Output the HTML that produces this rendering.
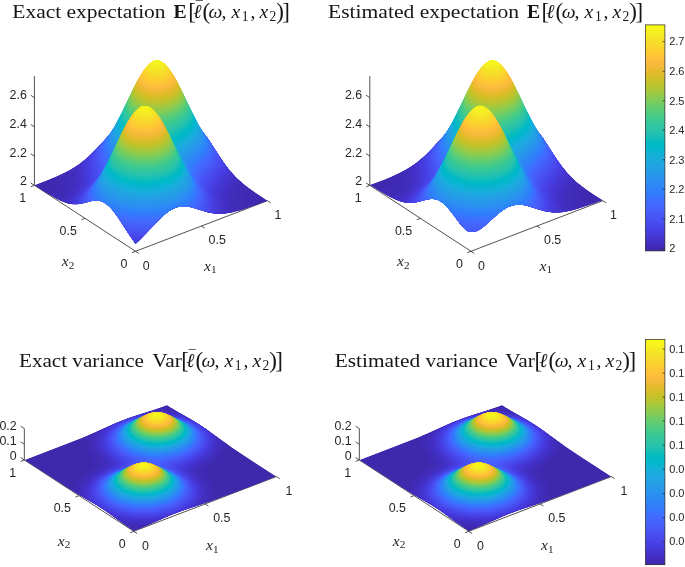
<!DOCTYPE html><html><head><meta charset="utf-8"><title>Expectation and variance surfaces</title><style>html,body{margin:0;padding:0;background:#fff}svg{display:block}</style></head><body><svg width="685" height="567" viewBox="0 0 685 567"><line x1="135.60" y1="251.30" x2="267.46" y2="200.71" stroke="#262626" stroke-width="0.80"/><line x1="135.60" y1="251.30" x2="34.42" y2="185.37" stroke="#262626" stroke-width="0.80"/><line x1="34.42" y1="185.37" x2="34.42" y2="76.17" stroke="#262626" stroke-width="0.80"/><line x1="135.60" y1="251.30" x2="138.87" y2="253.43" stroke="#262626" stroke-width="0.80"/><line x1="135.60" y1="251.30" x2="131.96" y2="252.70" stroke="#262626" stroke-width="0.80"/><line x1="201.53" y1="226.01" x2="204.80" y2="228.14" stroke="#262626" stroke-width="0.80"/><line x1="85.01" y1="218.34" x2="81.37" y2="219.73" stroke="#262626" stroke-width="0.80"/><line x1="267.46" y1="200.71" x2="270.72" y2="202.84" stroke="#262626" stroke-width="0.80"/><line x1="34.42" y1="185.37" x2="30.78" y2="186.77" stroke="#262626" stroke-width="0.80"/><line x1="34.42" y1="185.37" x2="30.74" y2="182.97" stroke="#262626" stroke-width="0.80"/><line x1="34.42" y1="156.14" x2="30.74" y2="153.73" stroke="#262626" stroke-width="0.80"/><line x1="34.42" y1="126.90" x2="30.74" y2="124.50" stroke="#262626" stroke-width="0.80"/><line x1="34.42" y1="97.66" x2="30.74" y2="95.26" stroke="#262626" stroke-width="0.80"/><clipPath id="c1"><path transform="scale(.1)" d="M1912 1102l-95-200-25-49-22-42-24-43-21-35-22-33-19-26-15-16-9-10-16-15-12-9-13-8-16-8-8-3-12-2-9-1-12 0-9 2-10 2-8 3-9 4-17 10-12 9-18 17-17 18-19 25-13 18-16 24-16 27-29 51-30 59-32 66-73 153-44 88-20 38-21 38-16 28-18 28-25 37-20 26-105 114-33 33-27 27-33 30-28 24-27 22-33 24-28 18-33 20-33 19-33 17-38 19-39 18-93 39-143 56 72 46 55 35 46 27 38 22 34 17 33 15 30 11 25 8 26 5 25 4 25 0 25-1 22-3 25-5 67-17 26-6 21-3 21-2 21 1 21 4 21 7 21 11 13 8 12 9 13 11 13 11 25 28 25 31 21 29 26 38 80 124 29 45 27 38 28 39 37-34 34-35 39-40 104-112 33-34 28-26 33-27 16-13 17-11 16-10 17-9 16-7 17-6 11-4 16-4 11-1 16-2 28-1 27 2 28 5 27 7 33 9 88 28 33 9 28 6 33 5 33 3 33 0 33-1 32-4 39-6 44-11 44-12 49-15 61-21 71-26 94-35-85-56-59-40-50-37-43-32-37-32-34-31-34-35-34-38-33-42-38-53-38-56-68-105-25-39-21-30-34-46-17-26-26-42-25-45-28-54z"/></clipPath><g clip-path="url(#c1)"><g transform="scale(.1)" fill-rule="evenodd"><path fill="#3e27ab" d="M1356 2440l33-31 38-38 39-40 104-112 33-34 28-26 33-27 33-24 33-19 16-7 17-6 27-8 27-3 28-1 27 2 28 5 27 7 121 37 33 9 28 6 33 5 33 3 33 0 33-1 32-4 39-6 44-11 44-12 49-15 61-21 165-61-127-85-46-32-38-28-34-27-34-29-29-27-25-26-26-27-25-30-25-32-26-35-46-68-93-144-25-36-21-29-25-31-26-26-25-22-21-14-21-11-21-7-21-3-26-1-21 2-21 4-80 20-29 6-30 4-25 1-33-5-39-8-38-11-104-32-28-7-27-5-33-3-28 0-27 4-28 7-27 11-33 18-33 23-33 27-28 25-33 33-120 130-61 61-33 30-33 29-33 26-33 23-33 22-38 23-44 24-44 21-50 22-60 26-165 65 127 81 46 27 38 22 34 17 33 15 30 11 25 8 26 5 25 4 25 0 25-1 22-3 25-5 93-23 21-3 21-2 21 1 21 4 21 7 21 11 25 17 26 22 25 28 25 31 21 29 26 38 109 169 30 43z"/><path fill="#3f29b1" d="M1356 2440l33-31 38-38 39-40 104-112 33-34 28-26 33-27 33-24 33-19 16-7 17-6 27-8 27-3 28-1 27 2 28 5 27 7 121 37 33 9 28 6 33 5 33 3 33 0 33-1 32-4 39-6 44-11 44-12 49-15 61-21 165-61-127-85-46-32-38-28-34-27-34-29-29-27-25-26-26-27-25-30-25-32-26-35-46-68-93-144-25-36-21-29-25-31-26-26-25-22-21-14-21-11-21-7-21-3-26-1-21 2-21 4-80 20-29 6-30 4-25 1-33-5-39-8-38-11-104-32-28-7-27-5-33-3-28 0-27 4-28 7-27 11-33 18-33 23-33 27-28 25-33 33-120 130-61 61-33 30-33 29-33 26-33 23-33 22-38 23-44 24-44 21-50 22-60 26-165 65 127 81 46 27 38 22 34 17 33 15 30 11 25 8 26 5 25 4 25 0 25-1 22-3 25-5 93-23 21-3 21-2 21 1 21 4 21 7 21 11 25 17 26 22 25 28 25 31 21 29 26 38 109 169 30 43z"/><path fill="#402bb7" d="M1356 2440l33-31 38-38 39-40 104-112 33-34 28-26 33-27 33-24 33-19 16-7 17-6 27-8 27-3 28-1 33 3 27 5 28 7 110 34 44 12 49 9 28 3 22 1 27 0 28-1 27-3 27-4 33-7 33-8 72-21-2-41 0-23 1-23 5-24 7-20 10-21 12-22 24-39-56-43-46-39-42-41-38-42-38-47-42-58-38-56-89-138-25-36-21-29-30-36-25-25-25-21-26-16-21-9-21-5-21-3-21 0-21 3-21 4-72 18-29 7-30 4-29 1-33-5-39-8-38-11-104-32-28-7-27-5-33-3-28 0-16 2-17 3-27 8-28 12-33 18-33 24-33 28-27 25-33 34-110 118-49 51-50 46-49 42-28 21-27 19-55 35-61 32-72 34 3 41 0 23-1 22-4 20-8 24-10 22-12 22-24 40 56 29 25 12 25 10 21 8 21 6 21 5 21 3 17 1 21 0 38-3 34-7 84-21 21-4 22-2 25 1 21 4 21 7 21 11 25 17 26 22 25 28 25 31 21 29 26 38 109 169 30 43z"/><path fill="#412dbc" d="M1356 2440l33-31 38-38 39-40 104-112 33-34 28-26 33-27 33-24 33-19 16-7 17-6 27-8 27-3 28-1 33 3 27 5 28 7 104 33 44 12 44 8 39 5 44 1 44-2 43-6 49-11-8-97 1-26 4-24 9-25 13-27 58-93-42-36-37-38-38-42-34-42-30-40-29-42-122-188-26-36-21-27-25-29-21-20-25-20-22-13-21-9-21-5-21-3-21 0-21 3-21 4-72 18-29 7-30 4-29 1-33-5-39-8-38-11-104-32-28-7-27-5-33-3-28 0-16 2-17 3-27 8-28 12-33 18-33 24-33 28-27 25-33 34-104 112-44 46-44 42-44 39-39 31-44 31-44 27-48 27 8 98-1 26-4 24-9 25-13 26-58 94 37 15 34 12 34 7 33 4 30 0 34-4 33-7 80-20 21-4 22-2 25 1 21 4 21 7 21 11 25 17 26 22 25 28 25 31 21 29 26 38 109 169 30 43z"/><path fill="#422fc2" d="M1356 2440l33-31 38-38 39-40 104-112 33-34 28-26 33-27 33-24 33-19 16-7 17-6 22-6 27-5 22-1 27 1 28 4 33 7 33 10 104 32 39 9 33 6 38 4 39 1 44-2 42-6-2-39-7-59-2-24 1-23 4-25 8-24 13-26 14-23 38-56 21-37-32-32-34-36-29-35-30-38-25-35-30-44-109-169-26-36-21-28-25-29-25-25-25-20-22-13-21-9-21-5-21-3-21 0-21 3-21 4-72 18-29 7-30 4-29 1-33-5-39-8-38-11-104-32-28-7-27-5-33-3-28 0-16 2-17 3-27 8-28 12-27 15-28 18-33 27-27 25-33 32-137 147-39 39-33 32-38 33-39 31-44 31-42 26 2 39 7 60 1 24 0 26-4 22-8 23-13 26-14 23-38 57-22 37 33 11 34 7 29 4 30 0 25-2 29-5 80-20 26-6 25-3 21-1 21 2 17 4 21 8 17 9 25 17 26 22 25 28 25 31 21 29 26 38 109 169 30 43z"/><path fill="#4331c7" d="M1356 2440l33-31 38-38 39-40 104-112 33-34 28-26 33-27 33-24 33-19 16-7 17-6 22-6 27-5 27-1 28 2 27 4 33 8 127 38 33 9 27 6 39 5 33 2 33 0 38-3 1-22-1-26-10-72-2-24 1-22 4-20 8-23 10-22 14-23 47-68 12-21 13-25-29-32-26-29-25-31-29-40-47-67-101-157-25-36-21-28-26-31-25-25-25-21-26-16-21-9-21-5-21-3-21 0-21 3-21 4-72 18-29 7-30 4-29 1-33-5-39-8-38-11-104-32-28-7-27-5-33-3-28 0-27 4-28 7-27 11-33 18-28 18-33 27-27 25-33 32-132 142-60 60-39 35-33 28-33 25-39 27 0 22 1 25 10 73 1 23 0 23-5 23-7 21-13 25-16 25-42 62-15 25-11 21 30 8 25 4 26 1 29-1 21-2 26-5 97-24 25-4 21-1 21 2 21 4 21 8 17 9 25 17 26 22 25 28 25 31 21 29 26 38 109 169 30 43z"/><path fill="#4433cd" d="M1356 2440l33-31 38-38 39-40 104-112 33-34 28-26 33-27 33-24 33-19 27-11 28-8 27-5 27-1 33 2 28 5 27 7 121 37 55 13 33 6 28 3 33 1 31 0 2-27-1-26-3-25-9-56-2-24 1-22 4-22 7-21 11-21 15-23 37-53 15-24 15-25 12-26-24-27-26-30-46-62-42-63-97-150-25-36-21-28-26-31-25-25-25-21-26-16-21-9-21-5-21-3-21 0-21 3-21 4-72 18-29 7-30 4-29 1-33-5-39-8-38-11-104-32-28-7-27-5-33-3-28 0-27 4-28 7-27 11-33 18-33 23-33 27-28 25-33 33-120 130-55 56-33 31-28 24-33 26-31 24-2 27 1 25 3 26 8 55 2 24 0 23-4 22-7 20-12 23-14 22-37 52-16 24-14 25-12 26 24 5 25 2 21 0 26-1 42-8 93-23 21-3 21-2 25 2 21 4 21 8 21 11 21 15 26 22 25 28 25 31 21 29 26 38 109 169 30 43z"/><path fill="#4535d2" d="M1356 2440l33-31 38-38 39-40 104-112 33-34 28-26 33-27 33-24 33-19 27-11 28-8 27-5 27-1 33 2 28 5 33 8 110 34 49 13 28 6 27 3 28 3 28 0 3-27-1-34-3-25-10-62-2-21 1-20 3-21 7-20 10-21 15-23 41-58 18-28 17-29 11-27-39-47-42-57-42-63-89-138-25-36-21-29-30-36-25-25-25-21-26-16-21-9-21-5-21-3-21 0-21 3-21 4-72 18-29 7-30 4-29 1-33-5-39-8-38-11-104-32-28-7-27-5-33-3-28 0-27 4-28 7-27 11-33 18-33 23-33 27-28 25-33 33-115 124-55 56-55 51-51 41-2 28 0 34 3 25 11 62 2 21-1 19-3 22-7 20-10 21-15 23-41 58-19 28-16 29-11 27 22 3 21 0 21 0 21-3 38-7 84-21 26-4 21-2 25 2 21 4 21 8 21 11 21 15 26 22 25 28 25 31 21 29 26 38 109 169 30 43z"/><path fill="#4538d7" d="M1356 2440l33-31 38-38 39-40 104-112 33-34 28-26 33-27 33-24 33-19 27-11 28-8 16-3 16-2 28-1 33 3 27 5 28 7 110 34 44 12 49 9 46 4 3-28 1-26-4-38-11-61-2-21 0-26 4-24 9-24 13-23 17-24 37-52 24-36 13-25 10-28-35-44-38-53-33-50-89-138-25-36-21-29-30-36-25-25-25-21-26-16-21-9-21-5-21-3-21 0-21 3-21 4-72 18-29 7-30 4-29 1-39-6-38-8-39-11-93-30-27-7-28-5-33-4-27 0-28 3-27 6-17 6-16 7-33 18-33 23-33 27-28 25-33 33-115 124-44 45-49 48-46 38-4 28 0 26 3 38 11 61 3 21 0 27-4 23-10 25-13 23-16 24-38 51-23 36-13 26-10 27 34 1 38-3 34-7 84-21 21-4 22-2 25 1 21 4 25 9 21 11 21 15 26 22 25 28 25 31 21 29 26 38 109 169 30 43z"/><path fill="#463adb" d="M1356 2440l33-31 38-38 39-40 104-112 28-28 27-27 33-28 33-24 33-20 28-12 27-9 17-4 16-2 33-1 33 3 27 5 28 7 104 33 44 12 39 8 42 5 3-17 2-15 1-32-4-37-11-61-3-21-1-26 5-24 3-11 6-13 13-24 17-23 38-51 23-36 16-30 6-16 5-16-32-43-30-42-33-51-85-131-25-36-21-29-30-36-25-25-25-21-26-16-21-9-21-5-21-3-21 0-21 3-21 4-72 18-29 7-30 4-29 1-39-6-38-8-39-11-93-30-27-7-28-5-33-4-27 0-28 3-27 6-17 6-16 7-33 18-33 23-33 27-28 25-33 33-109 118-44 46-39 37-42 38-4 17-2 15 0 32 4 37 11 61 3 21 0 26-4 24-3 11-6 13-14 24-16 23-38 51-24 36-15 30-6 16-5 16 32 0 30-4 33-7 80-20 21-4 22-2 25 1 25 5 25 10 21 12 22 15 25 24 25 28 25 32 43 61 109 169 30 43z"/><path fill="#463ddf" d="M1360 2436l34-32 39-38 137-147 28-28 27-27 33-28 33-24 33-20 28-12 27-9 17-4 16-2 33-1 33 3 27 5 28 7 99 31 38 11 39 9 35 5 4-18 3-15 1-18 0-18-4-37-12-62-4-24 0-24 3-21 8-23 13-24 17-24 43-58 24-35 9-17 8-18 5-15 5-18-27-37-25-36-114-176-25-36-21-29-30-36-25-25-25-21-26-16-21-9-21-5-21-3-21 0-21 3-21 4-72 18-29 7-30 4-26 1-36-5-39-8-38-11-99-31-27-7-28-5-33-4-27 0-28 3-27 6-17 6-16 7-33 18-33 23-33 27-28 25-33 33-109 118-39 40-33 33-35 32-4 18-3 16-1 18 0 17 4 38 12 61 4 25 0 25-4 24-8 20-13 23-16 23-44 58-23 36-9 17-8 17-6 16-5 17 27-1 30-4 29-7 76-19 21-4 22-2 25 1 25 5 25 10 21 12 22 15 21 19 21 23 25 31 21 28 25 37 89 138 42 63 35 47z"/><path fill="#473fe3" d="M1367 2420l10 1 34-33 49-51 116-124 33-33 27-26 33-27 28-19 27-16 28-12 27-9 17-4 16-2 33-1 33 3 27 5 28 7 132 40 33 8 29 6 6-20 3-18 2-19 0-17-2-17-2-21-13-61-4-25-1-25 3-23 4-11 5-13 14-24 17-24 44-57 23-36 11-22 8-17 5-17 5-17-53-75-105-163-42-59-30-36-25-25-25-21-26-16-21-9-21-5-21-3-21 0-21 3-21 4-97 24-25 4-22 2-37-2-45-10-44-12-99-31-27-7-28-5-27-4-28 0-27 2-28 6-16 5-17 7-33 17-33 21-38 32-28 25-27 27-137 147-33 34-35 33-6 20-3 18-2 19 0 17 1 17 3 21 13 61 4 26 1 24-4 23-3 11-6 14-13 23-17 24-44 57-24 36-9 17-8 18-6 18-5 20 23-2 25-4 101-25 21-4 22-2 25 1 21 4 25 9 21 11 21 15 26 22 25 28 25 31 38 54 106 163 51 74z"/><path fill="#4742e6" d="M1383 2405l10 1 18-18 49-51 116-124 33-33 27-26 33-27 28-19 27-16 28-12 27-9 17-4 16-2 33-1 33 3 22 4 27 7 127 38 27 8 30 6 7-20 4-19 2-18 0-22-1-21-4-21-13-62-4-23-1-25 3-21 9-23 12-23 17-24 46-58 13-19 13-21 11-21 7-18 6-19 4-20-44-64-101-157-25-36-21-28-30-35-25-25-25-20-26-15-21-8-21-5-21-2-21 1-17 2-21 4-93 23-39 6-65-4-18-4-50-13-109-34-28-7-27-5-28-3-27 0-28 3-22 5-16 5-17 7-33 17-33 21-38 32-28 25-33 33-126 136-58 58-6 19-4 19-2 19 0 22 1 21 3 20 14 62 4 23 1 26-3 21-9 23-12 22-17 24-49 62-23 36-11 21-8 18-5 19-5 20 24-3 21-4 97-24 21-3 17-2 25 1 21 4 21 7 21 11 25 17 26 22 25 28 25 31 42 60 93 144 48 70z"/><path fill="#4745e9" d="M1397 2391l11 0 3-3 49-51 116-124 33-33 27-26 33-27 28-19 27-16 28-12 27-9 17-4 16-2 27-1 33 2 28 5 27 7 116 35 53 14 7-19 5-20 3-19 1-22-1-21-3-21-16-70-4-19-1-25 2-14 2-11 9-23 14-24 13-18 52-65 13-20 12-20 11-22 7-18 6-20 3-20-41-61-89-138-25-36-25-34-30-35-25-25-25-20-26-15-21-8-21-5-21-2-21 1-17 2-21 4-80 20-41 8-50-4-41-2-53-14-109-34-28-7-27-5-28-3-27 0-28 3-22 5-16 5-17 7-33 17-33 21-33 27-33 30-33 33-115 124-54 55-7 20-5 20-2 18-1 22 1 22 3 20 16 70 3 19 2 26-2 13-2 11-9 23-14 24-14 20-51 63-13 20-11 18-11 22-8 20-6 20-3 20 41-8 84-21 21-4 22-2 25 1 21 4 21 7 21 11 21 14 25 21 26 27 25 31 21 28 25 37 89 138 40 60 41 4z"/><path fill="#4848ec" d="M1411 2377l11 0 44-46 110-118 33-33 27-26 33-27 28-19 27-16 28-12 27-9 17-4 16-2 27-1 33 2 28 5 33 8 104 33 45 12 8-21 6-20 3-23 1-22-1-21-3-21-16-66-5-26-1-23 3-22 8-22 15-25 18-25 49-62 14-19 12-21 11-21 8-22 5-21 3-21-34-52-85-131-25-36-25-34-30-35-25-25-25-20-26-15-21-8-21-5-21-2-21 1-17 2-21 4-76 19-34 7-60-5-56-3-44-12-104-32-28-7-27-5-28-3-22 0-27 2-22 4-17 5-16 6-33 16-33 22-39 30-33 30-33 33-109 118-45 47-9 20-5 21-4 22 0 22 1 22 3 20 16 67 4 25 2 13-1 14-1 13-3 10-8 21-13 22-17 23-51 63-13 20-12 20-11 22-8 22-5 20-3 21 34-7 76-19 21-4 21-2 26 0 21 3 21 6 21 10 25 17 25 21 26 27 25 31 21 28 25 37 85 131 34 51 50 5z"/><path fill="#484bee" d="M1425 2363l11 0 140-150 33-33 33-30 27-23 28-19 27-16 28-12 27-9 28-5 27-2 33 2 27 4 33 8 105 32 36 10 3-5 8-21 6-21 4-21 0-23-1-21-4-25-16-64-5-26-1-23 3-21 4-13 5-10 13-23 18-24 52-64 13-19 15-25 10-22 8-21 4-22 2-21-108-168-29-42-26-34-25-29-25-25-25-20-26-15-17-7-16-4-17-3-21-1-22 1-25 5-76 19-27 6-68-6-73-3-36-10-93-30-27-7-28-5-27-4-28 0-27 2-22 4-17 5-16 6-33 16-33 22-39 30-38 35-39 39-130 140-2 6-9 20-6 22-3 21-1 22 2 21 4 25 16 64 5 26 1 23-3 21-4 13-5 10-13 23-18 24-52 64-13 19-13 21-11 22-8 22-5 22-3 24 28-6 72-18 21-4 21-2 21 0 21 2 22 6 21 9 25 16 25 20 25 26 26 30 25 34 25 37 108 167 62 6z"/><path fill="#484df1" d="M1438 2349l11 0 127-136 33-33 33-30 27-23 28-19 27-16 28-12 22-8 27-5 27-3 28 1 33 4 33 7 33 10 100 31 6-12 8-20 6-22 3-21 1-22-1-21-5-25-17-65-5-26-1-24 4-21 7-21 13-22 19-24 53-66 17-23 12-21 10-22 9-25 4-23 1-22-102-158-30-42-25-33-25-29-25-24-26-19-25-14-17-6-21-5-21-2-21 1-17 2-21 4-89 22-42-5-38-3-40-2-44-1-121-37-33-8-28-5-27-2-22 0-22 2-22 4-17 5-16 6-33 16-33 22-39 30-38 35-44 45-111 120-6 12-8 20-6 22-3 20-1 23 1 21 4 24 17 66 5 26 1 24-3 20-8 21-13 23-17 23-54 66-17 24-12 20-10 23-9 25-4 22-1 22 89-22 21-4 21-2 21 0 21 2 22 6 21 9 21 13 25 20 25 25 26 29 25 34 25 36 102 158 72 7 39 2z"/><path fill="#4850f3" d="M1450 2336l12 0 114-123 33-33 33-30 27-23 28-19 27-16 22-10 28-10 16-4 17-2 27-2 33 2 27 4 33 8 115 35 11-22 8-20 5-20 3-23 0-21-2-21-4-21-17-67-5-20-1-13-1-13 2-13 2-10 7-20 14-24 18-23 54-66 17-24 12-20 12-26 8-24 4-25 0-23-92-143-30-42-25-33-25-29-25-24-26-19-25-14-17-6-21-5-17-2-21 0-21 3-21 4-79 20-45-6-46-4-50-2-46 0-114-36-33-7-27-5-22-1-22 0-22 2-22 4-17 5-16 6-33 16-33 22-39 30-33 30-33 33-114 123-11 22-8 20-5 20-3 23 0 22 2 21 3 20 18 67 5 21 1 12 0 13-1 14-2 9-7 20-14 24-17 23-55 66-17 24-12 20-12 26-8 24-4 26 0 22 79-20 21-4 21-2 21 0 21 2 22 6 16 7 26 15 25 20 25 25 26 29 25 34 25 36 92 142 45 6 39 3 47 3z"/><path fill="#4853f5" d="M1463 2322l11 0 107-115 33-32 33-30 28-22 22-15 27-16 22-10 28-10 27-5 27-3 33 1 33 5 33 8 102 31 15-27 8-21 5-19 3-23 0-22-2-21-4-20-19-67-4-20-2-13 0-13 0-9 3-14 7-20 13-23 19-24 56-66 16-24 15-24 11-27 7-24 4-25-1-24-86-134-26-36-25-33-25-29-25-24-26-19-25-14-17-6-21-5-17-2-21 0-21 3-21 4-69 18-55-8-47-4-51-2-57 0-101-32-33-7-27-5-22-1-22 0-22 2-22 4-17 5-16 6-33 16-33 22-39 30-33 30-33 33-101 110-15 27-8 21-5 19-3 23 0 22 2 21 4 20 19 67 4 20 2 13 0 13-1 9-2 14-7 20-15 24-17 23-56 66-16 24-15 24-12 27-7 24-3 25 0 24 74-19 21-4 22-2 21 1 16 2 22 6 16 7 21 12 26 19 25 24 25 29 26 33 25 36 86 133 47 7 48 4 48 3z"/><path fill="#4756f6" d="M1475 2309l12-1 94-101 33-32 33-30 28-22 22-15 27-16 22-10 28-10 27-5 27-3 33 1 28 4 33 7 33 10 62 19 9-15 9-18 8-21 5-20 3-22 0-22-3-21-3-20-20-67-4-20-2-12-1-13 1-10 2-13 8-21 13-22 19-25 56-66 20-27 12-20 11-27 7-24 4-26-1-26 0-3-73-113-30-42-29-38-25-28-26-23-21-16-25-14-17-6-17-4-17-3-21 0-21 2-21 4-64 16-56-8-60-5-57-3-58 1-89-28-33-7-27-5-22-1-22 0-22 2-22 4-17 5-16 6-33 16-33 22-39 30-27 25-33 32-95 102-11 17-8 16-7 21-5 21-3 21 0 22 2 21 4 20 19 67 5 20 2 13 0 12 0 10-3 13-7 21-7 12-8 12-17 23-56 66-17 23-15 25-12 26-7 27-3 28 1 24 64-16 21-4 22-2 21 1 16 2 17 4 17 7 25 14 22 15 25 24 25 28 25 32 26 36 29 44 51 80 49 7 58 6 57 3z"/><path fill="#4758f8" d="M1487 2295l12 0 55-59 38-40 33-32 28-24 22-17 22-15 22-13 22-11 27-10 28-7 27-3 27 0 28 3 33 7 38 10 55 17 13-20 11-21 8-23 4-19 2-19 0-21-2-21-4-21-20-66-5-20-2-13 0-12 0-11 3-12 7-21 13-22 20-25 38-43 21-26 17-24 12-20 11-26 8-24 3-24 0-26-2-12-38-59-42-63-38-51-25-29-25-24-26-19-25-14-13-5-16-4-13-3-17-1-21 1-25 3-26 6-37 10-58-9-63-7-63-2-70 1-76-24-27-6-22-4-28-3-22 0-22 1-22 4-16 4-17 6-16 7-22 11-33 22-39 30-27 25-33 32-82 89-14 19-10 22-8 23-5 19-1 18 0 22 2 21 4 20 20 67 5 20 2 13 0 12 0 10-3 13-7 21-14 22-16 21-44 51-18 22-17 23-14 25-12 27-4 14-3 15-2 27 3 25 37-10 26-6 25-3 21-1 21 2 21 5 21 9 21 12 22 15 21 19 21 23 21 25 21 29 25 36 63 97 58 9 61 6 56 3z"/><path fill="#475bf9" d="M1499 2282l13-1 47-51 33-34 33-32 28-24 22-17 22-15 22-13 22-11 27-10 28-7 27-3 27 0 28 3 33 7 33 8 48 15 14-20 14-26 7-20 5-19 2-23 0-21-3-21-4-20-20-66-5-21-2-12-1-13 1-10 2-13 8-20 13-23 20-25 38-42 21-26 17-23 12-21 12-26 8-24 3-25 0-25-3-18-62-95-26-36-21-27-29-33-26-23-25-19-25-13-17-5-17-4-17-2-17 0-17 1-21 4-49 12-69-11-71-7-65-2-70 2-42-13-33-10-27-5-28-4-22-2-16 1-22 2-17 3-16 4-17 6-16 7-22 11-33 22-39 30-27 25-28 27-75 80-16 24-12 22-7 20-5 19-2 23 0 22 3 20 4 21 20 65 5 21 3 24-3 21-3 13-5 10-13 23-16 21-45 50-18 23-20 27-14 25-11 28-4 15-2 13-1 27 3 26 37-9 25-5 21-2 21 0 21 2 22 6 21 9 16 10 17 12 21 18 21 22 22 25 21 28 21 30 61 94 67 11 64 6 66 3z"/><path fill="#465efb" d="M1511 2269l13-1 41-44 33-33 33-32 27-23 22-17 17-11 22-13 16-8 28-11 27-8 27-3 28-1 27 2 33 6 33 9 41 12 19-25 7-12 8-18 7-18 5-23 1-18 0-21-3-21-4-20-21-65-5-21-2-13-1-12 1-10 2-13 7-21 14-23 21-25 56-63 17-23 15-24 12-26 7-24 4-22 0-26-2-13-3-14-57-86-21-30-21-27-29-33-26-23-25-19-25-13-13-4-17-4-17-3-16 0-17 1-17 2-48 11-37-7-34-5-40-4-38-3-74-3-35 1-39 2-41-13-27-7-28-5-22-3-22-2-16 1-22 2-17 3-16 4-17 6-16 7-22 11-33 22-39 30-22 20-27 26-69 73-18 25-9 16-7 13-6 19-4 20-2 20 0 22 3 21 5 24 20 60 5 22 3 24-1 11-1 10-4 13-4 10-15 23-18 24-42 47-19 22-19 27-15 25-6 15-6 15-3 14-3 14-1 14 1 17 1 13 4 14 31-8 25-5 22-2 21 1 21 3 17 5 21 9 16 10 17 12 21 18 17 18 21 24 21 27 22 29 56 86 67 12 72 8 69 2 43 0z"/><path fill="#4561fc" d="M1523 2255l14-1 39-41 27-28 28-26 27-23 22-17 17-11 22-13 16-8 22-9 28-8 27-5 27-1 28 2 27 4 33 8 40 11 12-14 11-15 9-17 6-13 7-19 4-19 3-23-1-21-3-21-5-20-21-66-6-24-2-13 0-11 3-20 8-20 14-23 15-19 61-69 20-26 13-21 12-25 8-24 3-24 0-25-2-18-4-15-52-77-38-51-29-33-26-23-25-19-25-13-25-7-26-4-17 0-21 2-21 4-26 6-38-8-38-6-40-5-41-3-40-2-41-1-40 1-41 3-39-12-27-6-28-5-22-2-33 0-16 2-17 3-16 4-17 6-33 15-33 21-38 29-22 20-28 26-61 64-12 14-11 16-9 16-7 13-6 19-5 20-2 22 1 22 3 20 4 21 21 62 6 23 3 23-1 11-1 11-3 9-5 14-13 20-17 23-46 50-21 26-20 27-14 25-7 18-5 14-3 15-2 14 0 17 1 13 2 12 4 15 26-6 26-4 21-2 17 1 21 3 17 5 21 9 16 10 17 12 17 14 17 17 21 24 21 26 21 29 51 77 29 6 39 7 43 6 37 3 40 2 42 1 43-1z"/><path fill="#4564fd" d="M1535 2242l14-1 54-56 44-40 22-18 22-15 22-14 17-9 22-9 27-9 28-5 27-2 27 1 28 4 27 6 38 10 13-14 15-20 9-16 8-17 7-19 4-20 1-20-1-22-3-20-5-20-21-66-6-23-2-12-1-12 1-11 2-10 8-20 15-23 15-19 45-49 19-22 17-23 13-20 12-26 8-23 4-26 0-22-3-21-6-20-42-62-34-46-29-34-25-24-26-19-12-7-17-9-25-7-13-3-17-1-17 0-17 2-37 7-39-8-47-8-51-6-48-3-40-2-37 1-37 1-42 3-27-8-27-6-28-5-22-2-33 0-16 2-17 3-16 4-17 6-16 7-22 11-33 22-39 30-22 20-27 26-54 56-11 15-8 12-9 17-7 13-6 19-4 20-1 20 0 21 4 21 4 20 21 61 6 25 3 21 0 11-1 11-7 20-6 12-8 12-18 22-48 54-22 25-19 28-14 25-6 16-5 16-3 15-2 16 0 13 2 17 4 16 4 12 25-6 21-3 21-1 17 1 21 4 17 5 17 8 16 10 17 12 17 14 17 17 21 24 38 49 46 68 37 9 40 6 42 6 40 4 38 2 45 1 42-1z"/><path fill="#4366fd" d="M1547 2229l15-2 47-47 44-40 38-28 22-14 17-9 22-9 27-9 22-4 27-3 22 0 28 3 27 5 37 10 14-16 15-19 13-20 8-17 6-19 4-20 2-18-1-22-2-20-5-20-24-70-5-21-2-13-1-12 1-10 2-11 3-11 5-10 15-24 16-19 60-65 17-22 16-24 13-25 8-24 4-25 0-21-4-25-8-25-36-53-30-40-29-34-25-24-26-19-12-7-17-9-25-7-13-3-17-1-30 1-31 6-40-9-49-9-43-5-50-5-42-1-49-1-47 2-44 4-41-10-39-6-22-2-16 1-17 1-16 3-17 4-16 5-33 14-33 20-39 29-44 39-60 61-11 13-10 16-8 13-8 17-6 18-5 20-1 23 1 21 2 17 5 20 24 70 5 19 3 21 0 11-2 11-7 20-6 11-7 12-18 22-49 53-22 26-20 28-14 27-6 15-5 16-3 14-1 18 0 15 2 15 4 16 6 17 19-4 21-3 21-1 17 2 17 3 17 5 17 8 16 10 17 12 17 14 17 17 17 19 17 20 21 29 40 58 46 11 39 7 43 5 45 4 47 3 44 0 42-1z"/><path fill="#4269fe" d="M1559 2215l16-2 45-44 22-19 22-18 22-17 16-10 22-13 17-8 22-8 22-6 22-4 21-2 22 0 22 2 28 5 28 7 20-20 15-19 15-24 6-13 5-14 4-13 3-15 1-26-2-25-6-25-7-23-17-49-6-21-3-12 0-12 0-11 2-10 4-13 5-10 13-20 20-23 42-45 22-25 20-27 14-25 12-26 4-15 2-15 1-16 0-13-2-12-3-16-10-26-18-26-33-46-17-21-17-19-25-24-26-19-21-12-25-9-21-5-21-1-21 1-26 4-55-13-47-8-52-7-52-4-48-1-48 1-40 2-45 4-28-6-22-4-22-3-22-1-33 3-28 6-27 9-33 16-28 18-33 25-38 34-56 56-21 26-15 24-9 23-5 23-2 22 0 22 4 21 5 20 23 67 6 21 2 13 1 12-2 19-3 10-4 11-7 12-8 12-19 22-46 49-19 22-20 27-14 25-12 26-4 15-2 15-2 16 1 13 1 12 4 16 10 26 22-3 21-2 17 1 16 2 17 4 17 7 17 9 17 11 13 9 16 15 30 32 34 43 34 49 41 10 45 9 50 7 46 4 51 3 44 0 42-2z"/><path fill="#406cfe" d="M1572 2202l17-3 42-40 33-27 22-17 16-10 33-18 17-7 22-8 22-5 21-2 22-1 22 1 28 4 26 5 25-24 18-23 15-24 6-14 5-14 5-25 1-27-2-25-6-24-8-23-17-46-6-24-3-22 0-11 2-11 7-19 6-11 8-12 16-19 50-53 22-25 17-23 15-25 6-13 6-15 4-14 2-15 2-13-1-14-2-16-2-12-7-19-8-16-40-56-17-21-17-19-25-24-26-19-21-12-25-9-17-4-21-2-21 1-20 2-50-13-56-10-54-8-59-4-46-1-51 1-47 3-48 5-42-8-22-2-16-1-33 3-28 6-27 9-33 16-28 18-33 25-33 29-54 52-20 25-15 25-9 22-6 21-2 23 0 22 3 20 6 24 23 66 7 21 2 13 1 12 0 11-2 10-7 20-6 11-9 12-18 22-47 49-19 22-20 27-15 24-6 13-6 15-4 15-3 14-1 14 0 13 2 16 3 12 5 16 9 19 20-2 21-1 17 2 17 3 17 5 17 8 16 10 13 9 25 21 30 32 25 31 32 45 36 10 52 11 49 7 54 6 48 2 53 1 49-2z"/><path fill="#3e6fff" d="M1585 2188l18-3 44-40 39-30 22-14 16-9 33-14 17-6 16-4 17-2 16-2 16 0 22 1 39 6 15-12 14-14 13-14 11-16 15-24 9-23 3-15 3-14 1-26-3-25-6-24-8-23-17-46-7-24-3-21 0-11 2-11 3-10 5-10 6-12 8-12 17-19 48-50 19-22 21-26 17-29 11-27 4-14 2-15 1-17-1-13-2-12-4-16-7-19-10-18-34-46-16-20-17-18-26-23-21-16-25-14-25-9-13-2-17-2-17 0-17 1-53-14-56-12-62-8-63-5-54-1-50 2-48 3-50 7-39-6-33-1-33 3-27 6-28 11-27 13-28 18-33 25-64 57-18 18-20 25-15 25-9 23-5 20-2 22 1 22 3 20 6 24 23 63 7 22 3 12 1 12 0 12-2 10-3 11-5 10-6 12-9 12-17 20-47 49-22 25-20 27-15 25-11 27-4 14-2 15-1 17 0 13 2 12 4 16 8 19 9 18 18-2 16 1 17 1 17 4 17 6 13 6 16 10 13 9 21 17 25 26 26 30 29 40 53 15 44 9 49 8 53 6 55 2 61 0 48-2z"/><path fill="#3b72fe" d="M1599 2174l19-3 40-35 33-24 33-20 33-14 28-8 16-3 16-2 33-1 35 4 19-14 17-17 16-18 12-16 14-25 8-22 5-26 1-24-2-25-6-24-8-23-20-52-6-21-2-13-1-11 3-19 3-10 4-11 7-11 9-12 17-20 49-51 20-21 20-27 15-24 7-15 5-15 4-15 2-14 1-14-1-16-3-15-4-14-9-22-12-20-31-40-30-32-25-23-21-15-21-11-25-9-26-4-26 0-33-10-29-8-40-8-36-7-54-6-55-4-55-1-52 1-55 5-55 8-34-4-27 0-17 1-16 3-28 7-27 11-28 15-27 18-28 21-34 30-21 17-19 18-13 15-8 11-9 14-8 15-8 22-5 19-2 22 1 22 4 20 5 20 8 23 19 48 6 21 3 21-2 20-4 13-4 10-13 20-19 22-48 50-22 24-20 26-15 25-7 15-5 15-4 15-2 13-1 15 1 16 2 12 4 16 10 23 12 20 27 0 25 4 25 9 25 14 26 19 25 24 25 29 27 34 10 4 46 13 51 11 56 9 59 5 56 3 51-1 56-3z"/><path fill="#3875fe" d="M1613 2159l22-3 34-29 28-19 33-19 27-11 28-8 27-5 27-1 30 2 23-17 22-20 19-22 14-19 11-22 9-25 3-23 1-27-3-20-6-24-8-23-20-49-6-21-3-13-1-12 1-11 2-10 7-19 13-20 22-26 44-44 26-29 20-27 15-24 6-14 5-15 4-15 2-14 0-13-1-17-2-12-5-16-6-15-10-18-9-14-20-25-21-24-17-16-17-15-17-12-21-12-21-8-21-5-26-2-42-14-47-12-55-11-55-7-58-5-55-1-49 1-42 4-49 6-41 6-29-2-27 2-28 4-27 8-33 14-33 20-28 20-29 24-27 21-21 19-16 19-14 19-11 22-7 20-5 19-1 23 1 21 4 20 6 24 25 64 7 21 3 13 0 11-1 18-3 10-4 10-6 11-8 12-19 22-51 52-22 25-20 27-15 24-6 14-6 15-3 15-2 14-1 13 2 17 2 12 4 16 7 15 5 11 16 23 22 2 21 4 21 8 17 9 21 14 25 21 26 27 26 32 41 14 48 12 52 11 50 7 58 4 54 2 59-2 54-4z"/><path fill="#3579fd" d="M1629 2145l24-5 27-21 28-18 27-14 22-9 22-7 22-4 22-3 27 0 26-17 27-23 23-25 16-23 11-21 8-25 4-23-1-26-3-21-6-24-8-23-19-45-7-23-3-12-1-12 2-19 2-10 5-11 6-10 9-12 16-20 52-52 26-28 20-27 14-25 7-18 5-14 3-15 1-14 0-14-2-16-3-12-5-15-7-15-10-18-10-13-18-22-17-18-17-16-17-14-17-12-17-9-21-8-17-4-16-3-24-9-32-10-30-8-37-9-55-9-60-7-62-3-58 0-40 2-46 5-36 5-46 9-21 0-22 1-27 5-28 9-27 12-28 16-22 15-21 17-22 15-17 13-21 19-16 18-14 20-11 21-9 23-4 20-1 22 1 21 4 20 6 20 26 65 7 22 4 21 0 13-2 10-3 9-4 11-6 11-9 12-20 23-48 48-22 25-21 27-16 26-7 16-5 14-3 15-2 15 0 17 1 13 3 15 6 16 13 25 9 14 11 14 16 2 17 4 17 7 13 6 21 14 21 17 21 20 25 28 30 11 37 12 48 12 54 10 52 6 57 4 52 1 58-2 61-6z"/><path fill="#327cfc" d="M1647 2129l29-7 21-14 22-13 22-11 16-6 28-8 22-4 21-2 5-3 35-23 27-22 23-24 9-12 11-16 10-21 7-24 4-23-1-26-3-20-7-24-8-23-19-45-8-23-3-22 0-11 1-10 3-10 5-11 7-11 9-12 17-20 53-52 19-22 21-26 10-16 7-13 8-16 4-15 3-15 2-13 0-15-2-15-3-16-6-16-7-14-8-15-10-13-12-13-23-24-16-16-17-13-17-11-25-12-25-7-28-12-35-12-46-13-44-10-56-9-64-6-62-2-62 1-43 4-33 4-45 7-47 11-32 3-27 6-28 11-22 10-22 13-21 15-32 20-26 20-20 18-19 22-13 20-10 20-6 20-4 20-1 21 2 21 4 21 6 19 25 61 8 23 3 13 1 11 0 12-2 11-3 9-4 11-7 11-8 11-18 21-50 50-25 27-21 27-15 26-7 16-5 14-3 15-1 18 0 13 2 16 4 16 6 16 8 14 9 14 10 14 15 16 16 4 13 5 17 8 12 8 13 9 17 14 29 28 28 12 24 9 51 15 50 11 56 9 54 6 53 2 60 0 56-4 51-6z"/><path fill="#307efb" d="M1668 2112l39-10 23-13 27-11 22-7 18-4 18-9 23-13 30-21 27-22 22-26 11-15 7-13 10-22 6-23 2-22-1-22-4-20-6-24-9-23-20-46-7-22-4-20 1-10 1-11 4-12 5-10 13-20 21-24 47-46 26-28 21-26 10-17 7-12 7-17 4-15 3-16 1-16 0-13-3-16-4-16-6-15-8-14-9-14-8-11-13-14-15-14-24-21-17-12-12-7-54-26-49-18-29-9-29-8-59-12-60-9-65-4-56-1-65 3-60 7-54 10-85 21-22 7-16 7-47 25-24 13-22 15-22 17-19 18-15 18-14 20-11 21-6 19-4 20-1 20 1 21 4 21 8 23 27 65 7 22 3 21 0 10-1 10-4 12-5 11-13 20-19 22-52 51-23 25-22 28-16 27-7 16-5 16-2 15-2 16 1 13 2 17 5 15 6 16 8 14 11 17 14 17 16 16 10 8 18 8 21 13 17 12 13 12 35 16 34 14 36 12 41 10 52 11 58 8 51 4 55 2 58-2 54-5 50-7z"/><path fill="#2f81fa" d="M1695 2093l44-14 38-15 39-20 32-19 28-21 25-24 18-23 14-25 8-20 5-20 1-22-1-21-4-21-7-23-28-66-8-22-3-19-1-12 1-11 3-9 4-11 7-11 8-12 18-20 54-52 26-28 12-15 11-16 10-16 6-13 6-17 4-16 2-17 0-17-2-17-4-16-6-15-9-16-10-16-14-16-16-16-18-15-19-14-22-14-24-12-20-10-27-12-27-9-54-16-60-13-34-5-32-4-67-5-69 1-64 4-61 9-31 6-32 7-30 9-29 9-28 11-26 11-20 10-24 13-21 14-18 14-17 14-15 15-14 18-11 16-8 17-6 17-4 16-2 16 0 18 2 21 5 20 6 19 27 62 7 22 4 20 1 11-2 11-2 9-4 11-7 11-8 12-19 21-53 51-26 29-13 16-10 14-9 15-7 14-6 17-5 17-2 16 1 17 2 17 4 16 8 19 8 14 9 14 11 13 12 13 14 12 30 23 36 22 40 19 46 17 52 15 43 10 56 9 54 6 59 2 51-1 55-3 52-7 54-10z"/><path fill="#2e84f8" d="M1684 2084l40-12 44-17 40-19 32-19 29-21 25-24 18-22 15-25 8-20 5-22 2-22-2-23-4-21-8-23-27-63-9-23-2-12-2-12 0-10 2-9 2-10 5-11 7-11 9-12 18-20 55-52 23-25 12-15 11-15 10-17 7-13 6-15 4-17 3-16 0-18-2-16-4-16-6-16-8-14-9-14-13-17-15-16-14-12-19-15-16-11-23-13-24-12-26-12-29-11-29-9-28-8-58-13-65-9-30-3-38-2-62-1-61 4-32 4-37 5-59 12-55 16-28 10-27 11-25 12-19 10-22 14-21 15-16 13-17 17-15 17-11 17-9 17-6 15-5 20-2 18 0 17 3 21 5 20 7 19 25 58 9 23 3 13 1 9 1 9-1 11-4 12-4 11-13 20-20 22-54 52-26 28-22 29-10 16-7 13-6 16-5 17-2 16 0 17 2 17 4 16 6 15 7 15 9 14 11 13 21 23 14 12 16 11 34 22 39 20 45 18 50 15 42 10 55 10 52 6 58 3 53 0 56-3 52-6 55-10z"/><path fill="#2e87f7" d="M1735 2056l35-14 30-15 32-18 25-18 23-20 19-21 17-24 10-21 6-19 4-21 0-21-3-21-4-20-7-19-28-64-8-19-3-12-2-12 1-18 2-9 4-11 6-11 8-12 18-19 58-56 27-28 12-15 11-16 10-16 6-13 7-19 4-16 1-18 0-17-3-16-6-20-7-14-11-18-11-14-14-16-17-15-19-15-21-13-23-13-24-12-22-10-25-9-35-12-57-14-60-11-62-6-65-3-32 1-40 2-62 6-35 6-29 6-55 14-29 9-25 9-23 11-25 12-24 13-19 12-14 11-17 15-15 14-11 13-11 15-8 14-7 15-5 16-4 18-1 17 1 19 2 16 5 20 7 19 28 62 6 17 4 12 1 12 0 18-2 10-4 10-6 11-9 12-19 21-59 57-24 26-12 14-11 16-10 16-6 13-7 19-4 16-2 18 1 17 3 16 6 20 7 15 11 17 10 14 12 13 13 12 14 12 33 23 37 20 43 19 42 14 54 14 53 11 60 7 57 4 53 0 56-3 59-7 48-9 51-12z"/><path fill="#2d89f5" d="M1708 2053l37-13 37-16 33-18 31-20 23-19 20-21 17-23 12-21 8-23 4-20 1-22-3-21-4-20-8-23-29-61-8-21-4-22-1-11 1-9 3-10 4-11 6-10 9-13 18-20 60-55 23-25 12-15 12-15 9-16 7-13 7-19 4-14 2-16 0-17-2-16-5-17-7-18-8-15-12-16-12-13-16-16-15-13-19-13-21-14-19-10-25-12-25-10-26-10-28-9-29-7-27-6-37-7-64-8-67-4-66 1-58 5-62 10-58 13-32 9-27 10-27 10-20 10-24 12-21 13-19 13-17 14-16 15-13 13-12 17-8 13-8 16-5 15-4 19-2 18 1 17 3 21 4 16 7 19 28 61 8 21 5 22 1 11-1 9-3 10-4 10-6 11-9 12-21 22-52 50-27 28-13 16-12 15-7 12-9 16-6 15-5 19-2 16 0 16 2 17 4 16 8 19 8 14 9 14 11 13 23 22 31 23 35 21 41 20 46 17 46 13 51 11 48 7 55 6 54 2 60-2 54-4 50-7 53-11z"/><path fill="#2d8cf3" d="M1692 2046l39-13 37-15 35-18 31-19 24-19 21-20 18-22 8-12 7-13 8-23 4-20 1-22-2-21-4-20-8-23-30-63-9-23-3-12-2-12 2-18 2-10 6-12 5-9 10-13 19-20 53-49 27-28 12-14 12-16 16-26 6-16 6-19 2-16 1-16-2-17-4-16-6-15-8-15-9-14-13-16-12-13-18-15-19-15-17-11-23-13-19-10-22-9-28-11-26-9-31-8-58-13-62-9-62-4-33-1-35 1-63 4-61 8-56 12-54 16-50 19-20 10-24 13-19 11-20 14-19 16-13 14-13 15-11 15-9 17-7 18-5 20-1 18 0 18 3 20 6 20 5 15 29 61 9 23 5 22 1 10-2 12-2 10-5 10-6 10-8 12-20 21-57 53-24 25-23 28-9 14-8 15-7 15-5 19-2 16-1 16 2 17 4 16 6 15 7 15 9 14 11 13 22 22 26 21 34 22 34 17 45 18 50 16 49 11 56 9 52 6 56 2 52-1 55-4 50-6 48-9z"/><path fill="#2c8ff1" d="M1678 2039l39-12 38-15 35-17 32-19 25-18 25-23 19-23 8-12 8-15 7-20 5-24 1-22-2-20-5-21-8-21-32-66-8-21-3-12-1-10 0-11 1-9 3-10 5-11 7-11 9-11 21-23 53-48 24-24 24-30 16-25 7-16 5-15 3-15 1-18-1-17-3-16-5-15-7-15-8-14-11-14-11-13-17-15-18-15-16-11-22-14-23-11-22-11-28-11-51-16-55-13-58-9-63-6-65-1-66 3-54 7-61 11-56 16-50 18-26 12-19 10-23 13-22 15-18 16-14 13-13 15-13 18-9 16-6 16-5 19-2 18 0 18 3 21 5 19 7 19 31 65 8 21 4 12 1 9 0 12-1 9-3 10-5 11-7 11-9 11-20 21-51 47-27 27-22 27-10 15-8 13-7 16-5 15-3 15-2 17 1 17 4 17 5 15 7 15 8 14 11 14 21 22 14 12 15 12 34 21 40 20 39 16 44 13 49 12 47 8 52 6 54 3 52 0 56-3 52-6 48-9z"/><path fill="#2b91ef" d="M1665 2030l43-12 44-17 35-17 32-19 24-18 26-24 18-22 8-12 6-12 9-23 4-19 1-23-2-21-5-20-8-23-10-22-23-44-8-21-4-13-1-9 0-10 1-10 3-10 4-9 5-9 10-13 19-20 57-52 27-27 22-26 10-16 7-13 8-17 4-15 3-15 1-16-1-13-3-17-5-15-7-15-8-14-10-14-12-13-16-15-18-15-16-11-18-11-24-13-42-19-50-16-56-14-59-10-62-6-56-2-62 2-62 6-57 10-56 14-52 18-21 9-25 12-24 13-20 13-18 13-18 17-15 16-13 17-9 16-8 18-5 19-3 19 1 21 3 21 5 20 8 19 29 60 10 23 4 14 1 8 0 10-1 10-4 12-5 11-14 19-20 21-57 51-22 23-25 30-9 13-9 15-7 17-5 15-2 15-1 16 0 14 3 16 6 16 6 14 9 15 7 10 21 23 24 21 33 22 34 18 43 18 42 14 48 13 45 8 51 7 54 4 53 0 49-2 53-5 56-9z"/><path fill="#2994ed" d="M1698 2009l35-12 36-16 33-18 26-18 23-19 21-21 14-19 13-24 7-20 3-19 1-22-3-21-5-19-9-23-32-66-8-19-5-20-1-11 1-11 3-10 4-10 7-11 8-11 22-23 57-51 28-27 21-26 11-16 6-13 8-17 4-15 2-16 1-16-2-17-4-15-5-16-8-14-9-14-11-14-12-12-17-16-15-11-21-14-18-11-25-12-27-11-25-10-48-14-53-12-35-6-29-3-62-5-63 0-62 4-62 9-51 11-28 8-30 9-44 18-24 11-19 11-22 14-18 13-17 15-14 14-12 15-10 15-8 17-5 15-5 19-1 18 1 17 4 20 5 20 8 19 28 55 11 24 5 22 1 11-1 11-3 9-4 11-7 11-9 11-20 21-55 49-28 27-13 15-11 15-9 14-9 15-7 17-4 15-3 15 0 17 1 16 4 16 6 16 8 14 9 14 11 13 22 23 30 23 31 18 41 20 40 15 51 15 44 10 48 7 55 5 52 2 59-1 54-5 49-8 46-9z"/><path fill="#2896eb" d="M1679 2003l40-13 37-15 29-15 32-20 24-18 21-21 18-22 12-23 8-21 4-23 0-22-3-20-5-20-9-23-32-63-9-21-4-12-1-11-1-10 2-9 2-10 5-11 14-19 18-19 58-51 28-27 13-15 12-15 10-15 7-13 8-17 4-15 3-15 1-17-1-12-3-17-5-15-7-15-9-14-10-13-12-13-17-16-18-14-17-12-37-20-25-12-22-9-52-16-55-13-57-9-60-5-60-1-60 2-54 6-59 11-50 14-29 9-22 9-26 11-20 10-23 13-22 15-19 16-14 13-12 15-13 18-9 16-6 16-4 19-2 18 1 17 3 21 6 19 8 19 32 63 9 22 3 12 2 10 0 11-1 9-3 10-5 10-7 12-9 11-21 21-55 49-23 21-24 28-11 16-7 12-8 16-5 15-4 15-1 18 1 17 3 16 5 15 7 15 6 11 10 13 21 23 14 12 15 12 30 19 39 20 39 15 44 14 49 12 47 8 53 6 52 3 52-1 55-3 51-7 47-9z"/><path fill="#2698ea" d="M1664 1996l40-13 38-14 36-17 27-17 29-21 21-20 18-22 13-22 8-21 5-24 1-22-3-20-5-20-9-23-11-22-23-44-9-20-3-10-3-12 0-11 1-10 3-10 4-8 5-10 10-12 21-21 57-50 25-24 22-25 9-12 10-16 8-15 5-16 4-14 2-18 0-16-3-14-4-15-7-15-8-15-10-13-11-13-16-16-18-15-16-11-37-21-42-19-50-17-57-14-51-9-59-6-56-2-62 2-62 6-57 10-50 13-46 16-22 8-25 12-24 13-21 14-17 13-18 16-16 16-12 17-10 17-7 17-5 19-2 18 1 18 3 20 5 20 10 23 30 58 11 24 4 14 2 8 0 10-1 11-4 11-5 11-15 20-20 20-53 46-28 27-25 28-16 25-8 15-6 16-3 14-2 18 0 15 2 14 5 16 6 15 6 11 10 14 20 23 24 21 33 22 34 18 37 16 43 14 47 12 46 9 51 7 53 3 53 0 48-2 53-6 48-8z"/><path fill="#259be8" d="M1705 1971l34-13 31-15 27-16 26-17 22-20 16-18 14-19 10-22 6-19 4-20-1-20-3-23-5-17-9-23-35-65-8-19-5-12-2-11 0-9 1-10 3-9 4-10 7-12 9-11 24-23 53-46 29-27 13-14 12-15 10-16 7-12 8-17 5-15 2-15 1-17-1-16-4-16-6-16-9-16-11-15-11-14-13-12-14-12-14-11-19-13-22-12-23-11-44-17-28-9-27-8-59-12-54-7-34-3-31-1-59 1-57 4-54 8-53 11-27 8-27 9-45 18-25 13-18 10-20 13-21 17-16 15-14 17-11 16-10 20-5 15-4 20-1 17 1 12 2 13 3 16 6 15 8 19 33 62 10 22 3 12 2 10 0 11-2 10-4 9-4 9-14 19-21 21-58 50-27 25-13 14-12 15-11 16-7 13-7 16-5 15-3 16 0 16 1 17 4 16 6 15 8 15 9 14 11 13 22 22 15 11 16 12 32 18 36 17 40 15 46 13 51 11 50 7 51 4 55 1 49-1 53-6 49-7 52-12z"/><path fill="#249de6" d="M1678 1969l37-13 32-13 29-15 31-20 24-19 21-20 14-19 12-21 7-18 4-24 1-22-3-21-6-19-9-23-11-22-24-43-10-22-4-12-2-10-1-11 1-9 3-10 5-10 14-20 20-19 62-53 25-23 22-25 12-16 7-12 8-15 6-16 3-15 2-17 0-16-3-14-4-15-7-15-8-14-10-14-12-13-13-13-14-11-16-12-22-13-19-10-42-19-48-17-51-12-59-10-62-6-58-1-54 2-59 6-55 10-53 14-48 17-41 19-19 11-21 14-17 13-18 16-13 14-12 17-10 16-6 17-5 18-2 19 1 21 4 20 6 20 8 18 34 61 10 23 4 12 2 10 0 11-1 9-2 9-5 11-6 8-9 12-20 20-61 52-25 23-25 28-16 25-8 15-6 16-4 14-1 18 0 13 2 17 5 15 7 15 6 11 9 14 21 22 14 12 15 12 30 19 34 18 44 18 44 13 43 10 47 8 53 6 52 2 52-1 47-3 51-7 47-9z"/><path fill="#23a0e5" d="M1660 1962l35-10 39-15 35-17 27-17 24-18 22-20 18-22 12-21 9-23 3-20 1-23-3-22-6-20-10-23-11-21-25-43-10-23-6-19 0-11 1-11 3-10 6-11 14-19 22-21 54-45 29-27 23-25 11-15 8-12 8-15 6-15 4-15 2-16 0-15-2-14-3-14-6-16-8-14-9-14-11-12-13-14-14-12-16-11-35-22-42-20-46-16-53-14-49-9-54-7-57-3-56 1-58 5-56 8-52 12-47 15-22 8-26 12-24 13-23 13-17 13-19 16-16 17-12 15-10 16-8 18-5 19-2 18 0 22 4 20 6 19 10 23 34 61 10 20 4 10 2 12 1 11-1 10-3 11-6 11-6 9-9 11-22 20-57 48-25 23-24 27-18 25-8 15-6 16-4 14-2 16-1 15 2 15 4 14 6 15 6 11 9 14 20 23 24 21 28 20 33 18 38 16 42 14 47 13 46 8 52 7 49 3 47 0 57-3 44-5 48-9z"/><path fill="#22a2e4" d="M1646 1955l41-12 38-15 31-14 32-19 25-18 22-19 19-23 13-22 8-20 5-24 0-22-3-21-6-19-9-23-11-22-27-46-11-22-4-12-2-10 0-11 2-9 3-10 5-9 5-8 12-13 24-22 53-44 25-23 27-29 16-23 8-14 7-16 4-14 2-14 1-14-2-17-3-14-5-14-7-14-9-14-11-13-12-13-13-12-16-12-16-11-18-10-40-20-47-17-49-14-50-10-54-7-55-3-57 1-57 4-54 8-53 11-47 14-38 15-25 12-24 13-21 14-22 17-16 16-15 18-10 17-8 16-6 20-2 18 0 22 4 21 6 19 8 19 13 25 25 42 11 23 4 12 1 10 0 11-1 9-4 10-4 9-9 12-8 9-19 18-55 45-28 26-24 25-10 12-9 15-8 14-7 16-4 14-2 14-1 14 1 17 3 12 5 15 8 15 6 10 8 10 11 14 24 21 28 20 32 18 37 16 35 13 46 13 45 9 50 7 47 4 50 1 50-2 46-4 49-8z"/><path fill="#20a4e3" d="M1673 1936l33-12 32-13 29-15 27-17 24-19 20-20 15-19 12-21 6-19 4-23 0-22-3-21-6-19-10-23-12-21-27-46-10-20-3-10-3-11 0-10 0-9 3-10 5-10 6-9 9-11 22-21 58-47 29-26 23-25 12-15 8-12 8-15 6-15 4-15 2-18 0-15-3-15-4-15-7-15-8-15-9-11-12-13-11-11-15-12-15-12-18-11-18-10-42-19-45-15-51-13-55-10-60-6-57-1-56 2-56 6-51 9-50 13-46 16-41 18-19 11-22 14-19 14-16 15-13 14-13 17-9 17-6 15-5 20-1 18 2 21 4 20 7 19 9 19 35 60 12 24 3 10 3 11 0 9-1 10-2 9-6 11-5 8-9 11-22 21-61 50-25 22-26 28-18 25-8 15-6 16-4 14-2 19 0 14 2 15 5 16 7 15 6 11 10 13 21 23 25 21 30 19 34 17 39 16 37 12 49 11 48 8 50 6 47 2 51-1 55-4 43-6 47-9z"/><path fill="#1fa6e1" d="M1654 1930l38-12 33-13 30-15 28-16 24-18 22-20 18-22 12-21 8-23 4-19 0-22-4-22-7-22-10-22-12-22-27-44-10-20-5-12-2-12 0-8 1-10 3-10 6-10 15-19 24-23 57-46 26-22 27-29 17-23 9-17 5-13 5-14 2-15 0-13-1-17-3-14-6-15-7-13-9-14-20-22-14-13-15-11-16-11-18-11-18-9-23-11-44-16-46-12-50-11-54-6-53-4-58 1-57 4-56 9-43 9-48 14-43 18-25 12-23 13-21 15-16 13-17 17-12 14-11 17-8 17-6 19-2 19 0 21 4 21 7 19 10 22 12 22 27 44 10 20 4 12 3 12 0 9-1 9-3 10-6 11-7 9-9 10-22 20-54 44-30 26-24 25-10 13-10 14-8 14-7 16-4 14-2 15-1 13 2 17 3 12 5 15 8 15 7 10 7 10 12 13 24 22 29 19 33 18 37 16 37 13 47 12 46 8 43 6 48 3 49 1 49-3 52-5 48-9z"/><path fill="#1da9e0" d="M1639 1923l39-12 34-12 31-14 32-19 25-18 22-19 19-22 12-21 9-23 4-20 0-22-4-24-6-19-10-23-12-21-29-46-11-22-4-11-2-11-1-10 2-9 3-10 5-10 9-11 9-10 16-15 58-46 31-26 23-24 13-15 8-12 9-16 6-14 5-14 2-15 1-13-1-16-3-13-5-15-8-15-7-12-10-12-12-13-25-21-16-11-17-11-33-16-44-18-48-14-52-11-50-7-54-4-48 0-53 3-49 5-57 11-43 12-45 16-26 11-24 13-22 14-20 15-19 17-14 17-12 17-8 17-7 20-3 23 1 21 5 20 6 20 11 22 10 18 27 42 13 25 4 12 2 10 0 11-1 9-3 10-6 9-15 19-21 20-61 48-25 21-24 25-9 11-11 15-8 14-7 16-5 14-2 15-1 13 1 13 2 13 5 15 11 22 9 14 9 10 22 22 28 20 31 18 37 17 35 12 46 13 44 9 42 6 46 4 52 2 50-2 46-4 49-8z"/><path fill="#1babde" d="M1665 1904l33-12 32-13 29-15 26-17 24-19 17-17 14-19 12-21 6-20 4-23-1-22-4-20-7-19-11-24-11-20-30-45-11-22-4-12-2-8 0-11 1-10 3-9 5-9 8-11 7-7 24-22 61-48 26-23 27-28 17-23 9-15 6-15 4-14 3-15 0-13-1-17-5-16-5-13-7-13-9-14-21-22-14-13-15-11-35-21-36-17-47-17-51-13-48-9-53-6-53-3-54 1-50 5-53 8-46 10-47 15-43 17-24 13-23 13-17 12-17 15-14 14-13 16-10 17-7 17-5 20-2 19 1 21 5 20 7 19 11 22 40 65 9 17 5 11 2 11 1 9-1 9-2 10-6 11-6 9-9 10-22 20-59 47-31 26-24 24-10 13-10 14-8 15-6 15-5 15-2 15-1 12 2 17 4 16 7 15 13 21 8 10 11 13 25 21 29 20 34 17 39 16 43 14 43 10 47 8 45 4 45 3 52-1 47-3 50-7 40-8z"/><path fill="#19addc" d="M1645 1898l39-12 33-13 30-14 27-17 24-18 21-20 15-19 12-21 7-20 4-23 0-22-4-20-8-23-11-22-13-21-27-42-12-22-5-12-3-11 0-9 1-10 3-9 6-11 7-9 9-10 19-17 60-46 31-26 24-24 12-15 8-12 10-16 6-13 4-14 3-16 1-13-1-16-3-13-6-15-6-11-9-14-10-14-9-9-25-22-16-11-18-11-22-11-17-8-41-15-45-13-46-10-48-7-56-4-47 0-53 3-49 6-50 9-49 14-45 16-25 12-24 13-19 13-22 17-15 14-15 18-10 16-8 17-6 20-2 19 2 21 4 21 7 19 11 22 13 21 27 42 12 21 5 13 2 11 1 8-1 10-3 10-6 10-7 10-9 10-23 20-61 47-26 22-24 24-10 12-11 14-7 12-6 14-6 15-3 14-1 15 1 16 2 12 5 15 12 22 9 14 9 10 23 21 28 20 33 18 37 17 36 12 40 11 45 9 42 5 47 4 53 1 48-3 45-4 49-9z"/><path fill="#16afda" d="M1630 1891l40-12 33-12 31-14 28-16 26-17 22-20 18-22 13-21 8-22 4-21-1-22-4-24-7-19-12-24-12-20-30-45-12-21-5-12-2-10-1-10 2-9 3-11 6-9 5-8 10-11 21-18 62-47 27-22 25-24 12-15 8-11 10-17 6-13 5-14 3-11 1-14 0-13-2-12-4-16-5-13-8-13-7-10-11-13-23-22-28-20-32-18-38-16-42-14-51-13-47-8-52-5-52-2-50 2-56 5-48 8-44 11-41 14-27 11-30 14-24 14-20 15-18 16-15 16-13 17-9 17-7 21-3 23 1 21 4 20 9 23 11 22 13 21 30 45 10 19 4 11 3 11 1 9-2 10-3 10-6 10-15 18-23 19-57 44-30 24-25 24-19 24-9 15-7 13-5 13-4 15-2 15 1 13 1 13 5 15 10 22 10 14 8 10 19 19 26 21 31 18 31 15 40 15 39 11 43 10 50 7 46 4 46 1 49-2 46-4 42-7z"/><path fill="#13b1d7" d="M1654 1873l30-10 32-13 30-15 26-17 20-15 18-17 15-19 12-21 8-20 3-23 0-22-5-22-8-21-11-22-13-21-31-45-12-22-5-12-2-11 0-9 1-9 3-9 5-8 8-11 8-8 22-19 61-46 31-25 28-28 17-22 9-16 7-14 4-14 3-15 1-15-1-14-4-14-5-15-6-12-9-14-11-13-10-9-25-21-16-11-18-11-38-18-40-15-46-12-50-10-53-6-50-3-49 0-54 4-51 8-45 10-42 13-38 15-30 14-23 14-25 18-18 16-16 19-12 19-8 19-5 21-1 15 1 16 3 16 5 16 8 18 10 18 41 62 13 22 5 12 2 13 0 12-3 10-4 8-5 8-16 18-19 16-61 46-27 22-28 26-20 25-9 14-7 14-5 15-3 15-1 14 1 16 2 12 6 16 11 21 11 14 8 10 24 21 29 20 33 17 32 14 43 14 41 11 47 8 43 5 48 3 44 0 48-3 44-6 47-9z"/><path fill="#0eb2d4" d="M1635 1867l35-10 33-13 31-14 27-17 25-18 18-16 15-19 13-21 8-22 4-22 0-21-6-24-8-23-11-21-14-22-32-45-12-21-4-9-3-10 0-9 1-11 3-9 5-10 8-10 10-10 19-16 66-49 23-18 29-27 13-15 8-11 10-15 7-14 4-14 3-13 2-13-1-13-2-13-4-15-6-13-7-13-8-10-11-13-24-22-28-19-19-11-20-10-41-16-42-13-43-9-47-7-51-5-52-1-52 3-49 5-43 8-43 11-40 14-27 11-25 12-22 14-22 16-18 15-15 18-11 16-9 17-6 19-2 21 1 22 6 24 7 18 12 22 13 21 32 45 12 21 3 9 3 11 1 8-1 11-3 9-6 10-7 10-10 10-24 20-57 41-31 25-25 24-20 24-9 14-7 14-6 16-3 14-2 14 1 13 1 12 5 16 11 22 9 13 9 10 19 19 27 20 32 19 32 14 35 12 46 13 45 9 42 6 49 3 44 1 41-2 46-4 42-7z"/><path fill="#09b4d1" d="M1667 1846l28-10 31-14 24-14 21-14 19-16 17-17 14-20 10-19 7-21 2-21-2-22-5-20-9-22-12-22-14-21-31-44-12-18-4-11-4-11 0-9 1-9 3-11 7-10 16-18 24-20 57-41 32-25 28-27 13-15 8-11 10-16 6-13 5-15 3-15 0-15-1-14-4-15-6-15-6-11-9-14-9-10-12-12-26-21-17-11-18-10-36-17-42-15-49-12-44-8-53-6-50-2-50 1-44 4-52 7-45 11-42 13-42 17-25 13-26 17-20 15-17 17-15 19-10 18-7 21-4 18 0 15 2 15 3 16 6 16 8 18 11 18 43 61 11 19 5 11 3 12 1 11-2 11-4 8-5 9-16 17-23 19-62 45-28 22-28 27-12 13-9 12-10 17-6 13-5 14-3 15 0 16 1 13 4 16 6 15 13 21 7 10 13 13 21 18 29 19 34 18 39 15 38 12 43 10 48 7 46 5 48 1 42-1 46-4 43-6 46-10z"/><path fill="#06b6ce" d="M1641 1843l30-9 32-13 30-15 27-17 24-18 17-17 14-19 10-17 7-18 3-23 0-22-6-24-9-22-12-22-14-21-32-44-14-21-5-13-3-10 0-9 1-9 4-10 5-8 8-10 8-8 23-19 63-45 28-21 25-24 22-25 11-16 7-13 5-13 4-15 2-16-1-14-2-12-4-16-6-11-8-14-8-10-11-13-24-22-30-19-34-17-35-14-42-13-46-11-46-7-50-4-50-1-52 3-50 6-45 8-41 11-40 14-32 14-26 15-26 18-19 16-16 18-14 20-9 21-5 19-1 14 1 17 3 16 7 20 8 18 11 18 47 65 12 21 5 12 2 10 0 11-3 10-4 9-6 8-17 17-19 16-61 43-30 23-28 25-20 23-9 15-8 14-5 13-4 15-2 16 0 14 2 12 5 16 11 22 10 14 9 9 23 22 25 17 32 18 32 14 36 12 41 11 45 9 43 5 42 3 44 0 49-3 44-5 41-7z"/><path fill="#02b7cb" d="M1623 1837l34-10 33-12 31-14 28-16 24-18 18-17 16-18 12-21 6-13 3-9 2-11 1-13-1-21-6-24-9-22-13-22-14-21-33-43-14-22-4-9-3-10-1-10 1-10 3-9 5-9 9-11 10-9 21-17 63-44 28-21 29-26 19-22 11-16 7-12 6-14 4-14 2-14 1-13-2-12-4-16-4-12-6-10-7-11-11-13-19-19-27-20-32-19-37-16-37-12-43-12-48-8-43-5-45-2-46 0-46 3-48 7-42 9-43 12-28 10-31 14-24 13-24 15-20 17-14 15-13 17-11 19-6 18-2 10-1 13 1 22 6 24 9 22 13 22 14 20 35 47 12 18 5 11 3 12 0 9-1 8-4 9-4 8-9 11-10 10-21 16-63 44-29 22-29 26-20 24-10 13-7 13-5 13-4 15-2 13-1 14 2 12 4 16 4 11 6 11 15 21 18 19 27 20 31 19 31 14 34 13 39 11 44 10 42 6 42 3 45 1 42-1 46-4 42-7z"/><path fill="#01b8c8" d="M1649 1818l33-11 26-12 29-15 22-15 19-15 17-18 14-19 9-16 6-20 3-23-2-22-6-23-9-21-14-23-15-20-33-44-12-18-6-10-3-12-1-8 0-10 4-9 6-11 7-9 11-10 24-18 64-44 28-22 26-23 22-25 11-15 7-13 6-14 3-14 2-16 0-15-3-16-5-12-5-11-6-11-8-10-11-13-24-21-29-20-35-17-33-14-46-13-42-10-49-7-48-3-49-1-47 3-50 6-47 9-40 11-39 14-30 14-24 13-23 17-20 17-16 19-13 20-6 13-3 9-4 19 0 14 1 17 4 16 6 15 9 18 13 21 45 59 15 23 6 13 2 10 0 9-2 10-4 9-5 8-17 17-20 16-65 44-31 24-29 26-20 22-10 15-7 13-6 14-4 15-2 15 1 16 2 12 5 15 12 22 16 20 20 19 27 20 33 18 32 14 37 12 40 10 47 9 40 4 47 3 44 0 47-3 44-6 40-8z"/><path fill="#02bac5" d="M1627 1813l36-11 32-13 30-14 23-14 20-15 18-17 15-19 11-20 8-20 1-10 2-13-2-21-6-24-10-23-14-23-16-22-35-43-11-18-6-10-3-10-2-10 1-10 3-7 4-9 9-11 9-8 22-17 64-44 29-21 31-26 22-25 11-15 8-13 6-14 4-14 2-14 0-13-2-13-4-16-10-20-6-10-9-12-20-19-27-20-32-18-31-14-38-14-44-11-48-9-42-4-42-3-47 1-48 3-47 7-42 9-42 13-33 12-26 12-24 14-20 14-19 16-15 17-12 17-9 17-6 20-2 22 2 21 7 24 11 22 13 21 12 17 37 47 12 17 6 11 3 10 1 10 0 9-4 11-6 10-7 8-10 9-24 18-65 44-29 21-27 24-22 23-10 15-8 13-6 14-4 15-2 14 0 13 1 13 5 15 4 12 6 11 15 20 19 19 23 17 32 19 31 14 35 13 39 11 45 9 42 6 45 3 44 0 41-2 45-4 41-7z"/><path fill="#04bbc2" d="M1611 1806l32-8 34-12 31-14 28-16 25-18 18-16 16-19 12-20 8-20 3-13 0-10-1-22-6-24-10-22-15-25-15-20-38-47-13-19-4-9-4-11-1-9 1-9 4-10 5-8 10-11 9-8 24-18 59-39 33-24 31-25 19-22 9-11 9-14 7-15 4-11 3-15 1-13-1-13-3-14-5-13-4-10-14-21-20-20-22-18-26-16-30-15-33-13-41-13-40-9-45-6-42-4-44-1-48 1-46 5-40 7-41 9-30 9-33 13-30 15-25 15-22 16-17 16-15 19-10 17-5 10-4 13-3 21 1 13 1 12 7 24 10 22 14 21 17 24 35 42 14 20 4 9 4 12 1 8-1 9-4 10-5 8-7 8-10 10-25 18-64 43-27 19-29 24-24 25-10 14-7 12-7 15-4 11-3 14-1 13 1 13 2 12 4 12 5 11 13 21 18 20 22 18 30 19 29 14 34 14 38 11 43 10 40 6 37 4 45 2 43-1 46-4 43-6z"/><path fill="#09bcbe" d="M1633 1790l30-11 27-10 30-15 22-14 20-16 18-16 15-19 9-17 7-21 3-13 0-10-1-21-3-12-4-13-10-21-15-24-18-22-37-45-12-17-6-11-4-11-1-9 1-8 4-9 5-8 6-8 11-10 25-18 65-42 30-21 30-26 23-24 12-16 7-12 6-13 4-15 2-11 1-15-2-15-3-12-5-12-6-12-7-10-10-12-20-19-28-20-33-18-32-13-37-13-41-10-47-8-46-4-41-2-49 1-44 4-38 6-43 10-42 12-32 13-30 15-26 16-21 17-19 21-14 19-9 20-3 12-2 10-1 15 2 17 4 16 7 19 10 18 14 21 52 63 14 20 6 12 2 12 0 8-3 10-4 7-5 8-18 17-21 15-61 39-34 24-30 25-22 23-9 12-9 14-7 14-5 15-2 14-1 13 1 14 4 15 5 11 5 11 15 21 19 19 23 17 27 16 36 17 35 13 39 11 46 8 42 6 39 2 44 1 41-2 44-5 42-8z"/><path fill="#0ebebb" d="M1614 1784l30-9 33-12 26-12 28-16 25-18 18-17 15-18 10-17 5-11 3-11 3-22 0-13-2-12-7-24-11-22-16-24-16-20-37-43-15-20-6-11-3-9-1-7 0-10 3-9 6-9 8-9 9-8 24-18 67-42 34-24 30-25 20-21 12-16 7-12 7-13 4-12 3-14 1-14-1-12-3-13-4-11-5-11-14-21-18-19-23-18-25-16-30-15-34-13-37-11-39-9-39-6-45-4-42-2-50 2-43 4-45 8-35 8-30 9-33 13-25 12-26 15-22 16-18 17-15 19-10 17-5 10-3 12-3 21 0 13 2 13 7 23 11 22 16 25 16 20 39 45 13 18 6 10 3 10 1 6-1 11-2 8-6 9-8 9-9 9-25 18-69 43-28 20-30 24-21 22-10 12-9 14-7 13-5 13-3 13-2 14 1 13 3 16 4 12 5 11 14 20 18 20 22 17 26 17 30 14 34 13 38 12 44 9 41 6 39 4 46 1 41-1 38-4 43-7z"/><path fill="#15bfb7" d="M1640 1765l35-13 30-14 28-16 24-19 20-20 14-20 9-21 5-19 1-18-2-17-4-16-8-18-10-18-14-21-17-20-40-45-15-21-5-11-3-10 0-11 3-9 9-13 18-16 25-17 63-39 30-20 31-25 24-24 12-15 8-12 8-16 4-15 3-14 0-14-1-12-4-16-5-11-6-11-15-20-20-19-27-20-33-18-33-13-38-13-42-10-46-7-41-4-46-1-40 1-45 4-39 6-43 10-41 13-29 12-33 17-25 17-19 16-16 18-13 20-9 22-4 18 0 18 3 16 4 16 8 19 11 18 15 20 50 58 17 22 6 10 3 12 1 8-2 10-4 8-6 8-16 16-23 15-67 42-34 23-31 25-23 24-9 12-10 16-6 14-5 13-2 14-1 13 2 13 4 16 5 11 6 11 15 20 19 19 28 20 28 15 32 14 36 12 41 11 39 7 44 5 41 2 43 0 39-3 44-6 40-8z"/><path fill="#1bc0b4" d="M1617 1761l33-11 27-10 30-15 23-14 20-15 18-17 15-19 9-16 5-14 3-9 2-22-3-22-3-12-5-13-10-20-17-24-19-23-39-42-16-20-6-11-3-8-1-8 0-9 3-8 5-8 6-7 11-10 25-18 68-41 31-20 32-24 24-24 12-15 8-12 7-13 5-13 4-14 1-14-1-15-2-13-8-20-14-21-19-20-21-17-26-16-30-15-34-13-39-11-36-8-43-6-45-4-44-1-45 2-40 5-42 7-31 8-33 10-28 11-30 14-22 14-20 15-18 17-14 17-10 19-6 13-2 10-2 21 2 22 8 24 11 21 17 25 19 23 42 45 13 17 6 11 3 7 1 8 0 9-3 8-5 8-6 8-11 10-26 17-72 44-31 21-31 24-22 22-11 14-10 16-6 13-5 13-3 14 0 13 1 13 2 13 8 18 14 21 18 20 22 17 26 17 30 14 34 13 39 12 36 8 41 6 42 3 45 1 41-1 45-5 42-7z"/><path fill="#21c1b0" d="M1601 1754l35-10 28-10 31-14 24-13 25-18 18-17 15-18 10-17 5-13 3-10 2-10 1-13-1-13-2-12-8-23-12-22-17-24-20-22-42-45-14-17-6-11-3-8-2-8 1-9 2-6 6-10 6-7 11-9 27-18 67-40 35-22 28-22 25-23 13-15 8-12 7-12 5-14 4-14 2-11 0-12-2-12-6-20-5-11-6-10-14-17-20-19-24-17-28-15-32-14-30-10-38-10-37-7-38-5-39-3-44 0-40 2-42 4-34 7-32 7-36 11-32 13-30 15-26 17-19 16-17 18-8 11-6 11-5 11-4 14-2 10-1 13 1 13 2 12 8 23 12 22 17 24 20 23 41 43 15 18 6 11 3 8 2 8-1 9-2 6-6 10-9 9-12 10-21 14-65 39-35 21-32 25-25 23-12 14-9 12-7 13-6 14-4 14-1 10 0 13 1 12 6 20 6 11 6 10 17 20 20 19 25 16 29 15 32 14 38 12 35 8 39 7 45 5 43 2 42-1 39-4 43-6z"/><path fill="#26c2ad" d="M1621 1737l35-12 37-16 27-16 25-18 11-10 9-11 14-19 7-13 3-9 4-20 0-18-2-16-5-16-8-19-14-21-15-20-18-19-43-45-16-19-5-9-4-10 0-10 2-9 8-12 7-7 12-9 22-15 69-40 36-22 32-24 25-24 13-15 8-11 7-13 5-15 4-14 1-14-1-13-3-14-8-20-7-11-7-10-19-19-23-18-26-16-34-15-32-12-36-10-38-7-44-6-42-3-41 0-40 2-38 5-43 7-34 9-35 12-33 14-26 15-27 19-21 19-15 20-6 12-4 10-4 13-1 11-1 17 3 17 5 15 8 19 13 21 16 20 18 20 43 44 16 19 5 10 4 10 0 9-2 10-8 12-7 7-12 9-22 14-70 40-35 23-33 24-25 23-12 15-8 12-7 13-6 14-3 15-1 13 1 13 3 14 3 10 5 11 7 10 7 11 19 19 23 17 26 16 31 14 35 13 33 9 37 8 41 6 38 3 43 1 41-2 45-5 41-7z"/><path fill="#2ac3a9" d="M1602 1731l41-12 32-13 34-17 25-18 22-20 15-19 7-12 5-10 3-10 3-13 0-19-2-17-6-19-9-18-13-20-17-21-17-19-46-45-16-19-6-11-3-8-1-9 3-9 8-12 7-7 12-9 22-14 71-40 31-19 34-24 26-22 13-15 9-11 7-12 7-15 5-14 2-14 0-14-2-12-6-19-6-11-7-11-14-16-20-19-25-16-23-13-33-14-30-10-34-9-37-7-35-5-38-2-35-1-41 2-40 4-40 6-32 8-36 11-32 13-30 15-26 17-20 17-15 17-12 20-5 10-4 13-2 11-1 14 1 13 3 12 8 23 15 25 18 23 21 23 44 44 15 17 6 9 4 8 1 8 0 9-4 10-6 7-8 7-11 9-23 14-67 38-38 23-30 22-26 22-11 12-11 14-7 12-7 15-5 14-2 14 0 14 2 12 6 19 6 11 6 11 18 19 21 18 25 17 30 15 33 13 32 10 35 8 40 7 46 4 36 1 42-1 39-4 42-6z"/><path fill="#2dc4a6" d="M1626 1713l36-13 30-14 28-16 19-16 11-10 10-11 13-20 9-20 2-12 1-11 0-17-4-17-7-18-9-18-13-18-17-20-21-22-43-41-17-19-7-11-2-7-1-9 2-9 3-6 6-6 8-8 11-8 23-14 76-41 32-19 33-24 26-23 13-14 9-12 9-16 6-14 3-12 2-14-1-16-3-14-7-18-7-11-7-10-19-19-22-18-24-14-32-15-31-12-38-10-38-8-43-6-39-2-45 0-41 2-42 6-36 7-39 10-35 13-31 14-29 18-21 17-17 18-13 20-9 21-2 12-2 10 1 18 4 16 7 19 10 19 14 20 17 20 62 60 17 19 6 10 3 8 1 9-2 9-4 6-5 6-8 8-11 8-28 16-71 39-32 19-34 24-26 23-12 14-9 12-9 16-6 13-3 13-2 14 1 16 3 13 7 19 6 10 8 11 18 19 23 17 27 16 31 14 35 13 33 9 38 8 42 5 39 3 44 0 40-3 44-5 40-8z"/><path fill="#30c5a2" d="M1605 1709l38-13 32-13 29-15 25-18 22-20 14-19 6-10 5-12 3-13 2-12 0-17-3-18-8-19-9-18-15-21-19-22-21-19-43-40-18-20-7-10-3-8-2-9 3-9 3-5 6-7 16-12 22-14 78-41 32-18 34-23 16-13 15-13 13-14 9-12 8-12 7-15 5-15 1-12 1-15-2-13-7-19-10-18-14-16-21-19-24-16-27-14-29-13-32-10-33-9-39-7-37-4-37-2-34 0-39 2-40 5-33 5-33 8-35 12-32 13-25 13-24 16-19 16-17 19-11 18-5 12-4 13-1 12-1 11 2 12 2 12 4 12 7 15 16 24 19 23 25 26 44 40 18 19 7 10 3 8 1 8 0 5-2 6-6 7-7 7-12 9-23 14-72 38-37 21-36 25-29 24-12 13-10 13-8 12-7 16-5 14-2 12 0 15 2 13 7 19 6 11 7 10 14 16 21 19 26 16 29 15 34 13 32 10 36 8 40 6 37 3 40 1 41-1 39-3 42-7z"/><path fill="#33c69e" d="M1638 1687l30-12 29-15 26-17 18-17 16-18 12-21 6-18 2-10 0-13-1-16-5-16-8-19-11-18-15-20-18-19-20-19-48-42-16-16-7-10-4-8-2-8 2-9 4-6 6-7 17-13 28-15 74-38 37-21 35-23 15-12 15-14 13-14 12-15 8-15 6-15 3-15 1-13-1-13-5-16-9-19-15-19-19-19-26-18-31-17-31-12-34-11-35-8-40-7-36-3-42-2-42 1-38 4-38 5-37 9-38 12-30 11-28 15-27 18-20 17-16 20-10 18-6 19-2 10-1 12 2 17 4 16 9 19 10 17 16 20 18 20 20 18 48 43 16 16 7 10 4 7 1 8-2 10-3 6-6 6-17 13-28 16-79 40-32 19-35 23-16 12-14 13-14 16-11 14-8 15-6 15-3 14-1 14 1 12 4 16 9 19 7 10 8 10 20 19 24 17 28 15 33 14 37 12 35 8 40 6 36 4 42 2 42-2 38-3 42-7 39-9z"/><path fill="#35c79a" d="M1607 1686l37-12 31-14 28-16 25-18 10-10 10-11 13-20 6-13 3-9 2-10 1-14-1-17-5-19-9-19-11-18-18-21-20-21-21-18-46-39-20-19-7-10-4-7 0-9 1-5 3-5 5-6 17-12 23-13 80-39 38-21 36-22 16-13 15-12 14-14 9-11 11-16 7-13 5-14 2-14 1-14-2-12-6-20-10-17-14-17-20-19-20-14-25-13-27-12-37-13-29-7-37-7-37-5-39-2-34-1-40 3-31 3-42 7-40 11-40 14-35 17-26 17-23 19-9 11-9 12-6 11-5 10-3 10-2 14 0 18 4 20 7 19 13 21 16 20 21 23 24 21 50 42 16 16 7 10 3 7 1 9-1 5-3 5-6 6-16 13-23 13-76 36-42 23-36 23-18 13-13 12-12 11-11 13-11 16-7 13-5 14-2 15-1 13 2 12 6 20 6 11 6 10 15 16 21 19 25 16 30 15 34 13 32 9 37 8 41 6 38 3 41 1 40-2 38-4 34-6z"/><path fill="#38c895" d="M1590 1679l40-12 33-13 33-17 25-18 11-10 10-11 14-19 6-13 4-11 2-9 1-14-1-17-5-20-9-18-14-21-16-20-22-22-25-21-52-41-16-16-8-10-3-8 0-7 1-5 3-4 7-7 17-11 25-13 76-35 39-20 36-22 17-12 16-12 14-14 10-10 12-16 7-12 6-13 4-15 2-15-1-12-4-16-8-19-12-17-16-16-18-15-22-13-24-13-27-11-34-11-28-7-27-5-34-4-36-3-36 0-38 1-30 3-39 6-38 9-35 11-32 14-28 15-25 18-20 19-7 9-8 12-7 13-3 11-3 13 0 14 1 13 4 16 4 11 8 15 9 14 10 13 25 26 27 24 56 44 16 16 6 6 4 7 2 7-1 5-3 6-4 6-17 12-24 13-81 38-39 20-37 22-19 14-13 10-14 13-13 14-9 12-7 13-6 13-4 14-2 15 1 13 5 20 9 18 13 17 19 19 24 17 24 13 32 14 30 10 34 9 38 7 43 4 37 2 43-1 38-3 36-5z"/><path fill="#3cc991" d="M1611 1662l33-11 31-14 27-17 24-18 10-11 9-11 7-11 5-10 4-11 3-10 1-9 0-13-3-20-7-17-11-20-14-20-19-20-24-21-26-21-50-38-17-15-6-6-5-7-1-8 1-5 4-6 5-5 18-11 26-12 83-37 49-25 32-19 28-21 15-13 13-14 12-15 7-13 6-15 4-15 1-14-2-16-6-18-11-18-14-17-18-16-24-16-24-13-27-11-29-10-30-8-37-7-34-4-39-3-33 0-40 2-38 5-37 6-40 11-39 15-34 17-26 18-13 11-8 9-9 11-8 11-5 11-4 10-2 13-1 10 1 22 6 19 11 22 15 21 21 22 24 22 25 20 51 38 17 15 6 6 5 7 1 8-1 5-4 6-6 5-18 11-25 12-83 37-49 25-32 19-29 21-14 13-14 14-11 15-7 13-7 15-3 15-1 14 2 16 7 19 6 11 7 10 14 17 22 17 26 17 25 12 35 13 32 9 37 8 41 5 39 3 35 0 41-2 37-4 40-8z"/><path fill="#41ca8c" d="M1591 1657l40-12 32-14 19-10 14-8 24-18 10-11 9-11 8-12 6-10 4-10 3-11 1-12 0-13-4-21-8-18-13-22-17-21-22-21-24-20-28-21-53-36-19-15-6-6-4-7-1-4 1-5 3-4 8-6 18-10 103-42 51-24 38-21 34-23 15-13 14-13 13-15 10-16 6-13 4-15 1-12 0-16-4-17-7-15-11-16-16-17-19-15-21-13-23-12-24-10-30-10-27-7-30-6-34-4-38-3-33-1-38 2-31 3-46 8-44 11-23 8-21 9-19 10-14 8-17 12-12 9-10 10-10 11-8 12-6 13-4 13-3 14 0 8 0 13 3 12 4 12 11 22 17 24 22 22 28 24 31 23 57 40 14 11 7 7 4 7 1 4-1 5-3 4-8 6-19 10-102 42-51 24-36 19-18 11-18 14-16 13-14 14-12 14-10 16-6 13-4 14-2 13 1 15 4 18 9 18 13 17 19 19 24 17 23 13 32 14 31 10 34 8 39 7 36 4 39 1 42 0 38-4 36-5z"/><path fill="#46cb88" d="M1618 1638l37-15 29-15 25-18 12-9 10-11 13-19 6-12 4-11 2-10 1-12-1-13-2-12-4-12-5-11-13-21-16-20-22-22-26-21-32-22-100-62-7-6-1-5 3-4 16-7 106-38 65-27 49-24 23-14 17-11 20-16 17-17 13-15 10-16 7-17 3-14 0-18-2-14-7-18-11-17-14-16-22-18-20-13-26-13-30-12-33-10-32-7-40-7-38-3-32-1-37 2-29 2-37 5-35 8-42 13-36 16-28 16-13 9-14 12-18 20-7 11-6 12-4 14-2 11 0 12 1 12 3 12 4 12 12 21 15 21 21 22 29 24 31 23 30 19 75 46 7 6 1 4-4 4-14 7-108 38-64 27-46 23-22 13-21 14-18 14-16 15-13 14-11 16-7 16-5 16-1 17 2 17 8 19 10 17 15 17 22 18 26 16 25 12 35 13 33 9 37 7 36 5 39 2 43 0 39-3 36-5 40-8z"/><path fill="#4ccb83" d="M1593 1634l38-12 32-14 19-10 13-9 23-19 10-10 8-12 7-10 4-11 3-10 3-14 0-9-1-12-3-12-4-12-11-22-18-23-26-25-34-27-38-24-41-24-37-16-19-6-17-2-17 0-28 4-37 10-41 13-39 15-38 15-30 14-25 14-26 16-20 14-18 16-14 16-11 16-9 16-3 10-2 14-1 12 1 9 6 20 6 11 7 10 8 10 9 10 23 17 17 11 15 8 32 13 37 12 36 8 41 6 42 4 44 0 40-3 43-6z"/><path fill="#4ccb83" d="M1600 1235l44-15 39-14 37-16 35-17 28-16 26-17 22-19 17-18 13-20 8-17 4-19 0-18-1-8-4-11-9-19-13-17-17-15-23-17-27-14-29-13-38-12-34-7-45-7-40-3-43 0-38 3-45 6-41 9-33 11-32 13-28 16-25 18-17 17-14 20-5 12-4 10-2 10 0 11 0 11 2 12 4 12 5 11 13 21 19 23 27 25 35 26 43 27 43 23 16 7 17 5 14 4 10 1 18 0 28-5z"/><path fill="#52cc7e" d="M1577 1628l41-12 32-13 29-16 25-17 11-10 10-11 13-20 6-13 3-10 2-10 0-13-1-13-3-10-5-13-5-11-7-10-10-14-22-22-28-24-33-23-41-23-36-17-24-8-22-5-20-1-24 2-28 4-31 8-36 11-39 14-32 14-32 15-26 14-27 18-20 15-18 18-14 18-9 17-6 20-1 10 1 12 1 8 3 12 5 11 7 11 7 10 9 10 22 18 26 16 31 14 36 13 34 8 39 7 43 4 45 1 40-2 37-4z"/><path fill="#52cc7e" d="M1607 1219l38-12 40-14 37-16 35-17 28-16 25-17 19-17 16-17 13-20 8-18 3-20 0-17-6-20-10-18-13-16-18-16-24-16-29-15-34-13-33-10-37-7-43-6-40-2-46 1-38 4-42 6-31 8-35 12-31 13-28 17-24 18-16 18-6 9-7 11-5 14-2 10-1 11 0 11 4 21 5 11 5 11 7 11 10 13 21 23 25 21 37 25 41 24 36 16 31 10 26 4 25 0 29-5z"/><path fill="#59cc79" d="M1596 1611l36-12 31-14 27-17 12-9 10-10 16-18 7-12 4-9 3-10 2-11 1-10-1-12-2-12-4-12-11-21-17-22-20-21-29-22-35-23-38-21-33-13-25-8-24-4-21-1-24 2-28 4-31 8-36 11-40 14-31 13-33 17-30 17-21 15-18 16-16 18-11 16-8 17-3 10-1 11-1 10 2 11 6 19 6 11 7 11 9 9 9 10 23 17 28 16 33 13 37 12 37 8 42 6 39 2 40 0 47-4 42-7z"/><path fill="#59cc79" d="M1663 1189l35-13 36-16 30-15 27-17 24-18 18-17 15-19 9-16 7-19 1-10 0-10-2-16-7-19-11-18-15-16-18-15-22-13-25-13-33-12-31-9-40-9-41-5-38-2-41 1-40 4-45 7-33 8-31 11-28 12-25 14-24 18-18 18-11 16-5 9-4 13-3 12 0 13 1 13 3 12 4 11 8 15 9 13 11 14 13 12 13 13 31 23 39 24 35 17 28 11 27 7 26 3 28 0 35-6 38-9z"/><path fill="#5fcd73" d="M1578 1605l35-10 32-13 29-15 25-18 17-18 14-19 5-11 3-10 3-12 0-10-1-9-2-12-4-12-5-11-13-21-20-23-24-21-33-23-31-18-37-17-23-8-21-5-25-4-25-1-31 3-27 5-32 8-35 11-39 15-31 14-27 14-28 18-20 15-20 19-14 19-10 19-3 9-2 12-1 9 2 13 1 8 5 11 5 11 7 11 9 9 10 10 23 17 27 16 27 11 37 12 36 8 41 6 38 3 35 1 40-3 37-4z"/><path fill="#5fcd73" d="M1649 1181l35-12 37-15 30-15 28-16 26-17 18-17 16-18 11-16 8-17 2-10 1-11-1-18-2-8-4-11-10-18-14-16-18-15-21-14-28-15-29-11-32-10-35-7-35-5-38-3-46 0-37 3-36 5-34 7-35 10-32 13-29 16-22 15-17 16-15 19-6 13-4 12-3 12 0 11 1 12 3 12 4 12 5 11 7 11 10 13 21 22 30 24 34 22 33 18 33 13 25 8 31 5 27 1 31-3 33-6z"/><path fill="#65cd6e" d="M1601 1588l31-12 30-14 26-18 19-16 15-19 5-9 5-11 4-19 1-9-1-12-3-12-4-12-11-20-16-22-21-20-29-22-30-19-30-15-33-13-26-7-24-5-24-1-25 1-25 3-31 6-31 8-35 12-32 13-29 13-27 14-25 17-20 15-17 19-13 18-9 17-3 10-1 13-1 8 2 13 7 19 6 11 7 10 9 10 10 9 24 17 29 15 33 13 33 10 37 8 42 5 41 2 41-1 45-5 41-7z"/><path fill="#65cd6e" d="M1640 1171l35-11 38-15 31-14 28-15 26-18 19-16 16-17 11-16 9-18 2-9 2-10 0-18-5-18-9-18-13-17-18-15-19-14-29-15-28-12-31-9-36-8-42-6-38-3-34 0-41 3-36 5-40 8-30 9-31 13-29 15-22 15-18 18-14 18-5 11-4 10-2 12-1 10 0 10 2 12 4 12 5 11 6 11 10 14 21 22 25 21 33 22 33 18 33 14 25 8 30 5 30 2 28-2 35-5z"/><path fill="#6ccd68" d="M1579 1583l35-11 31-13 28-16 21-15 17-18 8-11 5-9 6-18 2-10 1-11-1-10-2-12-8-19-12-19-18-21-24-22-28-20-32-18-32-14-24-8-27-7-26-3-25-1-31 2-28 5-29 6-33 10-34 12-31 14-29 15-27 17-20 15-18 17-14 19-9 17-3 10-2 10-1 11 1 9 2 9 4 11 5 11 7 11 15 16 22 17 27 16 32 14 37 12 37 8 34 5 39 3 35 0 40-3 43-6z"/><path fill="#6ccd68" d="M1632 1161l34-10 33-12 32-14 29-15 27-16 20-16 17-17 15-19 9-17 3-9 2-10 0-17-1-8-3-12-10-18-13-17-16-16-21-14-27-14-29-12-29-9-40-9-33-5-39-2-36-1-40 3-36 5-33 7-30 8-33 13-30 15-23 16-16 15-15 19-6 11-4 10-3 10-1 11 1 19 3 12 5 11 12 22 8 10 12 13 24 21 28 20 32 18 32 14 30 10 29 7 27 2 32 0 36-5z"/><path fill="#73cd63" d="M1564 1576l36-10 33-13 29-15 21-14 18-17 15-19 6-12 4-10 3-19 0-9-2-11-2-9-4-11-6-11-7-11-16-20-20-18-28-20-31-19-31-14-24-9-26-7-24-4-27-1-28 1-26 3-34 6-31 9-34 11-32 14-30 14-24 15-24 17-17 16-15 19-10 17-5 19-1 11 0 11 2 8 3 12 10 18 14 17 21 18 26 16 26 12 29 10 34 9 39 7 40 4 37 1 41-1 37-5z"/><path fill="#73cd63" d="M1671 1138l31-12 31-13 29-16 22-14 20-15 18-17 14-19 8-18 4-14 1-18-3-18-8-17-12-17-16-16-20-14-22-13-27-12-31-11-28-7-37-6-41-4-36-1-39 1-31 3-35 7-32 7-34 12-26 12-23 13-20 16-17 17-12 19-4 10-3 10-2 10 0 13 2 12 3 12 5 11 6 11 7 10 11 13 23 22 15 12 17 11 32 18 32 14 30 10 30 6 27 3 33 0 29-4 40-8z"/><path fill="#7acc5d" d="M1582 1560l32-11 26-11 28-16 20-15 17-18 6-9 6-11 6-19 2-19-1-9-3-11-8-19-13-21-18-19-22-18-28-20-29-15-32-14-26-8-26-6-21-2-31-1-28 2-29 5-32 7-30 9-34 12-29 13-29 16-23 15-19 15-17 18-11 16-8 17-3 10-1 10 0 12 1 9 3 11 4 8 11 18 16 16 23 17 27 16 28 11 31 10 36 8 37 6 39 2 43 0 39-3 35-6z"/><path fill="#7acc5d" d="M1655 1131l33-11 32-13 30-15 23-14 21-14 18-17 16-18 9-17 7-18 1-16-2-19-6-16-12-17-16-17-18-14-22-13-33-15-28-10-34-8-33-6-36-3-34-1-34 1-37 4-33 5-30 7-32 11-30 13-23 13-21 17-15 14-12 18-4 10-4 11-1 9-1 13 1 10 3 11 4 11 5 11 15 21 22 22 26 20 31 19 30 15 29 10 27 8 34 5 28 0 31-2 35-5z"/><path fill="#82cc58" d="M1565 1553l35-10 28-10 24-13 22-14 18-17 15-18 5-9 4-10 5-19 0-11-2-11-6-19-10-18-15-20-20-19-27-20-27-16-31-14-27-10-24-6-27-4-25-2-29 1-26 3-31 5-31 9-35 11-32 13-29 15-23 14-20 15-18 17-14 19-9 17-3 9-2 11 0 18 3 12 3 8 10 17 15 17 18 15 26 16 26 12 29 10 34 9 40 7 35 3 36 1 41-2 37-5z"/><path fill="#82cc58" d="M1644 1122l29-9 34-12 31-14 28-16 21-15 19-16 16-18 10-16 7-18 2-16-1-18-7-18-9-15-14-16-18-15-21-13-24-12-30-11-33-9-30-6-35-5-36-2-39 1-34 3-31 4-37 8-29 10-32 13-23 13-20 15-18 18-11 15-5 10-3 10-3 19 1 11 1 10 4 11 5 11 14 21 8 10 13 13 26 20 26 17 29 15 28 11 34 9 27 4 29 2 32-2 36-5z"/><path fill="#89cb52" d="M1586 1537l29-10 25-12 23-14 20-15 16-18 10-17 6-18 2-11 0-10-1-8-3-12-9-19-13-18-16-18-22-18-25-17-29-15-31-12-28-9-22-4-27-3-26-1-24 2-32 4-30 7-30 8-29 10-31 14-24 13-22 14-20 15-17 18-11 15-9 17-3 10-1 10 0 11 1 8 2 8 4 11 11 18 15 16 23 17 28 16 27 11 32 10 36 8 43 5 37 2 34-1 39-3 35-6z"/><path fill="#89cb52" d="M1687 1096l28-10 30-15 23-13 20-15 19-17 12-15 10-16 6-16 2-14-1-17-5-16-10-18-11-13-17-15-21-14-24-13-29-11-25-7-35-8-34-5-30-2-35 0-37 2-34 4-32 6-30 9-28 10-25 12-22 14-19 16-14 16-10 16-4 11-2 9-1 9 1 13 2 12 4 12 6 11 6 11 17 19 24 22 29 19 34 18 28 11 33 9 31 5 29 1 32-1 36-5 38-9z"/><path fill="#90ca4d" d="M1567 1531l34-11 27-11 24-12 21-15 17-17 11-16 8-17 3-18 0-17-6-20-10-18-15-20-20-18-24-18-26-15-29-13-28-10-22-6-23-4-30-2-26 0-30 3-31 6-28 7-30 9-32 13-30 15-22 14-21 15-17 17-12 15-9 17-4 18-1 9 0 10 3 11 2 7 10 18 14 17 18 15 26 16 26 12 30 10 35 9 32 5 38 3 36 1 40-2 36-5z"/><path fill="#90ca4d" d="M1662 1093l34-12 26-11 25-12 22-14 20-15 18-17 12-15 8-17 5-18 1-17-4-17-7-14-10-14-15-16-20-14-23-13-26-12-31-10-28-7-32-5-36-3-32-1-38 1-32 4-33 6-31 8-28 10-26 12-23 14-19 15-14 14-11 18-4 10-2 10-2 18 2 12 2 8 4 12 6 10 15 21 9 9 14 13 28 20 28 15 26 12 31 10 29 6 31 3 35 1 30-3 34-7z"/><path fill="#97ca47" d="M1597 1511l28-12 24-13 21-15 14-13 12-15 8-18 4-18 0-17-4-16-9-19-13-18-18-18-22-18-27-16-25-12-28-11-27-7-23-4-27-3-27 0-31 2-28 5-29 7-27 8-28 10-26 12-23 12-22 15-19 16-13 14-11 16-8 17-2 9-1 10 0 8 2 12 3 8 5 11 13 17 9 10 11 9 20 14 25 12 28 11 33 9 38 7 36 4 40 1 40-2 37-4 33-7z"/><path fill="#97ca47" d="M1649 1085l32-10 28-11 30-14 23-13 21-15 18-17 12-15 9-15 5-16 2-17-3-17-6-15-8-14-15-16-16-14-25-14-24-11-26-10-34-8-28-5-32-4-37-2-37 1-30 3-33 5-31 8-29 10-26 11-24 13-20 15-13 14-12 18-5 11-3 9-2 18 1 11 3 10 8 19 6 10 8 10 19 20 26 20 27 16 26 12 29 10 28 7 33 5 28 1 32-2 36-5z"/><path fill="#9ec942" d="M1570 1508l26-8 27-11 23-13 21-15 17-18 11-15 7-18 2-16 0-12-2-8-7-19-10-18-15-17-20-17-21-14-27-16-27-11-25-8-27-7-27-3-24-2-25 1-30 3-28 5-31 8-29 10-32 13-23 12-23 15-18 14-15 15-13 17-7 16-3 10-1 9 1 17 3 9 4 11 11 17 16 16 19 14 23 13 27 12 31 10 29 6 34 5 39 3 35 0 39-3 36-5z"/><path fill="#9ec942" d="M1639 1076l34-10 28-10 26-12 24-12 21-15 19-16 14-16 11-17 6-15 2-10 1-9-2-16-6-16-11-16-13-15-18-14-17-10-26-12-23-9-26-7-34-7-33-4-36-2-28 0-36 2-31 5-36 8-26 8-27 11-24 13-18 13-16 16-13 17-5 11-3 10-2 9-1 9 1 9 3 12 7 19 12 17 18 19 22 18 26 16 25 13 28 11 26 7 32 5 28 2 30 0 30-3z"/><path fill="#a5c83d" d="M1554 1501l28-8 28-10 25-12 22-15 18-16 12-15 9-18 3-10 1-9-1-18-6-19-10-18-12-15-20-19-21-15-23-13-27-13-22-7-27-7-24-4-28-3-28 0-30 3-28 5-26 6-29 9-28 11-30 14-22 14-20 15-14 14-13 16-8 16-4 15 0 18 3 16 5 11 5 7 13 17 18 15 22 13 25 12 30 11 34 8 32 6 33 3 36 1 32-2 37-4z"/><path fill="#a5c83d" d="M1666 1056l26-9 27-11 24-12 22-14 20-16 13-14 11-16 8-17 3-15 0-17-5-16-8-15-11-14-16-14-21-14-20-10-29-12-24-7-33-7-29-4-33-3-35 0-32 2-29 4-30 6-28 7-28 11-25 12-20 13-17 14-12 15-10 16-3 9-3 10 0 18 2 12 3 8 5 12 6 10 14 17 20 18 24 17 28 15 28 12 32 9 31 6 28 2 35 0 30-4 27-5z"/><path fill="#acc739" d="M1575 1484l27-9 25-12 19-11 19-16 13-14 10-16 6-16 2-9 0-9-2-16-8-19-11-18-15-16-18-15-20-14-26-14-25-10-25-8-21-5-25-4-29-1-24 0-31 3-26 5-32 8-29 9-26 11-25 13-22 14-19 16-14 14-10 14-6 15-3 9-2 11 2 17 5 15 11 18 15 16 20 14 23 13 27 12 31 9 37 8 32 4 33 2 39-1 30-3 35-5z"/><path fill="#acc739" d="M1652 1049l26-8 28-11 25-12 23-13 21-15 14-13 12-15 10-18 4-15 1-9 0-9-3-16-7-14-10-14-16-16-16-11-23-13-27-12-25-7-31-8-29-4-28-3-34-1-36 2-32 4-29 5-26 7-27 9-26 12-22 14-15 13-14 14-10 16-3 9-3 10-1 16 1 11 2 8 9 19 12 17 18 19 23 18 28 15 26 12 31 10 29 6 25 4 27 1 33-2 35-5z"/><path fill="#b2c535" d="M1557 1478l26-8 27-10 20-10 21-15 18-16 12-16 7-15 4-17-1-18-5-16-10-18-13-17-17-15-19-15-23-13-26-12-24-8-27-7-24-4-24-2-28 0-30 3-28 4-25 6-24 8-28 10-25 12-23 13-21 15-14 14-12 15-9 16-5 17 0 9 0 8 4 16 3 8 7 10 11 14 18 15 21 13 26 12 30 11 27 6 32 6 36 3 35 1 32-2 37-4z"/><path fill="#b2c535" d="M1641 1040l28-8 28-10 26-12 24-13 21-14 15-14 12-14 10-16 5-14 2-16-2-17-6-15-9-14-12-13-14-12-22-14-25-12-24-8-26-7-33-6-32-4-32-1-30 0-31 3-26 4-34 8-29 9-26 12-23 13-16 13-14 13-10 16-7 16-1 10-1 9 2 16 7 19 12 18 18 19 22 18 22 13 25 12 30 11 27 7 29 4 28 2 33-2 30-3z"/><path fill="#b9c431" d="M1543 1470l25-6 29-10 25-12 22-14 19-16 11-14 8-14 5-17 0-18-3-16-9-18-13-17-16-16-19-14-21-13-27-12-23-9-28-7-24-4-27-2-23 0-27 1-30 5-26 6-24 7-28 10-26 12-23 13-20 15-14 14-12 15-8 15-5 17 0 17 4 14 3 8 7 10 11 14 17 15 17 11 25 12 29 11 27 7 31 5 35 4 37 1 32-1 30-4z"/><path fill="#b9c431" d="M1668 1021l27-10 26-11 23-13 17-12 15-13 13-14 11-16 5-14 3-15-1-14-5-16-8-14-11-13-13-13-21-13-20-10-22-9-24-8-27-6-34-5-30-3-34 0-33 2-27 4-29 5-30 9-28 11-19 10-18 11-15 13-13 14-9 17-3 9-2 10-1 11 1 9 3 11 3 8 11 18 14 17 21 18 25 16 25 12 29 11 27 7 25 4 29 3 34-1 30-3 27-5z"/><path fill="#bfc32d" d="M1560 1455l29-9 21-9 23-14 17-12 13-14 11-15 7-17 2-14-1-17-5-16-10-17-14-17-18-15-20-14-23-12-24-10-24-8-22-5-24-3-28-2-25 0-23 2-27 4-29 7-28 9-27 11-24 12-18 11-19 15-14 14-9 12-8 16-4 16 0 8 1 10 3 10 3 8 9 14 15 16 19 14 23 13 22 9 31 10 29 6 33 5 30 2 34 0 32-3 35-5z"/><path fill="#bfc32d" d="M1652 1014l29-9 27-11 19-10 23-13 20-16 13-14 9-12 8-16 3-14 1-13-4-16-7-15-10-14-13-12-16-12-22-12-25-10-22-8-28-6-31-5-31-3-31-1-25 1-32 4-29 5-25 6-28 10-22 10-20 12-17 14-14 14-10 16-5 18-1 17 3 17 9 18 12 17 16 16 24 17 23 13 27 11 25 8 29 7 26 3 27 1 33-2 28-4z"/><path fill="#c5c22a" d="M1545 1447l30-8 22-8 25-13 17-11 15-13 12-15 9-16 3-15 1-17-4-16-8-15-12-17-16-15-20-15-22-13-21-9-24-9-22-6-24-4-23-2-25-1-25 1-29 4-26 5-25 7-28 10-26 12-23 13-17 13-16 14-10 14-9 16-4 15 0 17 4 16 8 14 10 13 18 16 17 11 25 12 29 10 28 7 31 6 30 2 36 1 32-1 29-4z"/><path fill="#c5c22a" d="M1641 1005l25-7 28-10 26-12 19-10 20-15 15-13 12-15 7-13 5-14 1-16-2-14-6-15-9-14-12-12-15-12-23-13-21-10-24-8-27-7-30-5-28-3-32-1-32 1-30 3-27 5-25 6-29 10-20 10-19 10-18 14-13 14-9 14-4 9-3 9-1 9 0 9 3 16 8 19 13 17 16 16 19 14 23 13 27 12 24 8 29 6 25 4 30 1 29-1 29-4z"/><path fill="#cbc029" d="M1568 1430l26-10 20-9 18-12 15-12 13-15 8-12 5-14 1-9 1-9-3-16-6-15-9-14-15-17-18-15-21-12-21-11-22-9-23-6-25-6-22-2-25-2-25 1-25 3-28 4-25 7-23 7-23 9-24 12-18 11-15 12-14 15-12 15-6 13-3 15 0 8 1 9 4 15 4 7 7 11 16 16 20 14 24 12 23 9 25 8 30 6 35 4 31 1 33-1 31-3 27-4z"/><path fill="#cbc029" d="M1670 985l27-10 20-9 19-11 21-15 14-13 12-15 7-13 4-14 1-13-3-16-6-16-8-11-12-12-15-12-16-9-22-11-25-9-25-7-22-4-28-4-29-2-32 1-28 2-27 3-26 6-24 7-22 8-25 13-17 11-15 13-12 15-7 13-3 9-2 10 1 17 5 16 10 18 14 16 21 18 21 14 26 12 23 8 30 8 29 5 30 1 28-1 29-3 27-5z"/><path fill="#d1bf27" d="M1549 1424l26-8 22-9 24-12 16-12 14-14 10-14 7-15 2-15 0-13-5-15-7-15-13-17-17-15-16-11-24-14-21-8-21-8-25-6-24-3-21-2-26 0-24 1-29 5-26 5-24 7-22 9-21 10-22 12-17 13-14 13-12 15-6 13-4 15-1 9 1 8 4 16 8 14 12 13 18 15 22 13 22 10 24 8 28 7 32 5 32 2 27 0 32-1 29-4z"/><path fill="#d1bf27" d="M1653 978l24-7 22-9 20-9 23-14 15-13 14-13 10-14 7-15 3-15-1-13-3-13-7-14-11-13-13-12-17-11-21-12-22-9-23-6-29-7-27-4-29-2-27 0-30 2-24 2-27 6-25 6-22 8-24 12-19 11-16 13-12 15-7 12-5 15-1 9 0 9 3 16 9 18 13 17 17 15 20 14 24 13 22 9 26 8 30 5 27 3 29 0 24-1 29-4z"/><path fill="#d6be28" d="M1536 1416l25-6 23-8 25-12 17-12 12-9 13-15 10-16 4-14 1-14-3-16-7-16-9-13-12-13-19-15-17-11-22-11-21-8-25-7-23-5-26-2-21-1-25 1-21 2-28 5-25 6-23 8-27 11-19 10-17 12-16 13-12 14-10 16-5 15-1 9 1 9 4 16 8 14 11 13 14 12 17 11 26 12 23 9 27 7 24 4 31 3 28 2 33-2 30-3z"/><path fill="#d6be28" d="M1641 970l28-8 22-8 20-10 19-10 17-12 15-13 12-15 7-13 4-14 1-14-2-15-6-12-9-14-13-13-16-11-18-11-21-9-25-8-28-7-27-4-30-2-27-1-26 1-28 4-27 5-25 6-23 8-20 10-18 11-16 12-13 14-8 12-5 15-2 9 0 9 3 17 7 14 9 14 16 16 19 15 22 13 21 9 25 8 28 7 25 3 28 2 25-1 30-3z"/><path fill="#dcbd29" d="M1556 1400l19-7 21-9 19-10 16-13 14-14 8-11 6-15 2-14 0-13-5-16-8-14-14-16-14-13-20-14-20-10-22-9-25-7-23-5-24-3-19-1-25 1-23 2-22 3-26 6-23 7-28 11-19 10-18 11-14 11-14 14-9 13-6 13-3 16 0 9 2 8 5 15 10 14 13 12 19 15 20 10 22 9 25 7 30 6 31 4 28 2 34-1 30-3 27-5z"/><path fill="#dcbd29" d="M1679 947l19-8 20-10 18-11 16-13 13-14 8-12 6-15 3-13-1-13-3-12-6-11-10-14-13-12-17-11-19-10-18-8-23-7-23-6-30-4-24-3-25 0-25 1-25 2-26 4-21 5-24 7-22 9-19 10-17 12-14 13-9 12-7 13-3 15-1 9 1 8 5 16 10 18 15 16 18 15 23 13 26 12 24 8 29 6 26 3 32 1 27-1 28-5 33-7z"/><path fill="#e1bc2b" d="M1540 1393l21-6 22-9 20-10 18-11 14-13 10-11 7-14 4-15 1-15-4-14-7-15-10-13-13-14-19-13-20-12-19-8-24-8-21-6-24-3-18-2-24-1-23 2-23 2-27 5-25 7-22 8-21 10-22 12-17 13-12 11-10 14-7 13-3 15 0 14 5 16 8 14 12 13 15 12 17 11 21 9 24 8 28 7 27 5 31 2 26 0 25-1 29-3z"/><path fill="#e1bc2b" d="M1654 943l25-8 22-9 19-11 17-11 15-13 10-11 8-12 5-13 2-16-1-12-4-12-6-12-11-13-14-11-17-11-17-9-22-8-24-7-22-5-30-4-29-2-26 1-23 1-27 4-25 5-21 6-23 9-19 9-17 11-12 10-13 15-7 12-5 16 0 15 3 15 4 7 6 11 10 13 17 16 21 14 20 10 22 8 26 8 25 5 31 2 26 0 31-2 27-5z"/><path fill="#e6bb2d" d="M1528 1384l25-6 22-8 21-10 18-11 15-12 10-11 8-13 4-15 1-14-2-13-6-14-9-14-12-13-18-15-18-10-21-10-23-8-21-6-23-4-18-2-22 0-25 0-23 3-27 5-24 7-23 8-21 9-19 10-16 12-14 14-9 11-7 13-4 14-1 15 3 12 7 15 11 13 14 12 17 11 20 10 24 8 27 7 23 4 26 3 32 1 27-1 30-3z"/><path fill="#e6bb2d" d="M1642 935l23-7 22-8 20-10 19-11 16-12 10-10 9-12 8-14 3-14 1-14-3-12-6-12-9-12-14-13-16-11-14-8-22-9-18-6-23-6-29-4-26-3-27 0-25 1-28 3-22 4-25 6-22 8-21 10-18 11-15 13-10 11-8 13-5 15-1 14 4 15 6 15 10 14 17 16 20 14 19 10 22 9 25 7 23 5 26 3 31 1 24-2 21-3z"/><path fill="#eaba31" d="M1548 1368l19-7 21-9 18-10 13-9 13-14 8-12 6-14 2-11-1-13-5-16-7-12-9-12-14-12-16-12-18-10-22-9-18-6-23-6-22-3-21-2-26 0-20 1-25 4-26 5-18 6-22 8-21 10-18 10-16 13-10 10-9 11-7 16-3 14 0 8 1 8 4 12 9 14 13 13 15 11 19 11 21 9 26 8 29 6 26 3 26 1 26 0 31-3 28-4z"/><path fill="#eaba31" d="M1632 925l24-6 17-6 22-9 19-10 17-11 15-14 9-11 8-14 5-14 0-14-2-12-5-11-10-14-11-10-14-11-15-8-20-9-23-8-22-5-24-4-25-3-27-1-25 1-24 3-27 4-23 6-19 6-20 9-20 11-13 10-13 13-8 13-6 15-1 13 2 13 5 15 9 14 12 13 19 15 18 11 21 9 24 8 21 5 24 4 29 2 26 0 30-4z"/><path fill="#efba35" d="M1533 1360l20-5 22-9 20-9 13-9 11-9 13-15 7-13 4-14 0-15-3-12-7-13-8-12-13-13-15-11-18-11-21-9-21-7-18-5-21-3-21-2-21-1-25 1-26 3-20 4-24 7-23 8-21 10-15 9-13 9-13 12-9 11-8 15-4 14 1 13 3 12 8 15 8 10 14 12 17 11 20 9 17 7 27 7 27 5 30 3 27 0 25-1 29-3z"/><path fill="#efba35" d="M1658 907l18-7 21-9 18-10 13-9 11-10 13-15 7-12 4-12 1-13-3-13-4-11-7-11-9-9-15-12-18-11-15-7-24-8-20-6-23-4-25-3-28-1-25 1-20 1-24 4-26 6-18 5-16 7-18 9-16 11-14 11-9 11-7 13-4 14 0 16 5 15 8 15 11 13 18 15 17 11 21 9 23 9 21 5 23 4 28 2 26 0 30-3 27-5z"/><path fill="#f3ba39" d="M1522 1352l22-6 23-8 20-9 13-9 16-12 10-11 7-12 4-13 1-13-1-12-5-12-9-14-12-13-14-12-18-10-15-8-17-6-19-6-24-5-21-3-23-1-22 1-23 2-20 3-20 5-23 7-22 9-19 10-17 12-12 11-11 13-6 11-5 15 0 13 3 12 5 11 8 10 13 13 16 11 19 10 23 8 20 6 22 4 26 4 27 1 25 0 31-3z"/><path fill="#f3ba39" d="M1644 899l17-5 22-9 15-7 19-11 12-9 14-14 8-12 6-13 2-12-1-13-4-12-6-10-8-10-14-13-17-10-15-8-16-6-19-6-22-5-24-4-27-2-24 0-27 1-21 3-27 6-18 5-22 8-15 7-18 12-11 9-10 11-7 12-5 14 0 16 2 12 8 15 10 13 13 13 16 11 19 10 23 9 26 8 23 4 25 2 26 1 24-2 22-3z"/><path fill="#f7ba3c" d="M1544 1335l20-8 15-7 18-10 12-10 10-10 8-12 5-12 2-12-1-13-5-13-6-11-10-12-12-10-16-11-19-10-16-7-19-6-19-4-23-4-20-1-17-1-26 2-27 4-19 4-18 6-22 8-16 7-18 11-12 9-10 11-9 11-6 13-3 12 1 15 4 14 10 14 13 12 16 12 14 7 22 9 19 6 22 5 25 3 29 2 24 0 31-3 27-5z"/><path fill="#f7ba3c" d="M1634 890l18-5 23-8 20-10 14-8 16-12 11-10 9-12 5-11 3-11 1-12-2-12-6-11-7-10-13-13-12-8-18-11-20-8-22-6-21-5-23-3-21-2-26-1-22 2-24 2-20 4-22 6-20 7-20 10-18 11-11 10-8 9-7 11-4 12-2 12 2 13 6 15 9 14 13 13 15 11 19 10 21 10 19 6 21 4 26 4 23 1 25-1 23-2z"/><path fill="#fabc3d" d="M1529 1327l21-6 16-7 15-7 17-11 11-10 10-11 6-13 3-12 0-13-3-12-6-12-8-11-11-11-16-12-13-8-20-8-18-7-23-5-16-3-21-2-18 0-25 1-21 2-21 4-18 5-23 8-16 7-16 9-14 10-12 11-9 11-6 12-4 13 0 13 4 15 7 11 9 10 14 12 18 10 16 8 24 8 21 5 24 3 27 3 26 0 24-2 22-3z"/><path fill="#fabc3d" d="M1625 880l24-6 17-6 16-7 20-10 12-9 12-10 12-13 6-11 4-12 1-12-2-12-5-11-7-11-9-9-11-9-18-10-22-10-18-6-19-4-23-4-22-2-26-1-25 1-22 3-20 4-19 4-23 8-15 7-18 11-12 10-10 10-8 12-4 13-1 13 2 12 7 15 10 14 13 12 17 11 14 8 16 7 25 8 22 5 19 2 20 1 25 0 23-2z"/><path fill="#fdbd3d" d="M1518 1318l23-6 17-6 15-7 14-8 12-9 12-13 7-11 5-12 1-12-2-11-4-13-7-10-9-10-14-12-17-11-15-7-17-7-19-6-20-4-21-2-20-1-24 1-23 2-20 4-19 5-17 5-21 9-15 8-12 9-14 11-10 13-6 11-3 12 0 11 2 12 6 11 8 11 13 12 13 8 19 10 18 6 19 6 23 4 26 4 26 1 25-1 22-3z"/><path fill="#fdbd3d" d="M1651 861l18-6 15-7 19-10 12-10 11-10 9-11 5-11 3-9 1-10-1-12-5-11-7-11-9-9-11-9-13-8-19-9-19-7-22-5-18-3-23-3-20-1-24 0-22 2-21 3-20 5-23 7-16 7-16 8-13 10-9 9-9 11-6 11-3 14 1 13 3 12 9 14 12 13 14 12 18 10 16 7 18 6 20 6 24 4 29 2 25-1 22-3 21-3z"/><path fill="#fec03b" d="M1509 1309l23-6 17-6 16-6 14-8 13-9 11-10 8-12 5-11 3-12-1-12-5-14-6-10-9-10-10-9-17-12-14-7-17-7-20-6-21-4-15-2-19-2-18 0-23 2-22 3-22 5-15 5-17 6-20 10-17 11-11 10-8 10-7 11-4 12-1 12 2 12 5 11 8 10 13 12 13 9 14 7 17 7 19 6 22 5 25 3 20 1 23 0 24-2z"/><path fill="#fec03b" d="M1639 853l21-7 16-6 14-8 14-8 12-10 10-10 7-12 5-12 1-13-1-9-4-11-7-10-9-10-11-9-14-8-15-8-17-6-20-5-23-5-17-2-20-1-23 0-24 2-21 3-20 4-18 6-16 6-15 7-13 9-11 10-9 9-7 12-3 12-1 11 3 13 7 14 11 13 10 10 16 11 15 7 17 7 19 6 22 4 26 3 26 1 23-2 22-3z"/><path fill="#fec339" d="M1529 1292l17-5 16-7 14-8 12-9 11-10 8-12 5-11 1-10 0-9-3-11-5-11-8-10-10-10-16-11-14-8-16-7-18-6-14-3-24-4-19-1-37 1-23 3-17 3-21 6-16 7-16 7-13 8-13 9-10 10-8 12-4 9-3 12 1 12 4 12 6 10 9 10 15 12 14 8 22 9 19 5 23 5 23 3 19 1 17 0 24-2 22-3z"/><path fill="#fec339" d="M1630 843l21-6 16-6 15-7 14-8 12-9 11-11 8-11 4-9 3-10 0-11-3-12-6-10-8-10-11-10-12-8-15-7-18-8-16-4-16-4-25-4-19-1-24 0-23 1-20 3-22 5-17 5-17 6-15 8-12 8-12 10-9 11-5 9-3 12 0 13 3 12 5 11 11 13 10 9 17 11 15 8 16 6 20 6 23 4 17 2 24 1 24-1 22-3z"/><path fill="#fec636" d="M1518 1283l19-5 16-7 15-7 13-9 11-10 9-11 4-9 3-9 0-11-3-12-5-11-8-10-9-10-12-8-13-8-16-7-18-6-15-4-34-5-18-1-24 1-16 1-20 4-20 5-17 6-15 7-14 7-14 10-10 9-9 11-4 9-3 10-1 11 3 12 5 11 8 10 11 9 17 11 15 7 18 6 20 5 18 3 25 3 23 0 24-1 22-3z"/><path fill="#fec636" d="M1622 833l19-5 17-6 16-7 14-7 13-9 11-10 8-11 5-9 3-10 1-10-3-13-5-9-6-8-9-10-12-8-14-8-16-7-19-6-20-4-17-3-19-2-21 0-19 0-24 3-19 3-18 5-17 6-16 8-13 8-12 9-8 9-6 10-4 12-1 13 2 12 6 11 7 10 14 13 12 8 14 8 17 7 18 5 21 5 19 2 20 1 18 0 23-2z"/><path fill="#fec934" d="M1509 1274l19-5 17-6 15-7 13-9 12-9 8-10 6-10 3-9 1-11-1-8-5-11-6-11-9-10-11-8-13-9-15-7-18-6-13-4-32-5-18-1-18 0-22 1-19 3-16 4-18 5-16 7-15 7-13 9-11 9-8 9-6 12-4 10 0 13 2 8 5 11 8 10 10 9 12 9 15 7 17 7 20 5 23 4 18 2 21 1 19-1 23-2z"/><path fill="#fec934" d="M1616 822l16-3 17-6 17-6 14-8 13-8 12-10 8-9 6-10 3-9 1-11-1-9-4-11-4-7-9-10-11-9-13-8-16-7-19-6-20-5-16-3-17-2-21 0-19 0-22 2-34 7-18 6-15 7-13 6-13 10-8 7-8 12-4 11-2 9 1 13 4 11 7 11 9 9 15 12 14 8 16 7 18 6 15 3 23 4 20 1 24 0z"/><path fill="#fdcc32" d="M1501 1263l17-4 18-5 11-5 14-7 13-9 10-10 6-8 5-9 2-10 0-11-3-10-6-10-8-10-10-10-13-8-14-7-15-6-16-5-21-4-14-2-19-1-18 0-22 2-14 3-19 4-18 6-15 7-14 8-13 9-7 6-8 10-6 10-2 10-1 11 3 10 6 11 8 10 11 9 9 5 15 8 11 4 19 6 23 4 17 2 20 1 19 0 23-2z"/><path fill="#fdcc32" d="M1645 802l12-4 15-7 14-8 11-10 7-7 8-11 4-10 2-10-1-8-2-8-4-7-8-11-6-6-12-8-14-8-14-6-17-6-19-4-35-4-34 0-35 5-17 4-17 5-16 7-9 5-13 9-7 7-8 9-6 11-2 10 0 13 4 11 7 11 12 13 12 8 14 8 16 7 19 6 14 3 22 3 24 1 20-1 22-2 20-4z"/><path fill="#fccf31" d="M1532 1243l11-5 15-7 8-6 11-10 6-7 5-9 3-9 0-9-1-9-4-11-5-7-9-9-11-9-8-6-15-7-15-6-29-7-31-3-33 1-17 2-18 3-29 10-16 7-13 8-12 10-6 7-6 8-4 8-2 10 1 12 3 8 6 11 9 9 12 9 14 8 17 6 19 6 22 4 19 2 20 1 24-1 22-3 20-5z"/><path fill="#fccf31" d="M1634 793l14-4 16-7 22-14 8-6 9-11 5-8 3-9 1-10-1-8-3-8-6-10-6-7-11-9-13-8-11-4-27-10-18-3-18-3-37-1-19 1-18 3-14 3-18 5-16 6-10 5-12 8-10 8-8 10-5 8-3 10 0 13 3 12 7 10 8 10 11 9 14 8 15 7 12 4 21 6 17 2 20 2 17 0 24-2 20-3z"/><path fill="#fbd22f" d="M1517 1236l12-4 15-7 14-8 8-6 7-7 7-10 3-6 2-10 0-12-3-7-4-9-7-9-11-9-8-6-13-7-12-5-26-8-15-3-18-1-17-1-18 1-16 2-18 3-30 10-14 6-10 6-12 9-7 7-6 8-4 8-3 10 0 11 3 9 6 10 9 10 12 8 9 6 16 7 19 6 14 3 24 3 19 1 17 0 23-2z"/><path fill="#fbd22f" d="M1627 783l28-10 10-4 13-9 12-9 6-8 5-8 4-9 1-8-1-9-2-7-6-11-6-7-11-9-9-5-15-7-28-9-18-4-18-2-35-1-15 2-21 3-31 8-14 6-11 7-9 5-8 8-8 10-4 8-3 11 1 11 2 8 7 11 8 10 7 5 13 9 15 7 18 6 13 4 34 5 17 0 18-1 21-2z"/><path fill="#fad52d" d="M1509 1225l27-9 9-5 13-9 8-6 6-8 5-11 2-9 0-9-2-7-4-8-8-10-10-9-8-6-9-5-16-7-27-7-30-4-29 0-16 2-17 3-12 3-18 6-10 5-14 8-16 13-6 7-6 10-2 10 0 9 2 8 6 11 9 9 8 6 13 8 10 5 12 4 20 5 16 3 18 2 22 0 18-1 14-2z"/><path fill="#fad52d" d="M1622 772l29-10 10-5 13-8 11-10 6-7 5-8 3-8 1-9-1-8-3-8-4-7-8-8-9-7-8-6-16-7-14-5-14-4-19-3-15-2-19 0-16 0-29 4-25 6-12 4-15 8-13 8-7 7-6 7-5 9-2 7-1 9 3 12 4 8 7 10 7 6 12 8 14 8 17 7 13 3 15 3 18 2 21 1 18-1 14-2z"/><path fill="#f9d82c" d="M1503 1215l18-6 11-4 9-5 13-9 7-7 6-7 4-9 2-6 0-9-2-8-4-8-7-10-6-6-12-8-20-10-26-8-25-3-18-1-15 0-31 4-12 3-18 6-10 5-14 8-8 6-7 7-6 7-4 9-2 6-1 9 2 8 6 11 5 6 11 9 13 8 11 5 12 4 16 4 12 3 21 2 18 0 16-1 15-1z"/><path fill="#f9d82c" d="M1618 760l18-5 11-4 19-11 8-6 7-7 6-7 5-10 1-9 0-9-3-7-4-8-5-6-7-6-13-9-9-4-24-9-15-3-18-3-17-1-20 0-29 4-26 6-11 4-13 7-10 6-8 7-6 7-6 8-3 10 0 9 2 8 3 8 8 10 6 6 12 9 15 7 17 6 14 4 16 3 18 1 33-1z"/><path fill="#f7db2a" d="M1499 1203l18-5 11-5 9-5 9-6 7-6 6-7 5-8 1-5 1-9-1-8-3-8-5-7-5-6-12-9-19-10-25-8-28-5-28 0-28 4-25 6-11 4-14 8-16 12-6 8-5 8-3 9 0 9 2 8 4 7 6 7 6 6 8 5 15 8 24 8 15 3 17 2 18 1 17 0 15-2z"/><path fill="#f7db2a" d="M1615 748l17-4 10-5 19-10 8-6 7-7 6-8 4-8 1-6 0-8-3-8-3-7-6-7-7-6-12-8-10-5-24-8-15-3-16-2-28-1-30 3-25 6-12 4-13 7-10 6-8 7-6 7-4 8-2 10 0 6 2 10 4 7 8 10 7 6 13 8 10 5 18 6 14 3 27 4 29-1z"/><path fill="#f6de29" d="M1496 1191l22-7 10-5 9-5 8-6 7-8 4-8 3-7 0-9-2-8-3-7-5-7-7-6-7-6-20-10-26-7-24-4-26 0-29 4-24 7-20 10-8 6-7 7-6 7-3 6-3 8 0 6 2 8 3 8 5 7 7 6 12 8 11 5 18 6 13 3 27 3 29 0z"/><path fill="#f6de29" d="M1614 736l24-8 19-11 8-6 6-7 4-5 3-8 2-7-1-8-2-8-5-7-6-6-7-6-17-10-13-5-14-4-24-3-22-1-31 2-26 6-11 4-13 6-14 11-7 7-5 8-2 7 0 9 1 8 4 7 5 7 6 6 13 9 9 5 24 8 15 3 17 2 18 0 16-1z"/><path fill="#f5e228" d="M1495 1178l24-8 9-5 8-6 10-11 4-8 2-5 0-6-1-7-3-7-5-7-7-6-8-6-19-10-20-6-26-3-26 0-22 3-24 7-20 10-9 6-6 6-8 12-1 5 0 9 2 8 4 7 5 7 8 6 8 5 11 5 12 4 13 3 26 4 17 0 16-1z"/><path fill="#f5e228" d="M1615 722l23-9 18-11 10-10 4-8 2-5 0-6-1-7-3-8-5-7-6-6-8-6-15-7-12-4-14-4-24-3-23 0-25 3-25 6-20 10-9 6-7 7-4 7-3 5-1 5 0 9 2 7 5 8 5 6 11 9 9 5 11 5 13 4 14 3 27 3 26-2z"/><path fill="#f5e526" d="M1498 1164l16-6 9-5 8-6 6-6 4-6 3-9 0-5-1-6-2-6-8-11-7-6-9-5-15-7-20-5-22-3-25 1-21 3-18 5-11 5-9 5-8 6-5 6-4 5-3 6-2 9 1 5 2 7 5 7 6 7 8 5 10 5 11 5 21 5 29 2 24-1z"/><path fill="#f5e526" d="M1591 714l20-4 17-6 19-11 10-10 3-4 4-9 0-6 0-5-3-7-4-7-10-9-9-5-11-5-19-6-27-4-26 1-14 1-13 3-21 7-11 6-7 6-7 7-3 5-3 6-1 8 1 7 2 6 5 7 6 6 12 8 22 9 22 5 23 1z"/><path fill="#f5e825" d="M1473 1157l25-7 15-7 12-9 4-3 5-9 1-4 0-7-1-5-3-7-8-10-8-5-10-5-18-7-18-3-19-1-25 2-24 6-15 7-12 9-6 8-3 4-1 4-1 8 1 4 3 7 8 10 13 8 17 7 21 5 23 1z"/><path fill="#f5e825" d="M1593 700l24-6 16-7 12-9 3-4 6-8 1-5 1-7-1-4-3-7-8-10-13-9-17-6-22-5-22-1-24 1-19 5-17 6-13 8-7 7-4 6-3 10 1 4 2 8 7 10 7 6 9 6 16 7 21 4 23 2z"/><path fill="#f5eb23" d="M1476 1142l16-4 15-7 12-10 4-6 2-5 1-9-2-5-3-6-10-9-14-8-17-6-18-2-21 0-15 1-19 5-15 7-11 9-6 9-2 4 0 8 0 4 4 7 10 9 14 8 19 6 17 2 21 0z"/><path fill="#f5eb23" d="M1599 685l18-6 14-8 7-6 4-4 4-9 0-5 0-6-5-9-9-8-14-8-19-5-17-3-22 0-18 2-15 5-15 7-12 9-5 8-2 5 0 7 1 5 4 6 10 10 14 8 19 5 16 3 21 0z"/><path fill="#f5ed22" d="M1463 1130l16-3 12-4 14-8 6-7 3-7 1-9-3-7-10-10-14-7-13-4-17-2-17 0-21 3-17 6-12 9-6 8-1 5-1 5 2 7 7 8 8 6 16 7 14 3 20 1z"/><path fill="#f5ed22" d="M1585 673l14-3 16-7 9-5 7-7 4-9 1-6-3-8-9-9-15-8-13-4-19-2-17 0-14 2-18 5-14 8-7 8-3 6 0 4 1 8 5 8 11 8 16 7 14 3 19 2z"/><path fill="#f5ee21" d="M1477 1121l16-6 8-6 7-7 2-7-1-9-4-7-11-9-10-4-14-4-17-2-16 1-14 3-11 3-10 6-8 6-5 8-1 5 1 6 4 7 3 3 7 6 11 5 13 3 18 2 18-1z"/><path fill="#f5ee21" d="M1579 667l17-3 11-4 10-5 8-6 5-8 1-7-3-8-5-7-12-8-12-4-17-3-18 0-15 1-18 6-14 8-6 7-2 7 0 4 1 5 7 10 8 5 10 5 14 3 17 2z"/><path fill="#f6ef20" d="M1469 1116l15-5 10-5 7-7 3-6 1-4-1-4-4-8-6-6-10-5-12-4-14-2-14 0-10 1-13 3-11 4-8 6-4 4-3 5-1 5 0 4 3 7 7 7 9 5 12 4 17 2 11 0z"/><path fill="#f6ef20" d="M1595 657l9-3 9-5 8-7 4-8 0-6-4-8-6-6-12-6-15-4-11-1-11 0-16 1-15 5-9 4-5 4-5 8-2 5 1 5 3 8 7 6 9 5 13 4 16 2 15 0z"/><path fill="#f6f01f" d="M1462 1111l13-3 11-5 5-4 6-6 2-5 0-5-1-4-5-6-8-6-11-5-10-2-16-1-11 1-13 3-10 4-9 6-3 4-2 5-1 5 1 4 5 7 7 5 11 5 14 3 11 1z"/><path fill="#f6f01f" d="M1586 653l14-4 10-5 7-7 2-5 1-5-2-7-4-4-8-6-11-4-13-3-11-1-14 1-14 3-10 4-6 4-5 7-2 5 0 4 1 4 5 7 8 6 11 4 15 3 14 0z"/><path fill="#f6f11e" d="M1456 1105l10-1 12-4 9-5 3-3 3-5 1-5-2-6-3-5-8-5-12-5-17-2-11 0-13 3-11 5-6 3-5 7-2 5 1 4 1 4 6 6 5 3 11 4 7 2 9 1z"/><path fill="#f6f11e" d="M1580 648l11-3 11-4 6-4 5-6 1-5 0-4-2-4-6-7-9-5-14-3-9-1-14 0-13 3-11 5-6 5-4 5-1 5 2 8 7 6 4 3 10 4 9 2 13 1z"/><path fill="#f6f21e" d="M1451 1100l18-2 5-2 9-6 3-3 2-5 0-6-4-6-8-5-5-3-15-3-11 0-8 1-12 4-9 5-3 4-3 4 0 5 3 7 4 3 4 3 12 4z"/><path fill="#f6f21e" d="M1574 643l14-2 6-2 9-6 3-3 3-5 0-5-4-6-7-6-6-2-10-3-15-1-11 1-12 4-8 5-4 4-2 4 0 5 2 4 6 6 5 3 12 4z"/><path fill="#f7f31d" d="M1462 1094l9-3 5-2 6-7 1-5-1-4-2-3-8-6-13-4-10 0-8 0-7 2-10 4-8 7-1 4 1 4 2 4 7 6 6 2 11 2 9 0z"/><path fill="#f7f31d" d="M1570 638l14-2 6-2 9-5 3-4 2-4-1-4-2-4-8-6-5-2-16-3-12 1-7 2-10 4-4 3-3 4 0 5 3 7 3 3 11 5 7 1z"/><path fill="#f7f31c" d="M1455 1090l13-3 4-3 4-3 2-4-1-4-1-4-4-3-11-4-8-1-8 0-7 1-11 4-4 3-2 4 0 4 1 4 8 6 6 2 8 1z"/><path fill="#f7f31c" d="M1580 632l12-4 4-4 2-4 0-4-1-3-8-6-6-2-11-2-15 2-11 4-3 4-2 4 0 4 2 4 8 5 14 3z"/><path fill="#f7f41c" d="M1450 1086l9-1 5-2 5-2 3-4 1-4-2-3-3-4-5-2-7-2-7 0-8 1-6 1-5 3-3 3-1 5 1 3 3 3 4 3 7 2z"/><path fill="#f7f41c" d="M1574 629l10-3 4-2 4-4 1-5-1-2-3-3-5-3-6-2-11-1-13 3-4 3-3 4-1 3 1 2 4 5 5 3 7 1z"/><path fill="#f7f41c" d="M1446 1082l9 0 6-2 4-3 2-3-1-4-3-3-5-2-8-2-11 2-5 3-3 4 0 3 3 3 5 3z"/><path fill="#f7f41c" d="M1569 625l11-2 5-3 3-4-1-3-2-3-5-3-8-1-8 0-6 2-4 3-2 5 0 2 4 3 5 3z"/><path fill="#f7f51b" d="M1457 1077l4-4 1-2-3-3-6-2-11 0-4 3-1 3 1 4 6 2 7 0z"/><path fill="#f7f51b" d="M1566 621l11-1 4-3 1-3-1-3-6-3-8 0-6 2-4 3 0 2 3 4z"/><path fill="#f7f51b" d="M1450 1075l4-1 1-1 0-4-10-1-3 4 1 1z"/><path fill="#f7f51b" d="M1564 616l10 1 2-4 0-1-4-2-7 1-2 1z"/></g></g><g font-family="Liberation Sans, sans-serif" fill="#262626"><text transform="translate(142.7 269.7) scale(.94 1)" text-anchor="start" font-size="13.2" >0</text><text transform="translate(127.4 267.8) scale(.94 1)" text-anchor="end" font-size="13.2" >0</text><text transform="translate(208.6 244.4) scale(.94 1)" text-anchor="start" font-size="13.2" >0.5</text><text transform="translate(76.8 234.8) scale(.94 1)" text-anchor="end" font-size="13.2" >0.5</text><text transform="translate(274.6 219.1) scale(.94 1)" text-anchor="start" font-size="13.2" >1</text><text transform="translate(26.2 201.9) scale(.94 1)" text-anchor="end" font-size="13.2" >1</text><text transform="translate(26.8 184.9) scale(.94 1)" text-anchor="end" font-size="13.2" >2</text><text transform="translate(26.8 157.2) scale(.94 1)" text-anchor="end" font-size="13.2" >2.2</text><text transform="translate(26.8 128.0) scale(.94 1)" text-anchor="end" font-size="13.2" >2.4</text><text transform="translate(26.8 98.8) scale(.94 1)" text-anchor="end" font-size="13.2" >2.6</text></g><text transform="translate(210.3 270.5) scale(1.12 1)" font-family="Liberation Serif, serif" font-style="italic" font-size="14" fill="#262626" text-anchor="middle">x<tspan font-style="normal" font-size="10" dy="2.5">1</tspan></text><text transform="translate(68.0 266.3) scale(1.12 1)" font-family="Liberation Serif, serif" font-style="italic" font-size="14" fill="#262626" text-anchor="middle">x<tspan font-style="normal" font-size="10" dy="2.5">2</tspan></text><line x1="471.00" y1="251.30" x2="602.86" y2="200.71" stroke="#262626" stroke-width="0.80"/><line x1="471.00" y1="251.30" x2="369.82" y2="185.37" stroke="#262626" stroke-width="0.80"/><line x1="369.82" y1="185.37" x2="369.82" y2="76.17" stroke="#262626" stroke-width="0.80"/><line x1="471.00" y1="251.30" x2="474.27" y2="253.43" stroke="#262626" stroke-width="0.80"/><line x1="471.00" y1="251.30" x2="467.36" y2="252.70" stroke="#262626" stroke-width="0.80"/><line x1="536.93" y1="226.01" x2="540.20" y2="228.14" stroke="#262626" stroke-width="0.80"/><line x1="420.41" y1="218.34" x2="416.77" y2="219.73" stroke="#262626" stroke-width="0.80"/><line x1="602.86" y1="200.71" x2="606.12" y2="202.84" stroke="#262626" stroke-width="0.80"/><line x1="369.82" y1="185.37" x2="366.18" y2="186.77" stroke="#262626" stroke-width="0.80"/><line x1="369.82" y1="185.37" x2="366.14" y2="182.97" stroke="#262626" stroke-width="0.80"/><line x1="369.82" y1="156.14" x2="366.14" y2="153.73" stroke="#262626" stroke-width="0.80"/><line x1="369.82" y1="126.90" x2="366.14" y2="124.50" stroke="#262626" stroke-width="0.80"/><line x1="369.82" y1="97.66" x2="366.14" y2="95.26" stroke="#262626" stroke-width="0.80"/><clipPath id="c2"><path transform="scale(.1)" d="M4748 2318l17-5 22-10 22-14 22-16 16-13 22-19 77-70 28-25 27-23 28-20 27-18 28-14 27-11 22-6 22-4 27-3 22 1 28 3 22 4 27 7 33 10 90 29 31 8 28 7 33 5 29 4 31 1 33-1 38-3 39-6 44-9 44-12 49-14 61-20 71-24 94-34-68-42-72-48-59-42-46-36-42-36-21-20-21-21-21-23-17-19-34-41-29-40-34-48-30-45-76-118-29-43-38-53-17-26-22-35-33-60-32-62-40-81-64-136-42-84-18-33-19-35-14-24-16-27-18-25-19-26-15-16-9-10-16-15-16-12-9-5-10-5-16-6-15-3-8 0-12 1-17 4-9 3-9 5-16 10-19 16-18 17-15 19-19 25-18 26-20 33-20 34-18 34-42 83-77 162-39 80-40 78-34 58-17 26-13 19-16 23-12 15-83 90-49 52-33 32-28 25-27 24-28 22-27 21-28 19-27 17-33 20-33 18-33 16-39 19-43 19-50 21-55 21-55 21-55 20 72 44 55 33 46 27 38 20 34 16 33 15 30 10 29 8 26 5 24 2 22 0 25-2 22-3 23-5 69-18 26-6 21-4 17-2 21 0 16 2 22 6 16 6 21 12 22 15 21 18 21 21 21 25 21 26 69 92 24 31 25 29 21 21 13 10 8 5 11 6 10 3 9 2 24 1 11-1z"/></clipPath><g clip-path="url(#c2)"><g transform="scale(.1)" fill-rule="evenodd"><path fill="#3e27ab" d="M4710 2320l16 1 11-1 11-2 22-7 28-15 27-19 28-22 115-104 28-23 27-21 28-18 27-15 28-12 27-8 22-4 27-3 22 1 28 3 22 4 27 7 121 38 33 9 28 7 33 5 27 3 33 2 33-1 38-3 39-6 44-9 44-12 49-14 61-20 165-58-47-28-50-33-47-32-42-30-34-25-33-27-30-26-29-27-30-31-25-28-26-30-29-39-51-73-84-131-29-44-30-41-29-37-17-18-17-16-17-14-17-12-17-9-17-7-16-4-22-4-21 0-25 3-29 6-64 16-29 7-30 4-29 1-33-5-39-8-38-11-104-32-28-7-27-5-33-3-33 1-17 2-16 3-28 9-27 12-28 16-27 20-33 27-28 25-33 33-120 130-61 61-33 30-33 29-33 26-33 23-38 25-39 23-44 23-49 24-60 27-66 27-72 27-66 24 127 77 46 27 38 20 34 16 33 15 30 10 29 8 26 5 25 2 21 0 25-2 22-3 25-5 93-24 21-4 17-2 21 0 16 2 22 6 16 6 21 12 22 15 21 18 21 21 21 25 21 26 88 118 21 25 22 22 21 18 16 10 17 5z"/><path fill="#3f29b1" d="M4710 2320l16 1 11-1 11-2 22-7 28-15 27-19 28-22 115-104 28-23 27-21 28-18 27-15 28-12 27-8 22-4 27-3 22 1 28 3 22 4 27 7 121 38 33 9 28 7 33 5 27 3 33 2 33-1 38-3 39-6 44-9 44-12 49-14 61-20 165-58-47-28-50-33-47-32-42-30-34-25-33-27-30-26-29-27-30-31-25-28-26-30-29-39-51-73-84-131-29-44-30-41-29-37-17-18-17-16-17-14-17-12-17-9-17-7-16-4-22-4-21 0-25 3-29 6-64 16-29 7-30 4-29 1-33-5-39-8-38-11-104-32-28-7-27-5-33-3-33 1-17 2-16 3-28 9-27 12-28 16-27 20-33 27-28 25-33 33-120 130-61 61-33 30-33 29-33 26-33 23-38 25-39 23-44 23-49 24-60 27-66 27-72 27-66 24 127 77 46 27 38 20 34 16 33 15 30 10 29 8 26 5 25 2 21 0 25-2 22-3 25-5 93-24 21-4 17-2 21 0 16 2 22 6 16 6 21 12 22 15 21 18 21 21 21 25 21 26 88 118 21 25 22 22 21 18 16 10 17 5z"/><path fill="#402bb7" d="M4710 2320l16 1 11-1 11-2 22-7 28-15 27-19 28-22 115-104 28-23 27-21 28-18 27-15 28-12 27-8 22-4 27-3 22 1 28 3 27 5 28 8 115 36 55 15 33 6 28 3 27 2 33 0 33-2 38-5 39-7 38-9 44-12 50-15 131-45-25 1-21-1-18-2-15-3-13-3-16-7-8-6-9-9-7-11-4-12-1-12 1-14 4-14 6-16 20-40-57-44-46-39-42-41-42-47-38-47-38-53-38-56-85-131-25-37-21-29-25-32-21-23-26-23-21-16-21-12-25-9-25-5-26-1-21 2-21 4-80 20-29 6-30 4-25 1-39-6-38-8-39-11-93-30-27-7-22-4-28-4-27-2-28 2-22 4-16 4-17 6-16 7-22 11-33 22-39 30-33 30-33 33-115 124-55 56-55 51-49 41-50 35-55 34-60 32-69 32 0 26-1 16-2 16-4 14-6 13-6 10-8 10-11 10-14 8-10 5-18 5-13 3-24 1-18 0-21-2-23-4 100 60 38 20 34 17 30 14 29 11 30 10 25 6 25 4 21 1 21 0 26-2 42-8 88-23 21-4 22-3 21 0 16 2 22 6 16 6 21 12 22 15 21 18 21 21 21 25 21 26 88 118 21 25 22 22 21 18 16 10 17 5z"/><path fill="#412dbc" d="M4710 2320l16 1 11-1 11-2 22-7 28-15 27-19 28-22 115-104 28-23 27-21 33-22 28-14 27-11 28-8 22-3 27-2 27 2 28 4 22 5 27 7 99 32 50 14 49 10 44 4 28 1 27-1 28-2 27-3 33-6 33-7 71-19-18-7-14-7-11-9-12-13-10-14-7-15-6-19-2-17 1-13 2-14 4-15 7-15 14-28 46-75-33-28-34-33-34-36-29-34-34-43-34-48-33-50-85-131-25-37-21-29-25-32-26-27-25-23-25-17-21-11-21-7-21-3-26-1-21 2-21 4-80 20-29 6-30 4-25 1-39-6-38-8-39-11-82-26-38-11-33-6-33-3-33 1-28 4-27 8-28 12-27 15-28 18-27 22-28 25-55 54-98 107-39 40-44 43-44 40-44 35-44 31-44 27-48 27 5 79 0 28-2 16-4 15-5 13-6 13-10 16-15 18-16 14-16 12-18 11-16 7-17 5-20 4 54 27 25 11 25 10 21 7 21 5 22 4 21 2 33 1 38-4 38-8 76-21 21-4 17-2 21-1 21 2 21 4 17 7 21 10 21 14 21 18 26 25 21 25 21 26 88 118 21 25 22 22 21 18 16 10 17 5z"/><path fill="#422fc2" d="M4710 2320l16 1 11-1 11-2 22-7 28-15 27-19 28-22 115-104 28-23 27-21 33-22 28-14 27-11 28-8 22-3 27-2 27 2 28 4 22 5 27 7 99 32 39 11 44 10 44 6 44 2 44-2 49-6 51-10-15-12-11-13-12-18-9-18-8-19-5-20-2-19 0-19 2-14 4-14 12-27 16-28 40-60 18-33-32-32-34-36-29-35-30-38-25-35-30-44-109-169-26-36-21-28-25-29-21-21-21-18-21-14-21-11-21-7-21-3-26-1-21 2-21 4-80 20-29 6-30 4-25 1-33-5-39-8-38-11-104-32-28-7-27-5-33-3-28 0-16 2-17 3-27 8-28 12-27 15-28 18-33 27-27 25-33 32-137 147-39 39-33 32-38 33-39 31-44 31-42 26 1 35 7 63 1 30-3 27-3 14-5 14-10 18-11 18-16 19-17 18-19 16-20 15-18 11-20 10 39 16 38 12 34 7 33 3 34-1 34-5 29-6 76-21 21-4 17-2 21-1 21 2 21 4 17 7 21 10 21 14 21 18 26 25 21 25 21 26 88 118 21 25 22 22 21 18 16 10 17 5z"/><path fill="#4331c7" d="M4710 2320l16 1 11-1 11-2 22-7 28-15 27-19 28-22 115-104 28-23 27-21 33-22 28-14 27-11 28-8 22-3 27-2 27 2 28 4 22 5 27 7 94 30 38 12 39 9 38 6 39 4 38 0 39-3 41-6-13-16-11-18-11-25-8-23-7-21-3-20-2-22 2-17 2-10 4-15 13-26 13-23 49-72 14-25 8-17-29-32-26-29-25-31-29-40-47-67-101-157-25-36-21-28-26-31-21-21-25-22-21-14-21-11-21-7-21-3-26-1-21 2-21 4-80 20-29 6-30 4-25 1-33-5-39-8-38-11-104-32-28-7-27-5-33-3-28 0-27 4-28 7-27 11-33 18-28 18-33 27-27 25-33 32-132 142-60 60-39 35-33 28-33 25-39 27 0 17 1 26 9 76 2 24-2 27-4 15-3 10-8 17-12 21-14 19-17 19-20 21-24 23-19 16-21 14 31 11 30 7 29 4 30 1 29-2 30-4 29-7 72-20 21-4 17-2 21-1 21 2 21 4 17 7 21 10 21 14 21 18 26 25 21 25 21 26 88 118 21 25 22 22 21 18 16 10 17 5z"/><path fill="#4433cd" d="M4710 2320l16 1 11-1 11-2 22-7 28-15 27-19 28-22 115-104 28-23 27-21 33-22 28-14 27-11 28-8 22-3 27-2 27 2 28 4 22 5 27 7 94 30 38 12 33 8 33 6 33 3 33 2 33-1 32-2-9-19-11-26-13-34-8-28-5-21-2-19-1-17 2-15 6-24 13-27 14-22 37-53 16-24 14-25 12-26-24-27-26-30-46-62-42-63-93-144-25-36-21-29-25-31-26-26-25-22-21-14-21-11-21-7-21-3-26-1-21 2-21 4-80 20-29 6-30 4-25 1-33-5-39-8-38-11-104-32-28-7-27-5-33-3-28 0-27 4-28 7-27 11-33 18-33 23-33 27-28 25-33 33-120 130-55 56-33 31-28 24-33 26-31 24-2 27 1 25 3 26 8 55 2 24 0 13-2 14-6 25-6 14-10 17-11 17-16 20-22 26-30 31-25 24-18 17 24 6 26 5 25 2 25 0 26-2 25-4 29-7 72-20 21-4 17-2 21-1 21 2 21 4 17 7 21 10 21 14 21 18 26 25 21 25 21 26 88 118 21 25 22 22 21 18 16 10 17 5z"/><path fill="#4535d2" d="M4710 2320l16 1 11-1 11-2 22-7 28-15 27-19 28-22 115-104 28-23 27-21 33-22 28-14 27-11 28-8 22-3 21-2 22 1 28 3 22 4 27 7 121 38 33 9 28 7 33 5 33 4 33 1 30-1-10-26-12-36-11-36-7-27-4-20-1-16 0-18 1-14 7-22 11-24 14-22 41-58 18-28 17-29 11-27-39-47-42-57-42-63-89-138-25-36-21-29-25-31-26-26-25-22-21-14-21-11-21-7-21-3-26-1-21 2-21 4-80 20-29 6-30 4-25 1-33-5-39-8-38-11-104-32-28-7-27-5-33-3-28 0-27 4-28 7-27 11-33 18-33 23-33 27-28 25-33 33-115 124-55 56-55 51-51 41-2 28 0 30 3 29 10 61 2 24-2 25-5 22-5 14-9 16-11 16-13 19-51 58-53 58 24 4 25 3 25 0 25-2 22-3 25-5 93-24 21-4 17-2 21 0 16 2 17 4 17 7 21 10 21 14 21 18 26 25 21 25 21 26 88 118 21 25 22 22 21 18 16 10 17 5z"/><path fill="#4538d7" d="M4710 2320l16 1 11-1 11-2 22-7 28-15 27-19 28-22 115-104 28-23 27-21 28-18 27-15 28-12 27-8 22-4 27-3 28 1 27 4 22 4 28 8 110 35 55 14 33 7 27 3 28 3 27 0-33-118-6-27-3-18-1-13 0-13 2-14 7-24 10-21 15-23 43-60 18-27 19-34 12-32-35-44-38-53-33-50-85-131-25-37-21-29-25-32-26-27-25-23-25-17-21-11-21-7-21-3-26-1-21 2-21 4-80 20-29 6-30 4-25 1-39-6-38-8-39-11-93-30-27-7-28-5-33-4-27 0-28 3-27 6-17 6-16 7-33 18-33 23-33 27-28 25-33 33-115 124-44 45-49 48-46 38-4 33 0 34 4 30 11 62 2 24-1 22-6 24-6 15-6 12-20 29-20 26-93 109 21 3 22 1 21 0 25-3 42-8 84-22 21-4 17-2 21-1 21 2 22 6 16 6 21 12 22 15 21 18 21 21 21 25 21 26 88 118 21 25 22 22 21 18 16 10 17 5z"/><path fill="#463adb" d="M4710 2320l16 1 11-1 11-2 22-7 28-15 27-19 28-22 115-104 28-23 27-21 28-18 27-15 28-12 27-8 22-4 27-3 28 1 27 4 28 6 27 7 99 32 50 14 27 6 28 4 22 3 27 2-11-57-21-78-6-27-3-28 2-23 7-24 6-13 8-14 16-24 47-64 21-32 15-30 9-28-32-43-30-42-33-51-81-124-25-37-21-29-25-32-26-27-25-23-25-17-21-11-21-7-21-3-26-1-21 2-21 4-80 20-29 6-30 4-25 1-39-6-38-8-39-11-93-30-27-7-28-5-33-4-27 0-28 3-27 6-17 6-16 7-33 18-33 23-33 27-28 25-33 33-109 118-44 46-39 37-42 38-5 28-1 31 2 34 13 68 3 25 0 14-1 14-1 10-4 14-6 14-6 12-16 25-19 24-57 68-44 58 21 1 17 0 21-1 21-3 38-8 76-21 21-4 21-2 21-1 21 2 22 6 16 6 21 12 22 15 21 18 21 21 21 25 21 26 88 118 21 25 22 22 21 18 16 10 17 5z"/><path fill="#463ddf" d="M4710 2320l16 1 11-1 11-2 22-7 28-15 27-19 28-22 115-104 28-23 27-21 28-18 27-15 28-12 27-8 22-4 27-3 28 1 27 4 28 6 27 7 99 32 44 12 44 10 46 6-4-35-6-32-7-32-14-50-5-27-2-24 0-13 3-13 7-24 14-24 16-24 43-58 24-35 9-17 8-18 5-15 5-18-27-37-25-36-110-169-25-37-21-29-25-32-26-27-25-23-25-17-21-11-21-7-21-3-26-1-21 2-21 4-80 20-29 6-34 5-26 0-34-6-38-8-39-11-93-30-27-7-28-5-33-4-27 0-28 3-27 6-17 6-16 7-33 18-33 23-33 27-28 25-33 33-109 118-39 40-33 33-35 32-4 18-3 16-1 18 0 17 4 38 12 61 3 25 0 26-2 13-2 10-5 13-6 13-15 23-18 25-64 77-22 30-21 33 35-1 34-4 33-7 76-21 21-4 21-2 21-1 21 2 22 6 16 6 21 12 22 15 21 18 21 21 21 25 21 26 88 118 21 25 22 22 21 18 16 10 17 5z"/><path fill="#473fe3" d="M4710 2320l16 1 11-1 11-2 22-7 28-15 27-19 28-22 115-104 28-23 27-21 28-18 27-15 28-12 27-8 28-5 27-2 27 2 28 4 22 5 27 7 99 32 39 11 38 9 39 6-2-39-5-33-7-32-16-57-5-27-1-23 2-21 4-14 4-10 6-13 9-15 17-24 44-57 23-36 11-22 8-17 5-17 5-17-53-75-105-163-38-53-25-32-26-27-25-23-25-17-21-11-21-7-21-3-26-1-21 2-21 4-84 21-34 7-30 3-37-2-29-6-33-8-126-39-27-7-28-5-27-4-28 0-27 2-28 6-16 5-17 7-33 17-33 21-38 32-28 25-27 27-137 147-33 34-35 33-5 18-4 16-2 18 0 18 1 21 3 21 13 61 4 25 1 16-1 13-1 10-4 14-8 21-14 23-18 24-45 54-24 30-21 31-22 37 29-1 30-5 29-6 76-21 21-4 17-2 21-1 21 2 21 4 21 8 21 12 22 15 21 18 21 21 21 25 21 26 88 118 21 25 22 22 21 18 16 10 17 5z"/><path fill="#4742e6" d="M4710 2320l11 1 11 0 22-4 22-9 27-15 22-16 28-22 115-104 28-23 22-17 27-19 28-16 27-12 28-9 27-5 27-3 28 1 27 4 28 6 27 7 94 30 38 12 33 8 33 6 0-35-4-38-6-33-18-67-5-25-1-24 2-19 3-11 6-14 12-23 17-24 51-65 11-16 12-21 11-21 6-16 6-20 3-17-44-64-97-151-42-59-25-32-26-27-25-23-25-17-21-11-21-7-21-3-21-1-22 1-21 4-88 22-42 8-10 1-65-4-29-7-33-8-115-36-28-7-22-4-27-4-28 0-27 2-28 6-16 5-17 7-33 17-33 21-38 32-28 25-33 33-126 136-58 58-5 16-5 20-2 21-1 17 2 22 2 16 15 70 4 26 0 23-1 14-3 11-8 19-14 24-17 23-49 59-26 34-24 36-17 34 25-2 25-4 29-7 72-20 21-4 21-2 21-1 21 2 22 6 21 8 21 13 21 15 21 19 21 22 38 46 88 118 21 25 17 18 21 19 17 11 17 6 9 2z"/><path fill="#4745e9" d="M4710 2320l11 1 11 0 22-4 22-9 27-15 22-16 28-22 115-104 28-23 22-17 27-19 28-16 27-12 28-9 27-5 27-3 28 1 27 4 28 6 27 7 127 40 27 7 28 6 2-36-2-34-7-41-18-64-5-23-2-25 1-13 1-11 4-14 4-10 14-24 15-22 52-65 13-20 12-20 11-22 7-18 6-20 3-20-41-61-89-138-25-36-21-29-25-31-26-26-25-22-21-14-21-11-21-7-21-3-21-1-22 1-21 4-88 22-41 8-50-4-41-2-53-14-104-33-27-7-22-4-28-4-27-2-28 2-27 5-17 5-16 6-33 16-33 22-39 30-33 30-33 33-115 124-54 55-7 20-5 20-2 18-1 22 1 22 3 20 16 70 4 23 0 25-1 11-4 14-10 23-15 24-17 21-50 60-28 39-20 32-16 35 21-2 21-4 97-26 21-4 21-2 21-1 21 2 22 6 21 8 21 13 21 15 21 19 21 22 38 46 88 118 21 25 17 18 21 19 17 11 17 6 9 2z"/><path fill="#4848ec" d="M4710 2320l11 1 11 0 22-4 22-9 27-15 22-16 28-22 115-104 28-23 22-17 27-19 28-16 27-12 28-9 27-5 27-3 28 1 27 4 22 4 28 8 115 36 28 8 29 7 3-19 1-17 0-18-1-21-3-21-4-20-19-68-5-20-2-24 0-14 2-13 3-11 5-12 15-26 18-24 49-62 14-19 12-21 11-21 8-22 5-21 3-21-34-52-85-131-25-36-21-29-25-31-26-26-25-22-21-14-21-11-21-7-21-3-21-1-22 1-25 5-80 20-34 7-60-5-56-3-44-12-99-31-27-7-22-4-28-4-27-2-28 2-27 5-17 5-16 6-33 16-33 22-39 30-33 30-33 33-109 118-45 47-9 20-5 21-4 22-1 22 2 22 3 20 16 66 4 26 1 14 0 13-2 13-2 10-9 22-15 24-17 22-53 63-28 39-13 20-9 17-15 36 23-4 21-4 88-23 21-4 17-2 21-1 21 2 22 6 21 8 21 13 21 15 21 19 21 22 38 46 88 118 21 25 17 18 21 19 17 11 17 6 9 2z"/><path fill="#484bee" d="M4710 2320l11 1 11 0 22-4 22-9 27-15 22-16 28-22 115-104 28-23 22-17 27-19 28-16 27-12 22-8 28-6 27-2 27 0 33 4 22 4 28 8 110 35 48 13 4-22 2-20 0-18-1-21-3-21-5-24-19-66-4-20-2-13 0-13 0-9 2-14 3-11 6-14 13-23 18-24 52-64 13-19 15-25 10-22 8-21 4-22 2-21-108-168-25-36-21-29-25-31-26-26-25-22-21-14-17-9-21-7-21-5-21-1-21 1-26 4-107 26-72-6-69-3-36-10-93-30-27-7-28-5-27-4-28 0-27 2-22 4-17 5-16 6-33 16-33 22-33 25-33 30-39 38-141 151-9 21-6 22-4 21-2 22 1 22 4 25 17 68 5 26 0 24-1 13-3 12-9 22-16 24-15 20-55 65-15 19-13 20-12 20-9 17-8 20-8 21 37-7 84-22 21-4 17-2 26-1 21 3 21 6 21 10 17 10 21 15 21 19 21 22 38 46 88 118 21 25 17 18 21 19 17 11 17 6 9 2z"/><path fill="#484df1" d="M4710 2320l11 1 11 0 22-4 22-9 27-15 22-16 28-22 115-104 28-23 22-17 27-19 28-16 27-12 22-8 28-6 27-2 27 0 33 4 28 6 27 7 99 32 40 11 5-19 3-23 1-22-1-22-3-21-4-20-20-71-5-21-2-24 0-11 2-11 3-10 4-13 7-13 8-12 18-24 53-66 17-23 12-21 10-22 9-25 4-23 1-22-98-152-25-36-25-34-26-31-21-21-25-22-21-14-17-9-21-7-21-5-21-1-21 1-26 4-97 24-42-5-40-3-38-2-44-1-116-36-27-7-22-4-28-4-27-2-28 2-22 4-16 4-17 6-33 15-33 21-33 25-33 29-38 37-133 143-10 21-8 23-5 25-1 23 1 22 3 24 6 24 12 46 5 26 1 13 0 13-2 13-3 10-9 22-15 23-16 20-56 66-14 19-14 19-12 21-10 21-9 23-5 19 30-6 76-21 21-4 21-2 26-1 21 3 21 6 21 10 17 10 21 15 21 19 21 22 38 46 88 118 21 25 17 18 21 19 17 11 17 6 9 2z"/><path fill="#4850f3" d="M4710 2320l11 1 11 0 22-4 22-9 27-15 22-16 28-22 110-99 27-24 22-17 28-19 27-17 28-13 22-8 27-7 27-3 28 0 33 3 27 5 33 9 125 40 7-25 4-21 2-22-1-23-3-22-4-20-21-73-5-20-2-24 2-22 2-9 6-14 13-24 19-24 54-66 17-24 14-24 11-23 7-25 4-23 0-23-88-137-25-36-25-34-26-31-21-21-25-22-21-14-17-9-21-7-17-4-21-2-25 1-26 4-87 22-45-6-46-4-50-2-46 0-103-33-27-7-28-5-27-4-22-1-28 2-22 4-16 4-17 6-33 15-33 21-33 25-38 34-39 38-114 123-3 5-10 22-8 23-5 25-1 23 1 21 4 25 5 24 13 47 5 26 1 12 0 13-2 13-3 10-9 21-14 23-17 21-57 66-14 19-14 20-13 23-9 21-8 21-6 24 96-25 25-4 22-3 25 1 21 3 21 7 21 10 17 10 21 17 21 19 21 23 38 46 84 113 21 25 17 18 21 19 17 11 17 6 9 2z"/><path fill="#4853f5" d="M4710 2320l11 1 11 0 22-4 22-9 27-15 22-16 28-22 110-99 27-24 22-17 28-19 27-17 28-13 22-8 27-7 27-3 28 0 27 2 28 5 33 9 117 37 8-21 5-25 3-25-1-22-2-21-5-24-22-74-4-20-3-24 2-22 4-13 4-10 13-23 19-24 56-66 16-24 15-24 11-27 7-24 4-25-1-24-78-122-25-36-25-34-26-31-21-21-25-22-21-14-17-9-21-7-17-4-21-2-25 1-26 4-77 20-55-8-47-4-51-2-57 0-90-29-27-7-28-5-27-4-22-1-28 2-22 4-16 4-17 6-33 15-33 21-33 25-38 34-44 44-96 104-6 10-11 21-8 23-5 26-1 23 1 21 4 25 6 24 14 47 5 24 1 14 0 12-4 20-3 10-6 13-15 24-16 20-59 68-16 22-14 21-12 20-10 25-8 25-4 21 90-23 26-5 21-2 21 1 21 3 21 7 21 10 17 10 21 17 21 19 21 23 38 46 84 113 21 25 17 18 21 19 17 11 17 6 9 2z"/><path fill="#4756f6" d="M4710 2320l11 1 11 0 22-4 22-9 27-15 22-16 28-22 110-99 27-24 22-17 28-19 22-14 27-14 22-8 28-8 27-4 27-1 33 3 28 5 33 9 105 33 8-22 7-27 3-24 0-25-2-21-5-25-23-73-5-21-1-12-1-13 0-10 3-13 7-20 13-23 19-25 56-66 20-27 12-20 11-25 7-24 4-24 0-26-1-7-52-81-38-56-29-40-26-31-21-21-25-22-21-14-17-9-21-7-17-4-21-2-21 1-25 3-26 6-47 12-56-8-60-5-57-3-58 1-83-26-28-7-22-4-27-4-22-1-22 2-22 3-17 4-16 5-33 14-33 20-39 29-38 34-44 44-84 90-9 15-11 22-8 23-5 25-1 24 1 21 4 25 6 24 14 47 6 24 1 15 0 11-3 20-5 13-5 10-15 24-16 19-59 68-18 23-14 23-12 22-10 26-7 24-3 23 80-21 26-5 21-2 25 1 21 4 21 8 21 10 17 11 21 17 17 16 21 23 38 46 84 113 21 25 17 18 21 19 17 11 17 6 9 2z"/><path fill="#4758f8" d="M4710 2320l11 1 11 0 22-4 22-9 27-15 22-16 28-22 110-99 27-24 22-17 28-19 22-14 27-14 22-8 28-8 27-4 27-1 28 3 27 4 33 8 98 31 10-23 8-27 4-23 0-27-2-25-5-24-7-24-16-49-5-21-2-13-1-13 1-9 2-13 7-21 6-11 9-13 18-23 53-62 17-23 16-24 12-26 8-24 4-23 0-26-2-17-63-98-42-59-25-31-26-26-25-22-21-14-17-9-17-6-17-4-17-3-21 0-25 3-29 6-42 11-67-10-62-6-64-2-61 1-48-16-33-9-28-6-27-5-22-1-17 0-22 1-16 3-17 4-16 5-33 14-33 20-33 24-39 34-49 49-71 77-14 19-10 22-8 23-5 25-2 26 2 21 4 24 7 24 14 47 5 24 2 15 0 11-4 20-4 13-5 10-15 24-16 19-60 68-18 23-15 24-13 25-9 23-6 28-3 23 76-19 25-5 21-1 21 1 21 4 21 8 21 10 17 11 21 17 17 16 21 23 38 46 84 113 21 25 17 18 21 19 17 11 17 6 9 2z"/><path fill="#475bf9" d="M4710 2320l11 1 11 0 22-4 22-9 27-15 28-20 27-22 105-95 44-37 27-20 22-14 28-14 22-9 27-8 28-5 27-2 27 2 28 4 27 6 39 11 58 19 1-2 12-26 7-23 5-26 1-28-3-26-5-24-7-24-16-48-6-22-2-12 0-13 0-10 2-13 8-20 13-23 20-25 38-42 21-26 17-23 12-21 11-22 8-25 4-23 0-26-3-22-54-83-42-59-25-31-26-26-25-22-21-14-17-9-17-6-17-4-17-3-21 0-25 3-25 5-37 9-67-11-64-6-71-3-73 2-42-13-33-10-27-5-28-4-22-2-16 1-17 1-16 3-17 4-16 5-33 14-33 20-33 24-22 19-22 20-50 49-53 58-9 13-10 16-11 22-7 23-5 25 0 22 1 21 5 25 6 23 15 46 6 25 1 14 0 12-3 20-5 13-4 10-16 24-16 20-60 66-19 25-14 23-14 27-9 25-6 29-1 24 44-12 26-6 25-4 21-1 21 2 21 4 21 8 21 12 17 11 21 18 17 17 21 23 34 41 80 107 21 26 21 23 21 19 17 11 17 6 9 2z"/><path fill="#465efb" d="M4710 2320l16 1 20-2-28-3-35-1 14 4z"/><path fill="#465efb" d="M4772 2304l13 0 2-1 22-14 27-20 39-33 93-85 28-23 22-17 22-15 22-14 22-11 16-7 22-8 22-5 22-3 27-1 33 3 33 6 39 11 57 18 8-15 10-22 7-25 4-25 0-25-2-25-6-24-7-23-16-48-7-27-1-13-1-11 3-19 8-21 13-23 21-25 56-63 17-23 15-24 11-24 8-25 4-23 0-22-2-17-3-14-48-74-38-53-30-36-25-25-25-21-26-16-12-6-17-5-13-3-17-3-21 0-21 2-25 5-31 7-37-7-34-5-40-4-38-3-74-3-35 1-39 2-41-13-27-7-28-5-22-3-22-2-16 1-17 1-16 3-17 4-16 5-33 14-33 20-39 29-22 19-27 25-66 69-14 15-9 12-9 13-9 16-10 22-6 23-3 23 0 22 2 21 4 20 7 24 14 44 7 26 1 14 1 11-4 21-7 19-15 23-18 23-45 49-19 22-18 23-15 24-13 26-9 30-5 27 0 25 35-9 26-6 21-4 21-1 21 1 17 3 21 7 17 8 17 10 21 15 21 19 21 22 38 46 67 90 26 33 25 29 23 22 28 5 35 4 22 1z"/><path fill="#4561fc" d="M4710 2320l8 1-14-1z"/><path fill="#4561fc" d="M4807 2282l13 0 22-17 33-29 93-85 44-36 22-16 22-14 22-11 17-8 27-10 28-6 27-2 27 0 28 3 33 7 33 9 44 14 10-16 7-12 9-23 6-24 3-25-1-22-2-21-6-24-7-23-16-47-7-27-2-13-1-11 3-20 8-21 14-22 15-19 61-69 20-26 13-21 12-25 8-24 3-24 1-22-3-17-4-19-43-65-38-52-30-35-25-25-25-20-26-15-25-9-13-3-17-3-16 0-22 1-21 4-30 7-38-8-38-6-40-5-40-3-41-2-41-1-40 1-41 3-33-10-28-7-27-5-22-3-33 0-17 1-16 3-17 4-16 5-33 14-33 20-39 29-22 19-27 25-33 34-34 36-20 25-15 25-9 23-5 20-3 23 1 22 2 20 4 21 6 19 16 47 7 27 1 13 0 12-2 19-8 21-15 23-18 22-46 50-19 22-20 26-15 25-13 27-8 27-2 16-1 14 1 26 30-9 25-5 21-3 17-1 17 1 17 2 17 5 16 6 21 12 22 15 21 18 25 26 34 40 84 113 34 41 40 6 47 5 47 3z"/><path fill="#4564fd" d="M4829 2265l13-1 33-28 93-85 44-36 39-26 22-13 16-8 28-10 27-7 27-3 28 0 27 2 28 5 33 9 43 13 14-20 8-17 9-23 6-24 2-22-1-22-2-21-6-24-6-19-19-54-6-23-2-12 0-12 1-11 2-10 3-10 5-10 14-23 16-20 44-48 19-22 17-23 13-20 12-26 8-23 4-26 0-22-3-21-6-20-42-62-34-46-29-34-25-24-26-19-25-14-25-9-26-4-16 0-22 1-21 4-20 4-39-8-36-6-44-6-37-3-50-3-44-1-49 2-42 3-49-13-22-4-22-3-22-2-16 1-17 1-16 3-17 4-16 5-33 14-33 20-39 29-22 19-27 25-58 60-13 15-9 13-9 15-7 13-8 20-5 22-2 21 0 21 3 21 5 24 21 61 7 28 2 12 0 12-1 11-2 10-3 10-5 10-15 24-17 20-46 50-22 25-20 27-15 24-12 27-4 14-4 15-2 16 0 15 2 26 29-8 25-4 22-3 21 0 21 3 21 6 21 10 17 10 17 12 16 14 17 17 21 23 34 41 63 85 30 38 56 9 53 5 56 3z"/><path fill="#4366fd" d="M4848 2249l13-1 102-92 27-24 22-17 39-26 22-13 16-8 22-8 28-8 27-4 27-1 28 3 27 4 33 8 37 11 15-21 13-25 9-23 4-20 3-24-1-21-3-21-6-24-7-23-18-50-6-21-2-13-1-11 1-11 2-10 4-12 4-10 15-24 16-19 60-65 17-22 16-24 13-25 8-24 4-25 0-21-4-25-8-25-32-47-29-40-30-35-25-25-17-14-13-9-25-14-25-9-13-2-17-2-29 1-36 6-40-9-46-8-46-6-42-4-50-2-46-1-50 2-44 4-41-10-39-6-22-2-16 1-17 1-16 3-17 4-16 5-33 14-33 20-39 29-44 39-58 60-12 14-9 12-10 16-6 13-7 20-5 19-2 22 0 22 3 21 5 20 24 70 5 21 2 12 1 11-1 12-2 10-4 11-5 11-13 21-18 22-47 49-22 25-20 27-16 26-7 16-6 14-4 16-3 14-1 15 0 16 4 26 28-6 21-4 21-2 21 1 21 3 17 5 21 10 17 10 17 12 16 14 17 17 21 23 34 41 78 105 34 6 33 5 55 6 66 3z"/><path fill="#4269fe" d="M4864 2234l15-1 78-72 44-38 22-16 22-15 22-13 17-8 27-11 22-6 22-4 27-3 28 1 27 4 33 7 35 10 19-25 8-12 8-18 8-22 4-19 2-23 0-22-3-20-6-24-26-71-6-21-2-13-1-12 1-11 1-10 5-13 4-10 7-12 9-12 17-19 42-45 19-22 17-22 13-20 13-26 8-22 5-24 0-22-1-12-3-17-5-15-6-14-26-38-21-29-30-36-29-29-17-14-13-9-25-14-21-7-21-5-17-1-17 0-34 5-42-10-49-10-45-6-51-5-46-2-56 0-53 3-45 4-39-8-33-5-33 0-17 1-16 3-17 4-16 5-33 14-33 20-33 24-22 19-22 20-56 56-13 14-10 15-8 13-7 14-8 21-4 21-2 20 0 22 4 21 5 20 23 67 6 21 2 13 1 12-1 11-2 10-4 13-5 10-12 20-19 22-48 50-23 26-21 29-15 24-7 16-5 15-4 15-3 16-1 16 1 13 2 16 3 15 27-6 21-3 21-1 17 1 21 4 17 6 17 8 17 10 17 12 16 14 17 17 21 23 34 41 65 87 34 7 32 6 34 4 37 3 36 3 37 0 42 0z"/><path fill="#406cfe" d="M4880 2219l15-1 62-57 44-38 39-27 22-14 16-8 28-12 22-7 22-5 27-2 27 0 28 3 27 5 34 9 12-14 11-16 10-16 8-17 8-21 4-23 2-22-2-22-3-21-7-23-24-65-7-21-2-13-1-12 0-11 2-11 7-19 6-11 9-12 21-26 60-64 18-22 13-20 13-25 8-24 5-25 0-22-2-17-2-12-5-15-7-15-18-27-30-40-29-34-25-24-26-19-12-7-17-9-21-7-26-4-25 0-24 3-43-11-51-11-56-8-50-4-56-2-53 0-54 4-48 5-31-6-33-4-33 0-27 4-17 4-16 5-33 14-33 20-33 24-39 34-57 55-12 15-8 11-8 13-8 17-7 20-5 19-2 23 1 21 4 20 5 20 23 66 7 21 2 13 1 12-1 11-1 9-3 11-5 10-6 11-8 12-19 22-50 52-22 26-20 26-17 29-8 18-4 14-4 15-2 15-1 14 1 17 3 16 5 16 21-5 21-2 21-1 17 2 17 3 17 6 17 8 17 10 17 12 16 14 17 17 17 18 38 46 52 70 34 8 39 7 42 5 37 4 39 2 41 0 42-1z"/><path fill="#3e6fff" d="M4896 2204l15-1 68-62 28-22 27-20 22-14 17-9 33-14 16-6 22-5 22-3 22-1 22 1 22 3 22 4 25 7 15-16 14-19 10-16 10-21 7-20 5-23 1-22-2-20-4-22-5-20-25-65-7-23-3-12-1-12 0-12 2-11 3-10 5-11 6-11 9-12 16-19 64-68 18-22 13-20 14-25 8-23 5-24 1-22-1-14-3-15-5-16-5-11-10-18-29-40-30-35-29-29-26-19-12-7-17-9-21-7-21-3-21-1-22 1-59-16-61-11-45-6-43-4-54-3-60 1-56 4-58 7-28-5-27-2-28 0-22 3-16 3-17 5-16 6-17 8-33 18-33 24-33 28-28 26-18 15-14 15-12 14-11 16-10 16-6 13-6 19-4 20-2 22 1 21 4 20 5 20 23 63 7 22 3 12 1 12 0 12-2 10-3 11-5 11-14 21-18 22-54 55-23 26-19 27-17 29-7 18-5 14-3 15-1 18 0 13 2 17 3 16 6 16 20-3 21-2 17 0 16 2 17 4 17 7 17 8 13 8 12 8 17 14 17 16 17 18 34 40 48 64 47 11 39 7 42 6 36 3 46 3 44 0 50-2z"/><path fill="#3b72fe" d="M4911 2190l16-2 36-32 27-24 28-21 22-15 33-20 33-14 16-6 22-5 17-2 21-2 17 1 22 2 22 3 23 5 16-17 16-18 13-20 11-21 6-19 5-22 1-23-1-21-4-20-6-24-27-68-7-24-2-12-1-12 3-19 3-10 5-11 6-11 9-12 17-20 62-65 21-26 14-20 13-25 7-22 5-22 0-22-1-15-2-12-5-15-5-12-14-25-19-26-30-35-29-29-26-19-12-7-17-9-17-5-17-4-17-2-22 0-56-16-58-13-57-8-51-5-56-2-48 0-68 5-32 3-38 6-23-3-22-2-22 1-22 3-16 3-17 5-16 6-17 8-33 18-33 24-22 18-23 21-21 17-19 18-13 15-11 15-9 16-8 16-6 20-4 18-2 23 2 21 4 20 5 20 23 60 8 24 4 23-1 11-1 11-4 13-5 10-12 20-19 22-51 52-26 28-23 31-8 14-8 16-6 16-5 16-3 17-1 18 2 17 3 16 4 16 6 14 18-2 17-1 17 1 17 2 17 5 12 5 17 8 13 8 12 8 17 14 30 29 33 40 40 53 38 9 45 9 49 8 46 4 47 3 44 0 50-2z"/><path fill="#3875fe" d="M4926 2175l18-2 41-36 33-26 33-22 33-18 22-9 16-6 22-5 22-3 16-1 22 1 22 2 26 5 12-11 14-14 12-15 8-12 14-25 10-24 3-15 2-14 1-26-4-25-6-24-8-23-21-52-7-21-2-13-1-12 0-11 2-10 4-11 5-10 14-21 19-23 44-44 23-25 21-27 15-24 6-13 6-15 4-15 2-14 1-14 0-13-2-16-3-12-9-23-14-25-29-37-26-27-25-23-21-15-21-11-25-9-21-3-18-1-36-12-31-9-27-6-38-8-60-9-66-5-63-1-57 3-57 5-58 9-29-2-27 2-22 3-22 5-17 6-16 7-33 18-33 23-35 28-19 14-22 19-19 21-15 20-12 21-8 20-5 19-2 23 1 22 3 20 6 24 7 19 19 49 7 21 2 13 1 12 0 11-2 10-4 11-5 10-14 21-19 22-48 48-23 25-21 27-16 25-7 16-6 14-4 16-3 14-1 16 1 15 1 12 4 16 6 16 7 16 20-2 17 0 16 2 13 3 17 6 17 8 12 7 17 11 26 22 25 26 25 30 32 41 36 10 51 11 49 8 56 5 48 3 52 0 49-2z"/><path fill="#3579fd" d="M4942 2161l18-3 41-35 39-27 33-20 33-14 27-8 17-4 16-2 33 0 37 4 16-13 15-14 15-18 12-16 13-25 9-23 3-14 2-14 0-27-3-24-7-24-8-23-20-49-8-23-3-12-1-12 1-11 1-10 7-19 6-10 9-12 16-20 52-52 19-21 21-26 18-29 6-13 5-14 4-15 2-15 1-12-1-17-2-13-4-16-6-15-10-18-10-15-14-17-21-24-17-16-17-15-17-12-21-12-21-8-17-4-16-3-24-9-32-10-52-14-55-10-58-8-58-4-60 0-57 2-48 5-36 5-46 9-26 0-22 2-22 4-17 5-27 11-33 18-22 15-27 20-34 24-22 19-19 21-15 21-11 19-7 20-5 20-2 23 1 21 3 20 7 24 26 65 7 23 3 12 1 12-1 11-2 10-4 13-5 10-13 19-19 22-49 48-23 26-21 25-17 28-8 16-5 15-4 15-3 14-1 14 1 17 3 16 3 12 8 19 10 19 16-1 17 1 17 3 13 4 16 6 13 7 25 16 17 14 21 21 26 28 31 39 3 1 53 15 52 10 48 8 52 5 57 2 51 0 56-3z"/><path fill="#327cfc" d="M4958 2146l20-4 34-27 33-23 33-18 28-12 27-8 28-5 27-2 32 2 24-19 18-17 16-18 13-19 12-24 8-25 4-23 0-27-4-24-6-24-9-23-21-48-8-23-3-22 0-11 2-11 3-9 4-11 7-11 9-12 17-20 53-52 19-22 21-26 15-24 8-16 5-16 4-14 2-14 0-13-1-17-3-14-4-14-6-15-8-15-9-14-11-13-24-26-17-16-17-14-17-12-13-7-16-7-25-7-24-10-28-10-43-13-41-11-61-10-56-7-60-3-63 0-64 5-52 7-39 7-34 8-21 1-16 3-17 4-16 5-22 9-28 15-32 21-28 17-24 18-22 20-17 17-14 21-12 22-8 20-5 20-1 22 1 21 4 21 6 19 8 23 20 49 7 20 3 21 0 11-2 11-3 9-4 11-7 10-8 12-19 22-51 49-24 27-21 26-17 28-8 16-5 15-4 16-2 16 0 14 1 17 3 12 5 16 8 18 14 22 20 1 21 4 21 8 21 10 21 14 26 22 25 26 30 36 30 10 47 12 52 11 49 7 57 5 56 2 59-1 54-5z"/><path fill="#307efb" d="M4975 2130l23-4 31-23 27-18 28-14 22-9 22-7 27-5 22-2 24 0 28-20 22-19 19-22 17-23 11-23 8-25 3-23 0-26-4-25-7-23-9-23-21-50-8-21-3-21 0-10 1-11 4-12 5-10 13-20 21-24 47-46 26-28 21-26 14-25 8-16 5-15 3-14 2-14 0-15-1-15-3-12-4-16-7-15-8-14-10-14-10-13-16-16-22-20-17-13-13-9-17-9-37-17-45-18-24-8-32-10-54-12-60-10-64-5-64-2-63 2-62 7-53 8-36 8-39 11-17 3-28 9-27 12-48 26-25 16-21 15-22 19-19 21-15 21-12 22-7 20-4 19-1 22 1 21 4 21 8 23 27 65 7 22 3 21 0 10-1 10-4 12-5 11-13 20-19 21-53 52-23 24-21 26-18 29-8 17-5 14-3 15-3 16 0 13 1 17 4 16 5 16 11 22 9 14 9 12 14 1 17 4 17 7 17 8 21 13 21 17 25 25 24 26 32 12 32 9 56 14 46 8 52 6 55 4 53 1 50-2 61-6z"/><path fill="#2f81fa" d="M4994 2114l27-6 19-12 22-14 22-11 22-9 16-6 17-4 22-3 18-1 3-2 35-23 26-22 23-25 11-16 7-12 10-22 7-24 3-24-2-26-4-20-7-24-9-22-20-46-8-23-4-19-1-12 2-11 2-9 4-11 7-11 8-12 18-20 54-52 23-25 21-26 10-16 7-13 7-15 5-17 3-15 2-15-1-13-2-17-4-16-6-15-9-16-10-16-11-13-16-16-13-12-19-15-17-11-22-13-20-10-27-12-51-19-53-15-27-6-36-7-65-8-67-4-68 1-62 5-35 5-30 5-58 13-53 16-49 20-25 12-28 16-24 16-21 17-18 17-15 18-14 20-10 22-6 18-4 21-1 19 2 21 5 20 6 19 9 23 19 43 7 22 4 19 0 12-1 11-2 9-5 11-6 11-9 12-19 21-52 51-25 26-23 28-10 15-7 14-8 17-5 16-3 15-2 18 0 13 2 16 5 16 5 15 8 15 7 11 10 13 13 15 14 3 17 7 17 8 13 8 12 8 17 14 31 31 50 19 51 15 51 11 48 8 56 6 57 2 51 0 56-3 52-7z"/><path fill="#2e84f8" d="M5016 2097l37-10 25-13 28-12 22-7 21-5 34-18 34-23 26-23 13-14 9-12 15-24 10-22 6-24 2-23-1-22-5-24-7-23-10-23-20-45-8-22-3-12-2-12 0-10 2-9 2-10 5-11 7-11 9-12 18-20 55-52 23-25 12-15 11-15 15-25 6-15 5-17 3-17 1-15-1-15-3-17-5-15-7-15-8-14-12-17-12-13-16-16-18-15-20-14-18-11-23-12-26-12-22-9-29-11-25-8-34-9-29-6-58-10-32-3-38-3-65-2-64 3-63 7-60 11-56 14-51 18-27 11-23 12-25 13-22 15-19 14-17 16-15 16-15 19-10 16-8 19-6 20-2 18-1 18 2 21 5 20 6 20 27 61 9 23 3 13 1 9 0 13-1 10-3 9-4 11-7 11-9 13-19 20-53 51-27 27-22 28-9 15-8 14-7 18-5 15-3 14-1 18 1 17 3 16 5 16 6 15 8 14 13 17 14 17 13 12 4 3 21 10 17 10 17 12 19 17 33 15 34 13 37 12 41 10 52 11 51 7 56 4 54 1 58-1 54-5 56-9z"/><path fill="#2e87f7" d="M5045 2077l42-13 38-15 40-20 31-20 28-21 21-21 18-22 15-25 8-23 5-19 1-22-2-26-4-20-8-23-31-69-8-21-4-20 0-12 2-10 3-10 4-9 12-20 25-26 51-49 24-25 12-14 12-16 10-16 6-13 7-18 4-14 3-16 0-17-1-17-4-16-6-15-7-15-9-14-13-17-16-16-13-12-19-15-19-12-20-12-25-12-26-12-25-9-50-16-29-7-33-7-61-10-61-5-65-1-66 4-31 3-36 5-30 5-33 8-54 15-50 19-25 12-24 13-23 13-18 14-19 16-15 14-13 16-11 16-9 17-8 18-4 16-2 19 0 17 2 20 5 20 7 20 29 65 8 21 3 21 0 11-1 10-3 11-5 10-6 10-9 11-19 22-57 53-24 25-13 15-11 15-9 15-7 14-8 18-4 15-3 18 0 18 2 17 3 16 6 15 7 15 9 14 10 13 22 22 14 13 15 11 35 22 39 19 45 18 51 16 49 11 48 8 59 7 56 2 52 0 56-3 59-8 47-8z"/><path fill="#2d89f5" d="M5036 2067l42-12 44-18 35-17 31-19 29-21 24-24 18-22 14-25 8-23 5-20 1-22-3-24-4-20-8-24-30-64-9-23-3-14-2-9 0-8 2-11 2-10 4-9 6-10 9-13 18-20 53-49 27-27 24-30 10-16 7-13 7-18 4-14 3-16 1-17-2-17-3-16-6-15-7-15-9-14-12-15-13-15-17-15-19-15-20-14-19-10-24-12-27-12-22-9-24-8-31-9-54-12-63-10-64-5-63-1-59 3-30 3-35 5-60 12-31 8-26 7-27 10-27 10-20 10-24 12-23 14-21 15-19 16-14 14-14 15-12 18-9 17-6 15-5 19-2 19 0 17 3 21 5 20 7 19 28 61 9 23 3 13 1 9 1 9-2 11-4 13-4 9-14 20-20 21-54 51-27 27-24 30-9 13-8 16-7 17-5 15-3 18-1 18 2 17 4 16 5 15 7 15 9 14 10 13 22 23 14 12 15 11 35 22 39 20 45 17 45 14 49 12 55 9 47 5 57 3 53 0 48-2 52-6 56-9z"/><path fill="#2d8cf3" d="M5028 2058l41-13 44-16 35-17 32-19 29-21 22-20 13-14 8-12 15-25 8-21 5-21 1-22-2-24-4-20-8-23-10-23-21-44-10-23-3-12-1-12 1-18 2-10 6-12 6-9 9-13 19-20 53-49 27-28 21-26 11-16 7-12 7-18 5-14 3-15 1-17-1-14-3-16-5-16-7-15-8-14-12-16-12-14-16-15-15-12-20-14-22-14-19-10-26-12-23-9-53-17-55-14-59-9-63-6-64-2-64 3-65 7-56 11-56 14-51 18-26 12-20 10-23 13-21 14-20 16-15 13-15 17-12 16-10 17-7 18-6 19-2 19 0 17 2 21 5 20 7 19 29 61 9 23 5 22 0 10-1 12-2 10-5 10-6 10-8 12-20 21-58 53-24 24-24 30-11 16-7 13-7 15-5 16-3 16-1 16 1 17 3 16 5 16 6 15 9 14 9 14 21 22 25 21 33 22 34 18 43 18 49 17 48 12 53 10 52 6 58 3 53 1 49-3 52-5 56-10z"/><path fill="#2c8ff1" d="M5071 2032l33-12 36-17 28-15 26-18 23-19 20-21 16-23 12-23 7-22 4-21 0-22-3-21-5-20-9-23-30-62-8-19-4-13-2-11 0-18 3-10 3-9 6-11 9-13 18-20 60-55 27-28 13-14 11-16 8-12 8-15 6-15 5-20 2-16 0-15-2-17-4-16-8-17-8-16-10-14-14-16-14-13-17-14-20-14-18-11-24-13-20-9-28-12-24-8-51-15-60-12-34-5-31-3-63-4-63 1-37 2-31 4-59 9-59 14-50 16-22 9-26 12-24 12-18 11-17 12-16 12-16 15-13 13-11 14-10 16-8 17-6 15-4 19-1 18 0 17 4 21 6 19 7 19 29 61 7 17 4 13 2 11 0 18-3 10-3 9-6 11-10 13-20 21-58 54-27 27-13 15-11 15-11 16-6 13-8 17-5 18-2 17 0 17 2 18 4 16 8 19 8 14 10 14 11 13 23 22 32 23 36 21 42 18 48 17 47 13 52 10 50 7 56 4 54 1 58-2 52-6 56-9 51-12z"/><path fill="#2b91ef" d="M5053 2026l37-13 36-16 29-15 27-17 27-22 21-21 17-23 12-22 7-20 4-22 1-23-3-21-5-20-9-23-32-66-9-21-3-9-2-13 0-10 1-10 3-10 4-9 6-9 9-13 19-20 57-52 27-27 22-26 10-16 7-13 8-17 4-15 4-18 0-18-2-17-4-16-6-15-8-14-9-14-11-13-14-16-15-12-19-15-17-11-23-13-21-10-46-19-50-16-28-7-33-6-61-9-59-4-61-1-38 2-29 2-56 8-60 12-54 16-22 8-27 11-25 12-19 10-18 11-20 14-18 16-14 14-13 16-10 15-9 16-6 16-4 19-2 18 1 17 3 21 5 20 8 19 29 60 10 23 4 14 1 8 0 10-1 10-4 12-5 11-14 19-20 21-58 52-25 25-25 30-10 16-7 12-8 18-5 17-2 14-1 18 1 17 4 16 5 15 8 15 6 10 10 14 12 13 13 12 30 24 35 21 41 19 40 16 52 15 43 9 57 9 53 5 55 2 51-2 46-3 58-8 47-9z"/><path fill="#2994ed" d="M5039 2019l36-13 38-15 30-15 31-19 28-22 21-20 17-23 12-21 8-20 5-23 0-22-2-22-5-20-8-23-11-22-24-47-8-19-5-20-1-11 1-11 3-10 4-10 7-11 10-13 21-21 53-47 24-24 25-30 11-15 7-13 8-16 5-15 3-15 1-17-1-17-3-17-6-15-7-15-9-14-10-13-13-15-15-14-15-11-21-14-18-11-24-13-21-9-28-11-50-16-28-7-31-6-57-9-60-4-60-1-59 3-57 7-29 5-33 7-54 15-24 8-27 11-42 21-20 12-21 15-15 12-16 14-12 14-12 18-9 16-7 16-5 19-2 18 0 18 4 20 5 20 9 23 28 55 11 24 5 22 1 11-1 11-3 9-4 11-7 11-9 11-20 21-59 52-25 25-24 29-11 15-7 13-8 17-5 17-3 14-1 18 1 17 4 16 5 15 7 15 9 14 11 14 21 22 26 21 35 21 35 17 45 18 44 14 50 11 48 8 53 6 53 2 51-1 56-3 51-7 47-9z"/><path fill="#2896eb" d="M5026 2010l40-12 38-15 35-18 27-16 29-21 21-21 18-22 8-12 6-13 8-21 4-23 0-22-3-21-5-20-9-22-10-23-24-44-9-22-4-11-1-11-1-10 2-10 2-9 5-11 8-12 9-11 23-23 50-43 28-27 22-26 11-15 7-13 8-16 5-15 3-15 2-17 0-13-3-17-5-15-6-15-9-14-10-15-11-13-16-15-14-12-16-11-18-11-22-12-27-13-22-9-48-16-50-12-59-11-62-6-57-2-63 3-63 6-53 10-51 13-51 17-26 12-20 9-19 11-22 14-20 15-16 15-15 16-12 16-10 17-7 17-5 18-3 19 1 21 3 21 6 19 8 19 32 63 9 22 3 12 2 10 0 11-1 9-3 10-5 10-7 12-9 11-21 21-56 49-24 23-26 29-10 14-8 14-8 18-5 14-3 15-2 16 1 16 2 17 5 15 7 15 6 11 10 14 20 22 25 21 33 23 39 20 38 15 44 14 48 12 46 9 52 6 52 3 53 0 56-3 52-6 48-9z"/><path fill="#2698ea" d="M5014 2002l38-11 39-15 35-16 33-19 29-21 21-20 18-22 8-12 7-13 8-20 5-23 0-22-2-22-5-20-9-23-11-22-25-47-9-20-3-10-3-12 0-11 1-10 3-10 4-8 5-10 10-12 21-21 57-50 25-24 22-25 9-12 10-16 8-15 5-16 4-14 2-18 0-16-3-14-4-15-7-15-8-15-10-13-11-13-13-13-17-15-16-11-36-21-20-10-27-12-50-17-53-13-51-9-57-6-62-3-62 2-57 6-55 9-51 12-30 9-22 9-42 18-24 13-22 13-17 12-19 17-17 17-11 15-10 16-8 18-6 19-3 18 1 22 3 20 5 20 10 23 30 58 11 24 4 14 2 8 0 10-1 11-4 11-5 11-15 20-20 20-57 49-28 27-23 26-10 15-8 12-8 17-5 14-4 15-2 15 0 13 2 17 5 16 6 15 5 11 9 14 20 23 24 21 33 23 33 17 43 19 36 12 48 12 45 9 50 7 51 4 53 1 50-2 53-5 56-9z"/><path fill="#259be8" d="M5050 1979l37-14 31-14 29-15 25-18 23-19 20-21 14-20 11-21 7-21 3-23 0-21-4-21-5-19-10-23-35-65-8-19-4-12-3-11 0-9 1-10 3-9 4-10 7-12 11-13 22-21 53-46 29-27 22-25 11-16 7-12 8-16 5-15 4-15 1-17-1-17-3-17-5-15-8-15-9-14-10-13-13-14-16-14-18-14-18-12-38-20-26-12-26-9-49-15-53-12-56-8-59-4-62-1-54 4-60 7-34 7-26 6-48 14-44 17-25 11-19 11-22 14-21 15-18 16-16 18-13 18-10 19-6 18-4 19-1 13 1 17 2 17 6 20 13 30 34 65 9 23 2 12 1 8-1 10-3 9-4 10-5 8-13 17-19 19-59 50-26 25-26 29-9 13-9 15-8 17-5 16-3 14-2 18 1 17 4 16 5 16 8 14 9 14 10 14 23 22 14 12 16 11 31 19 42 19 40 15 46 13 44 9 49 7 55 5 57 2 50-2 53-5 50-8 45-10z"/><path fill="#249de6" d="M5031 1974l37-13 32-13 30-15 31-20 24-18 20-21 18-23 11-21 7-20 4-23 0-22-3-21-6-19-9-23-11-22-25-43-10-22-4-12-2-10-1-11 2-9 2-10 5-10 14-20 20-19 62-53 25-23 22-25 12-16 7-12 8-15 6-16 3-15 2-17 0-16-3-14-4-15-7-15-8-14-10-14-12-13-13-13-14-11-16-12-22-13-19-10-42-19-48-17-51-12-59-10-62-6-58-1-54 2-59 6-55 10-53 14-48 17-41 19-19 11-21 14-17 13-18 16-13 14-12 17-10 16-6 16-5 19-2 19 0 17 4 20 6 20 9 22 34 61 10 23 4 12 2 10 0 11-1 9-3 10-5 10-14 19-20 21-61 52-28 25-23 27-9 12-10 15-8 17-5 14-4 15-2 16 1 17 3 16 4 16 7 14 6 11 10 14 21 22 14 13 15 11 30 19 35 17 39 16 50 16 43 9 47 8 54 6 49 2 51 0 48-4 51-6 47-9z"/><path fill="#23a0e5" d="M5016 1966l38-12 32-12 36-17 27-17 25-18 15-13 10-10 18-23 11-21 8-20 4-23 0-22-3-21-7-23-9-23-12-22-25-42-10-23-5-19-1-11 1-11 3-10 6-11 14-19 22-21 54-45 29-27 23-25 11-15 8-12 8-15 6-15 4-15 2-16 0-15-2-14-3-14-6-16-8-14-9-14-11-12-13-14-14-12-16-11-35-22-42-20-46-16-53-14-49-9-54-7-57-3-56 1-58 5-56 8-52 12-47 15-22 8-26 12-24 13-23 13-17 13-19 16-16 17-12 15-10 16-8 17-5 20-2 18 0 22 4 20 6 19 10 23 34 61 10 20 4 10 2 12 1 11-1 10-4 11-5 11-6 9-9 11-22 20-58 48-25 23-26 28-11 16-8 12-9 17-5 13-4 15-2 16 0 13 2 16 4 16 7 15 5 11 10 14 20 23 24 21 29 20 34 17 37 16 43 15 48 12 46 8 52 7 48 3 53 0 48-3 52-6 48-9z"/><path fill="#22a2e4" d="M5003 1958l42-12 38-15 31-15 32-18 24-19 22-20 18-22 12-20 8-20 5-23 1-23-3-21-7-23-9-23-12-22-27-46-11-22-4-12-1-10-1-11 2-9 3-10 5-9 6-8 11-13 24-22 53-44 25-23 27-29 16-23 8-14 7-16 4-14 2-14 1-14-2-17-3-14-5-14-7-14-9-14-11-13-12-13-13-12-16-12-16-11-18-10-40-20-47-17-49-14-50-10-54-7-55-3-57 1-57 4-54 8-53 11-47 14-38 15-25 12-24 13-21 14-22 17-16 16-15 18-10 17-8 16-6 20-2 18 0 22 4 21 6 19 8 19 13 25 25 42 11 23 3 12 2 10 0 11-1 9-4 10-4 9-9 12-8 9-19 18-58 48-29 26-23 25-12 15-8 12-9 17-5 14-4 14-3 16 0 13 2 17 4 16 4 11 6 11 8 14 8 11 12 13 24 21 28 20 33 18 37 16 42 14 40 11 45 9 50 7 48 4 54 1 49-2 46-5 49-8z"/><path fill="#20a4e3" d="M5033 1938l31-11 32-14 29-15 26-17 24-19 20-21 14-19 12-21 7-21 3-23-1-22-3-20-7-19-9-23-12-21-26-43-11-22-4-11-3-11 0-10 1-9 2-10 5-11 6-8 9-11 22-21 58-47 29-26 23-25 12-15 8-12 8-15 6-15 4-15 2-18 0-15-3-15-4-15-7-15-8-15-9-11-12-13-11-11-15-12-15-12-18-11-18-10-42-19-45-15-51-13-55-10-60-6-57-1-56 2-56 6-51 9-50 13-46 16-41 18-19 11-22 14-19 14-16 14-13 14-11 16-8 14-7 16-6 19-2 18 1 22 4 20 6 19 11 23 35 60 12 24 3 10 3 11 0 9-1 10-3 9-5 11-5 8-9 11-22 21-61 50-27 23-26 28-12 16-8 13-8 16-6 16-4 17-1 15 0 13 3 17 5 15 7 15 6 11 10 13 21 23 26 20 30 19 35 18 39 15 45 14 42 9 48 8 54 6 48 1 50-1 55-4 50-7 46-10z"/><path fill="#1fa6e1" d="M5014 1932l36-12 33-13 34-17 27-17 24-18 17-17 18-23 12-21 7-21 4-23 0-22-4-20-7-23-11-23-12-21-27-44-10-20-4-12-3-12 0-9 1-9 3-10 6-11 15-18 24-23 57-46 26-22 27-29 17-23 9-17 5-13 5-15 2-15 0-16-1-13-4-16-6-15-8-14-8-12-10-12-13-13-14-12-15-11-17-11-18-11-41-18-21-9-27-8-50-13-48-9-53-6-54-3-53 1-51 4-56 9-49 11-48 14-43 18-24 12-23 14-19 14-17 14-13 14-12 15-11 16-8 17-6 19-2 19 0 21 4 21 7 19 10 22 12 22 27 44 10 20 4 12 3 12 0 9-1 9-4 10-5 11-7 9-8 9-23 21-55 44-30 26-27 28-11 15-8 12-9 17-6 14-4 14-2 16 0 13 2 17 4 16 4 11 6 11 9 14 8 10 12 13 24 21 29 20 34 18 38 15 43 15 41 10 46 8 43 6 49 3 52 0 49-3 52-6 47-8z"/><path fill="#1da9e0" d="M4999 1925l37-11 38-15 31-15 27-16 25-18 22-20 18-22 12-20 8-21 4-23 1-22-4-21-7-23-11-23-12-21-29-46-11-22-4-11-2-10-1-11 2-9 3-10 5-10 9-11 9-10 16-15 58-46 31-26 23-24 13-15 8-12 9-16 6-14 5-14 2-15 1-13-1-16-3-13-6-15-7-15-7-12-10-12-12-13-25-21-16-11-17-11-33-16-44-18-48-14-52-11-55-7-52-4-57 0-49 3-51 7-53 11-43 12-44 16-26 12-23 13-22 14-20 16-15 13-14 17-12 17-8 17-7 20-3 23 1 21 5 20 6 20 11 22 10 18 27 42 13 25 4 12 2 10 0 11-1 9-4 10-5 9-15 19-22 20-61 48-27 24-27 28-17 24-8 12-6 15-5 15-3 14-1 14 1 17 3 12 5 15 11 22 10 14 8 10 23 21 28 20 32 18 37 17 42 14 40 11 45 9 49 7 49 3 45 1 57-2 45-5 42-7z"/><path fill="#1babde" d="M5032 1903l34-13 31-14 28-16 21-14 19-16 17-18 14-19 12-21 6-19 3-21 0-22-5-24-7-19-11-23-12-21-29-45-10-19-5-11-2-11-1-9 0-9 3-10 5-11 6-8 10-11 24-22 61-48 26-23 27-28 12-15 8-12 8-16 6-14 4-15 1-15 0-13-2-16-5-16-7-15-7-12-9-12-10-12-15-13-14-12-16-11-18-11-19-10-22-11-23-8-41-14-50-12-47-8-52-5-54-2-59 2-52 6-49 8-50 13-46 16-41 18-23 14-24 16-19 16-18 19-14 19-9 17-6 19-4 20 0 17 2 17 4 16 7 19 7 15 10 18 35 56 12 23 3 11 1 9 0 11-3 10-4 9-5 8-16 18-21 18-57 45-30 25-27 28-12 15-8 12-9 17-6 13-4 15-2 17 0 13 2 16 5 16 6 15 6 11 10 14 8 9 13 13 26 21 30 19 29 14 39 16 45 14 42 9 48 8 55 5 47 2 50-1 46-4 50-8 46-10z"/><path fill="#19addc" d="M5010 1899l37-13 32-13 29-15 27-17 24-19 17-17 14-19 12-21 7-18 4-22-1-22-4-24-9-23-11-22-12-22-28-41-12-22-5-12-2-11-1-9 1-10 3-9 6-11 7-9 9-10 19-17 60-46 31-26 24-24 12-15 8-12 10-16 6-13 4-14 3-16 1-16-2-14-2-12-6-15-8-15-8-12-10-12-12-13-25-20-16-12-18-10-18-9-23-10-43-16-45-12-49-10-54-6-51-3-47 0-56 4-55 8-48 11-42 13-43 17-25 12-23 14-21 14-15 13-14 14-13 16-9 15-8 17-6 20-2 19 2 21 4 21 7 19 11 22 13 21 27 42 12 22 5 12 2 11 1 8-1 10-3 10-6 10-7 10-9 10-23 20-62 47-28 24-25 25-12 15-8 12-9 16-6 14-5 14-2 15-1 15 2 14 3 15 6 15 13 22 7 10 12 13 24 21 29 19 34 18 33 14 43 14 41 10 46 8 44 6 48 2 52 0 48-3 44-5 48-9z"/><path fill="#16afda" d="M4993 1892l40-12 33-13 30-15 28-16 24-18 18-17 18-22 12-20 8-22 4-22 0-23-4-20-9-24-11-22-13-21-30-45-12-22-5-11-2-10-1-10 2-10 3-10 6-9 5-8 10-11 21-18 62-47 27-22 25-24 12-15 8-11 10-17 6-13 5-14 3-15 1-14 0-13-3-14-4-14-6-11-8-14-10-13-9-11-24-21-15-11-18-11-37-19-44-17-42-13-44-9-45-7-51-5-54-1-52 3-48 5-49 9-43 11-46 16-26 11-24 12-23 15-22 15-17 16-16 18-10 16-9 18-6 18-2 21 1 21 4 20 9 23 11 22 13 21 30 45 10 19 4 11 3 10 0 10-1 10-3 10-6 10-15 18-23 19-58 44-30 25-24 23-21 26-10 16-7 13-5 14-4 15-1 16 0 13 2 13 5 15 11 22 10 14 8 10 23 22 27 20 28 15 36 17 35 13 47 12 45 9 42 6 47 4 46 1 49-2 46-5 49-8z"/><path fill="#13b1d7" d="M5027 1870l31-11 30-15 28-16 21-14 19-16 17-18 13-20 9-17 6-19 3-22-1-21-5-21-8-22-12-22-13-21-31-45-12-22-5-12-2-11 0-9 1-9 3-9 5-8 8-11 8-8 22-19 61-46 31-25 28-28 17-22 9-16 7-14 4-14 3-16 1-16-2-15-4-15-6-15-8-13-7-11-11-13-11-10-14-12-16-12-33-19-40-18-42-15-48-12-48-9-51-5-52-2-48 1-52 5-48 7-47 11-47 15-39 16-29 16-24 16-19 15-17 18-15 19-9 17-7 17-4 21-1 14 1 14 3 15 5 16 8 18 10 18 41 62 13 22 5 12 2 13 0 12-3 9-4 9-5 8-16 18-19 16-66 49-27 22-27 27-13 15-8 11-9 17-6 13-5 14-2 16-1 16 2 13 4 15 6 15 13 22 11 13 9 9 25 21 29 20 30 15 38 15 38 12 49 12 48 8 48 4 46 2 50-2 54-4 42-7 46-10z"/><path fill="#0eb2d4" d="M5002 1866l31-9 32-13 30-15 27-17 24-18 17-18 15-19 11-20 7-19 3-23 0-22-6-24-9-22-12-22-13-21-32-45-10-17-6-13-3-10 0-9 1-11 3-9 5-10 8-10 10-10 19-16 66-49 23-18 29-27 13-15 8-11 10-15 7-14 4-14 4-15 1-16-1-13-3-13-5-14-5-11-9-14-10-14-9-10-25-21-29-19-34-18-41-16-48-14-45-10-50-7-48-3-44-1-52 3-49 5-49 10-43 11-45 16-26 12-24 13-22 14-16 12-18 17-14 16-11 17-8 16-6 22-1 21 1 21 6 20 7 18 12 22 13 21 32 45 12 21 3 9 3 11 1 8-1 11-3 9-6 10-7 10-10 10-24 19-57 43-32 25-25 23-11 12-10 14-11 16-6 13-5 14-4 14-1 16 1 15 2 12 5 16 11 21 10 14 8 10 24 21 24 17 32 19 32 14 42 14 40 11 46 9 42 5 49 3 45 1 49-3 44-5 48-9z"/><path fill="#09b4d1" d="M4986 1860l39-12 32-13 31-14 27-17 24-18 18-17 15-18 12-21 7-19 4-23-1-22-5-24-9-22-11-22-14-21-34-47-11-19-5-11-3-11-1-9 1-10 3-10 7-10 16-18 24-20 57-41 32-25 25-23 21-26 11-16 6-13 5-14 4-13 1-13 0-13-2-13-4-16-5-11-6-11-7-10-11-14-23-21-27-20-33-18-38-17-43-13-41-11-43-7-52-5-49-2-48 1-44 4-52 7-45 11-42 13-28 11-24 11-24 13-23 16-19 16-15 16-13 17-10 19-7 19-3 22 1 21 6 24 9 23 12 21 11 18 34 47 11 19 5 11 3 11 1 9-1 9-3 10-7 11-16 18-23 19-58 42-29 22-28 26-22 25-11 16-6 13-6 14-4 14-2 14 0 13 2 13 4 15 5 12 6 11 14 20 9 10 13 12 23 18 31 18 30 15 41 15 39 11 44 9 41 6 47 4 48 2 50-2 45-5 42-7z"/><path fill="#06b6ce" d="M5016 1840l28-11 31-14 28-15 22-15 19-16 16-18 14-19 8-17 6-20 3-23-2-21-5-21-9-22-12-21-14-21-33-44-13-21-6-13-3-10 0-9 1-9 4-10 5-8 8-10 8-8 23-19 63-45 28-21 29-27 13-15 8-11 10-16 7-13 6-18 2-14 1-13-2-17-3-12-6-15-5-11-9-13-10-12-12-12-25-20-17-11-19-11-34-15-39-14-44-13-50-9-49-5-50-3-48 1-50 4-47 7-47 11-42 13-38 15-29 15-24 15-18 14-18 18-15 18-11 17-8 21-3 19-1 13 2 17 3 16 6 16 8 18 11 18 47 65 12 21 5 12 2 10 0 11-3 9-5 10-5 7-17 18-24 19-62 44-28 22-25 23-12 13-10 13-11 17-8 16-5 15-3 14 0 13 1 17 3 12 6 16 12 21 11 13 9 10 21 18 29 20 34 17 39 16 37 11 43 10 48 8 46 4 50 2 42-2 46-4 42-6 46-10z"/><path fill="#02b7cb" d="M4993 1835l32-10 32-13 30-15 22-14 21-15 18-17 15-18 12-21 7-19 3-14 1-10 0-21-6-24-9-22-12-22-17-25-33-44-14-21-5-11-3-11 0-9 1-8 3-9 5-9 9-11 10-9 21-17 63-44 32-24 25-23 13-15 9-11 11-16 6-13 6-13 3-14 2-14-1-13-2-15-4-13-5-11-6-11-7-10-12-14-23-21-29-20-36-19-36-14-40-13-41-9-46-8-51-4-48-1-51 2-48 5-41 7-45 11-40 14-32 13-29 16-24 15-20 17-17 19-14 19-10 21-5 20-2 18 2 16 3 17 5 15 9 19 13 21 47 64 12 19 5 11 3 11 0 12-3 11-9 15-17 18-24 18-59 41-30 22-28 26-21 24-9 13-9 16-6 14-4 15-2 15 0 13 2 12 4 16 5 11 6 11 10 14 8 10 10 9 13 12 24 17 33 18 32 14 36 13 40 10 46 9 42 5 43 3 45 1 48-3 45-5 41-7z"/><path fill="#01b8c8" d="M4976 1829l35-11 33-12 31-14 27-16 21-15 22-20 15-19 12-21 7-20 2-13 1-10-1-21-6-24-10-23-12-21-15-21-36-47-12-18-5-10-4-12-1-8 1-10 3-9 6-11 7-9 11-10 24-18 64-44 28-22 26-23 22-25 9-11 8-15 5-11 4-15 3-14 0-13-1-12-4-16-4-12-6-11-7-10-10-14-19-19-27-20-32-18-32-14-35-13-42-11-44-8-42-6-49-3-46 0-40 3-50 6-47 9-40 11-33 12-26 11-27 14-24 16-19 16-17 17-14 19-9 16-6 20-2 10-1 13 1 22 7 23 10 23 13 21 14 20 33 42 13 20 5 11 4 11 1 9-1 9-3 9-5 9-9 11-10 10-20 16-66 45-31 23-26 23-22 25-11 15-7 13-6 13-4 14-2 16-1 11 2 15 3 12 4 11 6 11 14 21 18 19 27 21 31 18 30 15 35 12 39 12 44 9 41 6 43 4 46 1 41-2 46-4 42-6z"/><path fill="#02bac5" d="M5002 1810l29-10 31-14 24-13 22-14 20-15 17-18 14-19 9-17 7-21 2-12 1-11-2-21-6-23-10-23-15-23-16-22-35-43-11-18-6-11-3-9-2-11 1-9 3-7 4-9 9-11 9-8 22-17 69-47 32-24 26-23 13-14 9-11 11-16 7-13 5-14 4-14 1-15 0-13-3-13-4-14-5-12-7-10-7-10-12-14-9-9-15-12-29-19-34-18-37-14-41-12-45-10-44-6-43-4-43-1-51 2-48 6-43 8-44 11-40 14-31 14-24 13-25 17-19 16-16 18-14 20-9 22-4 20-1 13 1 17 4 16 7 19 10 19 13 21 47 60 14 21 5 11 3 13 0 11-3 9-9 14-15 16-25 18-64 44-30 22-29 25-12 12-10 13-11 16-7 12-5 14-4 14-2 16 0 13 2 13 5 15 5 11 6 11 15 20 20 19 27 20 33 18 32 14 36 12 41 11 46 8 41 5 48 3 43-1 47-3 44-6 40-7z"/><path fill="#04bbc2" d="M4981 1805l30-9 33-13 30-15 23-13 20-16 18-16 16-19 12-20 8-22 2-11 1-11-2-22-6-24-11-23-14-24-16-20-37-45-14-21-4-9-4-11-1-9 1-9 4-10 5-8 10-11 9-8 24-18 59-39 33-24 31-25 19-22 12-15 7-12 7-14 4-15 3-14 0-13-2-13-4-16-4-11-6-11-7-10-11-14-20-18-27-20-33-18-35-15-35-12-42-10-45-8-44-4-42-2-47 1-43 3-46 7-39 8-43 12-28 11-25 12-24 13-24 16-19 16-13 14-13 17-9 17-6 20-2 10-1 13 2 21 7 24 10 22 14 21 17 24 35 42 14 20 4 9 4 12 1 8-1 9-4 10-5 8-7 8-10 10-25 18-65 43-29 21-30 25-23 25-11 16-7 12-6 14-4 12-3 14 0 14 1 13 4 15 5 12 5 10 15 21 19 19 22 17 32 19 31 14 34 13 40 11 36 8 42 6 44 4 46 1 41-2 46-4 42-7z"/><path fill="#09bcbe" d="M4965 1798l32-9 34-12 31-14 28-16 24-18 18-17 16-18 10-18 8-21 3-23 0-13-2-12-6-24-11-22-15-23-17-23-35-42-15-20-6-11-4-11-1-9 2-8 3-9 5-8 6-8 11-10 25-18 65-42 30-21 27-22 23-25 12-15 8-12 6-13 5-14 3-12 1-14-1-12-3-16-4-12-6-11-14-21-18-19-22-17-31-19-30-15-35-13-39-11-39-8-45-7-40-3-42-1-44 2-45 4-42 7-39 9-29 9-33 13-30 15-23 13-24 18-18 17-15 19-9 17-8 21-2 12-1 11 2 21 7 23 10 23 16 24 15 20 36 43 15 21 6 11 4 11 0 9-1 8-3 9-5 8-7 8-10 10-25 18-66 42-29 21-31 25-22 23-10 13-10 16-6 14-4 13-3 14-1 13 1 13 3 12 4 12 5 11 14 21 18 19 22 18 26 16 29 15 34 13 38 12 43 9 40 7 37 3 46 2 42-1 46-4 43-6z"/><path fill="#0ebebb" d="M4988 1780l29-9 27-11 29-15 23-14 19-16 18-17 14-19 9-17 5-14 2-9 2-22-2-22-8-23-11-22-16-24-16-20-37-43-15-20-6-11-3-9-1-7 1-10 2-9 6-9 8-9 9-8 24-18 67-42 34-24 30-25 20-21 12-16 7-12 8-15 4-15 2-14 0-13-2-15-3-13-5-12-6-10-16-21-19-18-28-20-28-16-34-15-36-12-43-11-42-7-45-5-40-1-48 0-43 4-48 7-39 9-41 12-33 13-29 15-27 17-19 16-17 17-14 20-10 21-6 22 0 18 1 14 5 18 6 16 10 18 14 21 16 20 40 46 14 20 5 11 3 12 0 9-4 10-8 13-18 17-21 14-69 44-29 20-30 25-23 23-12 15-8 13-7 16-5 15-2 14-1 13 2 13 4 16 5 11 6 11 15 20 19 19 23 17 28 16 31 14 35 13 39 11 46 9 42 5 39 3 44 0 41-2 44-5 41-8z"/><path fill="#15bfb7" d="M4969 1774l34-10 28-10 25-12 28-16 21-15 18-17 16-18 12-20 5-14 3-10 2-21 0-10-2-13-7-23-11-22-16-24-19-24-41-45-13-17-5-10-4-9-1-8 0-9 3-9 5-8 10-11 10-9 27-18 63-39 30-20 31-25 24-24 12-15 8-12 6-13 5-13 3-14 1-13 0-14-3-12-4-11-5-12-14-20-18-20-22-17-27-17-33-16-36-13-35-11-39-8-45-6-39-3-45-1-46 2-40 4-41 8-38 9-35 11-29 12-28 14-22 14-20 15-16 16-13 17-11 18-7 21-2 22 0 13 3 12 7 24 11 22 17 24 19 23 34 38 17 21 5 10 3 9 2 8-1 9-3 9-5 8-6 7-11 10-25 18-67 42-34 23-32 25-23 24-10 13-9 15-6 13-5 14-3 15 0 11 1 14 3 13 7 18 14 21 18 20 22 17 26 17 29 14 34 14 38 11 44 10 41 6 39 3 45 1 42-1 45-5 42-7z"/><path fill="#1bc0b4" d="M4998 1754l30-11 31-14 27-16 24-19 10-10 10-11 13-20 6-13 4-9 4-20 0-18-3-16-5-17-8-17-10-18-15-21-17-19-39-42-16-20-6-11-4-12 0-8 2-10 3-7 6-8 7-7 11-9 21-15 68-41 35-23 32-25 24-24 11-15 8-13 8-16 4-15 2-14 0-13-2-13-4-15-5-11-7-11-16-20-20-18-28-20-34-17-33-14-38-11-40-10-44-6-42-4-45-1-42 2-47 5-42 7-41 11-34 11-32 14-24 13-22 14-22 19-16 18-13 20-6 13-3 10-3 19 0 17 3 16 5 16 9 18 11 18 15 20 53 59 16 20 6 11 4 11 0 9-2 9-3 7-6 8-7 7-11 10-22 14-73 45-31 20-32 26-22 22-12 15-9 14-7 15-5 15-2 15 0 13 1 12 5 16 5 11 6 11 16 20 20 19 24 17 27 15 32 14 36 13 41 10 39 7 47 5 46 2 43-1 39-3 43-6 39-8z"/><path fill="#21c1b0" d="M4973 1751l36-12 32-13 29-15 26-18 22-20 15-18 7-13 5-9 4-13 3-12 1-17-2-17-5-20-9-19-12-21-16-20-16-19-41-42-16-20-6-11-4-12-1-10 3-9 5-9 7-7 15-13 23-15 67-40 35-22 28-22 25-23 13-15 8-12 8-16 6-14 3-15 1-11-1-15-2-12-8-20-13-20-18-20-22-17-26-17-29-14-36-13-37-11-39-8-44-7-44-3-40 0-44 2-42 4-41 8-37 10-35 11-31 14-29 15-25 18-21 20-15 19-6 11-5 11-3 9-3 15-1 17 2 17 5 16 8 19 12 21 16 20 20 23 38 40 17 22 5 10 3 9 0 10-2 9-5 9-7 7-15 13-21 14-66 39-35 22-32 24-26 24-11 14-11 15-7 13-5 13-3 12-2 14 0 13 3 16 7 19 7 11 7 10 18 20 21 17 26 17 30 14 34 13 39 12 36 8 41 6 41 3 46 1 41-1 45-5 41-7z"/><path fill="#26c2ad" d="M4957 1744l33-9 28-10 31-14 23-14 25-18 18-16 15-19 9-17 7-21 2-12 1-12-1-11-2-13-9-23-14-25-17-24-21-22-43-45-14-16-7-11-3-9-1-6 0-9 5-11 4-6 7-7 10-8 25-17 69-40 32-19 33-24 25-23 13-15 8-11 7-13 7-14 4-14 2-14 0-13-2-13-7-19-12-20-14-18-21-18-25-17-28-15-33-14-31-10-36-9-36-6-43-5-38-2-39 0-41 3-39 5-37 6-34 9-35 12-33 14-23 13-21 14-19 16-17 19-13 19-6 13-3 9-2 11-1 14 1 13 2 12 8 23 12 22 17 24 20 23 46 47 14 17 7 10 3 9 1 7 0 9-5 10-5 7-6 7-10 8-25 16-70 40-31 20-34 24-25 23-12 13-9 12-7 13-7 15-5 15-2 12 0 14 2 13 6 19 6 11 7 11 17 19 21 18 25 17 29 15 34 13 31 10 35 9 39 6 45 5 43 2 42-1 39-4 42-6z"/><path fill="#2ac3a9" d="M4979 1727l36-13 31-14 28-16 24-18 10-10 10-11 13-20 9-21 3-11 1-11 0-17-3-18-6-16-9-18-12-19-18-21-18-20-44-44-15-16-6-11-5-11-1-9 3-9 8-12 7-7 12-9 22-14 71-40 36-22 33-24 25-23 13-14 9-13 8-16 6-14 3-11 1-14-1-13-3-16-8-19-6-10-8-11-18-19-23-17-27-16-30-14-31-12-38-10-37-8-40-5-40-3-44-1-40 2-45 6-40 7-37 10-34 12-31 14-29 17-24 17-10 10-10 11-13 20-5 9-5 13-4 20 1 18 3 17 6 19 10 18 12 17 16 20 21 23 41 41 15 16 6 11 5 11 0 9-2 9-8 12-8 7-11 9-23 14-68 38-38 24-33 24-26 23-13 14-9 13-8 15-6 14-3 13-2 14 1 12 3 17 8 19 6 10 7 10 19 20 22 17 27 16 30 15 35 12 40 11 38 8 43 5 39 2 40 1 41-3 44-5 40-8z"/><path fill="#2dc4a6" d="M4959 1721l37-11 38-15 28-16 25-17 22-21 14-19 6-9 5-12 4-14 2-11 0-17-3-19-7-19-9-19-15-20-16-20-22-22-43-41-17-19-7-11-2-7-1-9 2-10 9-12 8-7 11-8 23-14 76-41 32-19 33-24 26-23 13-14 9-12 7-12 7-16 4-14 2-13-1-14-2-12-7-20-11-19-16-18-21-18-26-16-24-13-35-14-29-9-32-8-42-8-37-4-39-1-34 0-41 2-42 6-36 7-39 10-35 13-35 17-27 17-23 19-9 10-10 12-7 12-5 11-4 10-2 12-2 20 3 16 6 20 8 18 14 21 19 24 19 19 46 44 17 19 6 10 3 8 1 9-3 9-8 12-9 8-11 8-27 16-71 39-32 19-35 25-25 21-13 15-9 12-9 15-6 13-4 14-1 11 0 16 2 13 6 19 6 11 7 10 14 16 22 18 25 17 29 15 34 13 31 10 36 8 40 7 44 4 37 1 42-1 38-4 43-6z"/><path fill="#30c5a2" d="M4989 1701l32-12 29-15 27-17 22-19 16-18 12-21 7-19 2-10 0-13-1-16-4-16-8-19-10-18-16-20-16-18-20-21-44-39-18-20-7-10-3-8-1-9 2-9 3-5 6-7 16-12 22-14 78-41 36-21 34-23 16-13 14-14 13-14 10-14 8-14 5-14 4-13 1-14-2-16-3-14-4-10-6-11-12-17-19-19-24-17-27-16-33-14-36-12-33-9-39-7-37-4-38-2-45 0-42 3-36 5-43 9-36 11-33 12-30 15-26 17-22 18-17 20-12 20-7 18-2 10-1 12 2 17 3 16 8 19 10 18 16 20 17 20 19 19 44 40 18 19 7 10 3 8 1 9-2 9-3 5-6 7-16 12-23 14-73 39-41 23-34 23-15 13-15 13-13 15-10 14-8 14-6 13-3 15-2 13 1 15 4 14 8 19 6 11 8 10 19 19 23 17 27 16 32 14 36 12 34 9 38 7 44 5 38 2 43 0 39-3 43-6 40-9z"/><path fill="#33c69e" d="M4963 1698l39-13 31-13 28-16 25-19 11-10 9-10 14-20 6-13 3-10 3-20-1-18-4-19-8-18-10-18-15-20-21-23-20-19-48-42-16-16-7-10-4-8-1-8 2-9 3-6 6-7 17-13 23-13 74-37 38-21 35-23 16-12 15-13 13-14 9-11 10-16 7-13 4-14 2-14 1-13-2-13-7-19-10-18-14-17-20-18-22-15-26-14-33-14-31-10-34-9-36-6-38-5-40-2-34 0-41 3-38 5-42 8-41 12-33 12-33 17-27 18-20 17-8 10-9 11-5 10-6 12-4 14-2 10 0 17 3 20 7 19 12 22 15 20 21 23 20 18 48 43 16 16 7 10 4 7 1 8-2 10-3 6-6 6-17 13-24 13-73 38-38 21-35 22-16 13-15 13-13 12-10 13-10 16-7 12-5 15-2 15 0 13 2 16 7 19 6 11 8 10 14 16 22 18 26 17 30 14 35 13 33 9 36 8 42 6 39 3 36 0 41-2 37-3 42-8z"/><path fill="#35c79a" d="M4946 1692l37-11 38-15 33-18 25-18 11-10 10-10 14-20 7-13 4-11 2-13 1-10-1-18-5-19-8-19-13-21-18-21-20-21-21-18-46-39-20-19-7-10-4-7 0-9 1-5 3-5 5-6 17-12 23-13 75-37 39-20 35-23 17-12 15-12 15-14 9-10 12-16 7-12 5-14 4-15 1-13-1-13-4-16-9-18-13-19-16-16-21-16-22-13-25-13-28-11-32-9-32-8-35-6-32-3-33-2-34-1-40 3-31 3-42 7-33 8-36 12-34 15-24 14-25 18-18 18-8 10-7 11-6 11-5 14-2 15 0 12 1 14 3 12 4 11 7 15 16 24 23 26 27 25 54 45 15 16 6 7 4 7 2 6 0 6-1 5-5 8-7 7-13 8-23 14-77 37-37 19-36 23-16 11-16 13-14 14-10 10-11 16-8 12-5 13-4 15-2 15 1 13 6 20 5 11 6 10 13 17 21 19 24 16 24 13 32 14 31 10 34 8 39 7 38 4 38 2 43 0 39-3 36-5z"/><path fill="#38c895" d="M4968 1675l35-13 30-14 28-16 23-19 10-10 9-11 13-21 4-12 2-9 2-13 0-10-2-16-6-20-10-18-12-18-16-19-22-22-25-21-52-41-16-16-8-10-3-8 0-7 1-5 3-4 7-7 8-6 14-8 101-48 48-25 31-20 28-22 14-13 12-15 11-16 6-13 5-14 2-15 0-13-2-12-6-20-11-17-14-17-21-18-26-16-24-13-27-11-34-11-40-9-35-6-33-3-41-1-36 0-40 4-35 5-35 7-40 12-33 13-33 18-25 18-20 19-7 9-8 12-7 13-3 11-2 9-1 14 1 17 5 19 9 19 13 21 17 20 22 22 25 21 52 41 16 16 8 10 3 7 0 8-2 5-2 4-7 6-9 7-13 7-101 48-48 26-30 19-29 22-14 14-13 14-10 14-7 15-5 14-3 15 0 14 2 13 6 19 6 11 7 10 15 16 22 18 26 17 24 12 35 13 32 9 36 8 42 6 38 3 39 1 41-2 37-5 41-7z"/><path fill="#3cc991" d="M4948 1669l41-13 32-13 28-16 25-18 11-10 10-11 13-20 5-10 4-12 3-13 0-13-3-21-6-19-11-19-14-19-18-20-23-21-26-21-54-41-17-15-6-6-5-9-1-6 1-5 4-6 5-5 14-8 24-13 89-39 35-17 37-21 34-24 15-13 13-13 12-15 8-12 6-13 4-15 3-15-1-14-4-18-8-16-12-18-15-16-18-14-22-14-24-12-28-12-31-9-35-9-35-6-31-3-38-2-35 0-31 2-32 4-43 7-22 6-24 7-38 15-33 17-15 11-15 11-10 10-10 11-8 12-6 13-5 14-3 11 0 9 0 13 4 20 10 23 16 24 21 23 23 22 26 20 54 41 17 15 6 6 5 9 1 6-1 5-4 6-6 5-13 8-25 13-83 36-38 19-26 14-20 12-31 23-14 12-13 14-10 12-10 16-6 14-4 14-1 12 1 16 1 10 4 11 10 18 13 17 20 19 25 16 23 13 33 14 31 10 35 8 40 7 42 4 36 1 42-1 38-4 35-6z"/><path fill="#41ca8c" d="M4976 1649l32-12 30-15 26-17 11-10 10-10 15-19 6-10 5-11 3-10 2-13 0-9-1-13-5-20-9-18-11-18-17-20-21-22-24-19-29-22-53-36-19-15-6-6-4-7-1-4 1-5 7-7 18-11 112-47 51-23 37-22 34-23 18-16 14-15 11-15 7-12 6-17 3-14 0-14-2-16-7-19-11-18-15-16-22-18-26-16-25-12-28-11-32-10-32-7-37-5-37-4-38-1-33 1-41 4-33 5-34 8-40 12-32 13-19 10-14 9-24 18-10 10-9 11-8 11-6 11-4 11-3 11-1 12 0 13 4 20 8 19 13 21 16 20 22 22 26 21 27 20 53 37 18 14 7 7 4 7 1 4-1 5-7 7-19 11-111 46-51 24-38 21-33 24-19 16-13 14-10 13-9 15-7 17-3 15 0 13 2 16 7 20 6 10 8 10 15 17 22 17 27 16 26 12 35 13 33 9 38 7 41 5 38 2 43-1 39-3 36-5 39-8z"/><path fill="#46cb88" d="M4951 1646l39-13 31-13 19-11 13-8 23-19 10-11 9-11 6-11 5-11 3-9 3-14 0-14-1-12-3-12-5-12-11-21-18-23-19-20-29-24-32-23-29-19-75-45-7-6-1-5 4-4 15-7 106-38 60-24 49-25 24-13 17-11 20-16 15-13 13-14 11-16 8-15 5-16 3-17-2-16-4-17-10-18-10-14-16-16-19-14-22-13-25-13-25-9-33-10-27-6-35-6-31-4-38-1-35 0-31 2-37 5-46 9-42 13-36 16-19 10-16 10-14 11-13 13-10 12-8 12-5 11-4 11-3 13 0 14 1 12 3 12 4 12 5 11 7 10 9 14 21 23 24 21 26 21 42 27 75 46 10 9 2 4-4 4-15 7-107 38-59 24-25 12-27 14-38 24-21 15-14 13-13 14-12 15-8 17-6 15-2 15 1 17 5 19 9 18 13 17 20 19 24 16 24 13 33 14 31 9 36 9 40 6 36 3 37 1 41-1 38-4 35-6z"/><path fill="#4ccb83" d="M4934 1639l42-12 32-13 20-10 14-8 24-18 11-10 9-11 8-12 7-13 3-10 3-14 1-11-1-11-2-13-4-11-11-22-17-24-25-25-30-24-37-25-46-26-35-17-25-8-17-2-17 0-21 3-32 8-42 12-39 14-38 15-31 14-30 15-26 16-22 16-19 16-16 16-12 17-9 17-4 14-2 10 0 11 1 11 6 20 5 11 7 10 8 10 10 10 22 17 26 16 32 14 36 12 35 9 40 7 46 4 45 0 40-2 37-5z"/><path fill="#4ccb83" d="M4954 1235l44-15 39-14 37-16 35-17 28-16 26-17 22-19 17-18 13-20 8-17 4-19 0-18-1-8-4-11-9-19-13-17-17-15-23-17-27-14-29-13-38-12-34-7-45-7-40-3-43 0-38 3-45 6-41 9-33 11-32 13-28 16-25 18-17 17-14 20-5 12-4 10-2 10 0 11 0 11 2 12 4 12 5 11 13 21 19 23 27 25 35 26 43 27 43 23 16 7 17 6 14 3 11 1 17 0 30-5z"/><path fill="#52cc7e" d="M4955 1623l35-13 31-14 27-16 12-10 10-10 16-18 7-12 5-10 4-13 2-10 0-11-1-12-3-12-4-11-5-11-8-14-19-24-24-22-30-23-38-24-39-21-32-13-24-7-20-3-20 0-22 3-27 5-37 10-41 13-38 15-32 14-29 15-27 16-21 15-19 16-17 17-12 19-8 16-3 12-2 11 0 11 1 11 7 19 6 11 7 10 8 10 10 10 11 8 16 12 29 15 33 13 38 12 37 8 42 5 41 2 42 0 47-4 41-7z"/><path fill="#52cc7e" d="M4961 1219l38-12 40-14 37-16 35-17 28-16 25-17 19-17 16-17 13-20 8-18 3-20 0-17-6-20-10-18-13-16-18-16-24-16-29-15-34-13-33-10-37-7-43-6-40-2-46 1-38 4-42 6-31 8-35 12-31 13-28 17-24 18-16 18-6 9-7 11-5 14-2 10-1 11 0 11 4 21 5 11 5 11 7 11 10 13 21 23 25 21 37 25 41 24 36 16 31 10 26 4 25 0 29-5z"/><path fill="#59cc79" d="M4936 1617l41-13 31-13 28-16 25-18 16-18 9-12 5-9 4-10 3-12 2-10 0-12-2-11-3-12-4-11-6-11-14-21-21-23-28-24-33-22-37-21-37-16-24-8-22-5-21-2-25 1-29 4-30 7-39 11-34 12-37 15-31 14-28 16-22 15-23 18-17 18-13 18-8 16-5 20-1 9 1 13 2 10 3 9 5 11 7 11 8 10 9 9 22 18 27 16 32 14 36 12 36 9 40 6 41 3 44 1 40-3 36-5z"/><path fill="#59cc79" d="M5017 1189l35-13 36-16 30-15 27-17 24-18 18-17 15-19 9-16 7-19 1-10 0-10-2-16-7-19-11-18-15-16-18-15-22-13-25-13-33-12-31-9-40-9-41-5-38-2-41 1-40 4-45 7-33 8-31 11-28 12-25 14-24 18-18 18-11 16-5 9-4 13-3 12 0 13 1 13 3 12 4 11 8 15 9 13 11 14 13 12 13 13 31 23 39 24 35 17 28 11 27 7 26 3 28 0 35-6 38-9z"/><path fill="#5fcd73" d="M4962 1598l34-13 29-15 25-17 18-17 15-19 5-11 4-10 4-19 0-9-1-12-3-12-5-12-12-21-16-20-22-22-27-21-34-21-34-18-31-12-23-7-23-4-26-2-24 1-29 5-32 7-37 10-34 12-37 16-30 15-27 16-21 15-19 16-15 16-12 17-8 18-2 10-2 12 0 9 2 13 7 19 6 10 7 11 9 9 10 10 24 17 28 15 34 13 39 12 37 7 43 5 43 2 42-1 45-5 40-8z"/><path fill="#5fcd73" d="M5003 1181l35-12 37-15 30-15 28-16 26-17 18-17 16-18 11-16 8-17 2-10 1-11-1-18-2-8-4-11-10-18-14-16-18-15-21-14-28-15-29-11-32-10-35-7-35-5-38-3-46 0-37 3-36 5-34 7-35 10-32 13-29 16-22 15-17 16-15 19-6 13-4 12-3 12 0 11 1 12 3 12 4 12 5 11 7 11 10 13 21 22 30 24 34 22 33 18 33 13 25 8 31 5 27 1 31-3 33-6z"/><path fill="#65cd6e" d="M4939 1594l33-10 31-14 28-16 13-9 11-9 16-18 8-12 5-8 6-19 2-11 0-11-1-9-3-12-4-11-6-11-14-21-21-22-25-21-29-20-33-18-31-14-24-8-21-5-26-3-24-1-31 2-28 5-32 8-35 11-39 14-31 14-31 17-24 16-20 15-18 19-13 18-9 17-3 9-1 10-1 11 1 10 2 9 4 11 5 11 7 10 15 16 22 18 27 16 31 14 37 12 36 8 37 6 40 3 43 0 40-3 43-6z"/><path fill="#65cd6e" d="M4994 1171l35-11 38-15 31-14 28-15 26-18 19-16 16-17 11-16 9-18 2-9 2-10 0-18-5-18-9-18-13-17-18-15-19-14-29-15-28-12-31-9-36-8-42-6-38-3-34 0-41 3-36 5-40 8-30 9-31 13-29 15-22 15-18 18-14 18-5 11-4 10-2 12-1 10 0 10 2 12 4 12 5 11 6 11 10 14 21 22 25 21 33 22 33 18 33 14 25 8 30 5 30 2 28-2 35-5z"/><path fill="#6ccd68" d="M4923 1587l35-10 33-12 29-16 21-14 18-17 15-19 6-12 4-9 3-11 1-10-1-11-1-9-3-12-4-11-13-22-17-19-23-22-28-20-31-18-31-15-23-8-27-8-24-4-29-1-27 1-30 4-33 8-30 8-34 12-32 13-30 15-27 17-24 18-18 17-15 19-9 17-5 19-1 11 1 11 1 8 4 12 10 18 14 16 21 18 26 17 31 14 30 10 34 9 39 7 37 3 35 1 42-1 37-4z"/><path fill="#6ccd68" d="M4986 1161l34-10 33-12 32-14 29-15 27-16 20-16 17-17 15-19 9-17 3-9 2-10 0-17-1-8-3-12-10-18-13-17-16-16-21-14-27-14-29-12-29-9-40-9-33-5-39-2-36-1-40 3-36 5-33 7-30 8-33 13-30 15-23 16-16 15-15 19-6 11-4 10-3 10-1 11 1 19 3 12 5 11 12 22 8 10 12 13 24 21 28 20 32 18 32 14 30 10 29 7 27 2 32 0 36-5z"/><path fill="#73cd63" d="M4942 1571l30-10 31-14 27-17 20-15 16-18 9-17 5-10 2-10 1-9 1-11-4-19-3-11-6-11-14-21-18-19-22-19-32-21-28-16-32-13-25-8-30-7-26-2-23 0-26 2-28 4-32 8-31 9-33 12-32 13-25 13-26 17-20 15-17 17-15 19-9 18-4 19-1 11 1 11 2 8 4 11 11 18 14 16 22 18 27 16 32 14 38 12 36 8 42 5 38 3 43-1 38-4 35-5z"/><path fill="#73cd63" d="M5025 1138l31-12 31-13 29-16 22-14 20-15 18-17 14-19 8-18 4-14 1-18-3-18-8-17-12-17-16-16-20-14-22-13-27-12-31-11-28-7-37-6-36-4-41-1-39 1-31 3-35 7-32 7-34 12-26 12-23 13-20 16-17 17-12 19-4 10-3 10-2 10 0 13 2 12 3 12 5 11 6 11 7 10 11 13 23 22 15 12 17 11 32 18 32 14 30 10 30 7 27 2 33 0 29-4 40-8z"/><path fill="#7acc5d" d="M4924 1564l34-10 28-10 29-15 21-15 18-17 9-11 5-8 5-10 3-10 4-18-1-11-1-11-7-19-5-11-7-10-17-20-20-19-28-20-27-15-32-15-22-8-28-7-23-4-29-2-25 1-32 3-31 7-31 8-35 12-32 13-29 15-26 16-21 16-16 16-13 16-10 18-3 10-2 10-1 9 1 12 2 9 4 11 10 18 15 16 22 18 27 16 26 12 30 10 35 9 40 6 37 3 37 1 41-2 36-5z"/><path fill="#7acc5d" d="M5009 1131l33-11 32-13 30-15 23-14 21-14 18-17 16-18 9-17 7-18 1-16-2-19-6-16-12-17-16-17-18-14-22-13-33-15-28-10-34-8-33-6-33-3-37-1-34 1-37 4-33 5-30 7-32 11-30 13-23 13-21 17-15 14-12 18-4 10-4 11-1 9-1 13 1 10 3 11 4 11 5 11 15 21 22 22 26 20 31 19 30 15 29 10 27 8 34 5 28 0 31-2 35-5z"/><path fill="#82cc58" d="M4948 1547l30-11 25-12 22-14 19-16 16-19 9-16 3-10 3-10 1-10-1-10-1-8-3-12-9-19-14-20-19-19-26-21-26-16-29-15-29-11-24-7-24-5-22-2-28-1-31 2-28 5-32 7-31 9-28 10-31 14-29 15-21 14-21 17-16 17-11 16-8 17-2 10-2 10 2 19 2 8 4 11 6 11 8 10 16 16 23 17 29 15 28 11 32 10 37 7 43 5 41 2 41-1 37-5 34-6z"/><path fill="#82cc58" d="M4998 1122l29-9 34-12 31-14 28-16 21-15 19-16 16-18 10-16 7-18 2-16-1-18-7-18-9-15-14-16-18-15-21-13-24-12-30-11-33-9-30-6-35-5-36-2-39 1-34 3-31 4-37 8-29 10-32 13-23 13-20 15-18 18-11 15-5 10-3 10-3 19 1 11 1 10 4 11 5 11 14 21 8 10 13 13 26 20 26 17 29 15 28 11 34 9 27 4 29 2 32-2 36-5z"/><path fill="#89cb52" d="M4927 1542l32-10 27-11 23-13 21-15 18-17 11-16 6-11 4-10 2-18 0-10-2-11-7-19-5-11-8-11-15-17-23-20-24-17-29-15-26-12-27-9-25-6-25-4-28-1-28 1-26 3-27 6-32 8-29 9-32 13-25 12-27 16-21 16-17 17-15 18-9 18-2 9-2 11 0 11 1 8 2 11 4 9 11 17 15 17 18 14 27 16 27 12 30 10 35 8 34 5 40 4 36 0 39-2 37-5z"/><path fill="#89cb52" d="M5041 1097l28-11 30-15 23-13 20-15 19-17 12-15 10-16 6-16 2-14-1-17-5-16-10-18-11-13-17-15-21-14-24-13-29-11-25-7-35-8-34-5-30-2-35 0-37 2-34 4-32 6-30 9-28 10-25 12-22 14-19 16-14 16-10 16-4 11-2 9-1 9 1 13 2 12 4 12 6 11 6 11 17 19 24 22 29 19 34 18 28 11 33 9 31 5 29 1 32-1 36-5 38-9z"/><path fill="#90ca4d" d="M4912 1534l33-9 28-10 25-12 22-14 19-17 15-18 8-17 3-10 2-10 0-17-2-11-4-10-10-20-15-19-20-19-25-18-27-16-26-11-23-9-27-7-26-5-25-2-22 0-31 2-28 5-32 7-30 9-33 13-30 14-23 14-21 15-18 16-15 18-9 18-6 18 0 18 1 8 4 12 10 18 14 16 17 15 27 17 25 11 30 11 35 8 31 6 36 3 34 1 41-1 37-5z"/><path fill="#90ca4d" d="M5016 1093l34-12 26-11 25-12 22-14 20-15 18-17 12-15 8-17 5-18 1-17-4-17-7-14-10-14-15-16-20-14-23-13-26-12-31-10-28-7-32-5-36-3-32-1-38 1-32 4-33 6-31 8-28 10-26 12-23 14-19 15-14 14-11 18-4 10-2 10-2 18 2 12 2 8 4 12 6 10 15 21 9 9 14 13 28 20 28 15 26 12 31 10 29 6 31 3 35 1 30-3 34-7z"/><path fill="#97ca47" d="M4931 1518l28-9 26-12 24-13 20-15 16-18 10-16 4-9 3-10 1-16-2-19-8-19-11-17-17-20-17-15-25-17-28-15-27-12-25-8-21-5-24-3-29-2-25 0-31 3-27 5-31 8-29 10-33 13-24 12-23 14-20 15-18 17-12 16-8 16-3 10-2 10 0 17 2 8 4 12 11 17 14 16 19 15 27 16 27 12 30 10 36 8 33 4 38 3 41 0 39-3 35-6z"/><path fill="#97ca47" d="M5003 1085l32-10 28-11 30-14 23-13 21-15 18-17 12-15 9-15 5-16 2-17-3-17-6-15-8-14-15-16-16-14-25-14-24-11-26-10-34-8-28-5-32-4-37-2-37 1-30 3-33 5-31 8-29 10-26 11-24 13-20 15-13 14-12 18-5 11-3 9-2 18 1 11 3 10 8 19 6 10 8 10 19 20 26 20 27 16 26 12 29 10 28 7 33 5 28 1 32-2 36-5z"/><path fill="#9ec942" d="M4914 1512l26-8 28-10 25-12 21-14 19-17 12-15 9-17 3-10 2-10-1-17-1-8-4-12-9-18-16-20-17-15-23-18-27-15-27-12-23-8-28-7-24-4-24-2-28 0-29 2-28 5-26 6-30 9-27 10-31 14-23 14-21 15-18 17-12 15-9 17-3 8-2 10-1 10 0 9 4 16 5 11 5 7 13 16 18 15 26 17 26 11 30 11 35 8 33 5 36 3 36 1 32-2 36-5z"/><path fill="#9ec942" d="M4993 1076l34-10 28-10 26-12 24-12 21-15 19-16 14-16 11-17 6-15 2-10 1-9-2-16-6-16-11-16-13-15-18-14-17-10-26-12-23-9-26-7-34-7-33-4-36-2-28 0-36 2-31 5-36 8-26 8-27 11-24 13-18 13-16 16-13 17-5 11-3 10-2 9-1 9 1 9 3 12 7 19 12 17 18 19 22 18 26 16 25 13 28 11 26 7 32 5 28 2 30 0 30-3z"/><path fill="#a5c83d" d="M4938 1494l27-10 25-13 22-14 15-13 12-14 10-18 5-18 1-17-4-18-8-18-13-18-15-16-23-17-21-14-25-12-28-11-20-6-26-6-22-3-28-1-25 1-32 4-31 6-26 7-28 9-30 13-25 13-19 13-18 14-15 16-10 14-8 17-3 10-1 11 2 17 2 8 5 11 12 17 9 9 11 9 20 14 25 13 28 11 34 9 30 5 36 5 37 1 33-1 38-4 34-7z"/><path fill="#a5c83d" d="M5020 1056l26-9 27-11 24-12 22-14 20-16 13-14 11-16 8-17 3-15 0-17-5-16-8-15-11-14-16-14-21-14-20-10-29-12-24-7-33-7-29-4-33-3-35 0-32 2-29 4-30 6-28 7-28 11-25 12-20 13-17 14-12 15-10 16-3 9-3 10 0 18 2 12 3 8 5 12 6 10 14 17 20 18 24 17 28 15 28 12 32 9 31 6 28 2 35 0 30-4 27-5z"/><path fill="#acc739" d="M4917 1489l29-9 27-11 23-13 17-12 17-18 11-15 7-16 3-18-2-18-5-15-9-17-14-18-17-15-24-17-23-13-26-12-24-8-28-7-24-4-28-1-25 0-23 2-29 4-28 7-33 10-27 11-25 12-23 14-20 15-14 14-12 15-8 17-4 17 0 17 4 16 6 11 4 7 14 16 19 15 22 13 26 12 31 10 35 9 33 4 30 3 36 0 32-2 36-5z"/><path fill="#acc739" d="M5006 1049l26-8 28-11 25-12 23-13 21-15 14-13 12-15 10-18 4-15 1-9 0-9-3-16-7-14-10-14-16-16-16-11-23-13-27-12-25-7-31-8-29-4-28-3-34-1-36 2-32 4-29 5-26 7-27 9-26 12-22 14-15 13-14 14-10 16-3 9-3 10-1 16 1 11 2 8 9 19 12 17 18 19 23 18 28 15 26 12 31 10 29 6 25 4 27 1 33-2 35-5z"/><path fill="#b2c535" d="M4902 1481l30-8 28-10 25-12 17-12 19-16 12-15 8-15 5-16 0-17-2-12-2-8-9-17-10-15-16-15-22-18-22-13-25-12-23-9-27-7-25-5-25-3-23 0-32 2-26 3-29 7-30 8-28 11-26 12-23 13-18 13-17 15-12 15-9 17-5 17 0 18 4 16 3 7 7 11 11 13 17 15 22 14 25 12 30 10 27 7 31 6 37 3 32 1 39-2 29-3z"/><path fill="#b2c535" d="M4995 1040l28-8 28-10 26-12 24-13 21-14 15-14 12-14 10-16 5-14 2-16-2-17-6-15-9-14-12-13-14-12-22-14-25-12-24-8-26-7-33-6-32-4-32-1-30 0-31 3-26 4-34 8-29 9-26 12-23 13-16 13-14 13-10 16-7 16-1 10-1 9 2 16 7 19 12 18 18 19 22 18 22 13 25 12 30 11 27 7 29 4 28 2 33-2 30-3z"/><path fill="#b9c431" d="M4922 1465l25-8 25-12 23-13 16-13 13-14 11-16 5-14 2-17-2-17-5-15-9-17-16-18-17-15-20-14-24-13-27-11-25-8-22-5-25-3-22-2-26 1-30 2-30 6-23 5-24 8-28 10-25 12-22 14-17 13-15 14-11 14-9 17-2 8-2 10 1 17 4 16 6 10 5 7 15 16 15 12 22 13 26 12 31 10 29 7 32 4 39 3 37 0 31-3 35-6z"/><path fill="#b9c431" d="M5022 1021l27-10 26-11 23-13 17-12 15-13 13-14 11-16 5-14 3-15-1-14-5-16-8-14-11-13-13-13-21-13-20-10-22-9-24-8-27-6-34-5-30-3-34 0-33 2-27 4-29 5-30 9-28 11-19 10-18 11-15 13-13 14-9 17-3 9-2 10-1 11 1 9 3 11 3 8 11 18 14 17 21 18 25 16 25 12 29 11 27 7 25 4 29 3 34-1 30-3 27-5z"/><path fill="#bfc32d" d="M4905 1458l28-8 27-10 19-10 22-15 14-13 12-15 8-18 3-14-1-17-4-16-9-17-11-15-16-15-20-15-22-13-26-12-24-8-21-5-23-4-28-3-26 0-31 2-26 4-29 7-23 7-28 10-22 11-26 15-19 15-14 14-11 16-6 13-4 15 1 17 4 15 3 8 7 10 12 13 18 15 22 13 21 10 30 10 28 7 32 5 33 3 36 0 32-2 29-4z"/><path fill="#bfc32d" d="M5006 1014l29-9 27-11 19-10 23-13 20-16 13-14 9-12 8-16 3-14 1-13-4-16-7-15-10-14-13-12-16-12-22-12-25-10-22-8-28-6-31-5-31-3-31-1-25 1-32 4-29 5-25 6-28 10-22 10-20 12-17 14-14 14-10 16-5 18-1 17 3 17 9 18 12 17 16 16 24 17 23 13 27 11 25 8 29 7 26 3 27 1 33-2 28-4z"/><path fill="#c5c22a" d="M4935 1438l22-9 20-10 17-11 15-13 12-15 7-13 5-14 1-9 0-9-4-16-6-15-9-14-15-16-18-15-22-14-24-12-23-9-27-7-23-5-24-2-23-1-26 1-25 3-27 5-25 6-24 8-26 11-22 11-20 13-16 13-13 14-9 13-8 16-2 9-1 10 2 16 6 16 12 17 17 15 20 14 25 12 23 9 34 9 31 5 34 4 35 0 33-1 29-4 33-7z"/><path fill="#c5c22a" d="M4995 1005l25-7 28-10 26-12 19-10 20-15 15-13 12-15 7-13 5-14 1-16-2-14-6-15-9-14-12-12-15-12-23-13-21-10-24-8-27-7-30-5-28-3-32-1-32 1-30 3-27 5-25 6-29 10-20 10-19 10-18 14-13 14-9 14-4 9-3 9-1 9 0 9 3 16 8 19 13 17 16 16 19 14 23 13 27 12 24 8 29 6 25 4 30 1 29-1 29-4z"/><path fill="#cbc029" d="M4909 1435l30-10 21-9 18-10 17-12 14-14 10-13 7-15 3-15-1-18-4-15-9-17-12-14-18-17-19-13-24-13-22-9-25-8-21-4-25-4-24-2-26 1-23 2-28 4-26 6-24 7-27 11-25 12-18 11-16 13-14 14-11 15-6 13-4 15 0 9 0 8 5 16 4 7 7 10 12 13 19 15 23 13 22 9 25 8 28 6 33 5 29 2 33 0 31-2 29-4z"/><path fill="#cbc029" d="M5024 985l27-10 20-9 19-11 21-15 14-13 12-15 7-13 4-14 1-13-3-16-6-16-8-11-12-12-15-12-16-9-22-11-25-9-25-7-22-4-28-4-29-2-32 1-28 2-27 3-26 6-24 7-22 8-25 13-17 11-15 13-12 15-7 13-3 9-2 10 1 17 5 16 10 18 14 16 21 18 21 14 26 12 23 8 30 8 29 5 30 1 28-1 29-3 27-5z"/><path fill="#d1bf27" d="M4895 1427l30-8 22-8 20-10 17-12 15-12 13-15 5-8 4-9 4-15 0-14-4-16-8-17-11-15-13-12-19-15-22-13-21-9-24-9-20-5-23-4-27-3-22 0-26 1-27 3-27 6-24 6-28 11-23 10-21 12-16 12-14 13-10 13-9 16-4 15-1 9 1 9 4 15 8 15 11 13 14 12 17 11 25 12 24 9 27 7 30 5 36 4 27 1 33-2 29-3z"/><path fill="#d1bf27" d="M5007 978l24-7 22-9 20-9 23-14 15-13 14-13 10-14 7-15 3-15-1-13-3-13-7-14-11-13-13-12-17-11-21-12-22-9-23-6-29-7-27-4-29-2-27 0-30 2-24 2-27 6-25 6-22 8-24 12-19 11-16 13-12 15-7 12-5 15-1 9 0 9 3 16 9 18 13 17 17 15 20 14 24 13 22 9 26 8 30 5 27 3 29 0 24-1 29-4z"/><path fill="#d6be28" d="M4919 1409l20-7 20-9 18-11 16-13 13-14 8-12 5-14 2-15-3-17-5-15-9-13-12-14-14-12-20-14-25-13-22-9-19-5-25-6-22-3-29-1-25 1-22 2-21 3-26 6-24 8-27 10-21 11-17 11-15 12-14 14-8 11-7 15-3 14-1 9 1 8 6 16 3 7 8 10 16 16 16 11 25 13 22 8 27 8 30 6 35 4 27 1 33-2 30-3 27-5z"/><path fill="#d6be28" d="M4995 970l28-8 22-8 20-10 19-10 17-12 15-13 12-15 7-13 4-14 1-14-2-15-6-12-9-14-13-13-16-11-18-11-21-9-25-8-28-7-27-4-30-2-27-1-26 1-28 4-27 5-25 6-23 8-20 10-18 11-16 12-13 14-8 12-5 15-2 9 0 9 3 17 7 14 9 14 16 16 19 15 22 13 21 9 25 8 28 7 25 3 28 2 25-1 30-3z"/><path fill="#dcbd29" d="M4900 1404l25-8 21-9 20-10 16-12 15-13 8-12 8-15 3-14 0-15-4-14-7-15-11-14-16-15-15-11-19-11-23-11-21-7-27-6-23-4-21-2-25 0-24 2-22 3-26 5-25 7-27 10-21 10-18 11-16 12-14 13-9 12-8 14-4 15 0 9 1 8 4 16 9 14 12 13 19 14 18 11 21 9 25 8 28 7 33 4 29 2 26 0 32-2 28-4z"/><path fill="#dcbd29" d="M5033 947l19-8 20-10 18-11 16-13 13-14 8-12 6-15 3-13-1-13-3-12-6-11-10-14-13-12-17-11-19-10-18-8-23-7-23-6-23-4-25-2-25-1-31 1-25 2-26 4-21 5-24 7-22 9-19 10-17 12-14 13-9 12-7 13-3 15-1 9 1 8 5 16 10 18 15 16 18 15 23 13 26 12 24 8 29 6 26 3 32 1 27-1 28-5 33-7z"/><path fill="#e1bc2b" d="M4887 1395l24-6 22-8 20-9 18-11 16-13 11-13 8-14 5-14 1-16-3-12-6-15-10-14-15-16-15-12-18-10-20-10-23-9-21-5-22-4-24-3-24-1-26 1-23 3-27 5-25 7-22 8-22 10-18 10-17 12-14 13-11 14-7 14-4 14 0 16 3 12 7 14 11 14 14 12 17 11 25 12 24 8 28 7 24 4 28 3 27 1 33-2 29-3z"/><path fill="#e1bc2b" d="M5008 943l25-8 22-9 19-11 17-11 15-13 10-11 8-12 5-13 2-16-1-12-4-12-6-12-11-13-14-11-17-11-17-9-22-8-24-7-22-5-30-4-29-2-26 1-23 1-27 4-25 5-21 6-23 9-19 9-17 11-12 10-13 15-7 12-5 16 0 15 3 15 4 7 6 11 10 13 17 16 21 14 20 10 22 8 26 8 25 5 31 2 26 0 31-2 27-5z"/><path fill="#e6bb2d" d="M4909 1378l21-7 21-10 13-8 16-12 13-15 8-12 4-12 2-14-1-12-5-16-9-14-11-13-14-12-17-11-19-11-22-9-21-6-19-4-25-4-23-1-25 0-21 2-24 3-26 6-17 5-23 9-20 9-18 11-16 12-14 14-9 12-6 13-3 15 1 14 5 16 9 14 13 13 15 11 18 11 22 9 18 6 28 7 33 4 30 2 34 0 30-3 28-5z"/><path fill="#e6bb2d" d="M4996 935l23-7 22-8 20-10 19-11 16-12 10-10 9-12 8-14 3-14 1-14-3-12-6-12-9-12-14-13-16-11-14-8-22-9-18-6-23-6-29-4-26-3-27 0-25 1-28 3-22 4-25 6-22 8-21 10-18 11-15 13-10 11-8 13-5 15-1 14 4 15 6 15 10 14 17 16 20 14 19 10 22 9 25 7 23 5 26 3 31 1 24-2 21-3z"/><path fill="#eaba31" d="M4892 1372l24-8 22-9 14-7 18-12 14-13 9-11 6-13 3-13 0-13-3-14-6-13-10-14-13-13-15-11-18-11-21-9-24-8-21-6-24-3-18-2-22 0-27 1-25 4-20 4-18 5-23 8-21 9-19 10-16 12-13 12-10 13-7 13-4 14 0 16 3 12 8 14 12 13 15 12 17 11 21 9 24 8 29 7 24 4 28 2 28 0 24-1 29-4z"/><path fill="#eaba31" d="M4986 925l24-6 17-6 22-9 19-10 17-11 15-14 9-11 8-14 5-14 0-14-2-12-5-11-10-14-11-10-14-11-15-8-20-9-23-8-22-5-24-4-27-3-25-1-25 1-24 3-27 4-23 6-19 6-20 9-20 11-13 10-13 13-8 13-6 15-1 13 2 13 5 15 9 14 12 13 19 15 18 11 21 9 24 8 21 5 24 4 29 2 26 0 30-4z"/><path fill="#efba35" d="M4880 1363l22-6 23-8 20-9 13-8 16-13 10-11 8-12 5-13 1-17-3-13-4-11-9-14-12-13-15-12-20-12-18-8-17-6-24-7-24-4-20-3-21 0-26 1-27 3-20 4-21 6-26 9-20 10-16 9-14 11-14 13-9 12-6 11-4 15 1 13 4 14 6 12 9 10 13 12 17 11 20 10 24 8 20 6 23 4 28 3 28 1 25 0 30-4z"/><path fill="#efba35" d="M5012 907l18-7 21-9 18-10 13-9 11-10 13-15 7-12 4-12 1-13-3-13-4-11-7-11-9-9-15-12-18-11-15-7-24-8-20-6-23-4-25-3-28-1-25 1-20 1-24 4-26 6-18 5-16 7-18 9-16 11-14 11-9 11-7 13-4 14 0 16 5 15 8 15 11 13 18 15 17 11 21 9 23 9 21 5 23 4 28 2 26 0 30-3 27-5z"/><path fill="#f3ba39" d="M4904 1345l18-6 20-10 13-8 16-13 9-11 8-12 4-13 1-12-1-12-5-13-9-14-11-12-12-10-17-11-20-10-18-7-18-5-22-5-24-3-19-1-17 0-25 2-20 3-25 5-19 6-22 9-20 9-15 10-14 11-10 11-9 11-5 12-3 14 1 13 3 12 9 14 12 13 15 12 19 10 22 9 25 8 23 4 27 4 28 1 26 0 30-3 27-5z"/><path fill="#f3ba39" d="M4998 899l17-5 22-9 15-7 19-11 12-9 14-14 8-12 6-13 2-12-1-13-4-12-6-10-8-10-14-13-17-10-15-8-16-6-19-6-22-5-24-4-27-2-24 0-27 1-21 3-27 6-18 5-22 8-15 7-18 12-11 9-10 11-7 12-5 14 0 16 2 12 8 15 10 13 13 13 16 11 19 10 23 9 26 8 23 4 25 2 26 1 24-2 22-3z"/><path fill="#f7ba3c" d="M4887 1338l21-6 16-6 15-7 17-12 12-10 9-11 7-12 4-15 0-12-2-12-5-11-10-14-13-12-15-12-19-10-16-7-17-6-21-6-24-4-18-1-21-1-19 1-25 3-23 4-20 6-22 8-21 9-14 8-16 12-10 10-10 13-6 12-3 13 0 13 5 14 7 12 12 13 15 11 19 11 16 7 18 6 21 5 23 4 30 3 27 0 32-2 21-3z"/><path fill="#f7ba3c" d="M4988 890l18-5 23-8 20-10 14-8 16-12 11-10 9-12 5-11 3-11 1-12-2-12-6-11-7-10-13-13-12-8-18-11-20-8-22-6-21-5-23-3-21-2-26-1-22 2-24 2-20 4-22 6-20 7-20 10-18 11-11 10-8 9-7 11-4 12-2 12 2 13 6 15 9 14 13 13 15 11 19 10 21 10 19 6 21 4 26 4 23 1 25-1 23-2z"/><path fill="#fabc3d" d="M4876 1330l23-6 17-7 20-9 13-9 12-9 10-11 7-12 5-13 0-13-2-13-5-11-9-14-9-9-15-12-18-11-16-7-17-6-20-6-23-4-22-2-18 0-24 1-23 2-20 4-18 5-23 8-16 7-17 10-14 9-11 10-9 11-7 13-4 13 0 13 3 12 5 11 8 10 14 12 17 11 20 10 18 6 27 7 24 4 21 2 19 1 25-1 30-3z"/><path fill="#fabc3d" d="M4979 880l24-6 17-6 16-7 20-10 12-9 12-10 12-13 6-11 4-12 1-12-2-12-5-11-7-11-9-9-11-9-18-10-22-10-18-6-19-4-23-4-22-2-26-1-25 1-22 3-20 4-19 4-23 8-15 7-18 11-12 10-10 10-8 12-4 13-1 13 2 12 7 15 10 14 13 12 17 11 14 8 16 7 25 8 22 5 19 2 20 1 25 0 23-2z"/><path fill="#fdbd3d" d="M4866 1320l24-5 17-6 16-7 19-10 12-10 10-10 8-12 5-13 2-11-2-12-5-14-7-11-8-9-14-12-18-11-15-8-17-6-19-6-20-4-20-2-37-1-23 2-22 3-19 5-24 7-18 8-17 9-13 9-11 9-10 11-7 12-4 9-2 13 2 13 5 11 7 11 12 12 12 9 19 10 16 7 19 6 21 5 26 4 29 1 25 0 23-2z"/><path fill="#fdbd3d" d="M5005 861l18-6 15-7 19-10 12-10 11-10 9-11 5-11 3-9 1-10-1-12-5-11-7-11-9-9-11-9-13-8-19-9-19-7-22-5-18-3-23-3-20-1-24 0-22 2-21 3-20 5-23 7-16 7-16 8-13 10-9 9-9 11-6 11-3 14 1 13 3 12 9 14 12 13 14 12 18 10 16 7 18 6 20 6 24 4 29 2 25-1 22-3 21-3z"/><path fill="#fec03b" d="M4886 1304l18-6 21-9 13-8 12-10 11-10 6-10 4-10 2-12 0-11-4-11-7-13-9-11-15-13-12-8-15-7-17-7-19-6-14-3-23-3-19-2-18 0-22 2-36 6-19 5-17 6-15 7-19 10-12 9-11 11-9 11-6 12-2 11 0 11 4 14 8 12 12 13 12 9 14 7 21 10 19 5 22 5 25 4 20 1 26 0 24-2 21-3z"/><path fill="#fec03b" d="M4993 853l21-7 16-6 14-8 14-8 12-10 10-10 7-12 5-12 1-13-1-9-4-11-7-10-9-10-11-9-14-8-15-8-17-6-20-5-23-5-17-2-20-1-23 0-24 2-21 3-20 4-18 6-16 6-15 7-13 9-11 10-9 9-7 12-3 12-1 11 3 13 7 14 11 13 10 10 16 11 15 7 17 7 19 6 22 4 26 3 26 1 23-2 22-3z"/><path fill="#fec339" d="M4875 1295l20-6 17-6 14-8 13-8 12-10 9-11 5-12 3-9 0-9-2-13-5-11-7-10-9-10-15-11-13-8-16-7-18-7-20-5-19-3-20-2-18-1-22 2-24 3-15 3-23 6-17 6-15 8-14 8-12 9-10 10-9 11-4 9-3 13 1 13 4 11 6 11 9 10 15 11 14 8 16 7 18 6 21 5 24 4 20 1 21 1 22-1 22-3z"/><path fill="#fec339" d="M4984 843l21-6 16-6 15-7 14-8 12-9 11-11 8-11 4-9 3-10 0-11-3-12-6-10-8-10-11-10-12-8-15-7-18-8-16-4-16-4-25-4-19-1-24 0-23 1-20 3-22 5-17 5-17 6-15 8-12 8-12 10-9 11-5 9-3 12 0 13 3 12 5 11 11 13 10 9 17 11 15 8 16 6 20 6 23 4 17 2 24 1 24-1 22-3z"/><path fill="#fec636" d="M4865 1286l15-4 18-6 15-6 15-8 12-9 10-11 6-9 5-12 2-10-1-10-3-12-7-11-8-10-14-12-13-8-15-7-17-7-20-5-15-3-21-2-19-1-22 1-36 5-21 5-17 6-16 6-15 9-13 9-10 9-8 11-5 9-3 9-1 12 3 12 5 11 8 10 10 9 13 9 20 9 17 7 21 5 21 4 21 2 21 0 22 0 22-3z"/><path fill="#fec636" d="M4976 833l19-5 17-6 16-7 14-7 13-9 11-10 8-11 5-9 3-10 1-10-3-13-5-9-6-8-9-10-12-8-14-8-16-7-19-6-20-4-17-3-19-2-21 0-19 0-24 3-19 3-18 5-17 6-16 8-13 8-12 9-8 9-6 10-4 12-1 13 2 12 6 11 7 10 14 13 12 8 14 8 17 7 18 5 21 5 19 2 20 1 18 0 23-2z"/><path fill="#fec934" d="M4857 1276l20-5 17-6 16-6 14-8 12-9 7-7 9-12 3-9 3-10-1-12-3-10-6-11-9-10-10-9-12-8-15-8-14-5-17-6-20-4-16-2-20-2-17 0-21 2-19 3-17 4-18 5-16 7-15 7-13 9-11 9-9 10-7 11-3 12 0 11 1 8 6 12 8 10 10 9 12 8 15 8 17 6 20 6 17 3 22 3 21 1 23-1z"/><path fill="#fec934" d="M4970 822l16-3 17-6 17-6 14-8 13-8 12-10 8-9 6-10 3-9 1-11-1-9-4-11-4-7-9-10-11-9-13-8-16-7-19-6-20-5-16-3-17-2-21 0-19 0-22 2-34 7-18 6-15 7-13 6-13 10-8 7-8 12-4 11-2 9 1 13 4 11 7 11 9 9 15 12 14 8 16 7 18 6 15 3 23 4 20 1 24 0z"/><path fill="#fdcc32" d="M4882 1258l14-6 15-7 14-8 8-7 7-8 7-10 4-10 1-11-1-8-4-12-7-10-8-10-12-9-8-5-15-8-15-6-16-4-21-4-34-3-32 1-16 3-18 3-18 6-17 6-14 8-11 6-10 9-10 10-6 9-3 8-2 11 2 13 4 11 8 10 10 9 13 9 14 7 18 7 13 3 22 5 24 3 18 0 25-1 22-2 20-4z"/><path fill="#fdcc32" d="M4999 802l12-4 15-7 14-8 11-10 7-7 8-11 4-10 2-10-1-8-2-8-4-7-8-11-6-6-12-8-14-8-14-6-17-6-19-4-35-4-34 0-35 5-17 4-17 5-16 7-9 5-13 9-7 7-8 9-6 11-2 10 0 13 4 11 7 11 12 13 12 8 14 8 16 7 19 6 14 3 22 3 24 1 20-1 22-2 20-4z"/><path fill="#fccf31" d="M4870 1249l28-10 10-5 13-8 11-10 6-8 5-9 3-10 0-10-2-11-4-7-7-10-10-10-11-8-14-8-11-5-18-6-14-3-18-3-17-1-29 0-15 1-21 4-30 8-16 7-14 8-13 9-7 7-8 10-5 10-2 10 0 9 2 9 6 10 8 10 11 9 13 8 16 7 18 6 20 5 18 2 19 1 22 1 16-2 21-3z"/><path fill="#fccf31" d="M4988 793l14-4 16-7 22-14 8-6 9-11 5-8 3-9 1-10-1-8-3-8-6-10-6-7-11-9-13-8-11-4-27-10-18-3-18-3-37-1-19 1-18 3-14 3-18 5-16 6-10 5-12 8-10 8-8 10-5 8-3 10 0 13 3 12 7 10 8 10 11 9 14 8 15 7 12 4 21 6 17 2 20 2 17 0 24-2 20-3z"/><path fill="#fbd22f" d="M4862 1239l27-9 15-7 9-6 8-6 10-10 5-8 3-10 1-9 0-8-3-8-6-11-9-9-11-9-14-8-10-5-17-6-14-4-16-3-17-2-19 0-16 1-29 4-30 8-16 7-14 8-13 9-7 7-6 7-4 9-3 9 0 9 2 9 5 10 8 10 7 6 12 9 15 7 18 6 13 4 24 4 18 2 20 0 17-1 15-2z"/><path fill="#fbd22f" d="M4981 783l28-10 10-4 13-9 12-9 6-8 5-8 4-9 1-8-1-9-2-7-6-11-6-7-11-9-9-5-15-7-28-9-18-4-18-2-35-1-15 2-21 3-31 8-14 6-11 7-9 5-8 8-8 10-4 8-3 11 1 11 2 8 7 11 8 10 7 5 13 9 15 7 18 6 13 4 34 5 17 0 18-1 21-2z"/><path fill="#fad52d" d="M4856 1228l18-5 11-4 15-7 9-6 8-6 10-11 4-8 3-9 0-9-1-8-5-10-5-8-6-6-11-9-14-8-10-5-25-8-18-3-15-2-14 0-19 0-16 2-18 3-13 3-17 6-10 5-14 8-9 6-8 7-8 10-4 8-2 10 0 8 2 8 6 11 6 7 10 9 9 5 15 7 18 7 14 3 33 5 35-1 15-1z"/><path fill="#fad52d" d="M4976 772l29-10 10-5 13-8 11-10 6-7 5-8 3-8 1-9-1-8-3-8-4-7-8-8-9-7-8-6-16-7-14-5-14-4-19-3-15-2-19 0-16 0-29 4-25 6-12 4-15 8-13 8-7 7-6 7-5 9-2 7-1 9 3 12 4 8 7 10 7 6 12 8 14 8 17 7 13 3 15 3 18 2 21 1 18-1 14-2z"/><path fill="#f9d82c" d="M4851 1217l25-7 16-7 9-5 8-6 9-9 6-10 3-7 1-9-1-8-4-11-5-8-6-6-12-9-20-11-16-5-14-4-25-4-32 0-15 1-17 3-13 3-17 6-10 5-14 8-9 6-8 7-5 7-4 8-2 7-1 9 2 8 5 11 6 7 10 9 9 5 15 8 19 6 13 3 26 3 33 1 15-2z"/><path fill="#f9d82c" d="M4972 760l12-3 17-6 19-11 8-6 7-7 6-7 5-10 1-9 0-9-3-7-4-8-5-6-7-6-13-9-9-4-24-9-15-3-18-3-17-1-20 0-29 4-26 6-11 4-13 7-10 6-8 7-6 7-6 8-3 10 0 9 2 8 3 8 8 10 6 6 12 9 15 7 17 6 14 4 16 3 18 1 33-1z"/><path fill="#f7db2a" d="M4847 1206l25-8 11-4 14-8 8-6 7-7 5-8 3-9 1-10-1-7-3-8-5-7-6-7-11-8-19-11-25-8-29-4-27 0-29 3-25 7-11 4-14 7-9 7-8 6-6 7-5 9-3 9 0 9 2 8 4 7 5 7 7 6 8 6 14 7 24 9 15 3 20 2 29 1 14-1z"/><path fill="#f7db2a" d="M4969 748l17-4 10-5 19-10 8-6 7-7 6-8 4-8 1-6 0-8-3-8-3-7-6-7-7-6-12-8-10-5-24-8-15-3-16-2-28-1-30 3-25 6-12 4-13 7-10 6-8 7-6 7-4 8-2 10 0 6 2 10 4 7 8 10 7 6 13 8 10 5 18 6 14 3 27 4 29-1z"/><path fill="#f6de29" d="M4844 1194l18-5 11-4 19-11 8-6 7-7 3-6 3-7 1-8-1-8-2-8-5-7-6-6-7-6-8-6-13-6-14-5-14-4-25-3-27 0-28 4-24 7-20 10-9 6-7 6-6 8-4 7-2 6 0 8 1 8 4 7 5 7 7 6 8 6 14 7 25 8 15 3 16 2 27 0z"/><path fill="#f6de29" d="M4968 736l24-8 19-11 8-6 6-7 4-5 3-8 2-7-1-8-2-8-5-7-6-6-7-6-17-10-13-5-14-4-24-3-22-1-31 2-26 6-11 4-13 6-14 11-7 7-5 8-2 7 0 9 1 8 4 7 5 7 6 6 13 9 9 5 24 8 15 3 17 2 18 0 16-1z"/><path fill="#f5e228" d="M4842 1181l21-6 20-9 8-6 7-7 6-8 2-6 1-4 0-9-3-8-4-7-6-7-7-6-18-10-12-4-13-4-25-4-29 1-21 3-25 6-20 10-8 6-7 7-8 12-1 6-1 9 2 8 4 7 6 6 7 6 19 10 26 8 25 4 29 0z"/><path fill="#f5e228" d="M4969 722l23-9 18-11 10-10 4-8 2-5 0-6-1-7-3-8-5-7-6-6-8-6-15-7-12-4-14-4-24-3-23 0-25 3-25 6-20 10-9 6-7 7-4 7-3 5-1 5 0 9 2 7 5 8 5 6 11 9 9 5 11 5 13 4 14 3 27 3 26-2z"/><path fill="#f5e526" d="M4842 1168l22-7 14-7 8-7 7-7 5-11 1-7-1-6-2-8-5-7-7-6-7-6-15-7-19-6-24-4-21 0-24 2-19 5-21 9-9 6-7 6-8 12-3 7 0 9 2 7 3 4 6 7 7 6 8 5 11 5 12 4 14 4 23 2 26 0z"/><path fill="#f5e526" d="M4945 714l20-4 17-6 19-11 10-10 3-4 4-9 0-6 0-5-3-7-4-7-10-9-9-5-11-5-19-6-27-4-26 1-14 1-13 3-21 7-11 6-7 6-7 7-3 5-3 6-1 8 1 7 2 6 5 7 6 6 12 8 22 9 22 5 23 1z"/><path fill="#f5e825" d="M4847 1153l17-6 15-11 5-5 4-7 3-10-1-7-2-5-7-10-11-9-15-7-20-6-17-2-21 0-24 3-18 5-11 4-9 6-12 10-4 6-2 5-1 6 0 7 2 6 4 5 6 7 8 5 15 8 20 5 26 3 23-1z"/><path fill="#f5e825" d="M4947 700l24-6 16-7 12-9 3-4 6-8 1-5 1-7-1-4-3-7-8-10-13-9-17-6-22-5-22-1-24 1-19 5-17 6-13 8-7 7-4 6-3 10 1 4 2 8 7 10 7 6 9 6 16 7 21 4 23 2z"/><path fill="#f5eb23" d="M4825 1144l16-4 17-6 13-9 5-5 3-6 2-5 0-5-1-6-2-5-8-10-13-8-17-7-15-3-18-1-21 1-19 4-17 6-13 9-4 4-5 7-3 9 0 6 2 6 8 10 13 8 17 7 22 4 19 1z"/><path fill="#f5eb23" d="M4953 685l18-6 14-8 7-6 4-4 4-9 0-5 0-6-5-9-9-8-14-8-19-5-17-3-22 0-18 2-15 5-15 7-12 9-5 8-2 5 0 7 1 5 4 6 10 10 14 8 19 5 16 3 21 0z"/><path fill="#f5ed22" d="M4833 1128l13-4 14-9 7-7 4-8-1-8-1-5-5-6-11-9-10-5-13-4-19-2-17 0-14 2-13 3-15 8-7 5-4 4-5 8 0 9 1 4 4 7 11 9 10 5 14 4 21 3 17-1z"/><path fill="#f5ed22" d="M4939 673l14-3 16-7 9-5 7-7 4-9 1-6-3-8-9-9-15-8-13-4-16-2-20 0-14 2-18 5-14 8-7 8-3 6 0 4 1 8 5 8 11 8 16 7 14 3 19 2z"/><path fill="#f5ef21" d="M4828 1120l14-4 10-5 7-7 5-8 0-7-3-7-5-7-13-8-13-5-15-2-16-1-15 2-13 3-15 7-8 7-5 8-1 6 2 8 5 7 13 8 18 6 12 2 18 0z"/><path fill="#f5ef21" d="M4937 664l17-4 11-4 9-6 6-7 2-5 1-5-1-4-3-7-7-6-15-8-13-3-16-2-15 1-15 2-17 6-8 6-6 8-2 4-1 5 3 8 5 7 8 5 11 5 13 4 14 1z"/><path fill="#f6f020" d="M4821 1115l18-5 9-5 7-7 3-6 1-4-1-5-4-7-7-6-9-5-12-4-13-2-10 0-15 1-12 3-12 4-8 6-7 9-1 4 0 5 3 7 6 7 10 5 12 4 16 2 10 1z"/><path fill="#f6f020" d="M4932 658l13-2 11-4 10-5 5-4 4-6 2-6-1-7-5-7-8-6-5-2-12-4-13-2-16-1-16 3-11 4-10 5-7 7-2 4-1 4 1 4 3 8 7 6 9 5 13 4 17 2z"/><path fill="#f6f11f" d="M4815 1110l9-2 11-4 9-5 7-7 2-6 0-4-1-4-3-5-6-5-10-5-13-3-21-2-14 2-12 4-10 5-7 7-3 5 0 5 1 4 4 7 8 5 11 5 14 3 10 1z"/><path fill="#f6f11f" d="M4928 652l13-2 12-4 5-2 8-6 5-7 0-5 0-4-5-7-7-6-12-4-15-3-11 0-16 2-12 4-9 5-5 5-3 7 0 6 3 5 6 6 10 5 11 3 11 2z"/><path fill="#f6f21e" d="M4809 1105l11-2 12-4 5-2 7-6 3-5 1-5-2-7-4-4-8-6-11-4-18-2-10 0-13 3-11 4-5 4-6 6-2 6 1 4 1 4 6 6 4 3 12 4 7 2 8 1z"/><path fill="#f6f21e" d="M4941 644l8-3 10-5 4-5 3-5 0-5-2-4-2-3-8-6-5-2-16-4-9 0-15 1-7 2-10 4-8 7-2 4 0 7 4 7 4 3 10 5 12 3 10 1z"/><path fill="#f6f31d" d="M4823 1097l6-2 8-6 4-4 1-4 0-6-4-6-8-5-6-3-16-3-11 1-12 2-11 4-4 3-3 3-3 4 0 6 3 7 8 6 5 2 11 3 10 1 9-1z"/><path fill="#f6f31d" d="M4934 640l12-4 5-2 4-3 4-5 1-5-1-4-2-4-8-6-9-3-11-2-17 1-6 2-11 4-4 3-2 4-2 5 1 6 3 3 8 6 6 2 12 2z"/><path fill="#f7f31d" d="M4814 1094l11-4 5-2 7-8 0-4-1-4-6-6-5-3-13-4-17 0-6 2-11 4-8 7-1 4 0 4 2 4 8 6 5 2 13 2z"/><path fill="#f7f31d" d="M4929 635l13-3 9-6 3-4 0-5-2-4-3-3-10-5-8-2-10 0-11 2-6 2-5 2-4 4-2 5 0 4 6 7 11 5 11 1z"/><path fill="#f7f41c" d="M4808 1090l14-4 7-4 3-7-1-3-2-4-7-5-8-2-15-1-8 1-9 4-5 3-2 4-1 4 2 4 7 6 6 2 8 1z"/><path fill="#f7f41c" d="M4925 630l13-3 5-2 4-4 2-4-2-4-3-3-4-3-7-2-9-1-11 1-5 2-5 3-3 3-1 6 2 3 3 3 11 4z"/><path fill="#f7f41c" d="M4803 1085l10-1 6-2 4-3 3-3 0-4-1-4-4-3-5-2-13-2-7 1-7 1-4 3-4 3-1 5 0 3 3 3 5 3 6 2z"/><path fill="#f7f41c" d="M4923 625l11-2 5-3 3-4-1-3-2-3-5-3-9-1-7 0-6 2-5 3-2 4 1 3 3 3 6 3z"/><path fill="#f7f51b" d="M4799 1081l11 0 5-2 4-3 2-3-1-4-3-3-5-3-9-1-10 2-5 3-3 3 0 3 3 4 4 3z"/><path fill="#f7f51b" d="M4922 620l7-2 5-2-1-5-6-2-4 0-7 1-3 4 3 4z"/><path fill="#f7f51b" d="M4807 1077l5-1 3-4 0-2-2-4-10-2-7 1-4 3-2 2 2 4 5 3z"/><path fill="#f7f51b" d="M4802 1074l6-1 2-2-2-4-8 0-4 3 1 2z"/></g></g><g font-family="Liberation Sans, sans-serif" fill="#262626"><text transform="translate(478.1 269.7) scale(.94 1)" text-anchor="start" font-size="13.2" >0</text><text transform="translate(462.8 267.8) scale(.94 1)" text-anchor="end" font-size="13.2" >0</text><text transform="translate(544.0 244.4) scale(.94 1)" text-anchor="start" font-size="13.2" >0.5</text><text transform="translate(412.2 234.8) scale(.94 1)" text-anchor="end" font-size="13.2" >0.5</text><text transform="translate(610.0 219.1) scale(.94 1)" text-anchor="start" font-size="13.2" >1</text><text transform="translate(361.6 201.9) scale(.94 1)" text-anchor="end" font-size="13.2" >1</text><text transform="translate(362.2 184.9) scale(.94 1)" text-anchor="end" font-size="13.2" >2</text><text transform="translate(362.2 157.2) scale(.94 1)" text-anchor="end" font-size="13.2" >2.2</text><text transform="translate(362.2 128.0) scale(.94 1)" text-anchor="end" font-size="13.2" >2.4</text><text transform="translate(362.2 98.8) scale(.94 1)" text-anchor="end" font-size="13.2" >2.6</text></g><text transform="translate(545.7 270.5) scale(1.12 1)" font-family="Liberation Serif, serif" font-style="italic" font-size="14" fill="#262626" text-anchor="middle">x<tspan font-style="normal" font-size="10" dy="2.5">1</tspan></text><text transform="translate(403.4 266.3) scale(1.12 1)" font-family="Liberation Serif, serif" font-style="italic" font-size="14" fill="#262626" text-anchor="middle">x<tspan font-style="normal" font-size="10" dy="2.5">2</tspan></text><line x1="133.80" y1="531.30" x2="276.44" y2="476.57" stroke="#262626" stroke-width="0.80"/><line x1="133.80" y1="531.30" x2="24.34" y2="459.98" stroke="#262626" stroke-width="0.80"/><line x1="24.34" y1="459.98" x2="24.34" y2="428.58" stroke="#262626" stroke-width="0.80"/><line x1="133.80" y1="531.30" x2="137.07" y2="533.43" stroke="#262626" stroke-width="0.80"/><line x1="133.80" y1="531.30" x2="130.16" y2="532.70" stroke="#262626" stroke-width="0.80"/><line x1="205.12" y1="503.94" x2="208.39" y2="506.07" stroke="#262626" stroke-width="0.80"/><line x1="79.07" y1="495.64" x2="75.43" y2="497.04" stroke="#262626" stroke-width="0.80"/><line x1="276.44" y1="476.57" x2="279.71" y2="478.70" stroke="#262626" stroke-width="0.80"/><line x1="24.34" y1="459.98" x2="20.70" y2="461.37" stroke="#262626" stroke-width="0.80"/><line x1="24.34" y1="459.98" x2="20.66" y2="457.58" stroke="#262626" stroke-width="0.80"/><line x1="24.34" y1="444.28" x2="20.66" y2="441.87" stroke="#262626" stroke-width="0.80"/><line x1="24.34" y1="428.58" x2="20.66" y2="426.17" stroke="#262626" stroke-width="0.80"/><clipPath id="c3"><path transform="scale(.1)" d="M1718 5148l60-24 59-21 54-18 167-54 65-22 65-24 154-58 422-161-323-211-123-82-96-67-160-116-64-43-64-40-164-95-50-30-50-31-65 24-66 22-214 70-41 14-42 16-42 16-41 18-208 92-60 25-65 27-161 63-422 162 324 211 123 78 51 31 45 28 160 92 64 39 63 44 165 119 50 35 50 35 65-27 66-28 184-81z"/></clipPath><g clip-path="url(#c3)"><g transform="scale(.1)" fill-rule="evenodd"><path fill="#3e28ac" d="M1338 5312l131-55 214-94 83-34 83-30 208-68 125-43 160-61 422-161-323-211-123-82-96-67-160-116-64-43-64-40-164-95-100-61-131 46-214 70-83 30-83 34-208 92-125 52-161 63-422 162 324 211 123 78 96 59 160 92 64 39 63 44 165 119z"/><path fill="#402ab4" d="M1390 5285l11 1 2-1 95-41 179-79 53-22 48-19 83-29 172-56 98-33 9-27 5-26 1-24-2-27-5-22-9-25-12-24-13-23-24-35-11-20-4-8-2-11-1-9 1-6 3-10 3-6 6-7 11-12 23-19 53-42 21-17 23-22 20-23 19-26 7-13 10-18 10-29 5-29-70-50-141-103-69-46-68-43-142-81-70-42-54-4-57-3-86 29-154 50-66 22-65 24-65 27-202 89-92 39-9 27-5 25-1 25 2 27 5 22 9 25 12 23 13 24 23 35 12 19 4 9 2 10 1 10-1 6-3 9-3 6-6 8-11 12-23 19-53 41-21 18-23 22-21 23-18 25-8 14-9 18-10 29-5 29 70 42 141 81 69 42 68 47 141 103 70 49 47 5z"/><path fill="#412dbb" d="M1461 5255l13 0 203-90 53-22 48-19 89-31 191-62 15-26 6-15 5-16 5-26 2-14-1-15-3-26-6-22-11-24-13-23-15-23-30-39-13-20-4-10-2-6-1-8 1-7 3-9 5-8 14-15 23-18 63-44 26-20 27-25 14-16 13-16 12-17 10-18 7-14 6-16 4-16 3-20 0-14-1-18-151-110-73-50-73-45-151-87-53-8-62-6-60-2-65 0-197 64-95 34-95 39-197 87-15 26-6 15-6 16-5 26-1 14 1 15 3 26 6 22 11 24 13 23 15 23 30 39 13 20 4 10 2 6 1 8-1 7-3 9-5 8-14 15-23 18-63 44-26 20-27 25-15 16-13 16-11 17-8 13-9 19-6 16-4 16-3 20 0 14 1 18 151 87 73 45 73 50 151 110 52 8 60 5 54 3z"/><path fill="#422fc2" d="M1512 5233l14-1 157-69 53-22 48-19 83-29 138-45 15-19 14-22 9-18 7-21 5-24 1-14-1-14-3-23-4-17-5-12-13-28-15-23-17-22-31-37-12-17-5-7-3-9-2-9 1-8 3-7 3-6 6-7 8-8 26-19 64-42 35-26 32-28 14-16 13-16 12-17 10-18 8-20 5-19 3-20 0-19-1-18-4-17-1-3-88-65-50-36-41-27-73-46-116-66-38-7-44-7-41-5-44-4-40-1-39-1-46 1-41 2-150 49-89 32-89 36-151 67-15 19-13 22-9 19-7 20-5 24-1 14 0 14 4 23 4 17 5 12 13 28 15 23 17 22 31 37 12 17 5 8 3 8 1 9 0 8-3 7-3 6-6 7-8 8-26 19-64 42-35 26-32 29-14 15-13 16-12 17-10 18-8 20-5 19-3 20 0 19 1 18 5 21 115 66 69 42 68 47 115 84 39 8 34 5 40 5 44 4 41 2 39 1 47 0z"/><path fill="#4332c9" d="M1555 5214l17-2 123-54 89-36 71-25 105-34 23-24 18-25 8-13 7-14 9-24 4-26 1-14-1-14-5-27-9-24-12-24-15-23-15-18-41-45-12-15-6-10-3-8-2-7 1-8 1-6 4-7 7-8 8-7 22-16 68-42 37-25 33-28 15-15 14-15 12-17 11-18 9-18 6-20 4-17 1-18 0-18-3-18-5-17-7-18-85-62-64-43-64-40-84-49-49-12-50-9-54-7-51-4-48-3-57 0-52 3-53 5-111 36-83 30-83 34-111 49-23 24-18 25-8 13-7 14-9 24-4 25-1 15 1 14 5 26 9 25 12 24 15 22 15 18 41 46 12 14 6 10 3 9 2 7-1 8-3 8-5 9-9 8-11 9-19 13-73 45-27 19-22 17-15 14-15 15-13 16-9 13-14 22-8 19-6 19-3 21-1 19 3 22 4 18 9 22 85 49 64 39 63 44 85 61 41 10 49 10 54 8 49 4 49 3 57 0 45-1z"/><path fill="#4434d0" d="M1596 5195l21-3 84-37 65-26 65-24 84-28 17-13 19-18 14-16 12-16 9-13 9-19 7-18 4-16 2-15 1-19-2-18-4-18-6-16-8-16-9-16-10-15-21-25-46-48-15-18-5-8-3-8-1-5 0-9 2-5 3-6 6-7 9-8 23-16 70-41 38-24 35-27 15-15 14-15 13-16 12-17 9-19 7-19 4-17 2-18 0-19-2-18-4-13-6-16-7-16-9-15-69-50-55-36-68-42-37-21-6-2-57-16-56-12-61-9-60-6-59-2-64 1-68 5-62 8-84 28-65 24-65 26-84 37-17 13-19 18-17 20-12 16-8 13-9 19-7 20-3 15-2 15 1 19 2 17 5 18 4 12 8 16 9 16 10 14 20 26 47 48 15 18 5 7 3 8 1 5 0 9-2 6-4 6-6 8-8 7-23 16-71 40-37 25-35 27-15 14-14 16-13 16-12 17-9 19-7 18-4 17-2 19 0 19 2 18 4 13 6 16 7 16 9 15 64 38 51 31 50 34 64 46 56 16 54 12 61 10 59 6 59 3 65-1 60-3z"/><path fill="#4537d6" d="M1640 5175l28-6 98-40 98-35 35-23 29-25 11-11 13-16 18-25 7-14 7-17 4-16 2-15 1-14-1-19-4-17-5-17-5-12-8-16-10-15-11-15-22-24-48-47-16-18-5-8-4-8 0-7 0-6 3-7 4-6 8-8 13-10 21-13 75-41 29-18 23-16 21-17 15-15 15-15 12-16 14-22 9-19 6-20 3-23 1-19-4-22-6-21-10-20-14-23-16-20-76-51-75-47-53-19-57-16-64-14-64-8-40-4-36-2-38 0-37 0-44 3-33 3-32 3-38 6-47 10-33 11-83 31-80 33-31 20-25 21-22 22-20 24-13 23-10 24-5 23-1 24 2 18 5 22 8 20 11 20 12 19 18 21 20 21 38 36 14 15 7 11 3 8 1 7-1 7-2 6-5 7-7 7-13 10-21 13-80 44-24 15-23 16-21 17-15 15-15 15-13 16-13 22-9 19-6 21-4 22 0 19 4 22 6 21 9 20 15 23 16 20 76 46 75 52 53 19 50 15 54 12 53 8 57 6 56 3 57 0 61-3 57-6z"/><path fill="#463adc" d="M1697 5150l44-13 47-18 44-21 34-21 19-12 17-14 23-22 19-24 9-13 7-14 7-14 4-15 3-17 2-16-1-18-3-14-3-13-7-16-5-12-10-15-10-15-12-14-20-21-52-48-15-16-6-7-3-8-2-9 0-5 3-7 6-8 17-14 22-13 86-45 25-15 27-19 22-17 11-11 15-15 13-16 14-22 9-18 7-20 4-24 0-18-3-23-7-21-11-24-10-15-14-18-17-17-19-17-21-15-23-15-20-11-27-14-28-12-32-12-33-10-29-8-63-14-35-5-37-5-36-3-38-2-69 0-69 5-40 4-30 5-65 13-33 9-32 10-30 11-29 13-21 10-26 14-29 18-26 20-23 22-20 24-13 22-7 14-4 13-4 13-2 13-1 24 4 22 5 17 8 20 11 20 14 18 22 25 59 55 15 15 5 8 4 8 2 8-1 7-2 5-6 8-17 14-23 13-85 46-25 15-23 15-17 13-21 18-14 15-13 16-14 22-9 19-7 20-4 23 0 19 3 22 6 21 12 24 10 15 11 15 13 14 14 13 16 13 17 13 38 23 43 21 49 19 47 15 53 12 60 11 57 6 57 3 66 0 60-3 56-7 60-11z"/><path fill="#463ee1" d="M1683 5144l43-13 48-18 39-18 40-23 31-23 28-25 19-24 9-13 7-14 6-14 5-15 3-16 1-14-1-14-2-18-5-17-7-16-6-12-10-15-11-15-13-14-24-24-50-42-18-18-9-14-2-6 0-8 2-5 5-7 7-8 14-9 25-14 85-43 25-15 24-15 18-13 17-14 15-14 14-16 15-21 11-20 8-22 5-21 1-19-3-23-6-21-9-20-11-19-12-15-12-14-18-17-20-16-22-15-25-14-21-11-28-13-24-9-32-12-28-8-61-14-34-6-36-5-70-6-68-1-70 3-33 3-39 6-37 6-28 6-34 9-26 8-31 10-29 12-22 10-27 14-29 18-26 19-24 22-21 24-8 12-8 14-10 23-3 11-3 15-1 24 2 18 6 22 9 20 12 19 16 22 20 21 21 20 43 36 17 17 8 11 3 8 1 7-1 6-5 8-4 5-18 13-25 14-85 43-25 14-24 16-18 13-17 13-15 15-14 16-15 20-11 21-9 22-4 20-1 20 3 22 6 22 9 20 9 15 11 15 22 24 15 14 16 12 37 24 36 19 47 20 53 17 52 13 58 11 57 7 61 4 57 0 52-3 58-6 60-10z"/><path fill="#4741e5" d="M1708 5126l41-14 40-17 37-19 28-18 30-24 23-22 18-25 13-23 5-15 4-16 2-17 0-14-1-14-4-17-5-13-7-16-7-12-10-14-12-15-13-14-21-20-55-45-19-17-5-7-5-7-2-6-1-7 2-6 5-8 8-7 13-9 27-14 87-42 26-14 24-15 22-16 17-14 16-14 14-16 15-20 10-19 9-22 4-21 1-24-3-22-7-21-10-20-12-19-12-14-17-17-15-13-16-13-23-15-19-11-27-14-29-12-25-10-33-10-28-8-31-8-32-6-66-9-33-3-36-2-34-1-37 0-68 5-63 8-36 7-28 7-27 7-32 10-30 11-23 10-27 13-26 14-32 22-25 20-22 23-15 21-13 23-8 23-2 13-1 12 0 23 4 18 7 21 10 20 13 18 18 22 21 20 22 20 40 32 19 17 8 10 4 8 1 9-2 5-4 7-5 5-18 13-26 14-87 42-26 14-24 15-23 16-16 13-16 15-14 15-15 21-10 19-9 22-4 21-1 23 3 23 7 21 10 20 9 15 12 14 23 24 16 13 16 13 33 20 37 19 48 19 55 17 53 13 52 9 64 6 60 3 56-1 59-4 63-9 50-10z"/><path fill="#4745e9" d="M1677 5126l41-13 42-15 38-18 35-21 32-22 23-22 20-24 9-13 7-13 7-17 4-16 3-15 0-19-2-13-4-18-6-16-8-16-7-11-11-15-12-14-14-14-26-23-53-41-19-16-7-7-5-8-2-5-1-8 2-5 5-8 8-7 15-9 26-13 84-38 31-17 25-14 23-16 18-13 16-15 14-15 16-20 11-18 9-21 5-21 2-21-2-21-6-22-8-20-9-16-11-14-16-18-14-13-16-13-22-15-23-15-21-11-22-10-30-12-53-18-30-7-31-7-60-10-64-6-69-2-62 2-66 7-59 10-28 7-34 9-25 8-30 11-29 12-21 10-35 21-27 19-25 21-20 24-9 12-8 14-10 24-3 13-3 14 0 24 4 22 8 21 10 20 13 18 22 25 22 20 19 16 49 38 15 13 9 11 4 8 2 8-2 5-4 7-5 6-19 12-26 14-84 37-31 17-25 14-23 16-18 13-16 15-14 15-16 20-11 18-9 21-5 21-2 21 2 22 5 21 9 20 7 12 10 15 22 24 27 23 17 13 19 11 20 11 21 11 41 17 53 18 45 11 49 9 55 8 56 4 58 0 53-2 58-6 60-10z"/><path fill="#4848ec" d="M1691 5113l39-13 40-17 32-16 34-21 26-20 23-22 18-25 13-22 6-15 4-16 1-17 0-14-1-14-5-17-6-16-8-16-10-15-12-15-13-14-14-13-31-26-59-43-16-13-8-11-2-5-1-8 1-5 6-8 9-7 14-9 21-10 97-42 26-13 26-15 19-12 22-16 21-17 14-15 16-21 11-17 9-22 6-21 1-21-2-21-5-21-9-20-10-16-11-14-16-18-14-13-16-13-18-12-19-12-26-13-28-13-24-10-54-17-29-8-32-6-61-10-65-6-65-1-64 3-64 8-59 11-27 6-33 10-25 8-30 12-27 12-21 11-34 21-26 20-23 23-16 20-13 22-5 11-4 14-4 23-1 14 2 14 5 21 6 17 11 19 16 22 19 21 22 20 24 19 51 37 16 13 9 10 5 8 1 8-1 6-5 7-5 5-19 12-21 10-97 42-27 14-25 14-19 12-22 16-21 18-14 15-17 20-10 18-9 21-6 21-1 21 2 21 5 22 9 20 7 11 11 15 22 25 15 13 17 12 32 21 36 19 48 19 55 17 45 11 51 9 58 6 56 3 56 0 60-4 55-7 51-10z"/><path fill="#484cef" d="M1709 5099l44-18 38-18 34-21 18-13 16-14 15-15 10-12 9-12 8-13 7-14 5-16 3-13 2-15-2-23-2-13-4-13-12-24-9-15-9-11-19-21-26-23-29-22-53-36-20-16-7-7-4-8-2-7 1-5 3-5 7-7 20-12 22-10 98-41 28-13 26-14 24-14 23-16 20-18 15-15 16-20 14-22 7-20 5-21 1-22-3-22-6-21-10-20-10-15-12-14-17-17-15-13-17-13-18-12-25-14-22-10-23-10-31-12-27-9-29-7-55-12-63-9-37-3-31-1-66 0-59 4-63 9-58 12-32 9-25 8-24 9-28 12-22 11-20 11-28 19-25 20-22 23-17 23-11 23-7 24-2 13 0 14 3 22 5 17 9 21 12 19 15 18 20 20 23 20 25 18 53 37 20 16 7 7 4 7 2 8-1 5-3 4-7 8-20 12-22 10-93 38-33 15-26 14-24 15-23 16-20 17-15 15-16 21-14 22-8 19-4 22-2 21 3 23 7 21 10 19 10 16 12 14 24 24 16 12 18 13 34 20 39 18 43 16 50 14 55 12 54 8 57 4 58 1 54-2 49-4 61-10 49-11z"/><path fill="#4850f2" d="M1658 5106l48-15 47-19 22-10 20-11 20-12 18-13 16-14 15-15 14-16 9-12 7-14 7-14 4-16 3-16 1-13-1-14-3-13-3-13-11-24-8-11-10-15-23-24-27-23-30-22-64-41-16-13-7-7-5-7-2-7 2-7 5-7 5-3 20-12 23-9 94-37 29-13 26-13 26-14 19-12 18-13 20-18 18-19 15-21 12-21 7-21 3-20 0-19-4-22-8-21-8-16-11-15-12-14-13-13-15-14-17-12-18-12-20-11-44-21-25-10-26-8-28-8-30-8-56-10-59-7-60-3-65 1-58 5-61 9-56 13-51 16-47 19-36 19-33 22-25 21-22 22-9 13-8 13-10 24-4 15-2 12-1 13 1 13 5 22 8 21 14 23 18 21 20 21 28 22 26 18 55 36 21 16 7 6 5 8 2 7-1 5-3 5-8 7-20 12-23 9-95 37-33 15-27 13-25 15-19 12-17 14-16 14-18 19-16 20-11 21-7 22-3 20 0 19 4 22 8 21 6 12 10 15 8 11 13 14 26 23 31 21 36 19 22 10 24 10 40 13 51 14 49 9 56 7 53 3 55 1 52-3 49-5 53-9z"/><path fill="#4853f5" d="M1660 5097l47-14 46-19 22-11 20-12 19-12 17-13 12-11 15-15 14-16 8-12 8-14 6-16 4-16 2-16 0-13-2-13-3-13-4-13-12-23-11-15-9-11-23-24-33-25-31-21-62-38-17-12-7-7-6-7-2-8 1-5 3-4 8-7 21-11 120-45 35-14 27-13 25-15 20-12 18-12 20-18 19-19 15-20 10-18 8-21 4-21 0-19-3-22-7-21-6-12-10-15-11-14-14-14-14-14-17-12-17-12-20-12-21-11-22-10-25-9-26-9-50-14-56-11-57-8-62-3-56 0-60 4-63 9-56 12-52 15-47 19-37 19-33 21-18 14-11 10-22 24-9 12-7 14-7 14-4 11-2 11-2 15 0 14 2 13 6 22 9 20 15 22 18 22 22 20 29 22 27 18 62 37 17 13 7 6 6 7 2 8-1 5-3 4-8 7-21 11-120 45-35 15-27 13-26 14-19 12-18 13-20 17-19 19-15 20-10 18-8 22-4 20-1 19 4 22 7 21 6 12 10 15 8 11 13 14 26 23 31 21 36 20 40 17 46 16 44 11 49 10 55 7 53 3 49 1 62-3 48-6 52-9z"/><path fill="#4757f7" d="M1660 5090l48-16 24-9 22-10 21-11 20-12 18-12 17-14 16-14 10-12 13-17 7-13 7-14 5-14 3-15 1-15-1-14-2-13-4-13-5-12-13-23-8-11-13-14-25-24-33-25-33-20-69-40-18-12-7-7-4-4-2-7 1-6 8-8 10-6 11-5 24-9 99-34 35-13 28-13 27-13 25-15 23-15 17-14 19-18 16-21 14-22 7-19 5-22 0-21-4-22-7-21-7-12-10-15-11-14-14-14-15-13-16-13-19-11-20-12-21-10-22-10-45-16-51-14-57-11-56-7-59-3-58 0-61 5-58 9-49 10-52 16-47 18-37 19-33 22-13 10-16 14-21 24-8 12-8 14-9 23-2 13-2 12 1 14 1 14 6 21 6 12 6 12 16 22 20 21 23 20 30 21 33 21 59 33 18 12 8 7 7 8 3 7-1 5-4 5-4 3-10 6-11 5-24 9-99 34-35 14-29 12-26 14-25 14-23 16-17 13-19 19-16 20-14 22-7 20-5 21 0 22 4 22 7 20 14 24 8 11 13 14 26 23 31 21 35 19 41 18 39 13 51 13 50 10 46 6 52 3 54 1 53-3 56-6 52-9z"/><path fill="#475af9" d="M1658 5083l27-8 24-9 23-10 22-10 21-11 19-12 18-13 17-14 15-15 10-12 9-12 7-14 7-14 4-16 3-16 0-14-2-14-3-13-4-12-6-12-9-15-8-12-22-24-27-23-36-24-29-17-67-36-24-14-8-6-7-7-2-4 1-5 2-4 4-4 9-6 12-5 24-8 108-34 37-14 28-12 28-13 25-14 19-12 23-16 23-22 17-20 13-22 8-19 5-22 0-19-3-22-7-21-6-12-10-15-12-15-13-13-27-23-18-12-20-11-21-11-22-10-44-17-50-14-56-11-57-7-53-3-57 0-60 4-54 8-57 12-46 13-48 18-37 19-34 21-17 13-12 11-11 11-10 12-9 13-8 13-6 15-3 11-3 16-1 14 1 14 3 13 3 13 6 12 11 19 17 22 24 24 25 19 31 21 35 19 62 33 19 12 8 6 7 7 1 4 0 5-2 4-4 4-10 5-11 5-24 9-109 34-36 13-29 12-27 13-25 15-24 15-18 13-23 22-17 20-12 20-9 21-5 22-1 19 4 22 7 21 6 12 7 11 9 11 12 14 26 23 31 22 36 19 34 15 46 16 44 11 49 10 56 6 53 4 48 0 52-3 48-5 52-10z"/><path fill="#465efb" d="M1654 5077l26-8 25-9 23-9 22-11 20-11 20-12 18-13 16-14 15-15 9-12 9-13 9-16 6-16 3-16 1-14 0-14-3-14-3-12-5-13-9-15-10-15-9-11-24-23-29-23-37-23-36-19-76-37-20-11-9-7-3-3-2-4 1-5 5-6 5-2 17-8 131-37 38-13 36-13 28-13 27-13 24-15 23-16 21-17 21-23 14-21 9-19 6-21 2-11 0-12-3-23-7-21-6-12-9-15-12-14-13-14-27-23-18-12-20-11-21-11-23-10-44-16-50-14-49-10-51-6-57-4-53 0-61 4-54 7-51 10-46 13-48 18-22 10-21 11-34 21-17 14-12 10-11 12-10 12-8 13-8 13-6 15-3 15-2 14 0 15 2 13 3 13 4 12 6 12 15 23 19 21 22 20 30 21 33 21 31 16 71 34 20 11 9 6 8 7 2 4-1 5-5 5-5 3-17 8-131 37-38 13-36 13-28 13-27 13-24 15-23 16-25 21-17 19-15 21-9 19-5 21-2 11 0 12 3 23 7 21 6 11 7 12 8 11 12 14 26 23 31 22 36 19 34 15 46 15 44 12 50 9 47 6 52 3 54 0 52-3 48-6 45-7z"/><path fill="#4561fc" d="M1648 5072l28-9 24-9 23-9 22-11 21-11 19-12 18-13 16-14 15-15 9-12 11-16 7-16 5-15 3-17 0-15-2-16-4-15-5-12-6-12-9-15-12-14-10-11-14-13-16-13-36-24-40-22-39-18-81-35-22-11-9-6-1-2-1-2 1-4 10-6 19-6 130-32 40-12 37-12 30-11 34-15 31-17 24-15 26-20 19-18 16-21 8-13 5-10 7-22 2-10 1-14-3-23-6-21-6-12-9-15-9-11-12-14-27-23-17-12-19-12-21-11-22-10-44-17-50-14-47-9-56-8-52-3-60 0-52 3-55 7-50 10-47 13-42 15-23 10-21 11-34 21-17 13-12 11-15 15-9 12-9 13-7 14-6 15-3 13-1 15 0 14 2 13 5 17 7 16 7 12 17 22 20 20 29 22 32 21 41 22 33 16 98 42 13 9 3 4-1 4-10 6-19 6-130 32-40 12-37 12-36 14-28 12-31 17-24 15-26 20-19 18-16 21-7 12-6 11-7 22-2 10-1 15 2 22 7 21 6 12 7 12 8 11 12 14 26 23 26 19 35 19 40 18 39 13 44 11 49 10 46 6 53 3 51 1 52-3 48-5 45-8z"/><path fill="#4465fd" d="M1641 5067l24-7 25-9 24-9 22-10 21-11 19-12 18-13 13-11 15-14 10-12 9-13 8-13 6-14 5-16 2-16 0-14-2-13-3-13-5-13-8-15-10-15-9-11-13-14-15-13-16-13-18-12-19-11-25-14-50-24-55-21-46-16-38-10-25-3-29-1-41 4-60 10-63 14-54 14-51 16-41 17-38 18-29 18-27 20-22 22-10 12-9 13-7 12-4 11-5 15-2 16 0 14 2 14 5 17 5 12 8 16 11 14 13 14 14 14 16 13 18 12 35 19 23 10 24 10 26 9 29 8 55 12 54 7 63 4 56 0 59-4 32-4 30-6z"/><path fill="#4465fd" d="M1792 4560l44-17 39-18 34-20 18-13 13-11 22-22 9-12 8-14 7-13 4-11 3-11 2-15 0-14-2-13-3-13-5-13-6-12-7-11-8-11-13-14-14-13-12-10-32-21-37-19-42-17-48-14-47-11-50-7-53-5-50-1-54 2-49 5-53 8-48 12-44 14-40 17-37 20-14 9-17 13-24 22-10 11-9 13-8 13-7 15-4 16-2 16 0 18 4 17 5 17 11 20 11 14 15 18 19 17 20 15 23 15 25 14 26 14 28 13 42 17 34 12 45 14 30 7 28 4 28-1 25-3 38-5 72-15 62-15z"/><path fill="#4369fe" d="M1632 5062l48-14 41-17 21-10 20-12 14-9 18-13 16-15 11-11 9-12 9-13 7-14 5-15 4-15 1-14-1-14-3-13-5-17-6-12-7-12-11-14-9-11-14-13-16-13-17-13-38-23-44-21-48-19-46-16-38-10-39-7-32-2-36 1-48 6-53 9-56 12-53 15-43 15-40 17-36 20-32 22-24 21-10 12-9 12-8 13-7 15-5 15-2 15 0 14 1 14 3 13 6 16 9 16 8 11 12 14 14 14 11 9 17 13 19 11 20 12 23 10 23 10 47 15 53 12 26 5 36 5 60 4 57 0 60-4 54-8z"/><path fill="#4369fe" d="M1782 4556l44-16 39-18 35-20 14-9 17-14 23-22 9-12 9-13 6-12 5-12 4-15 1-12 0-12-1-14-3-13-5-12-6-12-7-12-8-11-12-14-15-13-12-10-31-21-37-19-42-16-49-15-47-10-49-8-54-4-49-1-53 3-49 5-51 9-42 10-44 14-40 17-36 20-15 9-17 13-23 22-10 12-9 12-8 14-6 14-4 16-2 18 1 15 4 17 6 17 9 16 10 14 12 15 14 13 20 16 18 12 23 15 26 14 28 13 29 12 31 12 48 14 38 9 36 5 39 1 51-4 60-9 64-14 33-9z"/><path fill="#406cfe" d="M1624 5058l46-14 24-8 23-10 36-19 19-13 14-10 12-10 15-15 10-12 8-13 8-13 5-13 3-13 2-13 0-14-2-14-3-13-5-12-6-12-10-15-8-11-13-14-27-22-18-12-19-12-42-22-47-20-45-15-44-12-43-7-33-2-37 0-50 4-54 9-49 10-54 15-43 15-40 17-36 19-19 13-13 10-23 21-11 12-9 12-7 14-6 12-5 16-2 13 0 16 2 14 3 13 7 16 6 12 11 15 9 10 14 14 16 13 17 12 19 11 21 11 41 18 47 15 53 12 53 8 58 5 57 0 60-4 55-7z"/><path fill="#406cfe" d="M1771 4553l46-16 39-17 35-20 28-20 23-21 10-12 10-12 7-14 6-12 4-13 2-13 1-15-1-13-3-14-4-12-6-12-7-12-8-11-13-14-10-10-16-13-31-21-37-19-36-14-46-14-49-11-53-8-47-4-50-1-52 2-49 5-49 8-45 11-44 14-40 17-36 19-19 13-13 10-23 22-10 12-9 13-7 13-4 10-4 14-2 15 0 16 3 16 5 17 8 16 10 15 11 14 14 14 15 13 17 12 23 15 25 14 22 11 22 10 31 12 53 17 46 11 39 5 42 2 50-3 62-9 57-12z"/><path fill="#3d70ff" d="M1663 5040l39-15 38-18 14-9 19-12 13-10 15-15 11-11 9-13 8-12 5-12 4-11 4-13 1-12 0-14-2-14-4-12-5-13-6-11-8-12-12-14-10-10-14-14-30-21-39-23-45-20-45-17-42-12-39-8-37-5-41-2-44 2-49 5-52 10-48 11-45 14-42 15-39 19-29 17-27 20-22 22-10 12-9 13-7 14-3 10-4 13-2 15 1 14 3 17 4 13 7 16 8 11 11 15 13 14 15 13 17 12 19 12 37 19 24 10 25 9 50 13 32 7 26 4 58 6 55 2 63-2 56-6 51-10 27-7z"/><path fill="#3d70ff" d="M1760 4550l47-16 40-17 36-20 27-19 24-21 11-12 9-12 8-13 5-11 5-14 3-13 1-9-1-15-2-13-3-13-5-12-7-12-7-11-12-14-10-10-16-14-30-21-37-19-35-15-40-13-45-11-50-8-50-5-46-2-54 1-50 4-54 9-42 9-44 14-41 17-37 19-19 12-13 10-23 22-10 12-9 12-8 14-4 10-4 12-3 16 0 16 2 16 5 17 6 12 9 15 11 15 13 14 15 13 17 13 22 14 20 12 27 13 47 20 46 15 50 12 25 5 23 2 41 2 27-1 26-1 55-8 58-11z"/><path fill="#3974fe" d="M1645 5039l42-14 39-18 34-20 18-13 12-11 11-11 10-12 9-13 7-14 4-11 4-14 2-12 0-12-1-11-3-13-5-13-5-11-7-12-11-15-10-10-14-13-29-22-34-20-44-21-44-17-41-12-40-9-35-5-42-3-46 1-41 4-54 8-49 11-46 13-43 16-38 17-31 18-18 12-13 11-22 22-10 12-7 11-6 11-4 12-4 16-2 14 1 14 2 13 4 13 8 16 7 12 11 14 13 14 15 13 13 9 18 12 20 11 22 11 43 17 49 14 32 7 25 4 57 6 54 3 55-2 57-6 52-9z"/><path fill="#3974fe" d="M1750 4546l47-15 40-17 37-19 28-19 24-21 11-11 10-13 8-13 5-9 5-15 3-12 1-10 0-14-1-14-4-12-5-13-6-11-16-23-10-10-14-13-13-10-17-12-36-19-35-15-39-13-45-12-50-9-48-5-54-2-46 1-50 4-50 8-46 10-45 14-40 16-32 17-14 9-19 13-23 21-11 12-9 12-7 13-6 11-5 16-2 15 0 14 2 14 5 17 5 12 7 12 10 14 13 15 14 13 16 13 18 12 19 11 26 14 46 20 53 18 45 11 44 6 42 3 46-1 57-6 59-10z"/><path fill="#3678fd" d="M1631 5037l40-13 40-17 36-19 18-13 13-10 12-11 10-12 10-12 7-11 5-12 4-11 4-14 1-12 0-13-2-14-4-12-5-12-7-12-8-11-11-15-11-10-27-22-33-21-37-19-42-17-41-12-43-11-37-6-44-4-44 0-45 4-47 6-50 10-47 13-43 15-40 17-30 17-28 19-23 22-10 12-9 12-8 13-4 11-5 15-1 11-1 15 2 13 3 13 7 16 6 12 11 15 12 14 15 13 12 10 18 12 35 19 42 17 47 15 31 7 25 5 54 7 54 3 56 0 50-4 54-8 28-6z"/><path fill="#3678fd" d="M1739 4543l42-13 42-16 37-19 29-18 14-10 16-14 11-11 9-12 14-22 4-11 5-14 1-11 1-15-2-13-3-12-5-14-6-11-7-12-9-11-20-20-12-10-17-12-35-20-34-15-39-13-47-12-47-9-50-6-53-2-52 1-48 4-48 8-42 9-45 14-41 17-31 16-19 12-14 10-23 22-11 11-9 13-7 13-4 10-4 12-3 15 0 14 1 14 4 13 6 16 7 12 10 15 13 14 14 13 16 13 18 12 19 12 21 11 46 20 45 15 45 11 43 8 23 2 28 2 49-1 49-5 53-8z"/><path fill="#327cfc" d="M1618 5035l44-14 40-16 37-20 27-19 12-10 11-11 10-12 9-13 7-13 5-11 3-11 2-15 0-9-1-14-3-13-4-12-6-12-8-12-11-14-10-11-11-10-16-12-32-21-37-19-41-17-41-13-45-11-40-6-43-4-47 1-42 3-47 6-44 9-47 12-43 15-39 18-31 17-27 19-23 21-10 12-9 13-7 13-4 11-4 11-2 15 0 14 2 14 4 12 5 13 6 11 11 15 9 11 14 13 16 13 18 12 35 20 41 17 48 14 47 11 55 7 52 4 57-1 51-3 53-8z"/><path fill="#327cfc" d="M1789 4521l41-17 32-17 28-18 25-21 11-11 9-13 13-21 4-11 4-11 1-10 1-15-1-10-2-12-4-13-6-12-7-11-8-11-9-11-14-13-24-19-34-20-34-16-38-13-42-12-42-8-46-6-53-4-48 0-50 4-48 6-43 8-40 11-42 16-33 15-30 18-26 20-12 11-10 11-15 21-7 14-3 10-4 17-1 11 2 17 3 13 6 16 7 12 10 15 12 14 15 14 16 12 17 12 20 12 20 11 23 10 24 10 26 9 50 13 50 9 49 5 47-1 50-4 54-8 56-13z"/><path fill="#3080fb" d="M1662 5015l37-15 31-17 28-19 24-21 10-12 9-12 7-12 5-11 4-11 2-15 1-13-1-11-6-21-5-12-7-12-17-22-10-10-15-13-26-19-35-19-40-18-38-13-36-10-40-9-40-5-42-2-45 1-42 4-46 7-49 10-46 14-36 13-38 18-30 18-25 20-19 19-9 12-7 11-6 11-4 11-4 16-1 15 1 13 3 13 5 13 5 12 8 11 11 15 14 13 11 10 17 13 19 11 20 11 23 11 44 16 51 13 51 9 50 5 59 1 28-1 34-2 54-7 50-11 26-7z"/><path fill="#3080fb" d="M1762 4523l42-15 39-17 30-18 26-19 12-11 11-12 15-21 7-13 4-10 4-22 1-12-1-11-3-13-5-13-6-11-7-12-18-21-22-20-17-12-15-9-31-16-36-15-41-12-38-9-43-8-51-5-49-1-47 1-48 5-45 7-42 10-42 13-37 16-31 16-28 19-24 21-10 12-9 12-7 12-5 12-5 15-2 16 1 14 2 13 4 13 7 16 7 11 11 15 14 13 11 10 16 13 18 12 20 11 22 11 23 10 24 9 49 15 47 10 47 6 44 1 53-2 48-6 52-9 27-7z"/><path fill="#2e83f9" d="M1633 5018l40-13 33-16 30-17 27-20 12-10 10-12 15-21 7-14 4-11 2-10 1-15 0-9-2-14-4-12-5-12-6-12-8-11-19-21-11-10-17-13-33-20-38-19-37-14-41-12-39-9-44-6-42-3-38 0-45 3-45 6-43 9-40 10-44 15-39 17-31 17-27 20-12 10-11 12-16 21-6 12-5 11-3 11-2 15 0 14 2 13 4 13 5 12 7 12 10 15 13 13 11 10 17 13 18 12 36 19 43 17 50 14 49 9 47 6 54 3 52-1 58-6 52-9z"/><path fill="#2e83f9" d="M1745 4522l44-14 34-15 32-16 28-19 24-21 17-19 9-13 5-9 5-15 3-11 1-11 0-13-2-14-4-12-5-13-7-11-16-21-11-11-11-10-26-18-36-20-35-15-41-13-37-9-47-8-45-4-50-2-46 1-47 4-48 8-42 9-44 14-35 15-33 17-26 18-12 11-11 11-11 11-8 13-7 13-5 11-3 11-2 15 0 14 2 13 3 13 6 12 6 12 11 14 13 14 14 14 30 21 20 12 21 11 41 17 47 15 46 10 45 7 50 3 46-1 49-5 53-9z"/><path fill="#2e87f7" d="M1616 5017l42-13 34-14 31-17 28-19 12-10 12-11 10-12 8-13 7-13 4-11 3-11 2-10 0-13-1-10-3-13-5-13-6-11-7-12-18-21-23-20-31-21-34-17-39-16-40-13-38-9-43-7-40-4-46-1-43 3-40 5-44 8-42 10-44 14-40 17-31 17-27 19-12 10-12 11-16 21-6 11-5 12-4 11-3 15 0 14 2 12 4 14 5 13 6 11 8 11 12 15 11 10 12 9 17 13 19 11 16 8 41 18 47 14 47 11 45 6 52 4 57 0 51-4 53-8z"/><path fill="#2e87f7" d="M1731 4520l42-13 42-16 32-16 28-18 25-21 17-19 9-13 5-9 6-15 3-10 1-12 1-13-2-12-2-10-5-13-6-12-7-11-9-11-21-20-25-19-29-17-37-16-40-14-40-10-45-8-45-5-51-2-46 1-50 4-45 7-42 10-39 11-40 17-32 17-27 19-12 10-11 11-17 21-7 11-5 12-3 10-3 16 0 12 1 11 3 13 4 12 6 12 10 15 9 11 14 14 11 9 17 13 19 12 20 11 40 17 46 16 45 11 43 7 47 4 48 0 50-4 54-8z"/><path fill="#2d8af4" d="M1601 5015l41-12 42-16 31-16 28-19 13-10 11-11 17-20 7-11 5-11 5-16 2-11 1-12-1-11-5-22-6-12-7-11-8-11-9-11-22-20-31-21-36-19-35-15-40-13-43-10-38-7-44-4-41 0-42 2-48 5-44 8-41 11-43 14-35 15-30 17-28 19-12 11-11 11-16 21-7 12-4 11-3 11-3 15 0 9 2 14 3 13 5 12 7 12 7 11 19 21 12 10 16 12 19 12 16 8 40 18 47 15 46 10 44 7 51 4 49 1 52-3 47-7z"/><path fill="#2d8af4" d="M1769 4503l37-14 32-16 29-18 26-21 18-19 14-21 8-20 2-11 2-14-1-10-2-13-7-21-7-12-7-11-19-21-24-19-28-18-33-15-37-14-37-11-42-9-49-7-41-3-48-1-42 3-43 4-45 8-40 11-38 12-34 15-30 17-27 19-19 19-16 21-7 12-5 11-3 11-2 15 0 14 3 13 3 13 8 16 7 11 12 15 13 13 12 10 30 21 37 19 23 10 25 10 49 14 40 8 27 4 25 2 50 1 52-2 55-8 50-10z"/><path fill="#2d8df2" d="M1630 5002l39-15 33-15 25-15 26-20 11-11 10-12 9-12 5-9 8-21 2-10 1-15-1-9-2-13-8-21-7-11-8-12-19-20-24-20-34-20-32-16-38-14-42-12-40-8-38-5-40-3-40 0-42 3-47 6-44 9-39 11-37 13-34 15-30 17-27 20-18 18-16 21-7 13-4 11-3 11-2 15 1 9 2 13 3 13 6 12 6 12 11 15 13 13 12 10 16 13 14 9 37 19 43 16 43 12 49 9 49 6 50 2 55-1 49-5 44-8 28-7z"/><path fill="#2d8df2" d="M1745 4504l34-11 35-14 31-17 28-19 12-10 12-11 16-20 7-12 5-11 4-11 2-11 1-11-1-12-2-9-3-13-6-12-6-12-8-11-10-10-22-20-26-18-32-17-35-14-39-12-41-10-40-6-45-5-49-1-45 2-41 4-45 7-42 10-38 12-34 14-31 17-27 19-20 18-16 20-7 12-5 12-5 15-2 11 0 14 2 13 4 13 5 12 7 12 11 14 9 11 15 13 12 10 18 12 35 19 42 18 40 12 46 11 47 7 51 2 46-1 49-4 52-10z"/><path fill="#2b91ef" d="M1609 5002l39-13 35-14 31-17 27-19 12-11 11-11 15-21 7-14 4-10 2-10 2-11 0-10-2-13-7-21-6-12-7-11-19-21-23-20-28-18-31-16-36-14-34-11-40-10-40-6-42-4-45-1-42 2-44 5-44 9-41 10-37 13-34 14-31 17-27 20-19 18-11 12-6 9-7 12-4 10-3 12-3 15 0 9 2 14 4 13 5 12 6 11 8 12 10 10 14 14 12 9 18 12 14 9 21 11 36 14 41 13 48 10 45 6 53 4 47-1 50-3 47-7z"/><path fill="#2b91ef" d="M1728 4503l42-13 35-14 32-16 28-18 13-11 12-10 16-20 8-12 5-11 6-20 1-12 0-12-1-10-4-13-9-20-8-11-9-11-21-20-26-19-30-16-35-15-40-13-39-9-42-7-49-5-42-1-45 1-42 4-45 7-42 10-38 12-34 15-31 16-27 19-20 19-10 11-6 10-7 12-4 10-4 12-2 15 0 9 2 14 3 12 5 13 7 11 11 15 20 21 12 9 17 12 35 20 41 18 40 13 45 10 44 7 43 3 47 0 51-4 46-7z"/><path fill="#2994ed" d="M1593 5000l40-11 36-14 32-16 28-18 13-10 12-11 16-20 8-13 4-10 4-10 2-11 1-12-1-13-1-9-4-12-10-20-8-11-9-11-22-20-26-18-30-17-35-15-39-13-37-10-43-7-40-4-40-1-44 1-41 5-45 7-41 10-38 13-35 14-31 16-28 19-20 18-16 20-7 13-6 11-4 15-1 11-1 12 2 11 2 10 4 11 6 12 8 11 8 11 10 11 12 9 16 13 19 12 15 8 35 15 39 13 46 11 43 7 53 5 48 1 52-4 47-6z"/><path fill="#2994ed" d="M1765 4486l37-15 32-16 28-18 21-18 17-19 7-11 6-11 7-21 1-11 1-10-1-9-3-13-8-20-13-19-9-11-10-10-24-19-29-17-34-16-32-11-35-10-41-9-45-6-42-2-40-1-44 3-46 5-38 7-41 11-36 13-34 15-25 14-26 20-18 18-14 20-6 11-4 10-3 12-2 15 0 9 2 13 4 13 6 12 7 12 11 14 13 14 12 10 17 12 14 9 36 19 43 17 42 12 49 9 48 6 50 1 52-3 47-6 50-11z"/><path fill="#2797eb" d="M1619 4988l35-13 34-15 29-18 22-16 18-19 10-12 5-9 5-11 4-11 3-20 0-12-2-11-7-21-11-19-9-11-10-10-23-20-27-17-32-16-37-15-41-12-37-8-39-6-41-3-38 0-43 2-40 5-40 8-38 9-37 13-34 15-31 17-27 19-19 18-15 21-10 21-4 13-1 12 0 10 2 13 4 13 5 12 7 11 11 15 10 10 11 10 13 10 18 11 20 12 17 7 37 14 42 13 50 9 47 5 45 2 45-1 50-4 45-8 28-6z"/><path fill="#2797eb" d="M1738 4489l38-13 34-15 26-14 27-19 20-17 16-21 8-13 4-10 3-10 2-11 0-20-1-9-4-13-10-19-8-12-9-10-22-20-26-18-31-17-30-12-34-11-39-9-41-7-42-5-41-1-45 1-42 3-46 7-35 8-39 12-35 14-31 17-28 18-19 18-17 21-7 13-4 10-4 12-2 15 0 9 2 14 4 13 5 12 7 11 8 11 20 21 12 10 17 12 35 19 41 18 41 12 47 11 45 6 42 2 46-1 49-4 46-8z"/><path fill="#269ae8" d="M1598 4988l36-11 35-14 31-16 23-16 13-10 11-11 16-21 10-20 4-11 2-10 0-10-1-13-1-9-4-13-11-19-8-12-9-10-23-20-26-18-32-16-29-13-33-10-37-10-43-7-39-4-40-1-44 1-41 4-39 7-40 10-38 12-35 14-31 17-27 19-20 18-16 20-10 21-4 13-2 11 0 12 2 12 3 13 3 8 7 12 7 11 9 11 14 14 25 18 30 17 23 10 18 8 41 12 47 11 45 6 46 3 47 0 51-4 46-7z"/><path fill="#269ae8" d="M1720 4488l35-10 36-14 32-16 29-18 13-10 11-11 17-20 11-19 4-11 3-10 1-10 0-11-2-12-2-9-9-20-7-11-8-11-21-20-26-19-31-17-29-12-38-13-39-9-43-7-39-4-45-2-40 1-47 4-38 6-39 9-35 11-35 14-31 17-28 19-19 18-16 20-11 20-3 14-2 11 0 12 1 12 4 13 3 8 6 12 8 11 9 11 10 10 11 10 17 12 19 12 16 8 34 16 39 13 45 11 44 7 40 3 48 0 43-2 47-7z"/><path fill="#249de7" d="M1582 4987l36-10 36-14 33-15 29-18 21-18 17-19 8-13 5-9 4-10 2-11 2-11-1-11-1-9-3-13-9-20-8-11-9-11-17-17-26-19-30-16-34-15-33-12-36-9-42-8-38-4-41-2-44 2-42 4-37 6-42 10-38 12-35 14-29 16-25 16-22 21-16 20-11 20-3 10-2 14 0 9 1 14 2 9 4 12 7 12 7 11 9 11 10 10 25 19 18 12 16 8 35 15 40 13 38 9 43 7 46 4 49 1 43-2 48-6z"/><path fill="#249de7" d="M1750 4474l32-12 33-15 29-18 21-17 18-19 12-17 6-12 3-11 3-20 0-11-2-12-6-18-6-10-7-11-16-18-19-16-28-18-32-16-30-12-35-10-40-9-43-6-41-4-45 0-43 2-39 5-38 6-34 9-38 12-34 15-25 15-23 16-19 18-16 20-5 11-5 11-3 13-2 11 0 11 3 13 3 13 6 12 7 11 9 11 20 21 17 12 13 9 20 11 16 8 24 10 19 7 42 12 50 9 38 5 50 1 44-2 48-5 44-9z"/><path fill="#23a0e5" d="M1604 4975l36-12 28-12 26-14 27-19 20-18 9-12 6-9 6-11 4-12 3-10 1-10-1-18-2-9-4-13-11-19-8-11-10-10-23-20-28-18-32-16-31-11-34-11-39-9-35-5-41-3-38-1-44 2-40 5-37 7-34 9-38 12-34 15-25 14-27 19-20 18-15 21-9 19-3 10-2 14 0 9 2 14 2 8 5 13 7 11 8 11 9 11 11 10 12 10 17 12 31 16 36 15 41 12 39 9 45 6 48 3 47 0 51-4 45-7z"/><path fill="#23a0e5" d="M1726 4475l35-11 35-14 31-17 23-16 20-17 16-21 10-18 3-10 3-11 1-11-1-11-1-9-4-13-10-19-14-19-18-16-26-19-30-16-29-13-34-11-37-9-42-7-39-4-45-2-40 1-41 4-45 7-35 8-38 12-35 15-25 14-23 15-20 18-17 20-5 11-6 11-3 12-2 14 0 9 2 14 2 8 5 12 7 12 7 11 10 11 14 13 25 19 20 11 16 8 35 15 41 13 39 8 44 7 43 3 45-1 42-3 46-7z"/><path fill="#21a3e3" d="M1585 4975l34-10 36-13 31-17 24-15 20-17 17-20 6-10 6-12 4-11 2-10 0-19-2-13-3-9-9-20-8-11-9-10-19-17-26-18-30-17-30-12-33-11-38-10-42-7-40-3-40-1-35 1-41 4-38 7-34 8-39 12-34 14-27 14-27 19-20 17-16 20-9 19-4 10-2 11 0 12 1 11 2 10 4 11 5 12 8 11 9 11 10 10 24 19 29 18 34 15 39 13 38 9 43 7 49 5 48 0 43-2 48-6z"/><path fill="#21a3e3" d="M1709 4474l37-10 36-14 27-13 29-18 21-17 18-19 12-20 5-12 3-10 1-20-1-11-3-11-9-20-13-18-17-18-24-18-30-17-29-13-32-11-37-10-42-7-38-4-40-2-42 0-46 4-38 6-35 7-39 12-35 14-27 14-27 18-20 18-7 8-9 12-10 19-3 10-2 15-1 10 2 13 2 9 5 12 6 12 8 11 9 11 11 10 24 19 30 17 34 15 39 13 37 10 43 7 40 4 49 0 43-2 47-7z"/><path fill="#1fa6e2" d="M1610 4962l36-13 28-13 24-14 22-17 18-19 11-17 9-20 2-10 1-12-1-12-1-9-3-8-5-12-12-19-16-18-19-16-28-18-27-13-35-14-35-10-33-7-35-6-42-3-38-1-37 2-39 4-41 8-37 9-31 11-32 14-29 15-21 16-20 18-8 9-8 11-9 19-3 10-2 15 0 10 2 12 3 10 5 12 7 11 8 11 10 11 11 10 16 12 14 9 32 16 37 15 42 11 41 8 48 6 41 1 45-1 49-5 45-8z"/><path fill="#1fa6e2" d="M1732 4463l36-13 28-12 30-17 22-17 19-18 13-17 9-18 3-11 1-11 1-12-2-10-5-19-5-10-8-12-15-17-19-17-27-18-27-13-30-12-34-10-39-9-36-5-40-4-39-1-45 2-38 4-40 6-34 9-32 10-34 15-26 14-22 15-20 18-8 9-8 12-9 19-3 10-2 15 0 10 2 12 3 9 5 13 7 11 8 11 9 11 11 10 25 18 15 9 21 11 36 14 41 13 40 8 46 6 42 2 46-1 41-4 45-8z"/><path fill="#1da9e0" d="M1587 4964l33-10 35-14 26-14 23-15 20-18 11-12 6-8 10-19 3-11 2-10 0-19-1-9-4-13-10-19-15-18-18-17-26-18-31-17-29-12-36-11-36-9-34-5-40-4-42-1-35 1-41 5-37 6-34 8-38 13-34 14-26 15-22 16-20 18-9 11-6 9-9 19-3 11-1 11 0 13 1 10 3 8 5 12 7 12 8 11 9 11 11 10 26 18 25 14 35 15 41 12 39 9 46 6 41 3 48 0 43-3 38-6z"/><path fill="#1da9e0" d="M1712 4463l35-11 30-11 32-16 24-15 20-18 18-19 10-18 4-11 3-10 1-20-1-10-3-12-9-20-14-18-17-17-26-18-25-14-29-13-33-11-38-9-39-7-42-4-42-2-36 1-41 4-39 6-34 8-33 10-35 14-26 14-23 15-20 18-11 12-6 8-10 19-3 10-2 11-1 11 1 12 2 9 5 12 6 12 8 11 9 11 10 10 24 19 30 17 34 15 40 13 38 9 44 7 41 3 40 1 43-3 46-7z"/><path fill="#1aabdd" d="M1626 4946l32-13 25-15 23-16 19-18 12-16 6-9 4-11 3-11 2-9 0-19-5-18-10-20-14-18-18-17-22-15-30-17-29-12-31-11-31-8-40-7-34-4-40-2-37 1-34 3-39 5-35 8-33 9-30 11-28 13-25 15-22 16-18 19-12 17-8 19-3 10-1 12 0 9 3 14 4 12 6 12 8 11 9 11 10 10 12 10 27 18 33 15 38 14 44 11 43 8 44 3 48 1 44-2 46-7 43-9z"/><path fill="#1aabdd" d="M1740 4449l34-13 27-13 24-15 22-17 17-19 11-17 5-10 3-10 2-17 0-9-2-11-7-19-12-19-16-18-19-16-28-17-29-14-30-11-36-10-34-7-36-5-39-3-41 0-36 2-39 4-37 7-34 8-34 12-31 14-25 14-22 17-18 19-12 17-9 19-2 10-1 12 0 9 2 13 5 13 6 12 7 11 9 11 10 10 12 10 27 18 32 16 37 14 43 12 40 7 41 4 43 2 44-2 40-5 44-8z"/><path fill="#17aeda" d="M1589 4953l38-13 28-12 25-14 23-16 19-19 12-16 9-19 4-18 0-19-2-11-3-10-11-20-15-18-19-16-27-18-26-14-30-12-34-11-39-8-35-6-35-2-39-1-35 1-41 5-37 7-34 8-37 13-28 12-25 14-23 17-19 18-12 17-9 18-3 11-2 11 0 11 2 9 2 8 4 13 7 11 8 12 9 10 11 10 26 19 31 16 30 12 41 13 40 8 41 6 41 2 47 0 42-4 38-6z"/><path fill="#17aeda" d="M1714 4451l34-10 29-12 26-13 24-16 21-17 14-17 11-18 4-11 3-10 1-20-4-17-3-9-6-12-13-18-17-17-26-18-25-14-29-13-33-11-34-8-38-7-39-4-45-1-37 1-37 3-34 6-35 8-33 9-35 15-26 13-23 16-20 18-14 19-9 18-4 10-2 10 0 10 1 14 2 8 5 13 7 11 8 11 16 18 24 19 30 17 34 15 41 13 38 8 39 6 42 3 47 0 42-4 38-5z"/><path fill="#13b0d7" d="M1571 4952l35-10 30-11 27-13 24-15 21-17 17-20 11-17 6-19 2-10 0-10-3-18-4-10-5-10-13-18-17-17-21-16-29-17-29-13-33-11-37-9-33-6-39-4-36-2-36 1-42 4-38 6-34 8-32 10-29 12-30 15-20 14-21 17-15 19-6 10-5 10-3 10-2 11 0 12 1 9 2 9 4 13 12 19 15 17 12 10 12 9 29 18 29 12 39 14 38 9 44 6 38 4 39 0 44-2 39-5z"/><path fill="#13b0d7" d="M1697 4450l36-9 30-12 28-12 24-15 22-17 18-19 11-17 5-9 3-10 2-19-2-18-2-9-5-12-13-19-16-17-20-16-29-17-29-13-32-11-32-8-39-8-38-4-38-2-37 1-39 3-40 5-37 9-32 9-29 12-29 14-22 15-20 17-15 19-7 10-4 10-3 10-2 11-1 12 1 9 2 9 5 12 11 20 16 17 11 10 12 9 29 18 34 15 32 11 37 10 43 7 40 3 45 1 34-2 40-5z"/><path fill="#0eb3d4" d="M1591 4941l30-10 29-12 25-14 22-17 19-18 12-17 8-19 3-17-1-19-3-11-3-8-11-20-15-17-20-17-22-14-27-14-30-12-35-10-31-7-35-6-38-3-38 0-35 1-33 4-37 6-33 9-33 10-28 12-26 14-23 16-19 18-13 17-9 18-3 10-2 12 0 12 1 9 3 9 5 12 12 19 9 11 11 10 12 9 14 9 31 17 30 12 34 10 39 9 45 6 41 2 47 0 41-4 38-6z"/><path fill="#0eb3d4" d="M1716 4440l33-10 28-13 26-13 23-16 19-18 13-17 9-18 3-11 2-10-1-18-4-17-4-9-7-11-14-18-19-16-23-15-26-14-30-12-34-11-31-7-35-5-39-4-40-1-35 2-34 3-37 6-35 8-31 10-29 12-26 14-23 16-20 18-13 17-9 18-3 10-1 11 0 13 1 9 2 9 5 12 13 19 16 17 11 10 13 9 30 17 35 15 33 11 39 9 40 6 43 3 46-1 42-3 38-6z"/><path fill="#07b5d0" d="M1570 4942l30-9 30-11 28-13 24-15 20-17 14-16 11-18 4-10 3-11 1-10 0-9-4-18-8-20-14-18-18-17-21-15-25-14-29-13-29-9-34-9-36-7-35-4-33-1-39 1-37 3-38 6-35 8-32 10-29 11-27 14-23 16-20 17-14 17-9 18-4 11-2 10 0 9 1 10 1 8 5 13 11 19 15 18 11 10 13 9 29 17 29 13 32 11 38 9 43 7 40 4 41 0 43-2 40-5z"/><path fill="#07b5d0" d="M1697 4440l37-11 30-11 27-13 24-15 20-18 14-15 11-18 4-10 3-10 1-11 0-9-4-18-7-16-12-19-18-17-20-15-25-14-29-13-29-10-33-9-38-7-34-4-41-1-37 0-35 3-40 6-32 7-33 10-29 11-27 14-23 15-20 18-14 17-9 18-4 9-2 11 0 10 0 9 2 9 4 13 11 19 16 18 11 10 12 9 29 17 28 13 32 12 37 9 42 8 39 3 39 1 44-2 39-5z"/><path fill="#03b7cc" d="M1593 4930l29-10 28-13 24-15 22-17 14-15 11-17 5-9 3-11 2-17-2-18-7-18-11-17-16-18-20-16-23-14-28-13-29-11-33-10-38-7-37-5-31-2-38 1-34 2-34 4-34 7-33 9-30 11-28 13-20 12-22 16-15 15-12 17-5 9-3 10-3 11-1 11 1 9 2 11 3 11 6 12 14 18 18 17 12 9 14 9 32 16 31 12 36 10 41 7 42 5 40 1 45-1 40-5 37-6z"/><path fill="#03b7cc" d="M1718 4429l31-11 29-12 25-15 18-13 19-18 12-17 5-9 3-10 4-17-1-19-5-16-4-8-7-12-16-18-19-16-23-15-27-13-25-9-34-11-32-6-35-6-35-2-39-1-35 1-33 4-37 6-28 7-31 10-29 12-26 14-23 16-15 14-15 19-9 17-3 11-1 10 0 11 2 12 3 10 5 10 12 19 17 17 12 10 13 9 31 17 30 12 34 10 39 9 36 5 42 3 46-1 41-4 38-6z"/><path fill="#01b8c8" d="M1570 4932l32-10 29-12 26-13 19-12 21-18 13-16 10-18 6-18 1-10 0-9-4-18-7-16-14-18-17-17-22-15-25-14-29-13-33-11-31-7-32-5-33-4-40-1-36 1-33 3-38 6-35 8-31 10-29 13-25 14-23 16-15 14-13 17-9 18-3 11-2 11 0 11 2 9 2 8 6 12 12 19 17 17 12 10 14 9 25 14 30 12 34 11 39 8 36 5 36 3 39 0 43-2 39-6z"/><path fill="#01b8c8" d="M1697 4430l32-10 30-11 26-13 24-16 21-17 13-16 10-18 5-15 2-18-3-18-7-16-12-19-17-17-21-15-25-15-28-12-33-11-30-8-35-6-38-4-36-1-36 1-34 3-37 5-30 7-32 9-29 12-27 14-23 15-16 14-15 19-10 18-3 10-2 10 0 10 1 9 2 9 4 12 12 19 16 18 20 16 29 17 28 13 32 11 37 9 35 6 42 4 39 1 43-3 39-5z"/><path fill="#02bac4" d="M1596 4919l27-11 27-13 24-15 16-14 14-15 11-18 6-15 1-9 1-10-3-18-6-16-9-16-16-17-20-16-24-15-27-13-27-9-26-8-35-7-32-5-35-3-39 0-34 2-38 5-31 6-33 9-30 11-28 13-20 11-21 17-15 15-12 17-6 15-3 10-1 12 1 11 2 9 2 8 6 12 14 19 17 16 13 10 14 9 32 16 31 11 36 10 42 8 38 3 39 2 45-2 40-5 36-7z"/><path fill="#02bac4" d="M1720 4418l30-11 28-13 24-15 17-13 15-15 12-17 4-10 3-9 3-15-2-19-5-17-9-15-15-18-19-16-21-13-24-12-31-12-27-9-37-8-36-5-34-2-36-1-36 2-32 4-37 6-34 9-30 11-28 13-20 11-21 17-15 15-12 17-6 14-3 11-1 11 1 12 1 9 3 8 6 12 13 18 18 17 12 10 14 9 31 16 31 12 36 10 32 6 41 5 41 2 36-1 41-4 37-7z"/><path fill="#07bcc0" d="M1569 4922l28-9 29-12 26-13 19-13 20-17 13-16 10-19 4-16 1-9-1-10-4-17-8-16-14-18-18-16-22-16-26-13-24-10-27-9-29-7-34-6-35-4-31-1-36 1-34 3-38 6-28 6-32 10-29 12-26 13-23 16-16 14-14 17-9 18-3 10-1 11-1 9 2 9 5 17 4 8 7 11 16 18 20 16 14 9 15 8 29 12 33 11 39 9 35 5 42 3 38 0 42-3 39-5z"/><path fill="#07bcc0" d="M1696 4419l28-8 30-11 26-13 24-16 20-17 13-17 10-18 4-16 0-14-3-18-8-18-12-16-18-17-21-16-26-13-23-10-34-11-30-7-30-6-34-3-32-2-39 1-38 3-34 6-32 7-32 10-29 12-21 11-23 16-15 14-14 17-9 18-3 10-2 10 0 10 1 9 5 17 4 8 8 11 15 18 20 16 29 17 29 13 32 11 38 9 35 5 37 3 38 1 43-3 39-5z"/><path fill="#0ebdbb" d="M1604 4905l25-11 26-14 18-12 16-15 12-16 8-15 5-16 1-10-1-9-3-17-8-16-12-16-16-16-17-12-25-15-24-11-30-10-29-8-33-6-37-4-30-2-30 1-33 2-34 4-33 7-27 7-30 11-28 13-19 12-20 16-15 15-10 14-5 9-3 10-2 11-1 11 1 9 4 13 3 8 7 11 15 18 19 17 13 9 15 8 28 13 33 11 37 9 35 6 40 3 42 1 43-3 38-6 35-8z"/><path fill="#0ebdbb" d="M1722 4406l29-11 22-10 24-15 17-14 14-15 11-17 6-17 3-15-2-18-6-17-9-15-16-17-16-13-23-15-27-13-25-10-28-8-34-7-34-5-34-2-32-1-32 2-33 3-37 7-27 7-31 10-29 12-20 12-22 16-15 15-12 17-7 15-3 11-1 10 1 13 2 9 3 9 6 11 14 19 18 16 13 10 14 8 27 14 31 11 36 10 33 6 38 4 39 2 36-1 41-4 43-9z"/><path fill="#16bfb7" d="M1567 4912l31-10 23-9 26-14 19-13 16-14 14-16 9-18 5-18 0-15-3-17-8-16-13-18-14-14-22-15-25-14-29-12-28-9-30-7-31-5-34-3-33-2-33 1-33 4-38 6-27 6-32 10-29 13-20 11-23 16-16 14-12 17-8 16-3 11-1 8 0 11 1 9 6 17 4 7 8 12 16 17 21 16 25 14 29 12 33 11 40 8 36 5 36 3 38 0 42-4 31-4z"/><path fill="#16bfb7" d="M1695 4409l30-9 29-12 26-13 19-13 16-14 13-16 10-18 5-16 0-16-3-18-8-16-14-18-14-14-22-15-24-13-25-11-33-10-31-7-35-6-30-2-36-1-35 1-33 3-30 5-29 7-31 10-29 12-21 11-22 16-16 14-12 16-9 17-3 10-1 9 0 11 2 9 5 16 4 8 8 11 17 18 20 15 25 15 28 12 34 11 30 7 34 6 41 3 38 1 35-2 39-6z"/><path fill="#1ec0b2" d="M1549 4911l28-7 30-11 28-13 19-12 22-17 14-15 9-16 6-16 2-15-1-9-1-9-7-16-5-9-7-10-14-14-20-16-25-14-23-10-32-11-30-8-31-5-31-4-34-1-36 0-33 3-31 5-28 6-33 10-29 12-21 11-22 14-17 15-14 16-9 17-4 18-1 8 1 10 4 16 4 8 7 12 16 17 19 16 25 15 28 13 33 11 30 7 34 6 38 3 39 1 35-2 32-3z"/><path fill="#1ec0b2" d="M1728 4394l24-10 26-14 18-12 16-15 13-15 8-14 5-15 1-9 0-10-3-17-7-17-11-14-13-14-17-13-24-14-23-11-31-11-29-7-33-7-28-3-32-2-35 0-31 2-35 4-29 6-27 7-30 11-28 13-20 11-17 14-15 15-9 13-8 18-2 10-1 10 1 9 1 9 3 8 6 12 13 18 18 17 13 9 15 9 27 13 31 12 37 9 33 6 40 4 41 1 35-2 39-5 36-8z"/><path fill="#24c2ae" d="M1565 4902l28-9 23-9 26-14 19-13 16-14 13-16 5-9 4-10 3-15 1-10-1-9-5-16-9-17-12-14-15-13-22-15-21-11-29-12-28-9-33-7-33-5-30-3-34 0-30 1-34 4-33 6-27 7-31 10-28 13-20 11-18 13-15 15-12 17-7 14-3 10-1 10 1 10 1 9 6 16 5 8 8 11 17 17 22 15 26 14 23 10 34 10 32 7 35 5 42 3 37 0 34-3 38-6z"/><path fill="#24c2ae" d="M1694 4399l26-8 29-11 21-11 19-13 17-13 14-16 10-18 5-16 1-14-4-18-7-17-13-17-14-14-22-15-22-12-27-12-27-8-31-8-31-5-33-3-34-1-33 1-33 3-31 5-32 7-27 9-29 12-21 11-21 16-16 15-13 17-6 14-3 10-1 10 0 10 2 8 6 17 4 8 9 11 17 17 21 15 26 14 23 10 34 11 30 7 36 5 35 3 38 0 34-2 39-6z"/><path fill="#29c3a9" d="M1546 4901l32-8 25-9 27-13 19-12 17-13 15-16 11-17 5-15 2-16-1-10-2-8-7-16-10-15-13-14-21-16-24-14-23-10-26-9-29-8-34-6-28-3-33-2-32 1-34 2-31 5-28 6-33 9-29 12-21 11-20 14-19 16-11 14-9 16-4 17-1 10 1 9 5 17 4 8 7 11 13 14 20 16 24 15 28 12 34 11 30 7 35 6 30 2 33 1 35-1 41-5z"/><path fill="#29c3a9" d="M1676 4399l29-8 25-9 28-12 20-12 17-13 15-15 12-17 7-16 3-15-1-9-1-9-6-17-9-15-13-14-20-16-24-14-22-11-26-9-28-8-33-6-30-4-32-2-34 0-37 3-31 4-29 6-33 9-29 12-21 11-20 13-19 17-11 14-9 16-4 17-1 10 1 9 5 17 4 8 7 11 13 14 19 16 24 15 28 12 33 11 30 8 35 5 29 3 37 1 35-1 33-4z"/><path fill="#2ec4a5" d="M1563 4892l31-10 23-10 20-11 19-13 15-14 13-16 7-15 4-16-1-16-4-17-9-16-11-14-15-13-22-15-21-11-24-10-27-9-30-7-32-5-33-3-29-1-34 1-26 3-31 5-30 7-29 9-29 12-20 12-19 13-15 14-12 16-8 14-2 9-2 10 0 9 2 9 5 17 5 8 7 11 18 17 21 15 26 14 24 10 34 10 32 7 37 4 32 2 41 0 33-3 31-5z"/><path fill="#2ec4a5" d="M1692 4389l29-9 23-9 21-11 19-13 16-14 14-16 8-15 5-16 1-15-4-17-8-16-11-15-14-13-21-16-20-11-27-11-23-7-30-8-34-6-29-3-34-1-29 1-34 2-33 6-32 7-25 8-29 12-21 12-18 12-15 15-13 16-7 14-2 8-2 10 0 10 1 9 6 17 4 7 8 12 17 17 21 15 26 14 24 10 34 10 31 7 35 5 32 2 37 0 34-3 39-5z"/><path fill="#31c6a0" d="M1544 4892l29-8 25-9 22-10 20-12 17-13 15-15 11-17 6-15 2-17-2-15-6-17-10-15-14-14-16-12-23-15-23-10-25-9-29-8-28-6-33-4-32-2-28 1-35 2-31 4-28 6-27 8-30 11-21 11-24 15-16 14-13 16-7 14-5 15-1 9 1 9 4 18 4 8 7 11 12 14 20 16 24 14 23 11 32 11 30 7 35 6 29 3 38 1 35-2 33-4z"/><path fill="#31c6a0" d="M1673 4389l27-7 31-11 22-10 20-12 17-13 15-15 11-17 6-15 2-17-2-15-7-17-10-15-13-14-16-12-24-15-23-10-25-9-29-8-34-6-28-3-33-2-33 1-34 2-31 5-28 6-26 8-29 11-21 11-19 13-16 14-13 16-8 14-4 15-1 9 0 9 5 17 3 8 8 12 12 14 19 16 24 14 23 11 32 11 30 8 32 5 31 3 32 1 36-1 32-3z"/><path fill="#35c79a" d="M1561 4882l28-9 23-10 21-11 18-13 15-15 9-12 7-14 5-16 0-14-4-17-8-16-12-14-14-14-22-15-21-11-24-9-27-9-31-7-29-4-28-3-33-1-29 2-31 3-30 5-26 6-27 9-23 9-21 11-18 13-16 14-13 16-7 14-4 16-1 9 1 10 5 16 4 8 8 11 17 18 21 15 26 14 24 9 35 11 33 6 37 4 32 2 36-1 33-3 30-5z"/><path fill="#35c79a" d="M1690 4380l27-9 23-9 21-11 18-13 16-14 13-16 7-14 4-16 1-14-5-17-8-16-11-15-15-13-17-12-21-11-25-11-25-8-30-7-33-5-32-3-30-1-33 1-27 3-29 5-29 7-26 8-23 9-21 11-18 13-16 14-13 16-8 14-4 16 0 9 1 9 5 17 4 8 8 11 16 18 22 15 25 14 24 9 27 9 31 7 36 5 35 2 37 0 34-3 30-4z"/><path fill="#39c895" d="M1541 4883l28-8 24-9 27-13 19-12 17-14 14-15 7-14 5-15 1-16-2-13-7-17-11-15-14-13-21-16-20-11-23-10-27-8-30-8-29-4-33-4-29 0-27 0-33 4-30 5-28 6-25 8-23 10-22 12-18 11-16 15-11 14-8 16-4 16 1 15 5 17 8 16 13 14 19 16 24 14 23 11 26 8 29 8 34 6 33 3 30 1 36-1 32-4z"/><path fill="#39c895" d="M1671 4380l31-9 24-9 22-10 20-12 17-13 14-15 9-13 6-17 2-15-2-13-5-17-10-15-13-14-16-13-24-14-23-10-26-9-24-7-31-5-31-4-29-2-30 1-34 2-31 4-28 7-26 7-24 9-21 11-20 12-16 14-14 16-8 14-5 16 0 10 0 9 5 17 9 16 12 14 20 16 24 14 22 11 26 9 29 7 33 6 37 4 29 1 36-2 32-3z"/><path fill="#3eca8f" d="M1559 4873l26-9 22-10 21-11 17-13 15-15 9-12 7-15 3-16-1-16-4-12-8-16-12-14-16-13-18-12-21-11-24-10-27-8-32-7-27-4-30-2-29 0-34 2-24 3-30 5-27 7-25 8-22 10-21 12-17 12-12 12-12 16-7 14-2 9-1 10 0 9 2 9 7 16 10 15 14 13 21 16 26 13 25 10 28 8 31 7 33 4 37 2 32 0 33-3 30-5z"/><path fill="#3eca8f" d="M1688 4370l24-8 23-9 21-11 18-13 16-14 9-12 9-17 4-15-1-16-4-15-6-12-12-15-14-13-18-12-20-11-24-10-26-9-31-7-26-4-30-3-35-1-27 1-25 3-31 5-27 6-26 8-23 10-21 11-18 12-16 14-10 13-8 16-4 16 0 9 1 9 5 17 5 8 8 11 14 13 21 16 26 14 24 9 27 8 32 7 35 5 32 2 36-1 34-3 30-5z"/><path fill="#44cb89" d="M1538 4873l26-7 24-8 22-11 20-12 17-13 13-14 9-15 5-14 1-15-1-9-2-9-5-12-10-15-14-14-16-12-20-11-23-11-26-9-24-6-30-6-29-3-32-1-27 0-32 3-25 4-28 6-26 8-24 9-21 10-19 13-17 14-13 16-7 14-4 15 0 9 1 9 5 17 10 15 12 14 16 13 25 14 22 10 27 9 30 8 30 5 33 3 30 0 35-1 32-4z"/><path fill="#44cb89" d="M1668 4370l29-8 24-9 22-10 20-12 17-13 13-15 9-14 5-15 1-14-1-9-2-9-5-12-11-15-13-14-17-12-20-11-23-11-26-8-30-8-25-4-29-3-29-2-31 1-31 3-30 4-28 7-25 8-24 9-20 11-16 11-15 13-13 16-7 13-4 16-1 9 1 9 6 17 9 15 13 14 16 13 24 14 23 10 25 9 30 8 33 5 31 3 31 1 36-2 31-4z"/><path fill="#4ccb83" d="M1557 4863l23-8 23-9 20-12 17-13 14-14 9-13 5-11 3-16 0-14-2-8-3-9-7-11-12-14-15-14-18-12-21-10-24-10-28-8-24-5-29-4-28-3-33 0-26 1-25 3-29 5-27 7-25 9-23 10-20 11-16 12-13 12-9 13-7 14-3 16 0 9 1 9 6 17 11 15 13 13 22 16 26 13 24 10 29 8 32 6 29 4 31 2 37-1 33-3 30-5z"/><path fill="#4ccb83" d="M1686 4360l21-6 23-10 21-11 18-13 15-14 10-13 7-14 3-16 0-14-2-8-4-9-6-11-12-15-15-13-19-12-21-10-18-8-27-8-23-5-26-5-31-3-30-1-30 1-30 3-30 5-21 5-25 8-23 10-21 11-18 13-16 14-9 13-7 14-3 16 0 9 1 9 6 17 10 15 14 13 21 16 26 13 24 10 28 8 32 7 32 3 31 2 28 0 33-3 31-5z"/><path fill="#54cc7d" d="M1536 4864l23-7 24-8 22-11 20-12 17-13 10-12 9-14 6-16 1-14-3-15-7-15-11-15-14-13-17-12-21-11-17-8-26-9-23-5-25-5-35-4-30-1-27 1-25 2-30 5-28 6-26 8-23 10-19 10-16 11-15 13-10 13-8 15-4 15 0 15 2 8 3 9 9 15 13 14 16 13 24 14 23 10 26 9 31 7 27 4 33 3 29 1 35-2 32-4z"/><path fill="#54cc7d" d="M1666 4361l26-8 24-8 22-11 20-12 17-13 10-12 8-13 6-15 1-17-2-13-5-12-10-15-13-14-17-12-20-12-23-10-26-9-23-5-25-5-33-3-28-1-29 0-28 3-28 4-28 6-26 8-23 10-18 9-17 11-16 14-9 12-8 16-4 15 0 14 2 9 3 8 9 16 12 14 16 13 24 14 23 10 26 9 30 7 26 5 30 2 35 1 27-1 32-4z"/><path fill="#5ccc76" d="M1555 4854l20-7 23-10 20-12 13-10 15-14 9-13 6-15 3-13-1-14-3-9-3-8-9-13-11-12-15-13-19-12-22-10-19-7-27-8-26-5-27-4-30-2-28 0-28 2-29 4-22 4-27 8-24 8-22 11-15 9-14 10-14 14-9 13-6 13-3 15 1 9 1 9 7 16 11 15 14 13 23 16 21 10 25 10 28 7 25 5 34 4 31 2 27-1 34-2 30-5z"/><path fill="#5ccc76" d="M1684 4351l24-8 23-10 20-12 13-10 15-15 9-12 6-13 2-13 0-7-1-9-3-13-7-12-11-14-16-13-18-12-21-11-18-7-28-8-24-5-26-4-27-3-26 0-30 1-30 3-25 4-21 5-25 8-23 9-21 11-18 13-12 11-9 12-6 9-3 8-3 16 0 9 2 7 5 14 10 15 13 14 21 16 21 11 23 9 28 9 31 7 28 3 31 2 36 0 33-3 30-5z"/><path fill="#64cd6f" d="M1533 4854l21-5 25-9 22-10 19-12 16-14 11-12 7-14 5-15 1-14-3-13-5-12-11-15-14-13-17-13-21-11-18-7-26-9-23-5-25-5-29-3-32-1-27 1-24 3-31 5-20 4-26 8-23 10-21 11-18 13-11 11-9 13-7 13-4 16 1 14 2 8 4 8 9 15 14 14 16 13 20 11 23 10 27 9 31 6 27 4 30 3 28 0 27-1 32-4z"/><path fill="#64cd6f" d="M1663 4351l24-6 25-9 22-11 14-8 17-14 11-11 9-13 6-15 2-14-2-14-5-12-9-16-10-10-16-13-19-11-22-11-26-9-22-5-25-5-28-4-30-1-28 0-31 3-25 3-28 7-26 7-23 10-17 9-17 12-16 14-10 12-6 14-4 15 1 14 2 9 3 8 10 15 13 14 17 13 19 11 23 10 27 9 23 5 25 5 31 3 30 1 35-2 32-4z"/><path fill="#6dcd68" d="M1553 4844l23-9 17-7 20-12 13-10 15-15 8-12 4-12 3-15-1-13-5-13-7-11-12-15-15-12-19-12-23-10-19-7-24-7-27-5-24-4-28-1-24 0-29 1-27 4-22 4-24 6-22 7-18 8-19 11-18 13-11 11-9 13-7 14-3 16 2 14 2 8 4 8 10 15 15 13 17 13 21 10 24 10 28 8 32 7 31 3 30 1 27 0 33-4 30-5z"/><path fill="#6dcd68" d="M1682 4341l21-7 23-10 20-12 13-10 14-15 9-13 4-11 3-15-2-13-4-13-7-12-12-14-12-9-18-12-22-11-18-7-28-8-24-5-27-4-22-2-30 0-26 1-25 3-29 5-21 5-25 8-22 10-15 9-18 13-11 11-10 12-6 15-3 16 1 13 3 9 4 8 10 15 14 13 17 12 21 11 24 10 28 8 24 5 30 5 31 2 28-1 34-2 30-5z"/><path fill="#76cc61" d="M1530 4845l26-7 24-9 21-11 14-9 12-11 13-14 7-12 4-14 1-12-2-13-5-12-10-15-14-14-18-12-20-11-18-7-27-9-23-5-26-4-27-3-27 0-27 1-26 2-23 4-21 5-25 8-23 9-16 9-16 11-14 12-10 12-7 14-4 16 1 15 4 13 10 15 9 11 16 13 19 11 23 10 26 9 22 6 26 4 33 4 30 0 26-1 32-3z"/><path fill="#76cc61" d="M1661 4342l22-6 24-9 22-10 14-9 17-14 11-12 8-13 4-12 2-15-2-13-5-12-11-15-10-11-17-12-19-11-18-8-26-9-22-5-26-5-28-3-25-1-28 0-25 3-30 4-21 5-26 8-23 9-16 9-16 10-14 13-10 12-7 14-4 16 1 15 4 13 9 15 10 11 16 12 18 12 23 10 26 9 22 6 27 5 34 3 29 1 27-1 32-4z"/><path fill="#7fcc5a" d="M1551 4834l21-7 16-8 20-12 13-10 11-11 9-13 5-13 2-13-1-11-4-13-6-12-12-14-12-10-18-12-21-10-19-7-20-6-24-6-26-4-30-2-25 0-29 1-24 3-22 4-21 5-25 9-22 10-15 8-14 10-11 11-10 13-7 13-3 14 1 16 6 15 10 15 14 13 17 12 21 11 24 10 29 8 25 5 35 4 30 1 26-1 33-4 29-5z"/><path fill="#7fcc5a" d="M1680 4331l25-9 16-7 20-12 13-10 11-11 8-13 6-13 2-13-1-11-4-13-6-12-13-14-11-10-18-12-22-10-19-7-20-6-24-6-27-3-27-3-28 0-27 2-24 2-22 4-21 5-25 9-22 10-15 8-14 10-12 11-10 13-6 13-3 14 1 15 5 16 11 15 13 13 18 12 20 11 25 10 28 8 24 5 28 3 33 2 26-1 31-3 30-5z"/><path fill="#88cb53" d="M1528 4835l23-6 18-7 22-10 14-9 13-10 11-12 9-13 5-15 1-11-2-14-6-14-8-12-10-10-16-12-20-12-17-7-20-7-28-7-25-5-23-2-30-1-27 1-25 2-23 4-21 4-25 8-18 7-19 10-16 11-12 10-10 12-8 13-4 16 1 14 3 12 9 16 10 11 15 12 19 12 23 10 26 9 23 5 26 5 30 2 29 1 26-2 32-3z"/><path fill="#88cb53" d="M1658 4332l26-7 18-7 22-10 14-9 13-11 11-11 8-13 6-15 1-11-2-14-6-15-8-11-10-10-17-13-20-11-17-7-20-7-26-7-26-4-23-3-30-1-27 1-25 2-22 4-22 4-25 8-18 7-19 10-16 10-12 11-10 12-8 13-4 15 0 15 4 12 9 16 9 10 16 13 19 12 22 10 27 9 22 5 26 5 30 2 30 1 27-1 24-3z"/><path fill="#91ca4c" d="M1552 4823l20-8 17-8 18-12 12-11 10-12 6-9 4-11 1-15-2-13-5-12-8-11-14-14-17-12-15-8-18-8-19-7-22-5-24-5-23-3-21-1-29 0-19 1-30 4-21 4-25 7-20 8-16 7-18 10-15 12-10 12-8 13-4 10-2 6 0 10 2 13 6 12 10 15 15 13 18 12 22 11 26 9 30 7 26 4 22 2 30 1 26-1 32-4 29-6z"/><path fill="#91ca4c" d="M1680 4321l20-7 21-11 15-9 12-10 11-12 6-8 6-15 2-11-1-14-5-12-7-12-9-10-13-12-16-10-22-11-19-6-21-6-24-5-28-4-21-1-24-1-24 1-24 3-22 4-21 5-19 6-23 9-16 9-13 9-14 13-10 13-6 12-3 15 1 14 4 12 10 15 14 14 17 12 21 11 24 10 29 7 25 5 29 3 24 1 27 0 33-4 29-5z"/><path fill="#9ac945" d="M1525 4826l21-6 18-7 22-10 14-9 13-11 10-11 8-14 4-12 1-15-3-12-6-12-8-11-11-10-17-13-16-8-17-7-20-7-25-6-22-4-26-3-26-1-21 1-26 2-23 3-21 5-26 8-17 7-17 9-17 11-13 11-9 11-6 12-4 14 0 12 5 15 7 13 9 10 16 13 19 12 23 10 26 8 24 6 26 4 25 2 29 0 26-2 24-3z"/><path fill="#9ac945" d="M1656 4322l23-6 18-7 22-10 14-9 13-11 10-11 8-14 4-12 1-15-3-13-6-12-9-10-10-11-18-12-15-8-18-8-19-6-24-6-24-4-24-3-20-1-28 1-23 2-25 3-22 5-26 8-17 7-17 8-17 11-13 12-9 11-6 12-4 13 0 13 4 15 8 12 9 11 15 13 19 12 23 10 27 9 23 5 26 4 27 2 28 0 26-1 24-4z"/><path fill="#a3c83f" d="M1510 4824l21-5 19-6 23-9 16-9 13-9 12-11 9-12 7-14 2-14-1-14-5-12-7-11-10-11-13-10-18-11-17-8-19-7-24-6-22-4-27-4-23-1-25 1-26 2-23 3-21 5-20 5-24 9-16 8-14 10-12 10-10 12-8 13-4 14 1 14 4 13 6 12 9 10 16 13 19 12 17 7 19 7 21 6 25 5 28 3 28 1 27-1 24-2z"/><path fill="#a3c83f" d="M1683 4309l17-7 16-8 15-9 12-10 10-12 7-12 4-12 1-12-2-10-5-12-7-12-10-10-12-10-19-11-17-8-19-7-22-6-24-4-26-3-20-1-19-1-26 2-24 3-22 4-21 5-24 9-17 8-14 8-13 10-12 12-6 9-6 13-2 14 1 13 5 13 11 15 14 13 18 12 22 10 19 7 29 8 26 4 28 3 25 0 31-1 23-3 29-6z"/><path fill="#acc738" d="M1524 4816l24-7 17-7 16-8 14-9 13-11 10-12 7-13 3-11 0-12-2-10-6-13-8-11-10-10-18-12-15-8-18-8-19-6-23-6-25-4-22-2-21-1-27 1-24 2-23 4-20 5-20 6-23 10-15 8-14 10-11 11-8 9-6 13-3 15 1 13 5 13 7 11 10 10 16 13 20 11 18 8 20 6 23 6 26 4 30 2 28 0 26-2 23-3z"/><path fill="#acc738" d="M1654 4313l20-6 24-9 16-8 14-10 12-10 10-12 8-13 2-11 1-12-3-11-5-12-8-11-11-10-17-12-16-8-17-8-20-6-21-5-26-4-22-3-22 0-27 0-23 3-23 3-20 5-20 6-23 10-15 8-14 10-11 11-8 9-6 12-3 15 1 14 5 13 7 11 10 10 16 13 20 11 17 8 20 6 23 6 26 4 30 2 30 0 25-2 23-3z"/><path fill="#b4c533" d="M1508 4815l24-7 19-6 17-7 15-9 14-9 11-11 9-12 5-11 2-11-1-12-2-10-7-12-9-11-11-10-18-11-16-8-18-8-21-6-20-4-25-3-21-2-29 0-25 1-24 4-21 4-20 6-24 9-15 8-15 9-12 11-8 9-7 12-3 11-1 15 4 12 6 12 9 11 11 10 18 12 16 8 19 7 21 6 24 5 28 3 23 1 27 0 25-2z"/><path fill="#b4c533" d="M1639 4311l26-7 19-6 17-7 15-9 14-10 11-11 9-11 4-11 3-11-1-12-3-10-6-12-9-11-11-10-18-12-16-8-19-7-21-6-19-4-24-3-22-2-28 0-26 2-24 3-21 4-20 6-24 9-16 8-14 9-12 11-8 9-7 12-3 11-1 14 3 13 7 12 8 11 12 10 18 12 16 8 25 9 21 5 26 5 19 2 24 2 27-1 25-2z"/><path fill="#bdc42f" d="M1522 4806l21-6 17-7 16-8 14-10 12-10 9-12 6-12 3-10 0-10-3-13-6-11-9-11-11-10-13-9-16-8-17-8-21-6-19-5-21-3-20-2-25-1-23 0-21 2-23 4-20 5-20 6-17 7-16 8-14 9-12 11-9 12-6 11-3 11 1 14 4 12 7 12 10 10 16 13 20 11 18 7 20 7 23 5 27 4 25 1 28 0 25-2 23-3z"/><path fill="#bdc42f" d="M1653 4303l23-7 17-7 16-8 14-10 12-10 9-12 5-10 3-10 1-12-3-13-6-12-9-10-11-10-14-9-15-9-18-7-20-6-18-4-23-4-24-2-20-1-27 1-24 2-23 4-20 5-19 7-17 7-15 9-13 9-12 11-6 9-5 11-3 10 1 14 4 13 7 12 9 10 16 13 20 11 18 7 20 7 24 5 21 3 26 2 25 1 25-2 24-3z"/><path fill="#c4c22a" d="M1506 4805l21-6 19-6 17-7 15-9 14-10 11-11 6-10 5-11 2-13-1-11-5-12-5-8-10-10-11-10-14-9-17-8-18-7-22-6-16-3-24-3-24-2-25 0-18 1-23 3-22 5-20 5-18 7-16 8-15 9-12 10-11 12-6 11-3 13 0 12 2 9 6 12 8 11 11 10 19 11 16 8 19 7 21 6 25 5 26 3 26 1 21-1 25-3z"/><path fill="#c4c22a" d="M1637 4301l23-6 19-6 17-7 15-9 13-10 11-11 7-10 5-11 2-13-2-11-3-8-7-12-9-10-12-10-14-9-16-8-19-7-21-6-16-3-24-3-25-2-24 0-18 1-23 3-22 5-20 5-18 7-16 8-15 9-13 10-10 12-6 11-4 13 0 12 3 9 5 12 9 10 11 10 18 12 16 8 19 7 22 6 24 5 27 3 25 1 22-1 25-3z"/><path fill="#ccc028" d="M1522 4796l16-5 17-7 16-8 14-10 11-11 8-10 5-11 3-10-1-10-3-13-5-9-8-9-10-10-14-9-15-9-18-7-21-6-15-4-25-4-22-1-24-1-22 1-38 6-21 5-19 6-17 8-15 8-13 10-7 8-8 10-5 11-3 12 1 12 5 13 8 11 10 10 17 13 16 8 18 7 20 6 24 5 27 3 20 2 19-1 26-1 23-4z"/><path fill="#ccc028" d="M1653 4292l17-5 18-7 16-8 14-10 11-11 8-10 5-11 2-11 0-9-3-13-6-9-7-10-11-10-13-9-16-8-18-7-20-6-16-4-24-3-22-2-25-1-21 1-38 6-21 5-19 6-17 8-15 8-13 10-7 8-8 9-6 12-2 12 1 12 5 13 7 11 10 10 18 12 15 9 18 7 21 6 23 5 28 4 21 1 27-1 17-1 23-4z"/><path fill="#d3bf27" d="M1505 4795l17-5 19-6 17-7 15-9 13-10 7-7 9-12 4-11 2-11-2-13-4-10-7-9-10-11-12-9-15-9-16-7-20-6-16-4-25-5-20-2-40 0-17 1-24 3-21 5-19 6-18 7-15 8-14 10-8 7-8 10-6 11-3 11 0 12 3 10 6 12 10 11 11 9 14 9 17 8 19 7 22 6 24 4 21 2 23 1 25-1 24-3z"/><path fill="#d3bf27" d="M1636 4291l19-5 19-6 17-7 15-9 13-10 7-8 9-12 4-10 1-11-2-13-4-10-6-10-7-7-11-9-14-9-17-8-19-7-14-4-19-4-24-3-21-1-25 0-20 1-23 3-22 5-19 6-18 7-15 8-14 10-8 7-8 9-6 12-3 11 0 12 3 10 6 12 9 11 12 9 14 9 16 8 19 7 22 6 25 4 20 2 23 1 26-1 24-3z"/><path fill="#dabd28" d="M1524 4784l14-4 17-8 15-9 9-6 11-11 6-9 5-10 2-11-1-12-3-10-5-7-9-11-11-10-14-8-17-8-13-5-17-5-19-4-38-5-23 0-18 0-16 2-23 4-33 9-18 7-16 8-13 10-8 7-9 12-5 10-2 11 1 12 3 10 8 12 10 10 17 12 15 8 19 7 21 7 23 4 20 2 23 2 25-1 19-2 23-3z"/><path fill="#dabd28" d="M1655 4281l16-6 17-7 15-9 9-6 11-11 6-9 5-11 2-10-1-12-4-10-4-8-9-10-12-10-14-9-16-7-13-5-17-5-20-4-38-5-40 1-16 1-23 4-34 9-17 7-16 8-13 10-8 7-9 11-5 10-2 12 1 12 3 10 7 11 10 11 17 12 16 8 18 7 21 7 25 4 22 3 21 1 23-1 20-2 23-3z"/><path fill="#e1bc2b" d="M1505 4784l19-5 18-6 16-8 10-6 8-7 11-11 7-10 4-11 1-10-1-9-3-8-7-11-6-7-12-10-14-9-17-8-19-7-14-3-16-4-24-3-20-1-19 0-17 1-24 3-35 9-18 6-16 8-14 9-8 7-10 11-5 10-3 11-1 11 3 9 6 12 8 10 12 10 14 9 17 8 19 6 23 6 19 3 22 2 20 1 26-2 16-1z"/><path fill="#e1bc2b" d="M1636 4281l20-6 19-6 16-8 9-6 9-7 11-11 6-9 4-9 2-12-1-10-3-8-7-12-7-7-11-9-14-9-17-8-19-7-15-3-16-4-22-3-21-1-20 0-24 2-16 2-16 3-19 5-18 7-16 8-14 9-8 7-10 11-6 10-3 10 0 12 2 9 6 11 9 11 12 10 14 9 16 8 20 6 14 4 25 5 19 2 23 1 21-1 24-2z"/><path fill="#e7bb2e" d="M1491 4782l17-4 19-5 12-5 16-8 10-6 12-10 10-12 5-9 2-9 1-9-2-9-6-12-6-8-10-10-13-9-16-8-15-6-18-5-15-3-24-4-21-1-19-1-17 1-24 3-15 3-20 5-18 7-16 8-11 7-11 9-7 8-7 11-3 11 0 10 1 8 6 12 6 8 10 10 14 9 16 8 12 5 20 6 24 5 19 2 21 1 24 0 16-1z"/><path fill="#e7bb2e" d="M1623 4278l18-4 19-6 12-4 16-8 10-6 12-10 10-12 5-10 2-8 0-10-2-8-5-12-6-8-11-10-13-9-16-8-13-5-19-6-16-3-22-4-22-1-19-1-17 1-24 3-15 3-20 5-18 7-16 8-11 7-12 9-6 8-7 11-3 11-1 9 2 9 6 12 5 7 11 11 13 9 16 8 18 7 14 4 24 5 19 2 21 2 25-1z"/><path fill="#edba33" d="M1506 4773l18-5 12-5 16-8 10-6 12-10 7-8 5-9 4-10 0-12-3-10-4-8-8-10-8-7-13-9-16-8-12-5-21-6-15-4-18-2-19-2-20 0-20 1-36 5-14 3-18 7-17 7-10 6-11 8-8 7-8 11-4 8-2 12 1 12 5 11 6 8 11 10 13 10 16 8 12 4 21 7 16 3 18 3 20 1 24 0 19-1 16-2z"/><path fill="#edba33" d="M1637 4270l14-4 18-7 16-8 10-6 12-10 7-8 5-9 3-9 1-10-2-9-4-11-6-8-7-7-13-9-15-9-11-5-15-5-20-5-36-5-36-1-18 1-23 3-15 4-19 5-17 7-11 6-14 9-8 7-7 9-6 12-2 10 0 9 3 9 6 12 6 7 12 9 14 9 16 8 20 7 15 3 23 4 22 2 26 0 19-1 16-2z"/><path fill="#f2ba38" d="M1492 4771l30-8 12-4 16-8 13-10 8-7 7-8 5-9 2-10 0-9-3-12-5-9-6-7-11-10-14-9-11-5-19-7-15-4-34-5-20-2-19 0-23 2-18 3-14 3-20 5-17 7-11 6-13 9-8 8-7 8-4 8-3 11 0 9 3 12 5 8 6 8 12 9 9 6 16 8 12 5 21 6 34 6 21 1 26 0 17-2z"/><path fill="#f2ba38" d="M1624 4267l31-8 11-4 16-8 14-10 8-7 7-8 5-9 2-10 0-10-3-12-5-8-6-7-12-10-14-9-11-5-19-7-14-4-34-5-20-2-19 0-24 2-17 2-14 3-20 6-17 7-11 6-14 9-7 7-7 8-5 9-3 10 1 10 3 12 5 8 6 7 11 10 9 6 16 8 12 5 21 6 35 6 20 1 19 0 25-2z"/><path fill="#f8ba3d" d="M1510 4761l26-9 16-9 8-6 8-8 6-8 5-10 2-10-1-9-2-8-5-8-9-11-8-6-14-9-23-10-14-4-21-5-32-3-21 0-17 1-31 4-16 4-17 5-14 7-13 7-8 6-8 8-6 8-5 9-2 11 1 9 3 8 7 12 10 10 13 9 11 6 18 7 21 6 17 3 18 2 21 1 19 0 24-3z"/><path fill="#f8ba3d" d="M1641 4258l17-6 11-5 15-8 9-7 8-7 6-8 5-10 2-10-1-9-3-9-4-7-10-11-7-6-15-9-23-10-14-4-20-5-33-3-20 0-17 1-31 4-18 4-15 5-14 6-13 8-9 6-7 8-7 8-4 9-2 11 1 9 2 8 8 12 10 10 13 9 10 5 18 8 22 6 16 3 20 2 20 1 27-1 16-2z"/><path fill="#fcbc3d" d="M1494 4760l28-8 17-8 10-6 8-6 9-9 5-7 4-11 1-10-1-7-3-10-5-7-7-7-12-10-10-5-14-7-16-5-15-4-28-5-19-1-20 0-33 4-14 3-20 5-17 7-11 6-9 6-8 7-7 8-5 10-3 9 0 10 3 9 4 8 6 7 11 10 9 6 16 8 20 7 14 3 17 3 19 2 22 1 18-1 16-1z"/><path fill="#fcbc3d" d="M1625 4256l30-8 17-8 9-6 9-7 8-7 6-8 4-10 1-11-1-7-4-10-5-7-6-7-13-10-9-6-14-6-24-7-16-4-19-3-19-1-20 0-33 4-14 3-20 5-18 7-10 6-9 6-8 7-7 8-6 9-2 10 0 10 2 9 5 8 5 7 12 10 9 6 16 8 19 6 15 4 16 3 20 2 22 1 18-1 16-2z"/><path fill="#febf3b" d="M1482 4757l18-4 13-4 12-4 16-9 9-6 8-7 7-8 4-9 2-7 0-9-2-9-4-8-5-7-8-7-13-9-10-5-25-10-15-3-19-4-22-1-19 0-33 3-28 6-18 7-11 5-10 6-8 7-7 7-7 10-3 10 0 10 2 8 4 8 6 8 7 6 8 7 15 8 19 7 14 4 16 3 18 3 33 1 17-1z"/><path fill="#febf3b" d="M1614 4253l19-4 13-4 12-5 16-8 9-6 8-7 6-8 5-9 2-7 0-10-2-8-4-8-6-7-7-7-13-9-11-6-25-9-15-3-18-3-22-2-19 0-33 3-28 6-18 7-11 5-10 6-8 7-8 7-6 9-3 11 0 10 2 8 4 8 5 7 7 7 9 6 15 9 18 7 14 4 16 3 19 3 33 1 17-2z"/><path fill="#fec339" d="M1498 4748l18-6 12-5 10-5 9-7 8-7 6-8 3-6 2-9 1-6-2-9-4-8-5-8-7-6-14-9-22-11-25-7-31-4-33 0-32 3-27 7-17 8-11 5-9 7-8 7-6 8-3 6-2 10 0 10 3 8 5 8 6 7 12 9 15 8 12 5 29 8 18 3 21 1 21 0 17-1z"/><path fill="#fec339" d="M1630 4244l13-4 17-7 11-6 9-6 8-7 6-8 3-7 2-8 0-7-1-8-4-8-6-8-7-6-13-10-22-10-29-8-32-3-28-1-32 4-27 7-18 7-10 6-9 6-8 8-6 8-3 6-3 10 1 9 3 9 4 7 7 7 12 10 15 8 12 5 29 8 17 3 21 1 22 0 17-1z"/><path fill="#fec636" d="M1485 4745l28-8 22-10 9-7 7-7 6-9 3-6 2-9-1-7-2-7-5-8-6-7-8-7-14-9-11-5-27-8-31-4-30-1-32 4-27 7-23 9-9 6-9 7-6 8-5 9-2 8 0 9 2 8 5 8 6 7 8 7 9 6 16 8 28 8 30 4 31 1 15-1z"/><path fill="#fec636" d="M1617 4241l17-4 12-4 21-11 9-6 8-7 6-9 3-7 1-8 0-7-3-8-4-7-6-7-8-7-14-9-11-5-28-8-30-4-31-1-31 3-27 7-23 10-9 6-9 7-7 8-4 9-2 7 0 10 2 8 5 8 6 7 7 7 10 5 16 8 27 9 31 4 30 1 16-2z"/><path fill="#feca33" d="M1475 4741l29-7 22-9 10-7 8-7 7-8 3-6 2-8 0-7-2-9-4-7-6-8-8-6-9-6-10-5-13-5-14-4-29-5-30-1-31 3-16 3-13 4-22 10-10 6-8 7-7 8-2 4-3 7 0 10 2 9 4 7 6 8 8 6 9 6 11 6 12 4 14 4 29 5 30 1z"/><path fill="#feca33" d="M1607 4237l30-7 22-10 10-6 8-7 6-8 4-6 2-9 0-6-2-9-4-8-6-7-8-6-9-6-11-6-12-4-14-4-29-5-30-1-31 3-29 7-23 9-9 7-8 7-7 8-2 4-3 7 0 10 2 9 3 7 7 8 8 6 9 6 10 5 12 5 14 4 30 5 30 1z"/><path fill="#fdce31" d="M1493 4732l14-5 11-5 10-5 9-7 6-7 4-6 3-6 1-9-1-6-2-8-5-7-6-6-14-10-11-6-12-4-22-6-28-3-25 0-30 4-27 7-11 5-10 6-9 7-6 6-4 6-2 6-2 9 1 6 3 8 5 8 6 7 13 9 11 5 12 5 15 4 16 3 31 2 28-2z"/><path fill="#fdce31" d="M1625 4228l20-7 11-6 9-6 12-11 5-9 2-7 0-5-2-9-4-8-6-7-7-6-9-6-17-8-27-8-24-3-31 0-30 4-20 5-12 4-10 6-10 6-8 7-6 8-2 5-2 7 0 10 3 8 5 7 7 7 8 7 10 5 12 5 13 5 15 3 18 3 15 1 19 0 16-2z"/><path fill="#fbd22f" d="M1481 4729l22-7 11-5 10-6 9-6 7-8 5-12 0-5-1-9-6-11-6-7-9-7-18-9-24-7-27-4-32 0-24 3-20 5-12 5-11 5-14 11-6 7-3 6-2 9 0 6 2 8 3 4 5 8 8 6 9 6 11 5 12 5 15 4 27 4 31 0z"/><path fill="#fbd22f" d="M1613 4225l23-7 11-5 10-6 12-10 6-9 2-5 1-5 0-6-2-9-5-7-7-7-8-7-18-9-25-7-27-4-31 0-24 3-20 5-12 5-11 5-14 11-6 7-3 6-2 9 0 6 2 7 2 5 6 7 7 7 9 6 11 5 13 5 14 4 27 4 14 0 18 0z"/><path fill="#fad62d" d="M1473 4724l21-5 11-4 11-6 9-6 6-6 4-6 3-6 1-5 0-9-1-5-5-7-10-11-9-6-11-5-24-7-24-4-29 0-23 2-22 6-11 4-11 6-13 10-6 8-3 5-1 6 0 9 1 5 5 7 6 7 9 7 15 8 20 6 28 5 29 0z"/><path fill="#fad62d" d="M1605 4220l21-5 12-5 11-5 9-6 5-6 5-6 3-6 1-5 0-10-2-4-4-8-10-10-9-6-11-5-24-7-24-4-29 0-24 2-21 6-12 4-10 6-13 10-7 8-2 4-2 7 1 9 1 4 5 8 6 7 8 6 16 9 24 7 24 4 29 0z"/><path fill="#f8da2b" d="M1466 4719l24-5 17-7 14-10 6-6 4-6 3-10-2-9-3-6-4-6-7-7-14-8-19-7-25-5-21-1-29 2-25 5-17 8-14 9-6 6-4 6-2 11 1 9 3 6 4 5 7 7 14 8 19 7 25 5 21 2z"/><path fill="#f8da2b" d="M1598 4215l18-3 19-7 15-8 11-12 5-10 0-5-1-9-3-6-4-5-12-10-15-8-13-4-12-3-24-3-28 0-23 4-13 3-12 5-10 5-9 7-6 6-4 6-3 11 2 8 2 6 5 6 7 7 14 8 19 7 24 5 22 2z"/><path fill="#f6de29" d="M1460 4714l19-4 19-6 15-9 7-7 6-9 1-5 0-7-4-10-10-10-9-6-11-6-21-6-28-3-26 1-22 4-13 4-11 5-14 10-5 6-3 6-2 6 0 6 4 11 10 10 15 9 19 6 24 5 20 0z"/><path fill="#f6de29" d="M1592 4210l20-4 19-6 15-9 7-7 5-9 2-6 0-6-4-10-10-11-9-6-12-5-21-6-27-3-26 1-23 4-12 4-11 5-14 10-5 6-4 6-1 6 0 6 2 6 2 4 10 11 14 8 19 7 25 5 20 0z"/><path fill="#f5e227" d="M1482 4703l17-7 12-9 7-10 2-5 0-6-1-6-2-4-9-10-10-7-17-7-19-4-22-2-20 1-20 4-19 6-10 6-8 7-4 6-3 5-1 8 1 6 2 4 6 8 13 9 18 7 24 5 22 1 20-1z"/><path fill="#f5e227" d="M1614 4199l18-8 12-8 7-10 2-5 0-6-1-6-2-4-10-10-14-9-13-5-18-4-22-2-21 1-19 4-19 6-10 6-8 7-5 5-2 6-1 8 1 6 2 4 6 8 12 9 18 7 19 4 22 2 26-2z"/><path fill="#f5e626" d="M1477 4697l12-5 14-9 7-8 2-4 1-6-2-9-6-8-12-9-12-5-14-4-21-2-23 0-19 3-18 7-10 5-8 7-5 10-1 5 1 5 2 4 5 8 13 9 11 5 23 5 21 2 18-1z"/><path fill="#f5e626" d="M1609 4193l13-5 14-9 7-8 2-6 1-4-3-9-5-8-13-9-11-5-15-4-20-3-23 1-19 3-18 6-10 6-8 7-5 9-1 6 1 5 1 4 6 7 12 10 12 5 23 5 20 2 19-2z"/><path fill="#f5ea24" d="M1450 4695l16-2 12-4 11-5 9-7 5-7 2-7-1-7-5-8-4-3-9-6-12-5-21-5-20 0-16 1-20 5-16 9-4 4-5 6-2 7 2 8 5 7 3 4 9 5 12 5 15 4 16 2z"/><path fill="#f5ea24" d="M1582 4191l16-2 13-4 11-6 9-6 5-7 1-7-1-7-5-8-3-3-9-6-12-5-21-5-20-1-16 2-21 5-15 9-4 3-5 7-2 7 1 7 5 8 4 3 9 6 12 5 15 4 16 2z"/><path fill="#f5ee21" d="M1450 4688l10-2 13-4 11-5 8-7 2-4 2-5-1-5-1-4-6-7-9-6-15-6-14-2-19-1-16 2-18 7-10 6-6 8-2 5 2 9 6 7 9 6 13 4 15 4 12 0z"/><path fill="#f5ee21" d="M1582 4184l11-2 13-4 10-5 8-7 3-5 1-5 0-4-2-4-5-7-10-6-14-6-14-2-19-1-16 2-19 7-9 6-6 7-2 6 2 8 6 8 9 6 12 4 16 3 11 1z"/><path fill="#f6f020" d="M1453 4679l13-4 6-2 5-3 7-8 1-5-3-8-3-4-9-6-6-2-15-4-11 0-16 1-7 2-12 4-5 3-7 8-1 5 3 8 7 7 5 3 6 2 16 3 10 1z"/><path fill="#f6f020" d="M1585 4175l8-2 12-5 5-3 6-7 2-6-3-7-3-4-9-6-13-4-9-2-11 0-15 1-7 1-12 5-5 3-7 8-1 5 2 8 8 7 5 2 6 3 15 3 11 1z"/><path fill="#f6f01f" d="M1455 4678l17-6 5-3 6-8 1-5-2-7-3-4-9-6-13-4-9-2-11 0-15 1-7 2-12 4-8 7-3 4-1 6 2 7 3 3 9 6 6 3 16 3 11 1z"/><path fill="#f6f01f" d="M1587 4174l12-3 5-3 5-3 7-8 1-5-2-7-3-4-10-6-13-4-8-2-11 0-15 1-7 1-12 5-9 7-2 4-2 5 3 8 3 3 9 6 6 3 16 3 11 1z"/><path fill="#f6f21e" d="M1445 4676l12-2 6-2 6-2 7-6 4-6 0-5-2-4-3-3-9-6-6-3-17-3-10 0-8 1-13 3-11 6-3 4-3 4 0 5 2 4 7 7 11 5 8 2 9 1z"/><path fill="#f6f21e" d="M1577 4172l13-2 6-2 6-3 7-5 4-6 0-5-2-4-3-4-9-6-6-2-17-3-10 0-8 1-14 3-10 6-3 4-3 4 0 7 5 6 4 3 11 5 7 2 10 1z"/><path fill="#f7f31d" d="M1454 4672l12-5 5-3 4-5 1-5-1-4-3-4-9-6-16-4-19 0-8 1-11 5-5 3-4 5-1 5 1 4 3 4 9 6 16 4 11 1z"/><path fill="#f7f31d" d="M1586 4168l13-5 5-3 4-5 1-5-2-5-2-3-9-6-16-4-19 0-8 1-12 5-4 3-4 5-1 5 1 4 3 4 9 6 16 4 11 1z"/><path fill="#f7f41c" d="M1443 4671l15-4 10-6 4-6-1-5-2-4-9-5-7-3-8-1-12 0-16 3-10 6-3 4 0 7 3 4 3 3 6 3 8 2z"/><path fill="#f7f41c" d="M1575 4167l16-4 10-6 4-6-1-5-3-4-9-6-6-2-9-1-12 0-15 3-10 6-3 4 0 7 2 4 4 3 5 3 9 2z"/><path fill="#f7f41c" d="M1454 4666l7-4 4-3 3-5-1-3-2-4-3-3-6-3-7-2-9-1-14 1-12 5-4 3-2 3 0 5 2 4 4 3 5 3 7 2 9 1 14-1z"/><path fill="#f7f41c" d="M1586 4162l8-4 4-3 2-5 0-3-2-4-4-3-5-3-7-2-9-1-15 1-11 4-4 4-2 3-1 5 2 4 4 3 6 3 7 2 9 1 6 0z"/><path fill="#f7f51b" d="M1441 4665l12-2 6-3 3-4 2-4-2-4-4-4-5-2-7-2-10-1-8 1-6 2-6 3-3 3-1 6 1 3 4 3 11 4z"/><path fill="#f7f51b" d="M1573 4161l13-2 5-3 4-4 1-4-1-4-4-4-5-2-8-2-9-1-8 1-6 2-6 3-4 3-1 6 2 3 4 3 11 4z"/><path fill="#f7f61a" d="M1434 4663l10-1 7-1 5-3 3-4 0-5-4-4-6-2-8-2-10 0-7 2-5 3-3 4 1 5 3 4 6 2z"/><path fill="#f7f61a" d="M1567 4159l10-1 7-1 5-3 3-4-1-6-3-3-6-3-10-1-8 0-7 2-5 3-4 5 1 4 4 3 5 3z"/><path fill="#f8f61a" d="M1439 4660l9-2 5-2 2-7-3-3-6-2-10-1-9 1-6 4-1 5 4 4 5 2z"/><path fill="#f8f61a" d="M1572 4156l9-2 5-3 2-6-4-3-5-3-10-1-9 2-6 4-1 5 3 4 6 2z"/><path fill="#f8f719" d="M1433 4657l5 1 8-1 4-4 1-2-2-4-7-2-5-1-8 2-4 3-1 3 3 3z"/><path fill="#f8f719" d="M1566 4153l5 1 8-2 4-3 1-3-3-3-6-2-6-1-7 1-4 4-1 2 2 4z"/><path fill="#f8f719" d="M1438 4656l5-1 4-3 0-1-2-3-7-2-6 1-3 3-1 1 2 3z"/><path fill="#f8f719" d="M1570 4151l6-1 3-2 1-1-2-3-8-2-5 1-4 2 0 2 2 3z"/><path fill="#f8f719" d="M1434 4652l6 0 1-3-6 0z"/><path fill="#f8f719" d="M1567 4148l6 0 1-3-6 0z"/></g></g><g font-family="Liberation Sans, sans-serif" fill="#262626"><text transform="translate(141.9 549.7) scale(.94 1)" text-anchor="start" font-size="13.2" >0</text><text transform="translate(125.6 547.8) scale(.94 1)" text-anchor="end" font-size="13.2" >0</text><text transform="translate(213.2 522.3) scale(.94 1)" text-anchor="start" font-size="13.2" >0.5</text><text transform="translate(70.9 512.1) scale(.94 1)" text-anchor="end" font-size="13.2" >0.5</text><text transform="translate(285.5 495.0) scale(.94 1)" text-anchor="start" font-size="13.2" >1</text><text transform="translate(16.1 476.5) scale(.94 1)" text-anchor="end" font-size="13.2" >1</text><text transform="translate(16.7 459.5) scale(.94 1)" text-anchor="end" font-size="13.2" >0</text><text transform="translate(16.7 445.4) scale(.94 1)" text-anchor="end" font-size="13.2" >0.1</text><text transform="translate(16.7 429.7) scale(.94 1)" text-anchor="end" font-size="13.2" >0.2</text></g><text transform="translate(212.4 550.1) scale(1.12 1)" font-family="Liberation Serif, serif" font-style="italic" font-size="14" fill="#262626" text-anchor="middle">x<tspan font-style="normal" font-size="10" dy="2.5">1</tspan></text><text transform="translate(64.1 545.6) scale(1.12 1)" font-family="Liberation Serif, serif" font-style="italic" font-size="14" fill="#262626" text-anchor="middle">x<tspan font-style="normal" font-size="10" dy="2.5">2</tspan></text><line x1="468.80" y1="531.30" x2="611.44" y2="476.57" stroke="#262626" stroke-width="0.80"/><line x1="468.80" y1="531.30" x2="359.34" y2="459.98" stroke="#262626" stroke-width="0.80"/><line x1="359.34" y1="459.98" x2="359.34" y2="428.58" stroke="#262626" stroke-width="0.80"/><line x1="468.80" y1="531.30" x2="472.07" y2="533.43" stroke="#262626" stroke-width="0.80"/><line x1="468.80" y1="531.30" x2="465.16" y2="532.70" stroke="#262626" stroke-width="0.80"/><line x1="540.12" y1="503.94" x2="543.39" y2="506.07" stroke="#262626" stroke-width="0.80"/><line x1="414.07" y1="495.64" x2="410.43" y2="497.04" stroke="#262626" stroke-width="0.80"/><line x1="611.44" y1="476.57" x2="614.71" y2="478.70" stroke="#262626" stroke-width="0.80"/><line x1="359.34" y1="459.98" x2="355.70" y2="461.37" stroke="#262626" stroke-width="0.80"/><line x1="359.34" y1="459.98" x2="355.66" y2="457.58" stroke="#262626" stroke-width="0.80"/><line x1="359.34" y1="444.28" x2="355.66" y2="441.87" stroke="#262626" stroke-width="0.80"/><line x1="359.34" y1="428.58" x2="355.66" y2="426.17" stroke="#262626" stroke-width="0.80"/><clipPath id="c4"><path transform="scale(.1)" d="M5068 5148l60-24 59-21 54-18 167-54 65-22 65-24 154-58 422-161-323-211-123-82-96-67-160-116-64-43-64-40-164-95-50-30-50-31-65 24-66 22-214 70-41 14-42 16-42 16-41 18-208 92-60 25-65 27-161 63-422 162 324 211 123 78 51 31 45 28 160 92 64 39 63 44 165 119 50 35 50 35 65-27 66-28 184-81z"/></clipPath><g clip-path="url(#c4)"><g transform="scale(.1)" fill-rule="evenodd"><path fill="#3e28ac" d="M4688 5312l131-55 214-94 83-34 83-30 208-68 125-43 160-61 422-161-323-211-123-82-96-67-160-116-64-43-64-40-164-95-100-61-131 46-214 70-83 30-83 34-208 92-125 52-161 63-422 162 324 211 123 78 96 59 160 92 64 39 63 44 165 119z"/><path fill="#402ab4" d="M4740 5285l11 1 2-1 95-41 179-79 53-22 48-19 83-29 172-56 98-33 9-27 5-26 1-24-2-27-5-22-9-25-12-24-13-23-24-35-11-20-4-8-2-11-1-9 1-6 3-10 3-6 6-7 11-12 23-19 53-42 21-17 23-22 20-23 19-26 7-13 10-18 10-29 5-29-70-50-141-103-69-46-68-43-142-81-70-42-54-4-57-3-86 29-154 50-66 22-65 24-65 27-202 89-92 39-9 27-5 25-1 25 2 27 5 22 9 25 12 23 13 24 23 35 12 19 4 9 2 10 1 10-1 6-3 9-3 6-6 8-11 12-23 19-53 41-21 18-23 22-21 23-18 25-8 14-9 18-10 29-5 29 70 42 141 81 69 42 68 47 141 103 70 49 47 5z"/><path fill="#412dbb" d="M4811 5255l13 0 203-90 53-22 48-19 89-31 191-62 15-26 6-15 5-16 5-26 2-14-1-15-3-26-6-22-11-24-13-23-15-23-30-39-13-20-4-10-2-6-1-8 1-7 3-9 5-8 14-15 23-18 63-44 26-20 27-25 14-16 13-16 12-17 10-18 7-14 6-16 4-16 3-20 0-14-1-18-151-110-73-50-73-45-151-87-53-8-62-6-60-2-65 0-197 64-95 34-95 39-197 87-15 26-6 15-6 16-5 26-1 14 1 15 3 26 6 22 11 24 13 23 15 23 30 39 13 20 4 10 2 6 1 8-1 7-3 9-5 8-14 15-23 18-63 44-26 20-27 25-15 16-13 16-11 17-8 13-9 19-6 16-4 16-3 20 0 14 1 18 151 87 73 45 73 50 151 110 52 8 60 5 54 3z"/><path fill="#422fc2" d="M4862 5233l14-1 157-69 53-22 48-19 83-29 138-45 15-19 14-22 9-18 7-21 5-24 1-14-1-14-3-23-4-17-5-12-13-28-15-23-17-22-31-37-12-17-5-7-3-9-2-9 1-8 3-7 3-6 6-7 8-8 26-19 64-42 35-26 32-28 14-16 13-16 12-17 10-18 8-20 5-19 3-20 0-19-1-18-4-17-1-3-88-65-50-36-41-27-73-46-116-66-38-7-44-7-41-5-44-4-40-1-39-1-46 1-41 2-150 49-89 32-89 36-151 67-15 19-13 22-9 19-7 20-5 24-1 14 0 14 4 23 4 17 5 12 13 28 15 23 17 22 31 37 12 17 5 8 3 8 1 9 0 8-3 7-3 6-6 7-8 8-26 19-64 42-35 26-32 29-14 15-13 16-12 17-10 18-8 20-5 19-3 20 0 19 1 18 5 21 115 66 69 42 68 47 115 84 39 8 34 5 40 5 44 4 41 2 39 1 47 0z"/><path fill="#4332c9" d="M4905 5214l17-2 123-54 89-36 71-25 105-34 23-24 18-25 8-13 7-14 9-24 4-26 1-14-1-14-5-27-9-24-12-24-15-23-15-18-41-45-12-15-6-10-3-8-2-7 1-8 1-6 4-7 7-8 8-7 22-16 68-42 37-25 33-28 15-15 14-15 12-17 11-18 9-18 6-20 4-17 1-18 0-18-3-18-5-17-7-18-85-62-64-43-64-40-84-49-49-12-50-9-54-7-51-4-48-3-57 0-52 3-53 5-111 36-83 30-83 34-111 49-23 24-18 25-8 13-7 14-9 24-4 25-1 15 1 14 5 26 9 25 12 24 15 22 15 18 41 46 12 14 6 10 3 9 2 7-1 8-3 8-5 9-9 8-11 9-19 13-73 45-27 19-22 17-15 14-15 15-13 16-9 13-14 22-8 19-6 19-3 21-1 19 3 22 4 18 9 22 85 49 64 39 63 44 85 61 41 10 49 10 54 8 49 4 49 3 57 0 45-1z"/><path fill="#4434d0" d="M4946 5195l21-3 84-37 65-26 65-24 84-28 17-13 19-18 14-16 12-16 9-13 9-19 7-18 4-16 2-15 1-19-2-18-4-18-6-16-8-16-9-16-10-15-21-25-46-48-15-18-5-8-3-8-1-5 0-9 2-5 3-6 6-7 9-8 23-16 70-41 38-24 35-27 15-15 14-15 13-16 12-17 9-19 7-19 4-17 2-18 0-19-2-18-4-13-6-16-7-16-9-15-69-50-55-36-68-42-37-21-6-2-57-16-56-12-61-9-60-6-59-2-64 1-68 5-62 8-84 28-65 24-65 26-84 37-17 13-19 18-17 20-12 16-8 13-9 19-7 20-3 15-2 15 1 19 2 17 5 18 4 12 8 16 9 16 10 14 20 26 47 48 15 18 5 7 3 8 1 5 0 9-2 6-4 6-6 8-8 7-23 16-71 40-37 25-35 27-15 14-14 16-13 16-12 17-9 19-7 18-4 17-2 19 0 19 2 18 4 13 6 16 7 16 9 15 64 38 51 31 50 34 64 46 56 16 54 12 61 10 59 6 59 3 65-1 60-3z"/><path fill="#4537d6" d="M4990 5175l28-6 98-40 98-35 35-23 29-25 11-11 13-16 18-25 7-14 7-17 4-16 2-15 1-14-1-19-4-17-5-17-5-12-8-16-10-15-11-15-22-24-48-47-16-18-5-8-4-8 0-7 0-6 3-7 4-6 8-8 13-10 21-13 75-41 29-18 23-16 21-17 15-15 15-15 12-16 14-22 9-19 6-20 3-23 1-19-4-22-6-21-10-20-14-23-16-20-76-51-75-47-53-19-57-16-64-14-64-8-40-4-36-2-38 0-37 0-44 3-33 3-32 3-38 6-47 10-33 11-83 31-80 33-31 20-25 21-22 22-20 24-13 23-10 24-5 23-1 24 2 18 5 22 8 20 11 20 12 19 18 21 20 21 38 36 14 15 7 11 3 8 1 7-1 7-2 6-5 7-7 7-13 10-21 13-80 44-24 15-23 16-21 17-15 15-15 15-13 16-13 22-9 19-6 21-4 22 0 19 4 22 6 21 9 20 15 23 16 20 76 46 75 52 53 19 50 15 54 12 53 8 57 6 56 3 57 0 61-3 57-6z"/><path fill="#463adc" d="M5047 5150l44-13 47-18 44-21 34-21 19-12 17-14 23-22 19-24 9-13 7-14 7-14 4-15 3-17 2-16-1-18-3-14-3-13-7-16-5-12-10-15-10-15-12-14-20-21-52-48-15-16-6-7-3-8-2-9 0-5 3-7 6-8 17-14 22-13 86-45 25-15 27-19 22-17 11-11 15-15 13-16 14-22 9-18 7-20 4-24 0-18-3-23-7-21-11-24-10-15-14-18-17-17-19-17-21-15-23-15-20-11-27-14-28-12-32-12-33-10-29-8-63-14-35-5-37-5-36-3-38-2-69 0-69 5-40 4-30 5-65 13-33 9-32 10-30 11-29 13-21 10-26 14-29 18-26 20-23 22-20 24-13 22-7 14-4 13-4 13-2 13-1 24 4 22 5 17 8 20 11 20 14 18 22 25 59 55 15 15 5 8 4 8 2 8-1 7-2 5-6 8-17 14-23 13-85 46-25 15-23 15-17 13-21 18-14 15-13 16-14 22-9 19-7 20-4 23 0 19 3 22 6 21 12 24 10 15 11 15 13 14 14 13 16 13 17 13 38 23 43 21 49 19 47 15 53 12 60 11 57 6 57 3 66 0 60-3 56-7 60-11z"/><path fill="#463ee1" d="M5033 5144l43-13 48-18 39-18 40-23 31-23 28-25 19-24 9-13 7-14 6-14 5-15 3-16 1-14-1-14-2-18-5-17-7-16-6-12-10-15-11-15-13-14-24-24-50-42-18-18-9-14-2-6 0-8 2-5 5-7 7-8 14-9 25-14 85-43 25-15 24-15 18-13 17-14 15-14 14-16 15-21 11-20 8-22 5-21 1-19-3-23-6-21-9-20-11-19-12-15-12-14-18-17-20-16-22-15-25-14-21-11-28-13-24-9-32-12-28-8-61-14-34-6-36-5-70-6-68-1-70 3-33 3-39 6-37 6-28 6-34 9-26 8-31 10-29 12-22 10-27 14-29 18-26 19-24 22-21 24-8 12-8 14-10 23-3 11-3 15-1 24 2 18 6 22 9 20 12 19 16 22 20 21 21 20 43 36 17 17 8 11 3 8 1 7-1 6-5 8-4 5-18 13-25 14-85 43-25 14-24 16-18 13-17 13-15 15-14 16-15 20-11 21-9 22-4 20-1 20 3 22 6 22 9 20 9 15 11 15 22 24 15 14 16 12 37 24 36 19 47 20 53 17 52 13 58 11 57 7 61 4 57 0 52-3 58-6 60-10z"/><path fill="#4741e5" d="M5058 5126l41-14 40-17 37-19 28-18 30-24 23-22 18-25 13-23 5-15 4-16 2-17 0-14-1-14-4-17-5-13-7-16-7-12-10-14-12-15-13-14-21-20-55-45-19-17-5-7-5-7-2-6-1-7 2-6 5-8 8-7 13-9 27-14 87-42 26-14 24-15 22-16 17-14 16-14 14-16 15-20 10-19 9-22 4-21 1-24-3-22-7-21-10-20-12-19-12-14-17-17-15-13-16-13-23-15-19-11-27-14-29-12-25-10-33-10-28-8-31-8-32-6-66-9-33-3-36-2-34-1-37 0-68 5-63 8-36 7-28 7-27 7-32 10-30 11-23 10-27 13-26 14-32 22-25 20-22 23-15 21-13 23-8 23-2 13-1 12 0 23 4 18 7 21 10 20 13 18 18 22 21 20 22 20 40 32 19 17 8 10 4 8 1 9-2 5-4 7-5 5-18 13-26 14-87 42-26 14-24 15-23 16-16 13-16 15-14 15-15 21-10 19-9 22-4 21-1 23 3 23 7 21 10 20 9 15 12 14 23 24 16 13 16 13 33 20 37 19 48 19 55 17 53 13 52 9 64 6 60 3 56-1 59-4 63-9 50-10z"/><path fill="#4745e9" d="M5027 5126l41-13 42-15 38-18 35-21 32-22 23-22 20-24 9-13 7-13 7-17 4-16 3-15 0-19-2-13-4-18-6-16-8-16-7-11-11-15-12-14-14-14-26-23-53-41-19-16-7-7-5-8-2-5-1-8 2-5 5-8 8-7 15-9 26-13 84-38 31-17 25-14 23-16 18-13 16-15 14-15 16-20 11-18 9-21 5-21 2-21-2-21-6-22-8-20-9-16-11-14-16-18-14-13-16-13-22-15-23-15-21-11-22-10-30-12-53-18-30-7-31-7-60-10-64-6-69-2-62 2-66 7-59 10-28 7-34 9-25 8-30 11-29 12-21 10-35 21-27 19-25 21-20 24-9 12-8 14-10 24-3 13-3 14 0 24 4 22 8 21 10 20 13 18 22 25 22 20 19 16 49 38 15 13 9 11 4 8 2 8-2 5-4 7-5 6-19 12-26 14-84 37-31 17-25 14-23 16-18 13-16 15-14 15-16 20-11 18-9 21-5 21-2 21 2 22 5 21 9 20 7 12 10 15 22 24 27 23 17 13 19 11 20 11 21 11 41 17 53 18 45 11 49 9 55 8 56 4 58 0 53-2 58-6 60-10z"/><path fill="#4848ec" d="M5041 5113l39-13 40-17 32-16 34-21 26-20 23-22 18-25 13-22 6-15 4-16 1-17 0-14-1-14-5-17-6-16-8-16-10-15-12-15-13-14-14-13-31-26-59-43-16-13-8-11-2-5-1-8 1-5 6-8 9-7 14-9 21-10 97-42 26-13 26-15 19-12 22-16 21-17 14-15 16-21 11-17 9-22 6-21 1-21-2-21-5-21-9-20-10-16-11-14-16-18-14-13-16-13-18-12-19-12-26-13-28-13-24-10-54-17-29-8-32-6-61-10-65-6-65-1-64 3-64 8-59 11-27 6-33 10-25 8-30 12-27 12-21 11-34 21-26 20-23 23-16 20-13 22-5 11-4 14-4 23-1 14 2 14 5 21 6 17 11 19 16 22 19 21 22 20 24 19 51 37 16 13 9 10 5 8 1 8-1 6-5 7-5 5-19 12-21 10-97 42-27 14-25 14-19 12-22 16-21 18-14 15-17 20-10 18-9 21-6 21-1 21 2 21 5 22 9 20 7 11 11 15 22 25 15 13 17 12 32 21 36 19 48 19 55 17 45 11 51 9 58 6 56 3 56 0 60-4 55-7 51-10z"/><path fill="#484cef" d="M5059 5099l44-18 38-18 34-21 18-13 16-14 15-15 10-12 9-12 8-13 7-14 5-16 3-13 2-15-2-23-2-13-4-13-12-24-9-15-9-11-19-21-26-23-29-22-53-36-20-16-7-7-4-8-2-7 1-5 3-5 7-7 20-12 22-10 98-41 28-13 26-14 24-14 23-16 20-18 15-15 16-20 14-22 7-20 5-21 1-22-3-22-6-21-10-20-10-15-12-14-17-17-15-13-17-13-18-12-25-14-22-10-23-10-31-12-27-9-29-7-55-12-63-9-37-3-31-1-66 0-59 4-63 9-58 12-32 9-25 8-24 9-28 12-22 11-20 11-28 19-25 20-22 23-17 23-11 23-7 24-2 13 0 14 3 22 5 17 9 21 12 19 15 18 20 20 23 20 25 18 53 37 20 16 7 7 4 7 2 8-1 5-3 4-7 8-20 12-22 10-93 38-33 15-26 14-24 15-23 16-20 17-15 15-16 21-14 22-8 19-4 22-2 21 3 23 7 21 10 19 10 16 12 14 24 24 16 12 18 13 34 20 39 18 43 16 50 14 55 12 54 8 57 4 58 1 54-2 49-4 61-10 49-11z"/><path fill="#4850f2" d="M5008 5106l48-15 47-19 22-10 20-11 20-12 18-13 16-14 15-15 14-16 9-12 7-14 7-14 4-16 3-16 1-13-1-14-3-13-3-13-11-24-8-11-10-15-23-24-27-23-30-22-64-41-16-13-7-7-5-7-2-7 2-7 5-7 5-3 20-12 23-9 94-37 29-13 26-13 26-14 19-12 18-13 20-18 18-19 15-21 12-21 7-21 3-20 0-19-4-22-8-21-8-16-11-15-12-14-13-13-15-14-17-12-18-12-20-11-44-21-25-10-26-8-28-8-30-8-56-10-59-7-60-3-65 1-58 5-61 9-56 13-51 16-47 19-36 19-33 22-25 21-22 22-9 13-8 13-10 24-4 15-2 12-1 13 1 13 5 22 8 21 14 23 18 21 20 21 28 22 26 18 55 36 21 16 7 6 5 8 2 7-1 5-3 5-8 7-20 12-23 9-95 37-33 15-27 13-25 15-19 12-17 14-16 14-18 19-16 20-11 21-7 22-3 20 0 19 4 22 8 21 6 12 10 15 8 11 13 14 26 23 31 21 36 19 22 10 24 10 40 13 51 14 49 9 56 7 53 3 55 1 52-3 49-5 53-9z"/><path fill="#4853f5" d="M5010 5097l47-14 46-19 22-11 20-12 19-12 17-13 12-11 15-15 14-16 8-12 8-14 6-16 4-16 2-16 0-13-2-13-3-13-4-13-12-23-11-15-9-11-23-24-33-25-31-21-62-38-17-12-7-7-6-7-2-8 1-5 3-4 8-7 21-11 120-45 35-14 27-13 25-15 20-12 18-12 20-18 19-19 15-20 10-18 8-21 4-21 0-19-3-22-7-21-6-12-10-15-11-14-14-14-14-14-17-12-17-12-20-12-21-11-22-10-25-9-26-9-50-14-56-11-57-8-62-3-56 0-60 4-63 9-56 12-52 15-47 19-37 19-33 21-18 14-11 10-22 24-9 12-7 14-7 14-4 11-2 11-2 15 0 14 2 13 6 22 9 20 15 22 18 22 22 20 29 22 27 18 62 37 17 13 7 6 6 7 2 8-1 5-3 4-8 7-21 11-120 45-35 15-27 13-26 14-19 12-18 13-20 17-19 19-15 20-10 18-8 22-4 20-1 19 4 22 7 21 6 12 10 15 8 11 13 14 26 23 31 21 36 20 40 17 46 16 44 11 49 10 55 7 53 3 49 1 62-3 48-6 52-9z"/><path fill="#4757f7" d="M5010 5090l48-16 24-9 22-10 21-11 20-12 18-12 17-14 16-14 10-12 13-17 7-13 7-14 5-14 3-15 1-15-1-14-2-13-4-13-5-12-13-23-8-11-13-14-25-24-33-25-33-20-69-40-18-12-7-7-4-4-2-7 1-6 8-8 10-6 11-5 24-9 99-34 35-13 28-13 27-13 25-15 23-15 17-14 19-18 16-21 14-22 7-19 5-22 0-21-4-22-7-21-7-12-10-15-11-14-14-14-15-13-16-13-19-11-20-12-21-10-22-10-45-16-51-14-57-11-56-7-59-3-58 0-61 5-58 9-49 10-52 16-47 18-37 19-33 22-13 10-16 14-21 24-8 12-8 14-9 23-2 13-2 12 1 14 1 14 6 21 6 12 6 12 16 22 20 21 23 20 30 21 33 21 59 33 18 12 8 7 7 8 3 7-1 5-4 5-4 3-10 6-11 5-24 9-99 34-35 14-29 12-26 14-25 14-23 16-17 13-19 19-16 20-14 22-7 20-5 21 0 22 4 22 7 20 14 24 8 11 13 14 26 23 31 21 35 19 41 18 39 13 51 13 50 10 46 6 52 3 54 1 53-3 56-6 52-9z"/><path fill="#475af9" d="M5008 5083l27-8 24-9 23-10 22-10 21-11 19-12 18-13 17-14 15-15 10-12 9-12 7-14 7-14 4-16 3-16 0-14-2-14-3-13-4-12-6-12-9-15-8-12-22-24-27-23-36-24-29-17-67-36-24-14-8-6-7-7-2-4 1-5 2-4 4-4 9-6 12-5 24-8 108-34 37-14 28-12 28-13 25-14 19-12 23-16 23-22 17-20 13-22 8-19 5-22 0-19-3-22-7-21-6-12-10-15-12-15-13-13-27-23-18-12-20-11-21-11-22-10-44-17-50-14-56-11-57-7-53-3-57 0-60 4-54 8-57 12-46 13-48 18-37 19-34 21-17 13-12 11-11 11-10 12-9 13-8 13-6 15-3 11-3 16-1 14 1 14 3 13 3 13 6 12 11 19 17 22 24 24 25 19 31 21 35 19 62 33 19 12 8 6 7 7 1 4 0 5-2 4-4 4-10 5-11 5-24 9-109 34-36 13-29 12-27 13-25 15-24 15-18 13-23 22-17 20-12 20-9 21-5 22-1 19 4 22 7 21 6 12 7 11 9 11 12 14 26 23 31 22 36 19 34 15 46 16 44 11 49 10 56 6 53 4 48 0 52-3 48-5 52-10z"/><path fill="#465efb" d="M5004 5077l26-8 25-9 23-9 22-11 20-11 20-12 18-13 16-14 15-15 9-12 9-13 9-16 6-16 3-16 1-14 0-14-3-14-3-12-5-13-9-15-10-15-9-11-24-23-29-23-37-23-36-19-76-37-20-11-9-7-3-3-2-4 1-5 5-6 5-2 17-8 131-37 38-13 36-13 28-13 27-13 24-15 23-16 21-17 21-23 14-21 9-19 6-21 2-11 0-12-3-23-7-21-6-12-9-15-12-14-13-14-27-23-18-12-20-11-21-11-23-10-44-16-50-14-49-10-51-6-57-4-53 0-61 4-54 7-51 10-46 13-48 18-22 10-21 11-34 21-17 14-12 10-11 12-10 12-8 13-8 13-6 15-3 15-2 14 0 15 2 13 3 13 4 12 6 12 15 23 19 21 22 20 30 21 33 21 31 16 71 34 20 11 9 6 8 7 2 4-1 5-5 5-5 3-17 8-131 37-38 13-36 13-28 13-27 13-24 15-23 16-25 21-17 19-15 21-9 19-5 21-2 11 0 12 3 23 7 21 6 11 7 12 8 11 12 14 26 23 31 22 36 19 34 15 46 15 44 12 50 9 47 6 52 3 54 0 52-3 48-6 45-7z"/><path fill="#4561fc" d="M4998 5072l28-9 24-9 23-9 22-11 21-11 19-12 18-13 16-14 15-15 9-12 11-16 7-16 5-15 3-17 0-15-2-16-4-15-5-12-6-12-9-15-12-14-10-11-14-13-16-13-36-24-40-22-39-18-81-35-22-11-9-6-1-2-1-2 1-4 10-6 19-6 130-32 40-12 37-12 30-11 34-15 31-17 24-15 26-20 19-18 16-21 8-13 5-10 7-22 2-10 1-14-3-23-6-21-6-12-9-15-9-11-12-14-27-23-17-12-19-12-21-11-22-10-44-17-50-14-47-9-56-8-52-3-60 0-52 3-55 7-50 10-47 13-42 15-23 10-21 11-34 21-17 13-12 11-15 15-9 12-9 13-7 14-6 15-3 13-1 15 0 14 2 13 5 17 7 16 7 12 17 22 20 20 29 22 32 21 41 22 33 16 98 42 13 9 3 4-1 4-10 6-19 6-130 32-40 12-37 12-36 14-28 12-31 17-24 15-26 20-19 18-16 21-7 12-6 11-7 22-2 10-1 15 2 22 7 21 6 12 7 12 8 11 12 14 26 23 26 19 35 19 40 18 39 13 44 11 49 10 46 6 53 3 51 1 52-3 48-5 45-8z"/><path fill="#4465fd" d="M4991 5067l24-7 25-9 24-9 22-10 21-11 19-12 18-13 13-11 15-14 10-12 9-13 8-13 6-14 5-16 2-16 0-14-2-13-3-13-5-13-8-15-10-15-9-11-13-14-15-13-16-13-18-12-19-11-25-14-50-24-55-21-46-16-38-10-25-3-29-1-41 4-60 10-63 14-54 14-51 16-41 17-38 18-29 18-27 20-22 22-10 12-9 13-7 12-4 11-5 15-2 16 0 14 2 14 5 17 5 12 8 16 11 14 13 14 14 14 16 13 18 12 35 19 23 10 24 10 26 9 29 8 55 12 54 7 63 4 56 0 59-4 32-4 30-6z"/><path fill="#4465fd" d="M5142 4560l44-17 39-18 34-20 18-13 13-11 22-22 9-12 8-14 7-13 4-11 3-11 2-15 0-14-2-13-3-13-5-13-6-12-7-11-8-11-13-14-14-13-12-10-32-21-37-19-42-17-48-14-47-11-50-7-53-5-50-1-54 2-49 5-53 8-48 12-44 14-40 17-37 20-14 9-17 13-24 22-10 11-9 13-8 13-7 15-4 16-2 16 0 18 4 17 5 17 11 20 11 14 15 18 19 17 20 15 23 15 25 14 26 14 28 13 42 17 34 12 45 14 30 7 28 4 28-1 25-3 38-5 72-15 62-15z"/><path fill="#4369fe" d="M4982 5062l48-14 41-17 21-10 20-12 14-9 18-13 16-15 11-11 9-12 9-13 7-14 5-15 4-15 1-14-1-14-3-13-5-17-6-12-7-12-11-14-9-11-14-13-16-13-17-13-38-23-44-21-48-19-46-16-38-10-39-7-32-2-36 1-48 6-53 9-56 12-53 15-43 15-40 17-36 20-32 22-24 21-10 12-9 12-8 13-7 15-5 15-2 15 0 14 1 14 3 13 6 16 9 16 8 11 12 14 14 14 11 9 17 13 19 11 20 12 23 10 23 10 47 15 53 12 26 5 36 5 60 4 57 0 60-4 54-8z"/><path fill="#4369fe" d="M5132 4556l44-16 39-18 35-20 14-9 17-14 23-22 9-12 9-13 6-12 5-12 4-15 1-12 0-12-1-14-3-13-5-12-6-12-7-12-8-11-12-14-15-13-12-10-31-21-37-19-42-16-49-15-47-10-49-8-54-4-49-1-53 3-49 5-51 9-42 10-44 14-40 17-36 20-15 9-17 13-23 22-10 12-9 12-8 14-6 14-4 16-2 18 1 15 4 17 6 17 9 16 10 14 12 15 14 13 20 16 18 12 23 15 26 14 28 13 29 12 31 12 48 14 38 9 36 5 39 1 51-4 60-9 64-14 33-9z"/><path fill="#406cfe" d="M4974 5058l46-14 24-8 23-10 36-19 19-13 14-10 12-10 15-15 10-12 8-13 8-13 5-13 3-13 2-13 0-14-2-14-3-13-5-12-6-12-10-15-8-11-13-14-27-22-18-12-19-12-42-22-47-20-45-15-44-12-43-7-33-2-37 0-50 4-54 9-49 10-54 15-43 15-40 17-36 19-19 13-13 10-23 21-11 12-9 12-7 14-6 12-5 16-2 13 0 16 2 14 3 13 7 16 6 12 11 15 9 10 14 14 16 13 17 12 19 11 21 11 41 18 47 15 53 12 53 8 58 5 57 0 60-4 55-7z"/><path fill="#406cfe" d="M5121 4553l46-16 39-17 35-20 28-20 23-21 10-12 10-12 7-14 6-12 4-13 2-13 1-15-1-13-3-14-4-12-6-12-7-12-8-11-13-14-10-10-16-13-31-21-37-19-36-14-46-14-49-11-53-8-47-4-50-1-52 2-49 5-49 8-45 11-44 14-40 17-36 19-19 13-13 10-23 22-10 12-9 13-7 13-4 10-4 14-2 15 0 16 3 16 5 17 8 16 10 15 11 14 14 14 15 13 17 12 23 15 25 14 22 11 22 10 31 12 53 17 46 11 39 5 42 2 50-3 62-9 57-12z"/><path fill="#3d70ff" d="M5013 5040l39-15 38-18 14-9 19-12 13-10 15-15 11-11 9-13 8-12 5-12 4-11 4-13 1-12 0-14-2-14-4-12-5-13-6-11-8-12-12-14-10-10-14-14-30-21-39-23-45-20-45-17-42-12-39-8-37-5-41-2-44 2-49 5-52 10-48 11-45 14-42 15-39 19-29 17-27 20-22 22-10 12-9 13-7 14-3 10-4 13-2 15 1 14 3 17 4 13 7 16 8 11 11 15 13 14 15 13 17 12 19 12 37 19 24 10 25 9 50 13 32 7 26 4 58 6 55 2 63-2 56-6 51-10 27-7z"/><path fill="#3d70ff" d="M5110 4550l47-16 40-17 36-20 27-19 24-21 11-12 9-12 8-13 5-11 5-14 3-13 1-9-1-15-2-13-3-13-5-12-7-12-7-11-12-14-10-10-16-14-30-21-37-19-35-15-40-13-45-11-50-8-50-5-46-2-54 1-50 4-54 9-42 9-44 14-41 17-37 19-19 12-13 10-23 22-10 12-9 12-8 14-4 10-4 12-3 16 0 16 2 16 5 17 6 12 9 15 11 15 13 14 15 13 17 13 22 14 20 12 27 13 47 20 46 15 50 12 25 5 23 2 41 2 27-1 26-1 55-8 58-11z"/><path fill="#3974fe" d="M4995 5039l42-14 39-18 34-20 18-13 12-11 11-11 10-12 9-13 7-14 4-11 4-14 2-12 0-12-1-11-3-13-5-13-5-11-7-12-11-15-10-10-14-13-29-22-34-20-44-21-44-17-41-12-40-9-35-5-42-3-46 1-41 4-54 8-49 11-46 13-43 16-38 17-31 18-18 12-13 11-22 22-10 12-7 11-6 11-4 12-4 16-2 14 1 14 2 13 4 13 8 16 7 12 11 14 13 14 15 13 13 9 18 12 20 11 22 11 43 17 49 14 32 7 25 4 57 6 54 3 55-2 57-6 52-9z"/><path fill="#3974fe" d="M5100 4546l47-15 40-17 37-19 28-19 24-21 11-11 10-13 8-13 5-9 5-15 3-12 1-10 0-14-1-14-4-12-5-13-6-11-16-23-10-10-14-13-13-10-17-12-36-19-35-15-39-13-45-12-50-9-48-5-54-2-46 1-50 4-50 8-46 10-45 14-40 16-32 17-14 9-19 13-23 21-11 12-9 12-7 13-6 11-5 16-2 15 0 14 2 14 5 17 5 12 7 12 10 14 13 15 14 13 16 13 18 12 19 11 26 14 46 20 53 18 45 11 44 6 42 3 46-1 57-6 59-10z"/><path fill="#3678fd" d="M4981 5037l40-13 40-17 36-19 18-13 13-10 12-11 10-12 10-12 7-11 5-12 4-11 4-14 1-12 0-13-2-14-4-12-5-12-7-12-8-11-11-15-11-10-27-22-33-21-37-19-42-17-41-12-43-11-37-6-44-4-44 0-45 4-47 6-50 10-47 13-43 15-40 17-30 17-28 19-23 22-10 12-9 12-8 13-4 11-5 15-1 11-1 15 2 13 3 13 7 16 6 12 11 15 12 14 15 13 12 10 18 12 35 19 42 17 47 15 31 7 25 5 54 7 54 3 56 0 50-4 54-8 28-6z"/><path fill="#3678fd" d="M5089 4543l42-13 42-16 37-19 29-18 14-10 16-14 11-11 9-12 14-22 4-11 5-14 1-11 1-15-2-13-3-12-5-14-6-11-7-12-9-11-20-20-12-10-17-12-35-20-34-15-39-13-47-12-47-9-50-6-53-2-52 1-48 4-48 8-42 9-45 14-41 17-31 16-19 12-14 10-23 22-11 11-9 13-7 13-4 10-4 12-3 15 0 14 1 14 4 13 6 16 7 12 10 15 13 14 14 13 16 13 18 12 19 12 21 11 46 20 45 15 45 11 43 8 23 2 28 2 49-1 49-5 53-8z"/><path fill="#327cfc" d="M4968 5035l44-14 40-16 37-20 27-19 12-10 11-11 10-12 9-13 7-13 5-11 3-11 2-15 0-9-1-14-3-13-4-12-6-12-8-12-11-14-10-11-11-10-16-12-32-21-37-19-41-17-41-13-45-11-40-6-43-4-47 1-42 3-47 6-44 9-47 12-43 15-39 18-31 17-27 19-23 21-10 12-9 13-7 13-4 11-4 11-2 15 0 14 2 14 4 12 5 13 6 11 11 15 9 11 14 13 16 13 18 12 35 20 41 17 48 14 47 11 55 7 52 4 57-1 51-3 53-8z"/><path fill="#327cfc" d="M5139 4521l41-17 32-17 28-18 25-21 11-11 9-13 13-21 4-11 4-11 1-10 1-15-1-10-2-12-4-13-6-12-7-11-8-11-9-11-14-13-24-19-34-20-34-16-38-13-42-12-42-8-46-6-53-4-48 0-50 4-48 6-43 8-40 11-42 16-33 15-30 18-26 20-12 11-10 11-15 21-7 14-3 10-4 17-1 11 2 17 3 13 6 16 7 12 10 15 12 14 15 14 16 12 17 12 20 12 20 11 23 10 24 10 26 9 50 13 50 9 49 5 47-1 50-4 54-8 56-13z"/><path fill="#3080fb" d="M5012 5015l37-15 31-17 28-19 24-21 10-12 9-12 7-12 5-11 4-11 2-15 1-13-1-11-6-21-5-12-7-12-17-22-10-10-15-13-26-19-35-19-40-18-38-13-36-10-40-9-40-5-42-2-45 1-42 4-46 7-49 10-46 14-36 13-38 18-30 18-25 20-19 19-9 12-7 11-6 11-4 11-4 16-1 15 1 13 3 13 5 13 5 12 8 11 11 15 14 13 11 10 17 13 19 11 20 11 23 11 44 16 51 13 51 9 50 5 59 1 28-1 34-2 54-7 50-11 26-7z"/><path fill="#3080fb" d="M5112 4523l42-15 39-17 30-18 26-19 12-11 11-12 15-21 7-13 4-10 4-22 1-12-1-11-3-13-5-13-6-11-7-12-18-21-22-20-17-12-15-9-31-16-36-15-41-12-38-9-43-8-51-5-49-1-47 1-48 5-45 7-42 10-42 13-37 16-31 16-28 19-24 21-10 12-9 12-7 12-5 12-5 15-2 16 1 14 2 13 4 13 7 16 7 11 11 15 14 13 11 10 16 13 18 12 20 11 22 11 23 10 24 9 49 15 47 10 47 6 44 1 53-2 48-6 52-9 27-7z"/><path fill="#2e83f9" d="M4983 5018l40-13 33-16 30-17 27-20 12-10 10-12 15-21 7-14 4-11 2-10 1-15 0-9-2-14-4-12-5-12-6-12-8-11-19-21-11-10-17-13-33-20-38-19-37-14-41-12-39-9-44-6-42-3-38 0-45 3-45 6-43 9-40 10-44 15-39 17-31 17-27 20-12 10-11 12-16 21-6 12-5 11-3 11-2 15 0 14 2 13 4 13 5 12 7 12 10 15 13 13 11 10 17 13 18 12 36 19 43 17 50 14 49 9 47 6 54 3 52-1 58-6 52-9z"/><path fill="#2e83f9" d="M5095 4522l44-14 34-15 32-16 28-19 24-21 17-19 9-13 5-9 5-15 3-11 1-11 0-13-2-14-4-12-5-13-7-11-16-21-11-11-11-10-26-18-36-20-35-15-41-13-37-9-47-8-45-4-50-2-46 1-47 4-48 8-42 9-44 14-35 15-33 17-26 18-12 11-11 11-11 11-8 13-7 13-5 11-3 11-2 15 0 14 2 13 3 13 6 12 6 12 11 14 13 14 14 14 30 21 20 12 21 11 41 17 47 15 46 10 45 7 50 3 46-1 49-5 53-9z"/><path fill="#2e87f7" d="M4966 5017l42-13 34-14 31-17 28-19 12-10 12-11 10-12 8-13 7-13 4-11 3-11 2-10 0-13-1-10-3-13-5-13-6-11-7-12-18-21-23-20-31-21-34-17-39-16-40-13-38-9-43-7-40-4-46-1-43 3-40 5-44 8-42 10-44 14-40 17-31 17-27 19-12 10-12 11-16 21-6 11-5 12-4 11-3 15 0 14 2 12 4 14 5 13 6 11 8 11 12 15 11 10 12 9 17 13 19 11 16 8 41 18 47 14 47 11 45 6 52 4 57 0 51-4 53-8z"/><path fill="#2e87f7" d="M5081 4520l42-13 42-16 32-16 28-18 25-21 17-19 9-13 5-9 6-15 3-10 1-12 1-13-2-12-2-10-5-13-6-12-7-11-9-11-21-20-25-19-29-17-37-16-40-14-40-10-45-8-45-5-51-2-46 1-50 4-45 7-42 10-39 11-40 17-32 17-27 19-12 10-11 11-17 21-7 11-5 12-3 10-3 16 0 12 1 11 3 13 4 12 6 12 10 15 9 11 14 14 11 9 17 13 19 12 20 11 40 17 46 16 45 11 43 7 47 4 48 0 50-4 54-8z"/><path fill="#2d8af4" d="M4951 5015l41-12 42-16 31-16 28-19 13-10 11-11 17-20 7-11 5-11 5-16 2-11 1-12-1-11-5-22-6-12-7-11-8-11-9-11-22-20-31-21-36-19-35-15-40-13-43-10-38-7-44-4-41 0-42 2-48 5-44 8-41 11-43 14-35 15-30 17-28 19-12 11-11 11-16 21-7 12-4 11-3 11-3 15 0 9 2 14 3 13 5 12 7 12 7 11 19 21 12 10 16 12 19 12 16 8 40 18 47 15 46 10 44 7 51 4 49 1 52-3 47-7z"/><path fill="#2d8af4" d="M5119 4503l37-14 32-16 29-18 26-21 18-19 14-21 8-20 2-11 2-14-1-10-2-13-7-21-7-12-7-11-19-21-24-19-28-18-33-15-37-14-37-11-42-9-49-7-41-3-48-1-42 3-43 4-45 8-40 11-38 12-34 15-30 17-27 19-19 19-16 21-7 12-5 11-3 11-2 15 0 14 3 13 3 13 8 16 7 11 12 15 13 13 12 10 30 21 37 19 23 10 25 10 49 14 40 8 27 4 25 2 50 1 52-2 55-8 50-10z"/><path fill="#2d8df2" d="M4980 5002l39-15 33-15 25-15 26-20 11-11 10-12 9-12 5-9 8-21 2-10 1-15-1-9-2-13-8-21-7-11-8-12-19-20-24-20-34-20-32-16-38-14-42-12-40-8-38-5-40-3-40 0-42 3-47 6-44 9-39 11-37 13-34 15-30 17-27 20-18 18-16 21-7 13-4 11-3 11-2 15 1 9 2 13 3 13 6 12 6 12 11 15 13 13 12 10 16 13 14 9 37 19 43 16 43 12 49 9 49 6 50 2 55-1 49-5 44-8 28-7z"/><path fill="#2d8df2" d="M5095 4504l34-11 35-14 31-17 28-19 12-10 12-11 16-20 7-12 5-11 4-11 2-11 1-11-1-12-2-9-3-13-6-12-6-12-8-11-10-10-22-20-26-18-32-17-35-14-39-12-41-10-40-6-45-5-49-1-45 2-41 4-45 7-42 10-38 12-34 14-31 17-27 19-20 18-16 20-7 12-5 12-5 15-2 11 0 14 2 13 4 13 5 12 7 12 11 14 9 11 15 13 12 10 18 12 35 19 42 18 40 12 46 11 47 7 51 2 46-1 49-4 52-10z"/><path fill="#2b91ef" d="M4959 5002l39-13 35-14 31-17 27-19 12-11 11-11 15-21 7-14 4-10 2-10 2-11 0-10-2-13-7-21-6-12-7-11-19-21-23-20-28-18-31-16-36-14-34-11-40-10-40-6-42-4-45-1-42 2-44 5-44 9-41 10-37 13-34 14-31 17-27 20-19 18-11 12-6 9-7 12-4 10-3 12-3 15 0 9 2 14 4 13 5 12 6 11 8 12 10 10 14 14 12 9 18 12 14 9 21 11 36 14 41 13 48 10 45 6 53 4 47-1 50-3 47-7z"/><path fill="#2b91ef" d="M5078 4503l42-13 35-14 32-16 28-18 13-11 12-10 16-20 8-12 5-11 6-20 1-12 0-12-1-10-4-13-9-20-8-11-9-11-21-20-26-19-30-16-35-15-40-13-39-9-42-7-49-5-42-1-45 1-42 4-45 7-42 10-38 12-34 15-31 16-27 19-20 19-10 11-6 10-7 12-4 10-4 12-2 15 0 9 2 14 3 12 5 13 7 11 11 15 20 21 12 9 17 12 35 20 41 18 40 13 45 10 44 7 43 3 47 0 51-4 46-7z"/><path fill="#2994ed" d="M4943 5000l40-11 36-14 32-16 28-18 13-10 12-11 16-20 8-13 4-10 4-10 2-11 1-12-1-13-1-9-4-12-10-20-8-11-9-11-22-20-26-18-30-17-35-15-39-13-37-10-43-7-40-4-40-1-44 1-41 5-45 7-41 10-38 13-35 14-31 16-28 19-20 18-16 20-7 13-6 11-4 15-1 11-1 12 2 11 2 10 4 11 6 12 8 11 8 11 10 11 12 9 16 13 19 12 15 8 35 15 39 13 46 11 43 7 53 5 48 1 52-4 47-6z"/><path fill="#2994ed" d="M5115 4486l37-15 32-16 28-18 21-18 17-19 7-11 6-11 7-21 1-11 1-10-1-9-3-13-8-20-13-19-9-11-10-10-24-19-29-17-34-16-32-11-35-10-41-9-45-6-42-2-40-1-44 3-46 5-38 7-41 11-36 13-34 15-25 14-26 20-18 18-14 20-6 11-4 10-3 12-2 15 0 9 2 13 4 13 6 12 7 12 11 14 13 14 12 10 17 12 14 9 36 19 43 17 42 12 49 9 48 6 50 1 52-3 47-6 50-11z"/><path fill="#2797eb" d="M4969 4988l35-13 34-15 29-18 22-16 18-19 10-12 5-9 5-11 4-11 3-20 0-12-2-11-7-21-11-19-9-11-10-10-23-20-27-17-32-16-37-15-41-12-37-8-39-6-41-3-38 0-43 2-40 5-40 8-38 9-37 13-34 15-31 17-27 19-19 18-15 21-10 21-4 13-1 12 0 10 2 13 4 13 5 12 7 11 11 15 10 10 11 10 13 10 18 11 20 12 17 7 37 14 42 13 50 9 47 5 45 2 45-1 50-4 45-8 28-6z"/><path fill="#2797eb" d="M5088 4489l38-13 34-15 26-14 27-19 20-17 16-21 8-13 4-10 3-10 2-11 0-20-1-9-4-13-10-19-8-12-9-10-22-20-26-18-31-17-30-12-34-11-39-9-41-7-42-5-41-1-45 1-42 3-46 7-35 8-39 12-35 14-31 17-28 18-19 18-17 21-7 13-4 10-4 12-2 15 0 9 2 14 4 13 5 12 7 11 8 11 20 21 12 10 17 12 35 19 41 18 41 12 47 11 45 6 42 2 46-1 49-4 46-8z"/><path fill="#269ae8" d="M4948 4988l36-11 35-14 31-16 23-16 13-10 11-11 16-21 10-20 4-11 2-10 0-10-1-13-1-9-4-13-11-19-8-12-9-10-23-20-26-18-32-16-29-13-33-10-37-10-43-7-39-4-40-1-44 1-41 4-39 7-40 10-38 12-35 14-31 17-27 19-20 18-16 20-10 21-4 13-2 11 0 12 2 12 3 13 3 8 7 12 7 11 9 11 14 14 25 18 30 17 23 10 18 8 41 12 47 11 45 6 46 3 47 0 51-4 46-7z"/><path fill="#269ae8" d="M5070 4488l35-10 36-14 32-16 29-18 13-10 11-11 17-20 11-19 4-11 3-10 1-10 0-11-2-12-2-9-9-20-7-11-8-11-21-20-26-19-31-17-29-12-38-13-39-9-43-7-39-4-45-2-40 1-47 4-38 6-39 9-35 11-35 14-31 17-28 19-19 18-16 20-11 20-3 14-2 11 0 12 1 12 4 13 3 8 6 12 8 11 9 11 10 10 11 10 17 12 19 12 16 8 34 16 39 13 45 11 44 7 40 3 48 0 43-2 47-7z"/><path fill="#249de7" d="M4932 4987l36-10 36-14 33-15 29-18 21-18 17-19 8-13 5-9 4-10 2-11 2-11-1-11-1-9-3-13-9-20-8-11-9-11-17-17-26-19-30-16-34-15-33-12-36-9-42-8-38-4-41-2-44 2-42 4-37 6-42 10-38 12-35 14-29 16-25 16-22 21-16 20-11 20-3 10-2 14 0 9 1 14 2 9 4 12 7 12 7 11 9 11 10 10 25 19 18 12 16 8 35 15 40 13 38 9 43 7 46 4 49 1 43-2 48-6z"/><path fill="#249de7" d="M5100 4474l32-12 33-15 29-18 21-17 18-19 12-17 6-12 3-11 3-20 0-11-2-12-6-18-6-10-7-11-16-18-19-16-28-18-32-16-30-12-35-10-40-9-43-6-41-4-45 0-43 2-39 5-38 6-34 9-38 12-34 15-25 15-23 16-19 18-16 20-5 11-5 11-3 13-2 11 0 11 3 13 3 13 6 12 7 11 9 11 20 21 17 12 13 9 20 11 16 8 24 10 19 7 42 12 50 9 38 5 50 1 44-2 48-5 44-9z"/><path fill="#23a0e5" d="M4954 4975l36-12 28-12 26-14 27-19 20-18 9-12 6-9 6-11 4-12 3-10 1-10-1-18-2-9-4-13-11-19-8-11-10-10-23-20-28-18-32-16-31-11-34-11-39-9-35-5-41-3-38-1-44 2-40 5-37 7-34 9-38 12-34 15-25 14-27 19-20 18-15 21-9 19-3 10-2 14 0 9 2 14 2 8 5 13 7 11 8 11 9 11 11 10 12 10 17 12 31 16 36 15 41 12 39 9 45 6 48 3 47 0 51-4 45-7z"/><path fill="#23a0e5" d="M5076 4475l35-11 35-14 31-17 23-16 20-17 16-21 10-18 3-10 3-11 1-11-1-11-1-9-4-13-10-19-14-19-18-16-26-19-30-16-29-13-34-11-37-9-42-7-39-4-45-2-40 1-41 4-45 7-35 8-38 12-35 15-25 14-23 15-20 18-17 20-5 11-6 11-3 12-2 14 0 9 2 14 2 8 5 12 7 12 7 11 10 11 14 13 25 19 20 11 16 8 35 15 41 13 39 8 44 7 43 3 45-1 42-3 46-7z"/><path fill="#21a3e3" d="M4935 4975l34-10 36-13 31-17 24-15 20-17 17-20 6-10 6-12 4-11 2-10 0-19-2-13-3-9-9-20-8-11-9-10-19-17-26-18-30-17-30-12-33-11-38-10-42-7-40-3-40-1-35 1-41 4-38 7-34 8-39 12-34 14-27 14-27 19-20 17-16 20-9 19-4 10-2 11 0 12 1 11 2 10 4 11 5 12 8 11 9 11 10 10 24 19 29 18 34 15 39 13 38 9 43 7 49 5 48 0 43-2 48-6z"/><path fill="#21a3e3" d="M5059 4474l37-10 36-14 27-13 29-18 21-17 18-19 12-20 5-12 3-10 1-20-1-11-3-11-9-20-13-18-17-18-24-18-30-17-29-13-32-11-37-10-42-7-38-4-40-2-42 0-46 4-38 6-35 7-39 12-35 14-27 14-27 18-20 18-7 8-9 12-10 19-3 10-2 15-1 10 2 13 2 9 5 12 6 12 8 11 9 11 11 10 24 19 30 17 34 15 39 13 37 10 43 7 40 4 49 0 43-2 47-7z"/><path fill="#1fa6e2" d="M4960 4962l36-13 28-13 24-14 22-17 18-19 11-17 9-20 2-10 1-12-1-12-1-9-3-8-5-12-12-19-16-18-19-16-28-18-27-13-35-14-35-10-33-7-35-6-42-3-38-1-37 2-39 4-41 8-37 9-31 11-32 14-29 15-21 16-20 18-8 9-8 11-9 19-3 10-2 15 0 10 2 12 3 10 5 12 7 11 8 11 10 11 11 10 16 12 14 9 32 16 37 15 42 11 41 8 48 6 41 1 45-1 49-5 45-8z"/><path fill="#1fa6e2" d="M5082 4463l36-13 28-12 30-17 22-17 19-18 13-17 9-18 3-11 1-11 1-12-2-10-5-19-5-10-8-12-15-17-19-17-27-18-27-13-30-12-34-10-39-9-36-5-40-4-39-1-45 2-38 4-40 6-34 9-32 10-34 15-26 14-22 15-20 18-8 9-8 12-9 19-3 10-2 15 0 10 2 12 3 9 5 13 7 11 8 11 9 11 11 10 25 18 15 9 21 11 36 14 41 13 40 8 46 6 42 2 46-1 41-4 45-8z"/><path fill="#1da9e0" d="M4937 4964l33-10 35-14 26-14 23-15 20-18 11-12 6-8 10-19 3-11 2-10 0-19-1-9-4-13-10-19-15-18-18-17-26-18-31-17-29-12-36-11-36-9-34-5-40-4-42-1-35 1-41 5-37 6-34 8-38 13-34 14-26 15-22 16-20 18-9 11-6 9-9 19-3 11-1 11 0 13 1 10 3 8 5 12 7 12 8 11 9 11 11 10 26 18 25 14 35 15 41 12 39 9 46 6 41 3 48 0 43-3 38-6z"/><path fill="#1da9e0" d="M5062 4463l35-11 30-11 32-16 24-15 20-18 18-19 10-18 4-11 3-10 1-20-1-10-3-12-9-20-14-18-17-17-26-18-25-14-29-13-33-11-38-9-39-7-42-4-42-2-36 1-41 4-39 6-34 8-33 10-35 14-26 14-23 15-20 18-11 12-6 8-10 19-3 10-2 11-1 11 1 12 2 9 5 12 6 12 8 11 9 11 10 10 24 19 30 17 34 15 40 13 38 9 44 7 41 3 40 1 43-3 46-7z"/><path fill="#1aabdd" d="M4976 4946l32-13 25-15 23-16 19-18 12-16 6-9 4-11 3-11 2-9 0-19-5-18-10-20-14-18-18-17-22-15-30-17-29-12-31-11-31-8-40-7-34-4-40-2-37 1-34 3-39 5-35 8-33 9-30 11-28 13-25 15-22 16-18 19-12 17-8 19-3 10-1 12 0 9 3 14 4 12 6 12 8 11 9 11 10 10 12 10 27 18 33 15 38 14 44 11 43 8 44 3 48 1 44-2 46-7 43-9z"/><path fill="#1aabdd" d="M5090 4449l34-13 27-13 24-15 22-17 17-19 11-17 5-10 3-10 2-17 0-9-2-11-7-19-12-19-16-18-19-16-28-17-29-14-30-11-36-10-34-7-36-5-39-3-41 0-36 2-39 4-37 7-34 8-34 12-31 14-25 14-22 17-18 19-12 17-9 19-2 10-1 12 0 9 2 13 5 13 6 12 7 11 9 11 10 10 12 10 27 18 32 16 37 14 43 12 40 7 41 4 43 2 44-2 40-5 44-8z"/><path fill="#17aeda" d="M4939 4953l38-13 28-12 25-14 23-16 19-19 12-16 9-19 4-18 0-19-2-11-3-10-11-20-15-18-19-16-27-18-26-14-30-12-34-11-39-8-35-6-35-2-39-1-35 1-41 5-37 7-34 8-37 13-28 12-25 14-23 17-19 18-12 17-9 18-3 11-2 11 0 11 2 9 2 8 4 13 7 11 8 12 9 10 11 10 26 19 31 16 30 12 41 13 40 8 41 6 41 2 47 0 42-4 38-6z"/><path fill="#17aeda" d="M5064 4451l34-10 29-12 26-13 24-16 21-17 14-17 11-18 4-11 3-10 1-20-4-17-3-9-6-12-13-18-17-17-26-18-25-14-29-13-33-11-34-8-38-7-39-4-45-1-37 1-37 3-34 6-35 8-33 9-35 15-26 13-23 16-20 18-14 19-9 18-4 10-2 10 0 10 1 14 2 8 5 13 7 11 8 11 16 18 24 19 30 17 34 15 41 13 38 8 39 6 42 3 47 0 42-4 38-5z"/><path fill="#13b0d7" d="M4921 4952l35-10 30-11 27-13 24-15 21-17 17-20 11-17 6-19 2-10 0-10-3-18-4-10-5-10-13-18-17-17-21-16-29-17-29-13-33-11-37-9-33-6-39-4-36-2-36 1-42 4-38 6-34 8-32 10-29 12-30 15-20 14-21 17-15 19-6 10-5 10-3 10-2 11 0 12 1 9 2 9 4 13 12 19 15 17 12 10 12 9 29 18 29 12 39 14 38 9 44 6 38 4 39 0 44-2 39-5z"/><path fill="#13b0d7" d="M5047 4450l36-9 30-12 28-12 24-15 22-17 18-19 11-17 5-9 3-10 2-19-2-18-2-9-5-12-13-19-16-17-20-16-29-17-29-13-32-11-32-8-39-8-38-4-38-2-37 1-39 3-40 5-37 9-32 9-29 12-29 14-22 15-20 17-15 19-7 10-4 10-3 10-2 11-1 12 1 9 2 9 5 12 11 20 16 17 11 10 12 9 29 18 34 15 32 11 37 10 43 7 40 3 45 1 34-2 40-5z"/><path fill="#0eb3d4" d="M4941 4941l30-10 29-12 25-14 22-17 19-18 12-17 8-19 3-17-1-19-3-11-3-8-11-20-15-17-20-17-22-14-27-14-30-12-35-10-31-7-35-6-38-3-38 0-35 1-33 4-37 6-33 9-33 10-28 12-26 14-23 16-19 18-13 17-9 18-3 10-2 12 0 12 1 9 3 9 5 12 12 19 9 11 11 10 12 9 14 9 31 17 30 12 34 10 39 9 45 6 41 2 47 0 41-4 38-6z"/><path fill="#0eb3d4" d="M5066 4440l33-10 28-13 26-13 23-16 19-18 13-17 9-18 3-11 2-10-1-18-4-17-4-9-7-11-14-18-19-16-23-15-26-14-30-12-34-11-31-7-35-5-39-4-40-1-35 2-34 3-37 6-35 8-31 10-29 12-26 14-23 16-20 18-13 17-9 18-3 10-1 11 0 13 1 9 2 9 5 12 13 19 16 17 11 10 13 9 30 17 35 15 33 11 39 9 40 6 43 3 46-1 42-3 38-6z"/><path fill="#07b5d0" d="M4920 4942l30-9 30-11 28-13 24-15 20-17 14-16 11-18 4-10 3-11 1-10 0-9-4-18-8-20-14-18-18-17-21-15-25-14-29-13-29-9-34-9-36-7-35-4-33-1-39 1-37 3-38 6-35 8-32 10-29 11-27 14-23 16-20 17-14 17-9 18-4 11-2 10 0 9 1 10 1 8 5 13 11 19 15 18 11 10 13 9 29 17 29 13 32 11 38 9 43 7 40 4 41 0 43-2 40-5z"/><path fill="#07b5d0" d="M5047 4440l37-11 30-11 27-13 24-15 20-18 14-15 11-18 4-10 3-10 1-11 0-9-4-18-7-16-12-19-18-17-20-15-25-14-29-13-29-10-33-9-38-7-34-4-41-1-37 0-35 3-40 6-32 7-33 10-29 11-27 14-23 15-20 18-14 17-9 18-4 9-2 11 0 10 0 9 2 9 4 13 11 19 16 18 11 10 12 9 29 17 28 13 32 12 37 9 42 8 39 3 39 1 44-2 39-5z"/><path fill="#03b7cc" d="M4943 4930l29-10 28-13 24-15 22-17 14-15 11-17 5-9 3-11 2-17-2-18-7-18-11-17-16-18-20-16-23-14-28-13-29-11-33-10-38-7-37-5-31-2-38 1-34 2-34 4-34 7-33 9-30 11-28 13-20 12-22 16-15 15-12 17-5 9-3 10-3 11-1 11 1 9 2 11 3 11 6 12 14 18 18 17 12 9 14 9 32 16 31 12 36 10 41 7 42 5 40 1 45-1 40-5 37-6z"/><path fill="#03b7cc" d="M5068 4429l31-11 29-12 25-15 18-13 19-18 12-17 5-9 3-10 4-17-1-19-5-16-4-8-7-12-16-18-19-16-23-15-27-13-25-9-34-11-32-6-35-6-35-2-39-1-35 1-33 4-37 6-28 7-31 10-29 12-26 14-23 16-15 14-15 19-9 17-3 11-1 10 0 11 2 12 3 10 5 10 12 19 17 17 12 10 13 9 31 17 30 12 34 10 39 9 36 5 42 3 46-1 41-4 38-6z"/><path fill="#01b8c8" d="M4920 4932l32-10 29-12 26-13 19-12 21-18 13-16 10-18 6-18 1-10 0-9-4-18-7-16-14-18-17-17-22-15-25-14-29-13-33-11-31-7-32-5-33-4-40-1-36 1-33 3-38 6-35 8-31 10-29 13-25 14-23 16-15 14-13 17-9 18-3 11-2 11 0 11 2 9 2 8 6 12 12 19 17 17 12 10 14 9 25 14 30 12 34 11 39 8 36 5 36 3 39 0 43-2 39-6z"/><path fill="#01b8c8" d="M5047 4430l32-10 30-11 26-13 24-16 21-17 13-16 10-18 5-15 2-18-3-18-7-16-12-19-17-17-21-15-25-15-28-12-33-11-30-8-35-6-38-4-36-1-36 1-34 3-37 5-30 7-32 9-29 12-27 14-23 15-16 14-15 19-10 18-3 10-2 10 0 10 1 9 2 9 4 12 12 19 16 18 20 16 29 17 28 13 32 11 37 9 35 6 42 4 39 1 43-3 39-5z"/><path fill="#02bac4" d="M4946 4919l27-11 27-13 24-15 16-14 14-15 11-18 6-15 1-9 1-10-3-18-6-16-9-16-16-17-20-16-24-15-27-13-27-9-26-8-35-7-32-5-35-3-39 0-34 2-38 5-31 6-33 9-30 11-28 13-20 11-21 17-15 15-12 17-6 15-3 10-1 12 1 11 2 9 2 8 6 12 14 19 17 16 13 10 14 9 32 16 31 11 36 10 42 8 38 3 39 2 45-2 40-5 36-7z"/><path fill="#02bac4" d="M5070 4418l30-11 28-13 24-15 17-13 15-15 12-17 4-10 3-9 3-15-2-19-5-17-9-15-15-18-19-16-21-13-24-12-31-12-27-9-37-8-36-5-34-2-36-1-36 2-32 4-37 6-34 9-30 11-28 13-20 11-21 17-15 15-12 17-6 14-3 11-1 11 1 12 1 9 3 8 6 12 13 18 18 17 12 10 14 9 31 16 31 12 36 10 32 6 41 5 41 2 36-1 41-4 37-7z"/><path fill="#07bcc0" d="M4919 4922l28-9 29-12 26-13 19-13 20-17 13-16 10-19 4-16 1-9-1-10-4-17-8-16-14-18-18-16-22-16-26-13-24-10-27-9-29-7-34-6-35-4-31-1-36 1-34 3-38 6-28 6-32 10-29 12-26 13-23 16-16 14-14 17-9 18-3 10-1 11-1 9 2 9 5 17 4 8 7 11 16 18 20 16 14 9 15 8 29 12 33 11 39 9 35 5 42 3 38 0 42-3 39-5z"/><path fill="#07bcc0" d="M5046 4419l28-8 30-11 26-13 24-16 20-17 13-17 10-18 4-16 0-14-3-18-8-18-12-16-18-17-21-16-26-13-23-10-34-11-30-7-30-6-34-3-32-2-39 1-38 3-34 6-32 7-32 10-29 12-21 11-23 16-15 14-14 17-9 18-3 10-2 10 0 10 1 9 5 17 4 8 8 11 15 18 20 16 29 17 29 13 32 11 38 9 35 5 37 3 38 1 43-3 39-5z"/><path fill="#0ebdbb" d="M4954 4905l25-11 26-14 18-12 16-15 12-16 8-15 5-16 1-10-1-9-3-17-8-16-12-16-16-16-17-12-25-15-24-11-30-10-29-8-33-6-37-4-30-2-30 1-33 2-34 4-33 7-27 7-30 11-28 13-19 12-20 16-15 15-10 14-5 9-3 10-2 11-1 11 1 9 4 13 3 8 7 11 15 18 19 17 13 9 15 8 28 13 33 11 37 9 35 6 40 3 42 1 43-3 38-6 35-8z"/><path fill="#0ebdbb" d="M5072 4406l29-11 22-10 24-15 17-14 14-15 11-17 6-17 3-15-2-18-6-17-9-15-16-17-16-13-23-15-27-13-25-10-28-8-34-7-34-5-34-2-32-1-32 2-33 3-37 7-27 7-31 10-29 12-20 12-22 16-15 15-12 17-7 15-3 11-1 10 1 13 2 9 3 9 6 11 14 19 18 16 13 10 14 8 27 14 31 11 36 10 33 6 38 4 39 2 36-1 41-4 43-9z"/><path fill="#16bfb7" d="M4917 4912l31-10 23-9 26-14 19-13 16-14 14-16 9-18 5-18 0-15-3-17-8-16-13-18-14-14-22-15-25-14-29-12-28-9-30-7-31-5-34-3-33-2-33 1-33 4-38 6-27 6-32 10-29 13-20 11-23 16-16 14-12 17-8 16-3 11-1 8 0 11 1 9 6 17 4 7 8 12 16 17 21 16 25 14 29 12 33 11 40 8 36 5 36 3 38 0 42-4 31-4z"/><path fill="#16bfb7" d="M5045 4409l30-9 29-12 26-13 19-13 16-14 13-16 10-18 5-16 0-16-3-18-8-16-14-18-14-14-22-15-24-13-25-11-33-10-31-7-35-6-30-2-36-1-35 1-33 3-30 5-29 7-31 10-29 12-21 11-22 16-16 14-12 16-9 17-3 10-1 9 0 11 2 9 5 16 4 8 8 11 17 18 20 15 25 15 28 12 34 11 30 7 34 6 41 3 38 1 35-2 39-6z"/><path fill="#1ec0b2" d="M4899 4911l28-7 30-11 28-13 19-12 22-17 14-15 9-16 6-16 2-15-1-9-1-9-7-16-5-9-7-10-14-14-20-16-25-14-23-10-32-11-30-8-31-5-31-4-34-1-36 0-33 3-31 5-28 6-33 10-29 12-21 11-22 14-17 15-14 16-9 17-4 18-1 8 1 10 4 16 4 8 7 12 16 17 19 16 25 15 28 13 33 11 30 7 34 6 38 3 39 1 35-2 32-3z"/><path fill="#1ec0b2" d="M5078 4394l24-10 26-14 18-12 16-15 13-15 8-14 5-15 1-9 0-10-3-17-7-17-11-14-13-14-17-13-24-14-23-11-31-11-29-7-33-7-28-3-32-2-35 0-31 2-35 4-29 6-27 7-30 11-28 13-20 11-17 14-15 15-9 13-8 18-2 10-1 10 1 9 1 9 3 8 6 12 13 18 18 17 13 9 15 9 27 13 31 12 37 9 33 6 40 4 41 1 35-2 39-5 36-8z"/><path fill="#24c2ae" d="M4915 4902l28-9 23-9 26-14 19-13 16-14 13-16 5-9 4-10 3-15 1-10-1-9-5-16-9-17-12-14-15-13-22-15-21-11-29-12-28-9-33-7-33-5-30-3-34 0-30 1-34 4-33 6-27 7-31 10-28 13-20 11-18 13-15 15-12 17-7 14-3 10-1 10 1 10 1 9 6 16 5 8 8 11 17 17 22 15 26 14 23 10 34 10 32 7 35 5 42 3 37 0 34-3 38-6z"/><path fill="#24c2ae" d="M5044 4399l26-8 29-11 21-11 19-13 17-13 14-16 10-18 5-16 1-14-4-18-7-17-13-17-14-14-22-15-22-12-27-12-27-8-31-8-31-5-33-3-34-1-33 1-33 3-31 5-32 7-27 9-29 12-21 11-21 16-16 15-13 17-6 14-3 10-1 10 0 10 2 8 6 17 4 8 9 11 17 17 21 15 26 14 23 10 34 11 30 7 36 5 35 3 38 0 34-2 39-6z"/><path fill="#29c3a9" d="M4896 4901l32-8 25-9 27-13 19-12 17-13 15-16 11-17 5-15 2-16-1-10-2-8-7-16-10-15-13-14-21-16-24-14-23-10-26-9-29-8-34-6-28-3-33-2-32 1-34 2-31 5-28 6-33 9-29 12-21 11-20 14-19 16-11 14-9 16-4 17-1 10 1 9 5 17 4 8 7 11 13 14 20 16 24 15 28 12 34 11 30 7 35 6 30 2 33 1 35-1 41-5z"/><path fill="#29c3a9" d="M5026 4399l29-8 25-9 28-12 20-12 17-13 15-15 12-17 7-16 3-15-1-9-1-9-6-17-9-15-13-14-20-16-24-14-22-11-26-9-28-8-33-6-30-4-32-2-34 0-37 3-31 4-29 6-33 9-29 12-21 11-20 13-19 17-11 14-9 16-4 17-1 10 1 9 5 17 4 8 7 11 13 14 19 16 24 15 28 12 33 11 30 8 35 5 29 3 37 1 35-1 33-4z"/><path fill="#2ec4a5" d="M4913 4892l31-10 23-10 20-11 19-13 15-14 13-16 7-15 4-16-1-16-4-17-9-16-11-14-15-13-22-15-21-11-24-10-27-9-30-7-32-5-33-3-29-1-34 1-26 3-31 5-30 7-29 9-29 12-20 12-19 13-15 14-12 16-8 14-2 9-2 10 0 9 2 9 5 17 5 8 7 11 18 17 21 15 26 14 24 10 34 10 32 7 37 4 32 2 41 0 33-3 31-5z"/><path fill="#2ec4a5" d="M5042 4389l29-9 23-9 21-11 19-13 16-14 14-16 8-15 5-16 1-15-4-17-8-16-11-15-14-13-21-16-20-11-27-11-23-7-30-8-34-6-29-3-34-1-29 1-34 2-33 6-32 7-25 8-29 12-21 12-18 12-15 15-13 16-7 14-2 8-2 10 0 10 1 9 6 17 4 7 8 12 17 17 21 15 26 14 24 10 34 10 31 7 35 5 32 2 37 0 34-3 39-5z"/><path fill="#31c6a0" d="M4894 4892l29-8 25-9 22-10 20-12 17-13 15-15 11-17 6-15 2-17-2-15-6-17-10-15-14-14-16-12-23-15-23-10-25-9-29-8-28-6-33-4-32-2-28 1-35 2-31 4-28 6-27 8-30 11-21 11-24 15-16 14-13 16-7 14-5 15-1 9 1 9 4 18 4 8 7 11 12 14 20 16 24 14 23 11 32 11 30 7 35 6 29 3 38 1 35-2 33-4z"/><path fill="#31c6a0" d="M5023 4389l27-7 31-11 22-10 20-12 17-13 15-15 11-17 6-15 2-17-2-15-7-17-10-15-13-14-16-12-24-15-23-10-25-9-29-8-34-6-28-3-33-2-33 1-34 2-31 5-28 6-26 8-29 11-21 11-19 13-16 14-13 16-8 14-4 15-1 9 0 9 5 17 3 8 8 12 12 14 19 16 24 14 23 11 32 11 30 8 32 5 31 3 32 1 36-1 32-3z"/><path fill="#35c79a" d="M4911 4882l28-9 23-10 21-11 18-13 15-15 9-12 7-14 5-16 0-14-4-17-8-16-12-14-14-14-22-15-21-11-24-9-27-9-31-7-29-4-28-3-33-1-29 2-31 3-30 5-26 6-27 9-23 9-21 11-18 13-16 14-13 16-7 14-4 16-1 9 1 10 5 16 4 8 8 11 17 18 21 15 26 14 24 9 35 11 33 6 37 4 32 2 36-1 33-3 30-5z"/><path fill="#35c79a" d="M5040 4380l27-9 23-9 21-11 18-13 16-14 13-16 7-14 4-16 1-14-5-17-8-16-11-15-15-13-17-12-21-11-25-11-25-8-30-7-33-5-32-3-30-1-33 1-27 3-29 5-29 7-26 8-23 9-21 11-18 13-16 14-13 16-8 14-4 16 0 9 1 9 5 17 4 8 8 11 16 18 22 15 25 14 24 9 27 9 31 7 36 5 35 2 37 0 34-3 30-4z"/><path fill="#39c895" d="M4891 4883l28-8 24-9 27-13 19-12 17-14 14-15 7-14 5-15 1-16-2-13-7-17-11-15-14-13-21-16-20-11-23-10-27-8-30-8-29-4-33-4-29 0-27 0-33 4-30 5-28 6-25 8-23 10-22 12-18 11-16 15-11 14-8 16-4 16 1 15 5 17 8 16 13 14 19 16 24 14 23 11 26 8 29 8 34 6 33 3 30 1 36-1 32-4z"/><path fill="#39c895" d="M5021 4380l31-9 24-9 22-10 20-12 17-13 14-15 9-13 6-17 2-15-2-13-5-17-10-15-13-14-16-13-24-14-23-10-26-9-24-7-31-5-31-4-29-2-30 1-34 2-31 4-28 7-26 7-24 9-21 11-20 12-16 14-14 16-8 14-5 16 0 10 0 9 5 17 9 16 12 14 20 16 24 14 22 11 26 9 29 7 33 6 37 4 29 1 36-2 32-3z"/><path fill="#3eca8f" d="M4909 4873l26-9 22-10 21-11 17-13 15-15 9-12 7-15 3-16-1-16-4-12-8-16-12-14-16-13-18-12-21-11-24-10-27-8-32-7-27-4-30-2-29 0-34 2-24 3-30 5-27 7-25 8-22 10-21 12-17 12-12 12-12 16-7 14-2 9-1 10 0 9 2 9 7 16 10 15 14 13 21 16 26 13 25 10 28 8 31 7 33 4 37 2 32 0 33-3 30-5z"/><path fill="#3eca8f" d="M5038 4370l24-8 23-9 21-11 18-13 16-14 9-12 9-17 4-15-1-16-4-15-6-12-12-15-14-13-18-12-20-11-24-10-26-9-31-7-26-4-30-3-35-1-27 1-25 3-31 5-27 6-26 8-23 10-21 11-18 12-16 14-10 13-8 16-4 16 0 9 1 9 5 17 5 8 8 11 14 13 21 16 26 14 24 9 27 8 32 7 35 5 32 2 36-1 34-3 30-5z"/><path fill="#44cb89" d="M4888 4873l26-7 24-8 22-11 20-12 17-13 13-14 9-15 5-14 1-15-1-9-2-9-5-12-10-15-14-14-16-12-20-11-23-11-26-9-24-6-30-6-29-3-32-1-27 0-32 3-25 4-28 6-26 8-24 9-21 10-19 13-17 14-13 16-7 14-4 15 0 9 1 9 5 17 10 15 12 14 16 13 25 14 22 10 27 9 30 8 30 5 33 3 30 0 35-1 32-4z"/><path fill="#44cb89" d="M5018 4370l29-8 24-9 22-10 20-12 17-13 13-15 9-14 5-15 1-14-1-9-2-9-5-12-11-15-13-14-17-12-20-11-23-11-26-8-30-8-25-4-29-3-29-2-31 1-31 3-30 4-28 7-25 8-24 9-20 11-16 11-15 13-13 16-7 13-4 16-1 9 1 9 6 17 9 15 13 14 16 13 24 14 23 10 25 9 30 8 33 5 31 3 31 1 36-2 31-4z"/><path fill="#4ccb83" d="M4907 4863l23-8 23-9 20-12 17-13 14-14 9-13 5-11 3-16 0-14-2-8-3-9-7-11-12-14-15-14-18-12-21-10-24-10-28-8-24-5-29-4-28-3-33 0-26 1-25 3-29 5-27 7-25 9-23 10-20 11-16 12-13 12-9 13-7 14-3 16 0 9 1 9 6 17 11 15 13 13 22 16 26 13 24 10 29 8 32 6 29 4 31 2 37-1 33-3 30-5z"/><path fill="#4ccb83" d="M5036 4360l21-6 23-10 21-11 18-13 15-14 10-13 7-14 3-16 0-14-2-8-4-9-6-11-12-15-15-13-19-12-21-10-18-8-27-8-23-5-26-5-31-3-30-1-30 1-30 3-30 5-21 5-25 8-23 10-21 11-18 13-16 14-9 13-7 14-3 16 0 9 1 9 6 17 10 15 14 13 21 16 26 13 24 10 28 8 32 7 32 3 31 2 28 0 33-3 31-5z"/><path fill="#54cc7d" d="M4886 4864l23-7 24-8 22-11 20-12 17-13 10-12 9-14 6-16 1-14-3-15-7-15-11-15-14-13-17-12-21-11-17-8-26-9-23-5-25-5-35-4-30-1-27 1-25 2-30 5-28 6-26 8-23 10-19 10-16 11-15 13-10 13-8 15-4 15 0 15 2 8 3 9 9 15 13 14 16 13 24 14 23 10 26 9 31 7 27 4 33 3 29 1 35-2 32-4z"/><path fill="#54cc7d" d="M5016 4361l26-8 24-8 22-11 20-12 17-13 10-12 8-13 6-15 1-17-2-13-5-12-10-15-13-14-17-12-20-12-23-10-26-9-23-5-25-5-33-3-28-1-29 0-28 3-28 4-28 6-26 8-23 10-18 9-17 11-16 14-9 12-8 16-4 15 0 14 2 9 3 8 9 16 12 14 16 13 24 14 23 10 26 9 30 7 26 5 30 2 35 1 27-1 32-4z"/><path fill="#5ccc76" d="M4905 4854l20-7 23-10 20-12 13-10 15-14 9-13 6-15 3-13-1-14-3-9-3-8-9-13-11-12-15-13-19-12-22-10-19-7-27-8-26-5-27-4-30-2-28 0-28 2-29 4-22 4-27 8-24 8-22 11-15 9-14 10-14 14-9 13-6 13-3 15 1 9 1 9 7 16 11 15 14 13 23 16 21 10 25 10 28 7 25 5 34 4 31 2 27-1 34-2 30-5z"/><path fill="#5ccc76" d="M5034 4351l24-8 23-10 20-12 13-10 15-15 9-12 6-13 2-13 0-7-1-9-3-13-7-12-11-14-16-13-18-12-21-11-18-7-28-8-24-5-26-4-27-3-26 0-30 1-30 3-25 4-21 5-25 8-23 9-21 11-18 13-12 11-9 12-6 9-3 8-3 16 0 9 2 7 5 14 10 15 13 14 21 16 21 11 23 9 28 9 31 7 28 3 31 2 36 0 33-3 30-5z"/><path fill="#64cd6f" d="M4883 4854l21-5 25-9 22-10 19-12 16-14 11-12 7-14 5-15 1-14-3-13-5-12-11-15-14-13-17-13-21-11-18-7-26-9-23-5-25-5-29-3-32-1-27 1-24 3-31 5-20 4-26 8-23 10-21 11-18 13-11 11-9 13-7 13-4 16 1 14 2 8 4 8 9 15 14 14 16 13 20 11 23 10 27 9 31 6 27 4 30 3 28 0 27-1 32-4z"/><path fill="#64cd6f" d="M5013 4351l24-6 25-9 22-11 14-8 17-14 11-11 9-13 6-15 2-14-2-14-5-12-9-16-10-10-16-13-19-11-22-11-26-9-22-5-25-5-28-4-30-1-28 0-31 3-25 3-28 7-26 7-23 10-17 9-17 12-16 14-10 12-6 14-4 15 1 14 2 9 3 8 10 15 13 14 17 13 19 11 23 10 27 9 23 5 25 5 31 3 30 1 35-2 32-4z"/><path fill="#6dcd68" d="M4903 4844l23-9 17-7 20-12 13-10 15-15 8-12 4-12 3-15-1-13-5-13-7-11-12-15-15-12-19-12-23-10-19-7-24-7-27-5-24-4-28-1-24 0-29 1-27 4-22 4-24 6-22 7-18 8-19 11-18 13-11 11-9 13-7 14-3 16 2 14 2 8 4 8 10 15 15 13 17 13 21 10 24 10 28 8 32 7 31 3 30 1 27 0 33-4 30-5z"/><path fill="#6dcd68" d="M5032 4341l21-7 23-10 20-12 13-10 14-15 9-13 4-11 3-15-2-13-4-13-7-12-12-14-12-9-18-12-22-11-18-7-28-8-24-5-27-4-22-2-30 0-26 1-25 3-29 5-21 5-25 8-22 10-15 9-18 13-11 11-10 12-6 15-3 16 1 13 3 9 4 8 10 15 14 13 17 12 21 11 24 10 28 8 24 5 30 5 31 2 28-1 34-2 30-5z"/><path fill="#76cc61" d="M4880 4845l26-7 24-9 21-11 14-9 12-11 13-14 7-12 4-14 1-12-2-13-5-12-10-15-14-14-18-12-20-11-18-7-27-9-23-5-26-4-27-3-27 0-27 1-26 2-23 4-21 5-25 8-23 9-16 9-16 11-14 12-10 12-7 14-4 16 1 15 4 13 10 15 9 11 16 13 19 11 23 10 26 9 22 6 26 4 33 4 30 0 26-1 32-3z"/><path fill="#76cc61" d="M5011 4342l22-6 24-9 22-10 14-9 17-14 11-12 8-13 4-12 2-15-2-13-5-12-11-15-10-11-17-12-19-11-18-8-26-9-22-5-26-5-28-3-25-1-28 0-25 3-30 4-21 5-26 8-23 9-16 9-16 10-14 13-10 12-7 14-4 16 1 15 4 13 9 15 10 11 16 12 18 12 23 10 26 9 22 6 27 5 34 3 29 1 27-1 32-4z"/><path fill="#7fcc5a" d="M4901 4834l21-7 16-8 20-12 13-10 11-11 9-13 5-13 2-13-1-11-4-13-6-12-12-14-12-10-18-12-21-10-19-7-20-6-24-6-26-4-30-2-25 0-29 1-24 3-22 4-21 5-25 9-22 10-15 8-14 10-11 11-10 13-7 13-3 14 1 16 6 15 10 15 14 13 17 12 21 11 24 10 29 8 25 5 35 4 30 1 26-1 33-4 29-5z"/><path fill="#7fcc5a" d="M5030 4331l25-9 16-7 20-12 13-10 11-11 8-13 6-13 2-13-1-11-4-13-6-12-13-14-11-10-18-12-22-10-19-7-20-6-24-6-27-3-27-3-28 0-27 2-24 2-22 4-21 5-25 9-22 10-15 8-14 10-12 11-10 13-6 13-3 14 1 15 5 16 11 15 13 13 18 12 20 11 25 10 28 8 24 5 28 3 33 2 26-1 31-3 30-5z"/><path fill="#88cb53" d="M4878 4835l23-6 18-7 22-10 14-9 13-10 11-12 9-13 5-15 1-11-2-14-6-14-8-12-10-10-16-12-20-12-17-7-20-7-28-7-25-5-23-2-30-1-27 1-25 2-23 4-21 4-25 8-18 7-19 10-16 11-12 10-10 12-8 13-4 16 1 14 3 12 9 16 10 11 15 12 19 12 23 10 26 9 23 5 26 5 30 2 29 1 26-2 32-3z"/><path fill="#88cb53" d="M5008 4332l26-7 18-7 22-10 14-9 13-11 11-11 8-13 6-15 1-11-2-14-6-15-8-11-10-10-17-13-20-11-17-7-20-7-26-7-26-4-23-3-30-1-27 1-25 2-22 4-22 4-25 8-18 7-19 10-16 10-12 11-10 12-8 13-4 15 0 15 4 12 9 16 9 10 16 13 19 12 22 10 27 9 22 5 26 5 30 2 30 1 27-1 24-3z"/><path fill="#91ca4c" d="M4902 4823l20-8 17-8 18-12 12-11 10-12 6-9 4-11 1-15-2-13-5-12-8-11-14-14-17-12-15-8-18-8-19-7-22-5-24-5-23-3-21-1-29 0-19 1-30 4-21 4-25 7-20 8-16 7-18 10-15 12-10 12-8 13-4 10-2 6 0 10 2 13 6 12 10 15 15 13 18 12 22 11 26 9 30 7 26 4 22 2 30 1 26-1 32-4 29-6z"/><path fill="#91ca4c" d="M5030 4321l20-7 21-11 15-9 12-10 11-12 6-8 6-15 2-11-1-14-5-12-7-12-9-10-13-12-16-10-22-11-19-6-21-6-24-5-28-4-21-1-24-1-24 1-24 3-22 4-21 5-19 6-23 9-16 9-13 9-14 13-10 13-6 12-3 15 1 14 4 12 10 15 14 14 17 12 21 11 24 10 29 7 25 5 29 3 24 1 27 0 33-4 29-5z"/><path fill="#9ac945" d="M4875 4826l21-6 18-7 22-10 14-9 13-11 10-11 8-14 4-12 1-15-3-12-6-12-8-11-11-10-17-13-16-8-17-7-20-7-25-6-22-4-26-3-26-1-21 1-26 2-23 3-21 5-26 8-17 7-17 9-17 11-13 11-9 11-6 12-4 14 0 12 5 15 7 13 9 10 16 13 19 12 23 10 26 8 24 6 26 4 25 2 29 0 26-2 24-3z"/><path fill="#9ac945" d="M5006 4322l23-6 18-7 22-10 14-9 13-11 10-11 8-14 4-12 1-15-3-13-6-12-9-10-10-11-18-12-15-8-18-8-19-6-24-6-24-4-24-3-20-1-28 1-23 2-25 3-22 5-26 8-17 7-17 8-17 11-13 12-9 11-6 12-4 13 0 13 4 15 8 12 9 11 15 13 19 12 23 10 27 9 23 5 26 4 27 2 28 0 26-1 24-4z"/><path fill="#a3c83f" d="M4860 4824l21-5 19-6 23-9 16-9 13-9 12-11 9-12 7-14 2-14-1-14-5-12-7-11-10-11-13-10-18-11-17-8-19-7-24-6-22-4-27-4-23-1-25 1-26 2-23 3-21 5-20 5-24 9-16 8-14 10-12 10-10 12-8 13-4 14 1 14 4 13 6 12 9 10 16 13 19 12 17 7 19 7 21 6 25 5 28 3 28 1 27-1 24-2z"/><path fill="#a3c83f" d="M5033 4309l17-7 16-8 15-9 12-10 10-12 7-12 4-12 1-12-2-10-5-12-7-12-10-10-12-10-19-11-17-8-19-7-22-6-24-4-26-3-20-1-19-1-26 2-24 3-22 4-21 5-24 9-17 8-14 8-13 10-12 12-6 9-6 13-2 14 1 13 5 13 11 15 14 13 18 12 22 10 19 7 29 8 26 4 28 3 25 0 31-1 23-3 29-6z"/><path fill="#acc738" d="M4874 4816l24-7 17-7 16-8 14-9 13-11 10-12 7-13 3-11 0-12-2-10-6-13-8-11-10-10-18-12-15-8-18-8-19-6-23-6-25-4-22-2-21-1-27 1-24 2-23 4-20 5-20 6-23 10-15 8-14 10-11 11-8 9-6 13-3 15 1 13 5 13 7 11 10 10 16 13 20 11 18 8 20 6 23 6 26 4 30 2 28 0 26-2 23-3z"/><path fill="#acc738" d="M5004 4313l20-6 24-9 16-8 14-10 12-10 10-12 8-13 2-11 1-12-3-11-5-12-8-11-11-10-17-12-16-8-17-8-20-6-21-5-26-4-22-3-22 0-27 0-23 3-23 3-20 5-20 6-23 10-15 8-14 10-11 11-8 9-6 12-3 15 1 14 5 13 7 11 10 10 16 13 20 11 17 8 20 6 23 6 26 4 30 2 30 0 25-2 23-3z"/><path fill="#b4c533" d="M4858 4815l24-7 19-6 17-7 15-9 14-9 11-11 9-12 5-11 2-11-1-12-2-10-7-12-9-11-11-10-18-11-16-8-18-8-21-6-20-4-25-3-21-2-29 0-25 1-24 4-21 4-20 6-24 9-15 8-15 9-12 11-8 9-7 12-3 11-1 15 4 12 6 12 9 11 11 10 18 12 16 8 19 7 21 6 24 5 28 3 23 1 27 0 25-2z"/><path fill="#b4c533" d="M4989 4311l26-7 19-6 17-7 15-9 14-10 11-11 9-11 4-11 3-11-1-12-3-10-6-12-9-11-11-10-18-12-16-8-19-7-21-6-19-4-24-3-22-2-28 0-26 2-24 3-21 4-20 6-24 9-16 8-14 9-12 11-8 9-7 12-3 11-1 14 3 13 7 12 8 11 12 10 18 12 16 8 25 9 21 5 26 5 19 2 24 2 27-1 25-2z"/><path fill="#bdc42f" d="M4872 4806l21-6 17-7 16-8 14-10 12-10 9-12 6-12 3-10 0-10-3-13-6-11-9-11-11-10-13-9-16-8-17-8-21-6-19-5-21-3-20-2-25-1-23 0-21 2-23 4-20 5-20 6-17 7-16 8-14 9-12 11-9 12-6 11-3 11 1 14 4 12 7 12 10 10 16 13 20 11 18 7 20 7 23 5 27 4 25 1 28 0 25-2 23-3z"/><path fill="#bdc42f" d="M5003 4303l23-7 17-7 16-8 14-10 12-10 9-12 5-10 3-10 1-12-3-13-6-12-9-10-11-10-14-9-15-9-18-7-20-6-18-4-23-4-24-2-20-1-27 1-24 2-23 4-20 5-19 7-17 7-15 9-13 9-12 11-6 9-5 11-3 10 1 14 4 13 7 12 9 10 16 13 20 11 18 7 20 7 24 5 21 3 26 2 25 1 25-2 24-3z"/><path fill="#c4c22a" d="M4856 4805l21-6 19-6 17-7 15-9 14-10 11-11 6-10 5-11 2-13-1-11-5-12-5-8-10-10-11-10-14-9-17-8-18-7-22-6-16-3-24-3-24-2-25 0-18 1-23 3-22 5-20 5-18 7-16 8-15 9-12 10-11 12-6 11-3 13 0 12 2 9 6 12 8 11 11 10 19 11 16 8 19 7 21 6 25 5 26 3 26 1 21-1 25-3z"/><path fill="#c4c22a" d="M4987 4301l23-6 19-6 17-7 15-9 13-10 11-11 7-10 5-11 2-13-2-11-3-8-7-12-9-10-12-10-14-9-16-8-19-7-21-6-16-3-24-3-25-2-24 0-18 1-23 3-22 5-20 5-18 7-16 8-15 9-13 10-10 12-6 11-4 13 0 12 3 9 5 12 9 10 11 10 18 12 16 8 19 7 22 6 24 5 27 3 25 1 22-1 25-3z"/><path fill="#ccc028" d="M4872 4796l16-5 17-7 16-8 14-10 11-11 8-10 5-11 3-10-1-10-3-13-5-9-8-9-10-10-14-9-15-9-18-7-21-6-15-4-25-4-22-1-24-1-22 1-38 6-21 5-19 6-17 8-15 8-13 10-7 8-8 10-5 11-3 12 1 12 5 13 8 11 10 10 17 13 16 8 18 7 20 6 24 5 27 3 20 2 19-1 26-1 23-4z"/><path fill="#ccc028" d="M5003 4292l17-5 18-7 16-8 14-10 11-11 8-10 5-11 2-11 0-9-3-13-6-9-7-10-11-10-13-9-16-8-18-7-20-6-16-4-24-3-22-2-25-1-21 1-38 6-21 5-19 6-17 8-15 8-13 10-7 8-8 9-6 12-2 12 1 12 5 13 7 11 10 10 18 12 15 9 18 7 21 6 23 5 28 4 21 1 27-1 17-1 23-4z"/><path fill="#d3bf27" d="M4855 4795l17-5 19-6 17-7 15-9 13-10 7-7 9-12 4-11 2-11-2-13-4-10-7-9-10-11-12-9-15-9-16-7-20-6-16-4-25-5-20-2-40 0-17 1-24 3-21 5-19 6-18 7-15 8-14 10-8 7-8 10-6 11-3 11 0 12 3 10 6 12 10 11 11 9 14 9 17 8 19 7 22 6 24 4 21 2 23 1 25-1 24-3z"/><path fill="#d3bf27" d="M4986 4291l19-5 19-6 17-7 15-9 13-10 7-8 9-12 4-10 1-11-2-13-4-10-6-10-7-7-11-9-14-9-17-8-19-7-14-4-19-4-24-3-21-1-25 0-20 1-23 3-22 5-19 6-18 7-15 8-14 10-8 7-8 9-6 12-3 11 0 12 3 10 6 12 9 11 12 9 14 9 16 8 19 7 22 6 25 4 20 2 23 1 26-1 24-3z"/><path fill="#dabd28" d="M4874 4784l14-4 17-8 15-9 9-6 11-11 6-9 5-10 2-11-1-12-3-10-5-7-9-11-11-10-14-8-17-8-13-5-17-5-19-4-38-5-23 0-18 0-16 2-23 4-33 9-18 7-16 8-13 10-8 7-9 12-5 10-2 11 1 12 3 10 8 12 10 10 17 12 15 8 19 7 21 7 23 4 20 2 23 2 25-1 19-2 23-3z"/><path fill="#dabd28" d="M5005 4281l16-6 17-7 15-9 9-6 11-11 6-9 5-11 2-10-1-12-4-10-4-8-9-10-12-10-14-9-16-7-13-5-17-5-20-4-38-5-40 1-16 1-23 4-34 9-17 7-16 8-13 10-8 7-9 11-5 10-2 12 1 12 3 10 7 11 10 11 17 12 16 8 18 7 21 7 25 4 22 3 21 1 23-1 20-2 23-3z"/><path fill="#e1bc2b" d="M4855 4784l19-5 18-6 16-8 10-6 8-7 11-11 7-10 4-11 1-10-1-9-3-8-7-11-6-7-12-10-14-9-17-8-19-7-14-3-16-4-24-3-20-1-19 0-17 1-24 3-35 9-18 6-16 8-14 9-8 7-10 11-5 10-3 11-1 11 3 9 6 12 8 10 12 10 14 9 17 8 19 6 23 6 19 3 22 2 20 1 26-2 16-1z"/><path fill="#e1bc2b" d="M4986 4281l20-6 19-6 16-8 9-6 9-7 11-11 6-9 4-9 2-12-1-10-3-8-7-12-7-7-11-9-14-9-17-8-19-7-15-3-16-4-22-3-21-1-20 0-24 2-16 2-16 3-19 5-18 7-16 8-14 9-8 7-10 11-6 10-3 10 0 12 2 9 6 11 9 11 12 10 14 9 16 8 20 6 14 4 25 5 19 2 23 1 21-1 24-2z"/><path fill="#e7bb2e" d="M4841 4782l17-4 19-5 12-5 16-8 10-6 12-10 10-12 5-9 2-9 1-9-2-9-6-12-6-8-10-10-13-9-16-8-15-6-18-5-15-3-24-4-21-1-19-1-17 1-24 3-15 3-20 5-18 7-16 8-11 7-11 9-7 8-7 11-3 11 0 10 1 8 6 12 6 8 10 10 14 9 16 8 12 5 20 6 24 5 19 2 21 1 24 0 16-1z"/><path fill="#e7bb2e" d="M4973 4278l18-4 19-6 12-4 16-8 10-6 12-10 10-12 5-10 2-8 0-10-2-8-5-12-6-8-11-10-13-9-16-8-13-5-19-6-16-3-22-4-22-1-19-1-17 1-24 3-15 3-20 5-18 7-16 8-11 7-12 9-6 8-7 11-3 11-1 9 2 9 6 12 5 7 11 11 13 9 16 8 18 7 14 4 24 5 19 2 21 2 25-1z"/><path fill="#edba33" d="M4856 4773l18-5 12-5 16-8 10-6 12-10 7-8 5-9 4-10 0-12-3-10-4-8-8-10-8-7-13-9-16-8-12-5-21-6-15-4-18-2-19-2-20 0-20 1-36 5-14 3-18 7-17 7-10 6-11 8-8 7-8 11-4 8-2 12 1 12 5 11 6 8 11 10 13 10 16 8 12 4 21 7 16 3 18 3 20 1 24 0 19-1 16-2z"/><path fill="#edba33" d="M4987 4270l14-4 18-7 16-8 10-6 12-10 7-8 5-9 3-9 1-10-2-9-4-11-6-8-7-7-13-9-15-9-11-5-15-5-20-5-36-5-36-1-18 1-23 3-15 4-19 5-17 7-11 6-14 9-8 7-7 9-6 12-2 10 0 9 3 9 6 12 6 7 12 9 14 9 16 8 20 7 15 3 23 4 22 2 26 0 19-1 16-2z"/><path fill="#f2ba38" d="M4842 4771l30-8 12-4 16-8 13-10 8-7 7-8 5-9 2-10 0-9-3-12-5-9-6-7-11-10-14-9-11-5-19-7-15-4-34-5-20-2-19 0-23 2-18 3-14 3-20 5-17 7-11 6-13 9-8 8-7 8-4 8-3 11 0 9 3 12 5 8 6 8 12 9 9 6 16 8 12 5 21 6 34 6 21 1 26 0 17-2z"/><path fill="#f2ba38" d="M4974 4267l31-8 11-4 16-8 14-10 8-7 7-8 5-9 2-10 0-10-3-12-5-8-6-7-12-10-14-9-11-5-19-7-14-4-34-5-20-2-19 0-24 2-17 2-14 3-20 6-17 7-11 6-14 9-7 7-7 8-5 9-3 10 1 10 3 12 5 8 6 7 11 10 9 6 16 8 12 5 21 6 35 6 20 1 19 0 25-2z"/><path fill="#f8ba3d" d="M4860 4761l26-9 16-9 8-6 8-8 6-8 5-10 2-10-1-9-2-8-5-8-9-11-8-6-14-9-23-10-14-4-21-5-32-3-21 0-17 1-31 4-16 4-17 5-14 7-13 7-8 6-8 8-6 8-5 9-2 11 1 9 3 8 7 12 10 10 13 9 11 6 18 7 21 6 17 3 18 2 21 1 19 0 24-3z"/><path fill="#f8ba3d" d="M4991 4258l17-6 11-5 15-8 9-7 8-7 6-8 5-10 2-10-1-9-3-9-4-7-10-11-7-6-15-9-23-10-14-4-20-5-33-3-20 0-17 1-31 4-18 4-15 5-14 6-13 8-9 6-7 8-7 8-4 9-2 11 1 9 2 8 8 12 10 10 13 9 10 5 18 8 22 6 16 3 20 2 20 1 27-1 16-2z"/><path fill="#fcbc3d" d="M4844 4760l28-8 17-8 10-6 8-6 9-9 5-7 4-11 1-10-1-7-3-10-5-7-7-7-12-10-10-5-14-7-16-5-15-4-28-5-19-1-20 0-33 4-14 3-20 5-17 7-11 6-9 6-8 7-7 8-5 10-3 9 0 10 3 9 4 8 6 7 11 10 9 6 16 8 20 7 14 3 17 3 19 2 22 1 18-1 16-1z"/><path fill="#fcbc3d" d="M4975 4256l30-8 17-8 9-6 9-7 8-7 6-8 4-10 1-11-1-7-4-10-5-7-6-7-13-10-9-6-14-6-24-7-16-4-19-3-19-1-20 0-33 4-14 3-20 5-18 7-10 6-9 6-8 7-7 8-6 9-2 10 0 10 2 9 5 8 5 7 12 10 9 6 16 8 19 6 15 4 16 3 20 2 22 1 18-1 16-2z"/><path fill="#febf3b" d="M4832 4757l18-4 13-4 12-4 16-9 9-6 8-7 7-8 4-9 2-7 0-9-2-9-4-8-5-7-8-7-13-9-10-5-25-10-15-3-19-4-22-1-19 0-33 3-28 6-18 7-11 5-10 6-8 7-7 7-7 10-3 10 0 10 2 8 4 8 6 8 7 6 8 7 15 8 19 7 14 4 16 3 18 3 33 1 17-1z"/><path fill="#febf3b" d="M4964 4253l19-4 13-4 12-5 16-8 9-6 8-7 6-8 5-9 2-7 0-10-2-8-4-8-6-7-7-7-13-9-11-6-25-9-15-3-18-3-22-2-19 0-33 3-28 6-18 7-11 5-10 6-8 7-8 7-6 9-3 11 0 10 2 8 4 8 5 7 7 7 9 6 15 9 18 7 14 4 16 3 19 3 33 1 17-2z"/><path fill="#fec339" d="M4848 4748l18-6 12-5 10-5 9-7 8-7 6-8 3-6 2-9 1-6-2-9-4-8-5-8-7-6-14-9-22-11-25-7-31-4-33 0-32 3-27 7-17 8-11 5-9 7-8 7-6 8-3 6-2 10 0 10 3 8 5 8 6 7 12 9 15 8 12 5 29 8 18 3 21 1 21 0 17-1z"/><path fill="#fec339" d="M4980 4244l13-4 17-7 11-6 9-6 8-7 6-8 3-7 2-8 0-7-1-8-4-8-6-8-7-6-13-10-22-10-29-8-32-3-28-1-32 4-27 7-18 7-10 6-9 6-8 8-6 8-3 6-3 10 1 9 3 9 4 7 7 7 12 10 15 8 12 5 29 8 17 3 21 1 22 0 17-1z"/><path fill="#fec636" d="M4835 4745l28-8 22-10 9-7 7-7 6-9 3-6 2-9-1-7-2-7-5-8-6-7-8-7-14-9-11-5-27-8-31-4-30-1-32 4-27 7-23 9-9 6-9 7-6 8-5 9-2 8 0 9 2 8 5 8 6 7 8 7 9 6 16 8 28 8 30 4 31 1 15-1z"/><path fill="#fec636" d="M4967 4241l17-4 12-4 21-11 9-6 8-7 6-9 3-7 1-8 0-7-3-8-4-7-6-7-8-7-14-9-11-5-28-8-30-4-31-1-31 3-27 7-23 10-9 6-9 7-7 8-4 9-2 7 0 10 2 8 5 8 6 7 7 7 10 5 16 8 27 9 31 4 30 1 16-2z"/><path fill="#feca33" d="M4825 4741l29-7 22-9 10-7 8-7 7-8 3-6 2-8 0-7-2-9-4-7-6-8-8-6-9-6-10-5-13-5-14-4-29-5-30-1-31 3-16 3-13 4-22 10-10 6-8 7-7 8-2 4-3 7 0 10 2 9 4 7 6 8 8 6 9 6 11 6 12 4 14 4 29 5 30 1z"/><path fill="#feca33" d="M4957 4237l30-7 22-10 10-6 8-7 6-8 4-6 2-9 0-6-2-9-4-8-6-7-8-6-9-6-11-6-12-4-14-4-29-5-30-1-31 3-29 7-23 9-9 7-8 7-7 8-2 4-3 7 0 10 2 9 3 7 7 8 8 6 9 6 10 5 12 5 14 4 30 5 30 1z"/><path fill="#fdce31" d="M4843 4732l14-5 11-5 10-5 9-7 6-7 4-6 3-6 1-9-1-6-2-8-5-7-6-6-14-10-11-6-12-4-22-6-28-3-25 0-30 4-27 7-11 5-10 6-9 7-6 6-4 6-2 6-2 9 1 6 3 8 5 8 6 7 13 9 11 5 12 5 15 4 16 3 31 2 28-2z"/><path fill="#fdce31" d="M4975 4228l20-7 11-6 9-6 12-11 5-9 2-7 0-5-2-9-4-8-6-7-7-6-9-6-17-8-27-8-24-3-31 0-30 4-20 5-12 4-10 6-10 6-8 7-6 8-2 5-2 7 0 10 3 8 5 7 7 7 8 7 10 5 12 5 13 5 15 3 18 3 15 1 19 0 16-2z"/><path fill="#fbd22f" d="M4831 4729l22-7 11-5 10-6 9-6 7-8 5-12 0-5-1-9-6-11-6-7-9-7-18-9-24-7-27-4-32 0-24 3-20 5-12 5-11 5-14 11-6 7-3 6-2 9 0 6 2 8 3 4 5 8 8 6 9 6 11 5 12 5 15 4 27 4 31 0z"/><path fill="#fbd22f" d="M4963 4225l23-7 11-5 10-6 12-10 6-9 2-5 1-5 0-6-2-9-5-7-7-7-8-7-18-9-25-7-27-4-31 0-24 3-20 5-12 5-11 5-14 11-6 7-3 6-2 9 0 6 2 7 2 5 6 7 7 7 9 6 11 5 13 5 14 4 27 4 14 0 18 0z"/><path fill="#fad62d" d="M4823 4724l21-5 11-4 11-6 9-6 6-6 4-6 3-6 1-5 0-9-1-5-5-7-10-11-9-6-11-5-24-7-24-4-29 0-23 2-22 6-11 4-11 6-13 10-6 8-3 5-1 6 0 9 1 5 5 7 6 7 9 7 15 8 20 6 28 5 29 0z"/><path fill="#fad62d" d="M4955 4220l21-5 12-5 11-5 9-6 5-6 5-6 3-6 1-5 0-10-2-4-4-8-10-10-9-6-11-5-24-7-24-4-29 0-24 2-21 6-12 4-10 6-13 10-7 8-2 4-2 7 1 9 1 4 5 8 6 7 8 6 16 9 24 7 24 4 29 0z"/><path fill="#f8da2b" d="M4816 4719l24-5 17-7 14-10 6-6 4-6 3-10-2-9-3-6-4-6-7-7-14-8-19-7-25-5-21-1-29 2-25 5-17 8-14 9-6 6-4 6-2 11 1 9 3 6 4 5 7 7 14 8 19 7 25 5 21 2z"/><path fill="#f8da2b" d="M4948 4215l18-3 19-7 15-8 11-12 5-10 0-5-1-9-3-6-4-5-12-10-15-8-13-4-12-3-24-3-28 0-23 4-13 3-12 5-10 5-9 7-6 6-4 6-3 11 2 8 2 6 5 6 7 7 14 8 19 7 24 5 22 2z"/><path fill="#f6de29" d="M4810 4714l19-4 19-6 15-9 7-7 6-9 1-5 0-7-4-10-10-10-9-6-11-6-21-6-28-3-26 1-22 4-13 4-11 5-14 10-5 6-3 6-2 6 0 6 4 11 10 10 15 9 19 6 24 5 20 0z"/><path fill="#f6de29" d="M4942 4210l20-4 19-6 15-9 7-7 5-9 2-6 0-6-4-10-10-11-9-6-12-5-21-6-27-3-26 1-23 4-12 4-11 5-14 10-5 6-4 6-1 6 0 6 2 6 2 4 10 11 14 8 19 7 25 5 20 0z"/><path fill="#f5e227" d="M4832 4703l17-7 12-9 7-10 2-5 0-6-1-6-2-4-9-10-10-7-17-7-19-4-22-2-20 1-20 4-19 6-10 6-8 7-4 6-3 5-1 8 1 6 2 4 6 8 13 9 18 7 24 5 22 1 20-1z"/><path fill="#f5e227" d="M4964 4199l18-8 12-8 7-10 2-5 0-6-1-6-2-4-10-10-14-9-13-5-18-4-22-2-21 1-19 4-19 6-10 6-8 7-5 5-2 6-1 8 1 6 2 4 6 8 12 9 18 7 19 4 22 2 26-2z"/><path fill="#f5e626" d="M4827 4697l12-5 14-9 7-8 2-4 1-6-2-9-6-8-12-9-12-5-14-4-21-2-23 0-19 3-18 7-10 5-8 7-5 10-1 5 1 5 2 4 5 8 13 9 11 5 23 5 21 2 18-1z"/><path fill="#f5e626" d="M4959 4193l13-5 14-9 7-8 2-6 1-4-3-9-5-8-13-9-11-5-15-4-20-3-23 1-19 3-18 6-10 6-8 7-5 9-1 6 1 5 1 4 6 7 12 10 12 5 23 5 20 2 19-2z"/><path fill="#f5ea24" d="M4800 4695l16-2 12-4 11-5 9-7 5-7 2-7-1-7-5-8-4-3-9-6-12-5-21-5-20 0-16 1-20 5-16 9-4 4-5 6-2 7 2 8 5 7 3 4 9 5 12 5 15 4 16 2z"/><path fill="#f5ea24" d="M4932 4191l16-2 13-4 11-6 9-6 5-7 1-7-1-7-5-8-3-3-9-6-12-5-21-5-20-1-16 2-21 5-15 9-4 3-5 7-2 7 1 7 5 8 4 3 9 6 12 5 15 4 16 2z"/><path fill="#f5ee21" d="M4800 4688l10-2 13-4 11-5 8-7 2-4 2-5-1-5-1-4-6-7-9-6-15-6-14-2-19-1-16 2-18 7-10 6-6 8-2 5 2 9 6 7 9 6 13 4 15 4 12 0z"/><path fill="#f5ee21" d="M4932 4184l11-2 13-4 10-5 8-7 3-5 1-5 0-4-2-4-5-7-10-6-14-6-14-2-19-1-16 2-19 7-9 6-6 7-2 6 2 8 6 8 9 6 12 4 16 3 11 1z"/><path fill="#f6f020" d="M4803 4679l13-4 6-2 5-3 7-8 1-5-3-8-3-4-9-6-6-2-15-4-11 0-16 1-7 2-12 4-5 3-7 8-1 5 3 8 7 7 5 3 6 2 16 3 10 1z"/><path fill="#f6f020" d="M4935 4175l8-2 12-5 5-3 6-7 2-6-3-7-3-4-9-6-13-4-9-2-11 0-15 1-7 1-12 5-5 3-7 8-1 5 2 8 8 7 5 2 6 3 15 3 11 1z"/><path fill="#f6f01f" d="M4805 4678l17-6 5-3 6-8 1-5-2-7-3-4-9-6-13-4-9-2-11 0-15 1-7 2-12 4-8 7-3 4-1 6 2 7 3 3 9 6 6 3 16 3 11 1z"/><path fill="#f6f01f" d="M4937 4174l12-3 5-3 5-3 7-8 1-5-2-7-3-4-10-6-13-4-8-2-11 0-15 1-7 1-12 5-9 7-2 4-2 5 3 8 3 3 9 6 6 3 16 3 11 1z"/><path fill="#f6f21e" d="M4795 4676l12-2 6-2 6-2 7-6 4-6 0-5-2-4-3-3-9-6-6-3-17-3-10 0-8 1-13 3-11 6-3 4-3 4 0 5 2 4 7 7 11 5 8 2 9 1z"/><path fill="#f6f21e" d="M4927 4172l13-2 6-2 6-3 7-5 4-6 0-5-2-4-3-4-9-6-6-2-17-3-10 0-8 1-14 3-10 6-3 4-3 4 0 7 5 6 4 3 11 5 7 2 10 1z"/><path fill="#f7f31d" d="M4804 4672l12-5 5-3 4-5 1-5-1-4-3-4-9-6-16-4-19 0-8 1-11 5-5 3-4 5-1 5 1 4 3 4 9 6 16 4 11 1z"/><path fill="#f7f31d" d="M4936 4168l13-5 5-3 4-5 1-5-2-5-2-3-9-6-16-4-19 0-8 1-12 5-4 3-4 5-1 5 1 4 3 4 9 6 16 4 11 1z"/><path fill="#f7f41c" d="M4793 4671l15-4 10-6 4-6-1-5-2-4-9-5-7-3-8-1-12 0-16 3-10 6-3 4 0 7 3 4 3 3 6 3 8 2z"/><path fill="#f7f41c" d="M4925 4167l16-4 10-6 4-6-1-5-3-4-9-6-6-2-9-1-12 0-15 3-10 6-3 4 0 7 2 4 4 3 5 3 9 2z"/><path fill="#f7f41c" d="M4804 4666l7-4 4-3 3-5-1-3-2-4-3-3-6-3-7-2-9-1-14 1-12 5-4 3-2 3 0 5 2 4 4 3 5 3 7 2 9 1 14-1z"/><path fill="#f7f41c" d="M4936 4162l8-4 4-3 2-5 0-3-2-4-4-3-5-3-7-2-9-1-15 1-11 4-4 4-2 3-1 5 2 4 4 3 6 3 7 2 9 1 6 0z"/><path fill="#f7f51b" d="M4791 4665l12-2 6-3 3-4 2-4-2-4-4-4-5-2-7-2-10-1-8 1-6 2-6 3-3 3-1 6 1 3 4 3 11 4z"/><path fill="#f7f51b" d="M4923 4161l13-2 5-3 4-4 1-4-1-4-4-4-5-2-8-2-9-1-8 1-6 2-6 3-4 3-1 6 2 3 4 3 11 4z"/><path fill="#f7f61a" d="M4784 4663l10-1 7-1 5-3 3-4 0-5-4-4-6-2-8-2-10 0-7 2-5 3-3 4 1 5 3 4 6 2z"/><path fill="#f7f61a" d="M4917 4159l10-1 7-1 5-3 3-4-1-6-3-3-6-3-10-1-8 0-7 2-5 3-4 5 1 4 4 3 5 3z"/><path fill="#f8f61a" d="M4789 4660l9-2 5-2 2-7-3-3-6-2-10-1-9 1-6 4-1 5 4 4 5 2z"/><path fill="#f8f61a" d="M4922 4156l9-2 5-3 2-6-4-3-5-3-10-1-9 2-6 4-1 5 3 4 6 2z"/><path fill="#f8f719" d="M4783 4657l5 1 8-1 4-4 1-2-2-4-7-2-5-1-8 2-4 3-1 3 3 3z"/><path fill="#f8f719" d="M4916 4153l5 1 8-2 4-3 1-3-3-3-6-2-6-1-7 1-4 4-1 2 2 4z"/><path fill="#f8f719" d="M4788 4656l5-1 4-3 0-1-2-3-7-2-6 1-3 3-1 1 2 3z"/><path fill="#f8f719" d="M4920 4151l6-1 3-2 1-1-2-3-8-2-5 1-4 2 0 2 2 3z"/><path fill="#f8f719" d="M4784 4652l6 0 1-3-6 0z"/><path fill="#f8f719" d="M4917 4148l6 0 1-3-6 0z"/></g></g><g font-family="Liberation Sans, sans-serif" fill="#262626"><text transform="translate(476.9 549.7) scale(.94 1)" text-anchor="start" font-size="13.2" >0</text><text transform="translate(460.6 547.8) scale(.94 1)" text-anchor="end" font-size="13.2" >0</text><text transform="translate(548.2 522.3) scale(.94 1)" text-anchor="start" font-size="13.2" >0.5</text><text transform="translate(405.9 512.1) scale(.94 1)" text-anchor="end" font-size="13.2" >0.5</text><text transform="translate(620.5 495.0) scale(.94 1)" text-anchor="start" font-size="13.2" >1</text><text transform="translate(351.1 476.5) scale(.94 1)" text-anchor="end" font-size="13.2" >1</text><text transform="translate(351.7 459.5) scale(.94 1)" text-anchor="end" font-size="13.2" >0</text><text transform="translate(351.7 445.4) scale(.94 1)" text-anchor="end" font-size="13.2" >0.1</text><text transform="translate(351.7 429.7) scale(.94 1)" text-anchor="end" font-size="13.2" >0.2</text></g><text transform="translate(547.4 550.1) scale(1.12 1)" font-family="Liberation Serif, serif" font-style="italic" font-size="14" fill="#262626" text-anchor="middle">x<tspan font-style="normal" font-size="10" dy="2.5">1</tspan></text><text transform="translate(399.1 545.6) scale(1.12 1)" font-family="Liberation Serif, serif" font-style="italic" font-size="14" fill="#262626" text-anchor="middle">x<tspan font-style="normal" font-size="10" dy="2.5">2</tspan></text><defs><linearGradient id="cb" x1="0" y1="1" x2="0" y2="0"><stop offset="0.0000" stop-color="#3e26a8"/><stop offset="0.0159" stop-color="#402ab4"/><stop offset="0.0317" stop-color="#422ec0"/><stop offset="0.0476" stop-color="#4332cb"/><stop offset="0.0635" stop-color="#4537d5"/><stop offset="0.0794" stop-color="#463cde"/><stop offset="0.0952" stop-color="#4741e5"/><stop offset="0.1111" stop-color="#4747eb"/><stop offset="0.1270" stop-color="#484df0"/><stop offset="0.1429" stop-color="#4852f4"/><stop offset="0.1587" stop-color="#4758f8"/><stop offset="0.1746" stop-color="#465efb"/><stop offset="0.1905" stop-color="#4563fd"/><stop offset="0.2063" stop-color="#4269fe"/><stop offset="0.2222" stop-color="#3e6fff"/><stop offset="0.2381" stop-color="#3875fe"/><stop offset="0.2540" stop-color="#327cfc"/><stop offset="0.2698" stop-color="#2f81fa"/><stop offset="0.2857" stop-color="#2e87f7"/><stop offset="0.3016" stop-color="#2d8cf3"/><stop offset="0.3175" stop-color="#2b91ef"/><stop offset="0.3333" stop-color="#2797eb"/><stop offset="0.3492" stop-color="#259be8"/><stop offset="0.3651" stop-color="#23a0e5"/><stop offset="0.3810" stop-color="#20a5e3"/><stop offset="0.3968" stop-color="#1ca9df"/><stop offset="0.4127" stop-color="#18addb"/><stop offset="0.4286" stop-color="#12b1d6"/><stop offset="0.4444" stop-color="#08b5d0"/><stop offset="0.4603" stop-color="#01b8ca"/><stop offset="0.4762" stop-color="#02bac3"/><stop offset="0.4921" stop-color="#0bbdbd"/><stop offset="0.5079" stop-color="#19bfb6"/><stop offset="0.5238" stop-color="#24c1ae"/><stop offset="0.5397" stop-color="#2cc4a7"/><stop offset="0.5556" stop-color="#31c69f"/><stop offset="0.5714" stop-color="#37c897"/><stop offset="0.5873" stop-color="#3fca8e"/><stop offset="0.6032" stop-color="#4acb84"/><stop offset="0.6190" stop-color="#57cc7a"/><stop offset="0.6349" stop-color="#64cd6f"/><stop offset="0.6508" stop-color="#72cd64"/><stop offset="0.6667" stop-color="#81cc59"/><stop offset="0.6825" stop-color="#8fcb4e"/><stop offset="0.6984" stop-color="#9dc943"/><stop offset="0.7143" stop-color="#abc739"/><stop offset="0.7302" stop-color="#b9c431"/><stop offset="0.7460" stop-color="#c5c22a"/><stop offset="0.7619" stop-color="#d1bf27"/><stop offset="0.7778" stop-color="#dcbd29"/><stop offset="0.7937" stop-color="#e6bb2d"/><stop offset="0.8095" stop-color="#f0ba36"/><stop offset="0.8254" stop-color="#f8ba3d"/><stop offset="0.8413" stop-color="#febe3c"/><stop offset="0.8571" stop-color="#fec338"/><stop offset="0.8730" stop-color="#fec934"/><stop offset="0.8889" stop-color="#fccf30"/><stop offset="0.9048" stop-color="#fad62d"/><stop offset="0.9206" stop-color="#f7dc2a"/><stop offset="0.9365" stop-color="#f5e327"/><stop offset="0.9524" stop-color="#f5e924"/><stop offset="0.9683" stop-color="#f6ef20"/><stop offset="0.9841" stop-color="#f7f51b"/><stop offset="1.0000" stop-color="#f9fb15"/></linearGradient></defs><rect x="645.4" y="24.9" width="19.5" height="226.0" fill="url(#cb)" stroke="#262626" stroke-width="0.7"/><g font-family="Liberation Sans, sans-serif" fill="#262626"><line x1="662.60" y1="41.60" x2="664.90" y2="41.60" stroke="#262626" stroke-width="0.70"/><text transform="translate(669.2 45.3) scale(.94 1)" text-anchor="start" font-size="11.7" >2.7</text><line x1="662.60" y1="71.30" x2="664.90" y2="71.30" stroke="#262626" stroke-width="0.70"/><text transform="translate(669.2 75.0) scale(.94 1)" text-anchor="start" font-size="11.7" >2.6</text><line x1="662.60" y1="100.90" x2="664.90" y2="100.90" stroke="#262626" stroke-width="0.70"/><text transform="translate(669.2 104.6) scale(.94 1)" text-anchor="start" font-size="11.7" >2.5</text><line x1="662.60" y1="129.90" x2="664.90" y2="129.90" stroke="#262626" stroke-width="0.70"/><text transform="translate(669.2 133.6) scale(.94 1)" text-anchor="start" font-size="11.7" >2.4</text><line x1="662.60" y1="159.80" x2="664.90" y2="159.80" stroke="#262626" stroke-width="0.70"/><text transform="translate(669.2 163.5) scale(.94 1)" text-anchor="start" font-size="11.7" >2.3</text><line x1="662.60" y1="189.30" x2="664.90" y2="189.30" stroke="#262626" stroke-width="0.70"/><text transform="translate(669.2 193.0) scale(.94 1)" text-anchor="start" font-size="11.7" >2.2</text><line x1="662.60" y1="218.80" x2="664.90" y2="218.80" stroke="#262626" stroke-width="0.70"/><text transform="translate(669.2 222.5) scale(.94 1)" text-anchor="start" font-size="11.7" >2.1</text><line x1="662.60" y1="248.60" x2="664.90" y2="248.60" stroke="#262626" stroke-width="0.70"/><text transform="translate(669.2 252.3) scale(.94 1)" text-anchor="start" font-size="11.7" >2</text></g><rect x="645.4" y="339.4" width="19.5" height="225.3" fill="url(#cb)" stroke="#262626" stroke-width="0.7"/><g font-family="Liberation Sans, sans-serif" fill="#262626"><line x1="662.60" y1="349.00" x2="664.90" y2="349.00" stroke="#262626" stroke-width="0.70"/><text transform="translate(669.2 352.7) scale(.94 1)" text-anchor="start" font-size="11.7" >0.1</text><line x1="662.60" y1="373.00" x2="664.90" y2="373.00" stroke="#262626" stroke-width="0.70"/><text transform="translate(669.2 376.7) scale(.94 1)" text-anchor="start" font-size="11.7" >0.1</text><line x1="662.60" y1="397.10" x2="664.90" y2="397.10" stroke="#262626" stroke-width="0.70"/><text transform="translate(669.2 400.8) scale(.94 1)" text-anchor="start" font-size="11.7" >0.1</text><line x1="662.60" y1="420.90" x2="664.90" y2="420.90" stroke="#262626" stroke-width="0.70"/><text transform="translate(669.2 424.6) scale(.94 1)" text-anchor="start" font-size="11.7" >0.1</text><line x1="662.60" y1="445.10" x2="664.90" y2="445.10" stroke="#262626" stroke-width="0.70"/><text transform="translate(669.2 448.8) scale(.94 1)" text-anchor="start" font-size="11.7" >0.1</text><line x1="662.60" y1="469.30" x2="664.90" y2="469.30" stroke="#262626" stroke-width="0.70"/><text transform="translate(669.2 473.0) scale(.94 1)" text-anchor="start" font-size="11.7" >0.0</text><line x1="662.60" y1="493.50" x2="664.90" y2="493.50" stroke="#262626" stroke-width="0.70"/><text transform="translate(669.2 497.2) scale(.94 1)" text-anchor="start" font-size="11.7" >0.0</text><line x1="662.60" y1="517.60" x2="664.90" y2="517.60" stroke="#262626" stroke-width="0.70"/><text transform="translate(669.2 521.3) scale(.94 1)" text-anchor="start" font-size="11.7" >0.0</text><line x1="662.60" y1="541.60" x2="664.90" y2="541.60" stroke="#262626" stroke-width="0.70"/><text transform="translate(669.2 545.3) scale(.94 1)" text-anchor="start" font-size="11.7" >0.0</text></g><g font-family="Liberation Serif, serif" font-size="19.6" fill="#161616"><text x="12.3" y="17.5" textLength="153.3" lengthAdjust="spacingAndGlyphs">Exact expectation</text><text x="173.6" y="17.5" textLength="13.2" lengthAdjust="spacingAndGlyphs"><tspan font-weight="bold">E</tspan></text><text><tspan x="188.3" y="18.7" font-size="23">[</tspan><tspan x="193.2" y="17.5" font-style="italic">ℓ</tspan><tspan x="202.4" y="18.7" font-size="23">(</tspan><tspan x="208.6" y="17.5" font-style="italic">ω</tspan><tspan x="221.4" y="17.5">,</tspan><tspan x="231.5" y="17.5" font-style="italic">x</tspan><tspan x="241.8" y="20.5" font-size="13.6">1</tspan><tspan x="250.5" y="17.5">,</tspan><tspan x="259.5" y="17.5" font-style="italic">x</tspan><tspan x="269.4" y="20.5" font-size="13.6">2</tspan><tspan x="276.2" y="18.7" font-size="23">)</tspan><tspan x="282.3" y="18.7" font-size="23">]</tspan></text><text x="195.8" y="11.1" font-size="15" textLength="7" lengthAdjust="spacingAndGlyphs">¯</text></g><g font-family="Liberation Serif, serif" font-size="19.6" fill="#161616"><text x="328.0" y="17.5" textLength="191.1" lengthAdjust="spacingAndGlyphs">Estimated expectation</text><text x="527.0" y="17.5" textLength="13.2" lengthAdjust="spacingAndGlyphs"><tspan font-weight="bold">E</tspan></text><text><tspan x="541.4" y="18.7" font-size="23">[</tspan><tspan x="546.3" y="17.5" font-style="italic">ℓ</tspan><tspan x="555.5" y="18.7" font-size="23">(</tspan><tspan x="561.7" y="17.5" font-style="italic">ω</tspan><tspan x="574.5" y="17.5">,</tspan><tspan x="584.6" y="17.5" font-style="italic">x</tspan><tspan x="594.9" y="20.5" font-size="13.6">1</tspan><tspan x="603.6" y="17.5">,</tspan><tspan x="612.6" y="17.5" font-style="italic">x</tspan><tspan x="622.5" y="20.5" font-size="13.6">2</tspan><tspan x="629.3" y="18.7" font-size="23">)</tspan><tspan x="635.4" y="18.7" font-size="23">]</tspan></text></g><g font-family="Liberation Serif, serif" font-size="19.6" fill="#161616"><text x="19.0" y="366.6" textLength="124.9" lengthAdjust="spacingAndGlyphs">Exact variance</text><text x="152.3" y="366.6" textLength="29.6" lengthAdjust="spacingAndGlyphs">Var</text><text><tspan x="181.3" y="367.8" font-size="23">[</tspan><tspan x="186.2" y="366.6" font-style="italic">ℓ</tspan><tspan x="195.4" y="367.8" font-size="23">(</tspan><tspan x="201.6" y="366.6" font-style="italic">ω</tspan><tspan x="214.4" y="366.6">,</tspan><tspan x="224.5" y="366.6" font-style="italic">x</tspan><tspan x="234.8" y="369.6" font-size="13.6">1</tspan><tspan x="243.5" y="366.6">,</tspan><tspan x="252.5" y="366.6" font-style="italic">x</tspan><tspan x="262.4" y="369.6" font-size="13.6">2</tspan><tspan x="269.2" y="367.8" font-size="23">)</tspan><tspan x="275.3" y="367.8" font-size="23">]</tspan></text><text x="188.8" y="360.2" font-size="15" textLength="7" lengthAdjust="spacingAndGlyphs">¯</text></g><g font-family="Liberation Serif, serif" font-size="19.6" fill="#161616"><text x="334.8" y="366.6" textLength="162.8" lengthAdjust="spacingAndGlyphs">Estimated variance</text><text x="505.2" y="366.6" textLength="29.6" lengthAdjust="spacingAndGlyphs">Var</text><text><tspan x="534.4" y="367.8" font-size="23">[</tspan><tspan x="539.3" y="366.6" font-style="italic">ℓ</tspan><tspan x="548.5" y="367.8" font-size="23">(</tspan><tspan x="554.7" y="366.6" font-style="italic">ω</tspan><tspan x="567.5" y="366.6">,</tspan><tspan x="577.6" y="366.6" font-style="italic">x</tspan><tspan x="587.9" y="369.6" font-size="13.6">1</tspan><tspan x="596.6" y="366.6">,</tspan><tspan x="605.6" y="366.6" font-style="italic">x</tspan><tspan x="615.5" y="369.6" font-size="13.6">2</tspan><tspan x="622.3" y="367.8" font-size="23">)</tspan><tspan x="628.4" y="367.8" font-size="23">]</tspan></text></g></svg></body></html>
